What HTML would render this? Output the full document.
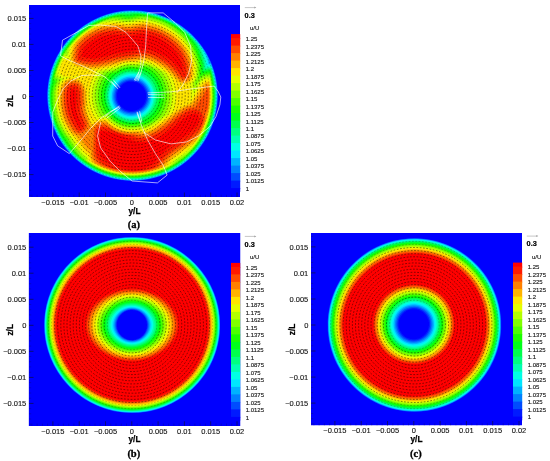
<!DOCTYPE html>
<html><head><meta charset="utf-8"><title>Figure</title>
<style>
html,body{margin:0;padding:0;background:#fff;width:550px;height:461px;overflow:hidden}
svg{display:block}
text{font-family:"Liberation Sans",sans-serif;fill:#141414;stroke:#141414;stroke-width:0.12px}
.tl text{font-size:7.5px}
.cl text{font-size:6px}
.ax{font-size:8.3px;font-weight:bold;fill:#000;stroke:#000;stroke-width:0.25px}
.cap{font-family:"Liberation Serif",serif;font-size:10.5px;font-weight:bold;fill:#000;stroke:#000;stroke-width:0.3px}
.lg{font-size:7.3px;font-weight:bold;fill:#000;stroke:#000;stroke-width:0.2px}
.uu{font-size:6px}
</style></head><body>
<svg width="550" height="461" viewBox="0 0 550 461"><defs><filter id="bl" x="-5%" y="-5%" width="110%" height="110%"><feGaussianBlur stdDeviation="0.60"/></filter></defs>
<clipPath id="ca"><rect x="29.0" y="5.0" width="211.0" height="192.0"/></clipPath>
<g clip-path="url(#ca)">
<rect x="29.0" y="5.0" width="211.0" height="192.0" fill="#0000ff"/>
<g filter="url(#bl)">
<path fill="#001aff" d="M140.5 180.6L134.5 181.0 125.5 180.8 124.0 180.5 121.0 180.3 120.0 180.0 118.0 179.8 117.0 179.5 115.5 179.4 107.5 177.3 107.0 177.0 106.0 176.9 100.5 174.8 100.0 174.5 97.0 173.3 92.0 170.9 84.5 166.3 78.5 161.8 75.0 158.8 72.1 156.0 69.2 153.0 66.2 149.5 61.7 143.5 57.2 136.0 54.7 131.0 54.0 129.0 53.6 128.5 51.2 122.0 49.1 114.5 47.7 106.0 47.1 99.5 47.2 90.0 48.2 81.5 48.5 80.5 49.2 76.5 50.2 72.5 50.5 72.0 50.6 71.0 52.1 66.5 52.5 66.0 52.7 65.0 56.3 57.0 60.2 50.0 65.2 43.0 67.6 40.0 71.8 35.5 77.5 30.2 84.0 25.3 90.5 21.2 98.5 17.2 103.5 15.2 106.0 14.5 106.5 14.2 114.0 12.2 115.5 12.0 116.0 11.7 118.0 11.5 119.0 11.2 121.5 11.0 122.5 10.7 129.5 10.2 137.0 10.2 146.0 11.2 147.0 11.5 149.0 11.7 149.5 12.0 151.0 12.2 155.0 13.1 157.0 13.7 157.5 14.0 158.5 14.2 159.0 14.5 160.0 14.7 160.5 15.0 161.5 15.2 162.0 15.5 164.0 16.2 170.5 19.1 177.0 22.6 181.0 25.3 185.0 28.2 188.0 30.6 192.5 34.8 197.8 40.5 202.8 47.0 206.3 52.5 208.7 57.0 210.5 61.0 210.9 61.5 213.4 68.0 214.4 71.0 214.5 72.0 214.8 72.5 215.8 76.5 217.3 85.0 217.9 92.0 217.8 101.5 216.8 109.5 214.8 118.5 213.3 123.5 211.8 127.5 208.3 135.0 204.3 142.0 201.9 145.5 198.8 149.5 195.8 153.0 192.9 156.0 190.0 158.8 186.5 161.8 180.5 166.3 173.0 170.9 168.0 173.3 165.0 174.5 164.5 174.8 159.0 176.9 158.0 177.0 157.5 177.3 152.0 178.8 150.5 179.0 150.0 179.3 148.0 179.5 147.0 179.8 145.0 180.0 144.0 180.3ZM134.5 110.5L137.0 109.8 139.0 108.8 141.5 106.9 142.8 105.5 143.9 104.0 145.3 101.0 145.8 99.0 146.0 96.0 145.8 93.5 145.3 91.5 143.8 88.5 141.8 86.0 139.5 84.1 136.5 82.6 133.0 81.8 130.5 81.7 128.0 82.1 126.0 82.8 123.5 84.1 121.2 86.0 119.2 88.5 117.7 91.5 117.2 93.5 117.0 96.5 117.3 99.5 118.3 102.5 119.8 105.0 122.0 107.3 124.0 108.8 126.0 109.8 129.5 110.7 132.5 110.9Z"/>
<path fill="#004cff" d="M139.0 180.5L129.5 180.7 122.0 180.1 113.5 178.6 106.0 176.6 99.5 174.1 92.0 170.5 87.0 167.6 84.0 165.6 78.0 161.1 72.5 156.0 67.0 150.0 63.8 146.0 61.4 142.5 57.5 135.9 53.9 128.5 51.4 121.5 49.3 114.0 48.4 109.0 47.8 105.0 47.3 98.0 47.5 90.5 48.4 82.0 49.4 77.0 50.4 73.0 51.9 68.0 53.4 64.0 56.8 56.5 60.9 49.5 65.9 42.5 68.4 39.5 71.5 36.2 76.5 31.4 83.5 25.9 86.5 23.9 91.5 20.9 95.5 18.9 100.0 16.9 107.0 14.3 114.5 12.3 119.5 11.4 124.0 10.8 132.5 10.4 141.0 10.8 148.5 11.9 156.5 13.9 165.0 16.9 171.5 19.9 178.5 23.9 185.5 28.9 188.5 31.4 191.8 34.5 197.0 40.0 202.1 46.5 205.1 51.0 207.1 54.5 210.6 61.5 213.6 69.5 215.6 77.0 216.6 82.0 217.2 86.5 217.6 91.5 217.7 96.0 217.6 100.0 217.2 105.0 216.1 112.0 214.1 120.0 211.1 128.5 208.0 135.0 203.6 142.5 201.2 146.0 198.0 150.0 192.5 156.0 187.0 161.1 182.5 164.6 179.5 166.6 172.0 171.1 168.0 173.0 163.0 175.1 155.5 177.6 151.5 178.6 146.5 179.6ZM133.3 112.0L136.5 111.3 139.4 110.0 142.0 108.1 144.0 106.0 145.6 103.5 146.7 100.5 147.3 97.5 147.2 94.5 146.6 91.5 145.2 88.5 143.5 86.0 141.4 84.0 139.0 82.4 136.0 81.2 133.0 80.6 129.5 80.6 126.5 81.3 123.8 82.5 121.5 84.1 119.1 86.5 117.5 89.0 116.3 92.0 115.8 95.0 115.8 98.0 116.4 101.0 117.7 104.0 119.4 106.5 121.5 108.5 124.0 110.2 127.0 111.4 130.0 112.0Z"/>
<path fill="#0080ff" d="M134.5 180.5L127.5 180.4 119.3 179.5 114.0 178.5 110.0 177.5 102.4 175.0 94.4 171.5 86.5 167.0 79.5 162.0 73.8 157.0 68.5 151.4 63.0 144.4 58.5 137.3 56.5 133.5 54.5 129.2 51.5 121.1 49.5 113.6 48.5 108.1 48.0 104.1 47.6 97.0 47.6 92.5 48.0 87.1 49.0 80.1 51.0 71.7 53.5 64.4 57.0 56.7 61.5 49.0 66.5 42.2 71.5 36.5 78.0 30.5 84.6 25.5 91.0 21.5 99.1 17.5 107.3 14.5 115.0 12.5 120.7 11.5 124.0 11.1 131.0 10.7 140.0 11.0 147.5 12.0 156.0 14.0 163.4 16.5 171.2 20.0 178.9 24.5 185.8 29.5 191.5 34.5 197.5 40.9 202.5 47.5 207.0 54.8 210.5 62.0 213.5 70.1 215.5 77.6 216.5 83.1 217.0 87.0 217.4 94.0 217.4 98.5 217.0 104.0 216.0 111.1 214.0 119.5 211.5 126.8 208.0 134.5 204.0 141.4 199.0 148.4 194.0 154.2 188.4 159.5 181.5 165.0 174.3 169.5 167.5 173.0 159.9 176.0 155.0 177.5 151.0 178.5 142.0 180.0ZM135.2 113.0L138.5 111.9 141.5 110.2 144.0 108.0 145.9 105.5 147.4 102.5 148.4 99.0 148.6 95.5 148.2 92.5 147.2 89.5 145.5 86.5 143.4 84.0 140.9 82.0 138.0 80.5 134.5 79.5 131.0 79.2 128.0 79.6 125.0 80.5 122.0 82.1 119.5 84.1 117.2 87.0 115.6 90.0 114.6 93.5 114.4 97.0 114.8 100.0 115.8 103.0 117.5 106.1 119.5 108.5 122.5 110.8 125.5 112.3 128.5 113.1 132.0 113.4Z"/>
<path fill="#00b2ff" d="M138.5 180.0L130.0 180.2 121.4 179.5 113.2 178.0 106.1 176.0 98.3 173.0 90.4 169.0 83.4 164.5 77.0 159.5 71.0 153.7 65.5 147.3 60.5 140.1 56.5 132.8 53.0 124.6 50.5 116.6 49.0 109.4 48.0 101.0 47.9 93.0 48.5 85.0 50.0 76.7 51.0 72.8 52.5 68.0 55.5 60.5 59.5 52.8 64.0 45.9 69.0 39.7 75.0 33.5 81.6 28.0 89.0 23.0 95.5 19.5 102.4 16.5 110.0 14.0 114.1 13.0 119.3 12.0 127.0 11.2 135.0 11.0 143.0 11.6 150.9 13.0 155.0 14.0 159.8 15.5 167.4 18.5 175.1 22.5 182.1 27.0 188.3 32.0 194.5 38.0 199.5 43.9 204.0 50.3 208.0 57.4 208.8 59.5 209.5 63.0 210.5 63.1 211.0 64.0 212.5 68.0 214.0 72.8 215.0 76.7 216.0 81.8 217.0 90.5 217.1 98.5 216.5 106.0 215.0 114.5 214.0 118.4 212.5 123.2 209.5 130.7 206.0 137.6 201.5 144.6 196.5 151.0 190.7 157.0 184.3 162.5 177.9 167.0 173.7 169.5 169.9 171.5 161.8 175.0 153.8 177.5 146.9 179.0ZM134.2 114.5L137.5 113.7 141.0 112.1 144.0 109.8 146.5 107.0 148.2 104.0 149.4 100.5 149.9 97.0 149.7 93.5 148.8 90.0 147.4 87.0 145.2 84.0 142.5 81.6 139.5 79.7 136.0 78.5 132.5 77.9 129.0 78.1 125.5 78.9 122.0 80.5 119.0 82.8 116.6 85.5 114.8 88.5 113.6 92.0 113.1 95.5 113.3 99.0 114.2 102.5 115.6 105.5 117.7 108.5 120.5 111.0 123.5 112.9 127.0 114.1 130.5 114.7Z"/>
<path fill="#00e6ff" d="M140.5 179.5L132.5 179.9 124.0 179.5 120.0 179.0 114.8 178.0 107.2 176.0 99.1 173.0 92.0 169.5 85.4 165.5 78.7 160.5 72.5 154.8 67.0 148.6 62.5 142.6 58.0 135.0 54.5 127.6 53.0 123.6 51.5 118.9 49.5 110.3 48.5 103.0 48.2 95.0 48.7 87.0 50.0 78.3 52.0 70.6 55.0 62.5 58.5 55.2 62.5 48.6 67.5 41.9 73.4 35.5 79.6 30.0 86.5 25.0 93.3 21.0 100.8 17.5 104.8 16.0 109.5 14.5 118.0 12.6 125.0 11.7 133.0 11.3 141.0 11.7 149.3 13.0 157.2 15.0 165.4 18.0 172.7 21.5 180.0 26.0 186.6 31.0 192.5 36.4 197.5 41.9 202.0 47.9 206.0 54.4 207.5 58.5 208.5 64.0 209.0 64.3 210.5 64.3 211.0 64.9 213.0 70.6 215.0 78.5 216.0 84.0 216.5 88.5 216.8 96.5 216.3 104.5 215.0 112.9 213.0 120.6 210.0 128.7 206.5 136.0 202.0 143.3 197.0 149.9 191.3 156.0 185.1 161.5 178.9 166.0 172.1 170.0 164.7 173.5 160.8 175.0 156.2 176.5 147.7 178.5ZM135.9 115.5L139.5 114.3 142.7 112.5 145.7 110.0 148.0 107.0 149.8 103.5 150.8 100.0 151.2 96.0 150.7 92.0 149.6 88.5 147.6 85.0 145.0 82.0 142.0 79.6 138.5 77.9 135.0 76.9 131.0 76.6 127.0 77.1 123.5 78.3 120.0 80.3 117.0 83.0 114.7 86.0 113.0 89.5 112.0 93.5 111.8 97.5 112.4 101.0 113.6 104.5 115.5 107.8 118.0 110.6 121.1 113.0 124.5 114.7 128.0 115.7 132.0 116.0Z"/>
<path fill="#00ffe5" d="M133.0 179.5L124.5 179.1 116.7 178.0 108.5 176.0 101.3 173.5 93.7 170.0 86.1 165.5 79.9 161.0 73.5 155.3 68.0 149.3 63.0 142.6 58.5 135.1 55.0 127.8 53.5 123.9 52.0 119.3 50.2 112.0 49.0 103.8 48.6 96.0 49.0 87.5 50.1 80.0 52.0 71.9 55.0 63.4 58.5 56.1 62.5 49.3 67.5 42.5 72.9 36.5 79.0 31.0 85.6 26.0 93.1 21.5 100.6 18.0 107.5 15.5 115.2 13.5 124.0 12.1 132.0 11.7 140.0 12.0 148.5 13.2 156.0 15.1 164.4 18.0 171.9 21.5 178.6 25.5 185.4 30.5 191.5 35.9 195.0 39.6 198.0 43.2 201.0 47.1 203.6 51.0 204.3 52.5 206.2 58.0 207.1 62.5 207.5 65.0 208.0 65.5 210.5 65.5 211.0 66.0 213.5 73.7 215.0 80.3 216.0 87.4 216.4 95.0 216.0 103.5 215.0 110.9 213.0 119.3 210.5 126.5 207.0 134.2 203.0 141.1 198.0 148.0 192.3 154.5 186.3 160.0 179.7 165.0 172.2 169.5 164.9 173.0 156.5 176.0 148.5 178.0 141.0 179.1ZM135.0 117.0L139.0 115.9 142.5 114.2 146.0 111.5 148.6 108.5 150.6 105.0 152.0 101.0 152.5 97.0 152.2 93.0 151.2 89.0 149.2 85.0 146.5 81.6 143.5 79.1 140.0 77.1 136.0 75.8 132.0 75.3 128.0 75.6 124.0 76.7 120.5 78.4 117.1 81.0 114.5 84.0 112.4 87.5 111.1 91.5 110.5 95.5 110.6 98.0 110.8 100.0 112.0 104.0 113.7 107.5 116.5 111.0 119.5 113.5 123.0 115.5 127.0 116.8 131.0 117.3Z"/>
<path fill="#00ffb2" d="M136.0 179.0L127.5 178.9 119.1 178.0 111.9 176.5 103.8 174.0 96.7 171.0 89.2 167.0 82.6 162.5 75.9 157.0 70.0 151.0 65.0 144.7 60.5 137.9 56.5 130.1 53.5 122.6 51.4 115.5 49.9 107.5 49.1 99.0 49.1 91.0 50.0 82.8 51.5 75.4 54.0 67.2 57.0 60.0 61.0 52.5 65.5 45.8 71.0 39.1 77.0 33.2 83.5 28.0 90.4 23.5 97.1 20.0 104.4 17.0 112.7 14.5 120.5 13.0 129.0 12.2 137.0 12.2 144.6 13.0 152.3 14.5 160.6 17.0 167.9 20.0 175.4 24.0 182.2 28.5 188.8 34.0 192.5 37.6 196.0 41.4 199.5 45.8 202.0 49.5 205.2 59.0 206.2 63.5 206.5 66.6 210.5 66.7 211.0 67.2 213.0 73.5 214.5 79.9 215.5 86.5 215.9 92.0 215.9 100.0 215.0 108.4 213.5 115.8 211.0 124.0 208.0 131.2 204.0 138.7 199.5 145.4 194.0 152.1 188.0 158.0 181.8 163.0 174.9 167.5 167.3 171.5 159.8 174.5 151.5 176.9 143.5 178.4ZM133.6 118.5L138.0 117.6 142.0 116.0 145.5 113.7 148.7 110.5 151.1 107.0 152.8 103.0 153.6 99.0 153.7 94.5 152.9 90.0 151.3 86.0 149.0 82.5 146.0 79.4 142.5 76.9 138.5 75.1 134.0 74.1 129.5 74.1 125.0 75.0 121.0 76.6 117.5 78.9 114.4 82.0 112.0 85.5 110.3 89.5 109.3 94.0 109.3 98.5 110.2 103.0 111.9 107.0 114.3 110.5 117.3 113.5 121.0 116.0 125.0 117.6 129.5 118.5Z"/>
<path fill="#00ff80" d="M137.0 178.5L129.0 178.6 121.0 177.8 113.5 176.4 105.2 174.0 97.7 171.0 91.0 167.5 84.0 163.0 77.7 158.0 72.0 152.5 66.5 146.0 62.0 139.5 58.0 132.3 55.0 125.4 52.5 117.8 50.6 109.5 49.7 101.5 49.5 93.5 50.0 86.0 51.5 77.5 53.5 70.0 56.5 62.2 60.0 55.1 64.5 48.0 69.5 41.5 75.0 35.7 81.0 30.5 88.0 25.5 95.0 21.5 103.0 18.0 110.0 15.7 117.2 14.0 125.5 12.9 133.5 12.6 141.5 13.1 150.0 14.4 157.7 16.5 165.7 19.5 172.8 23.0 180.0 27.5 186.5 32.5 190.0 35.7 193.5 39.3 197.0 43.3 199.0 46.0 201.4 51.0 204.0 58.9 205.0 64.0 205.3 68.0 205.5 68.2 208.0 67.9 210.5 67.9 211.0 68.6 212.5 73.5 214.0 79.5 214.8 85.0 215.3 90.0 215.5 98.0 214.8 106.5 213.3 114.5 211.0 122.6 208.0 130.1 204.0 137.8 199.5 144.6 194.5 150.8 188.9 156.5 182.3 162.0 175.7 166.5 168.3 170.5 161.2 173.5 153.2 176.0 145.5 177.6ZM135.8 119.5L138.0 119.0 140.5 118.1 144.5 116.0 148.2 113.0 151.1 109.5 153.2 105.5 154.6 101.0 155.1 96.5 155.0 94.0 154.6 91.5 153.2 87.0 151.4 83.5 148.6 80.0 145.0 76.9 141.0 74.7 136.5 73.2 132.0 72.7 129.5 72.8 127.0 73.1 122.5 74.5 118.5 76.6 114.9 79.5 112.0 83.0 109.8 87.0 108.4 91.5 107.9 96.0 108.3 100.5 109.6 105.0 111.6 109.0 114.5 112.7 118.0 115.7 122.0 117.9 126.5 119.4 131.0 119.9 133.5 119.8Z"/>
<path fill="#00ff4c" d="M137.0 178.0L129.0 178.1 121.0 177.3 113.5 175.9 105.2 173.5 97.8 170.5 91.0 167.0 84.2 162.5 78.0 157.6 72.2 152.0 67.0 145.8 62.5 139.3 58.5 132.2 55.5 125.3 53.0 117.8 51.2 110.0 50.2 102.0 50.0 94.0 50.5 86.0 52.0 77.5 54.0 70.1 56.5 63.4 60.1 56.0 64.0 49.5 69.0 42.9 74.5 36.9 80.5 31.5 87.4 26.5 94.0 22.6 101.5 19.1 108.9 16.5 117.0 14.5 124.0 13.6 126.5 13.9 128.5 13.9 133.0 13.1 140.0 13.4 148.0 14.5 156.1 16.5 164.5 19.5 171.8 23.0 178.5 27.1 185.1 32.0 189.0 35.4 192.6 39.0 196.0 43.0 196.9 44.5 200.1 51.0 202.8 59.0 203.9 64.5 204.1 69.5 204.5 69.7 206.5 69.3 209.0 69.2 210.5 69.2 210.7 69.5 212.0 73.4 213.4 79.0 214.2 84.0 214.8 89.0 215.0 97.0 214.5 105.1 213.1 113.5 211.0 121.1 208.0 129.0 204.5 136.0 200.0 143.1 194.6 150.0 188.8 156.0 182.2 161.5 175.6 166.0 168.2 170.0 161.2 173.0 153.2 175.5 145.5 177.1ZM134.6 121.0L137.0 120.6 139.5 119.9 142.0 118.9 144.0 117.8 147.9 115.0 151.3 111.5 154.2 107.0 156.0 102.5 156.6 100.0 156.9 97.5 157.0 95.0 156.8 92.5 156.3 90.0 155.6 87.5 154.6 85.0 153.5 83.0 152.2 81.0 150.5 79.0 147.0 75.9 143.1 73.5 139.0 72.0 137.0 72.0 132.5 71.4 128.5 71.6 124.0 72.6 121.5 73.5 119.5 74.5 115.5 77.2 113.6 79.0 111.9 81.0 109.3 85.0 108.2 87.5 107.5 89.7 107.0 92.0 106.7 94.5 106.6 97.0 106.8 99.5 107.8 104.0 108.8 106.5 109.8 108.5 112.6 112.5 114.5 114.5 116.3 116.0 118.4 117.5 120.5 118.6 125.0 120.3 127.5 120.9 130.0 121.2Z"/>
<path fill="#00ff1a" d="M137.0 177.5L129.0 177.6 121.5 176.9 113.9 175.5 106.5 173.4 99.0 170.5 92.1 167.0 85.5 162.8 79.3 158.0 73.5 152.6 68.5 146.9 65.9 143.5 63.9 140.0 62.0 137.5 60.0 134.0 56.5 126.5 54.0 119.4 52.0 111.5 50.9 104.0 50.5 96.5 50.8 88.5 51.0 86.3 52.2 82.5 51.8 81.5 51.9 80.5 53.5 73.5 56.0 66.0 59.1 59.0 63.0 52.0 67.5 45.5 72.7 39.5 78.3 34.0 84.5 29.1 90.7 25.0 97.5 21.4 105.0 18.3 112.7 16.0 120.5 14.5 126.5 15.2 128.5 15.2 135.5 13.9 138.5 13.8 146.0 14.7 153.5 16.3 161.5 18.9 168.7 22.0 175.9 26.0 183.0 31.0 188.3 35.5 192.1 39.5 195.4 44.5 198.5 50.5 199.3 52.5 201.9 60.5 202.7 65.0 202.8 71.0 203.0 71.4 206.5 70.6 210.5 70.5 211.5 73.5 212.6 78.0 213.5 82.5 214.1 87.0 214.5 95.0 214.1 103.5 213.0 111.5 211.0 119.5 208.0 127.7 204.5 134.9 200.0 142.2 195.0 148.7 189.5 154.6 183.3 160.0 176.2 165.0 169.1 169.0 161.1 172.5 153.1 175.0 145.5 176.6ZM136.6 122.0L141.5 120.8 144.0 119.7 146.5 118.4 149.0 116.6 150.9 115.0 152.8 113.0 154.3 111.0 155.9 108.5 157.1 106.0 158.0 103.5 158.7 101.0 159.2 96.0 159.1 93.0 158.7 90.5 158.1 88.0 157.2 85.5 156.1 83.0 154.5 80.4 153.0 78.5 151.0 76.3 148.9 74.5 146.5 72.8 143.5 71.2 141.0 70.3 140.0 70.3 137.5 70.7 134.0 70.2 131.0 70.1 126.5 70.6 121.7 72.0 119.5 73.0 117.0 74.5 115.5 75.0 112.5 77.9 110.1 81.0 108.3 84.0 107.4 86.0 106.5 88.5 105.8 91.0 105.5 93.5 105.3 96.0 105.4 99.0 105.8 101.5 106.5 104.0 107.4 106.5 108.5 108.8 109.8 111.0 113.0 114.9 115.0 116.7 117.0 118.1 119.0 119.3 121.5 120.5 124.0 121.4 126.5 122.0 129.0 122.4 131.5 122.5 134.0 122.4Z"/>
<path fill="#1aff00" d="M136.0 177.0L127.5 176.9 119.2 176.0 111.5 174.3 103.5 171.8 96.1 168.5 89.0 164.5 82.0 159.6 75.7 154.0 71.9 150.0 68.5 145.3 67.0 143.0 65.2 139.5 63.2 137.0 59.6 131.5 58.0 128.6 57.0 126.3 54.4 119.0 52.5 111.0 51.3 102.5 51.0 94.5 51.3 91.0 51.9 87.5 53.0 84.0 53.8 82.0 53.7 81.5 52.5 80.0 53.0 77.7 54.1 73.5 55.5 69.0 58.5 61.5 62.5 53.9 67.0 47.1 72.0 41.0 78.0 35.0 84.8 29.5 91.8 25.0 95.5 23.0 99.7 21.0 107.5 18.0 112.5 16.6 117.5 15.5 124.0 16.1 126.0 16.4 128.5 16.5 135.5 15.2 140.5 14.5 147.5 15.5 154.0 17.0 160.3 19.0 166.4 21.5 172.5 24.6 178.7 28.5 184.0 32.5 187.5 36.0 191.0 40.1 194.0 44.5 197.9 52.5 200.4 60.0 201.3 64.0 201.5 66.5 201.5 73.0 202.0 73.3 204.5 72.4 207.0 72.0 210.0 71.8 210.5 72.0 212.2 78.5 213.3 85.0 213.9 91.5 214.0 98.0 213.4 105.5 212.0 113.5 210.0 120.8 207.5 127.5 204.0 134.7 200.2 141.0 195.5 147.3 190.5 152.8 184.9 158.0 179.0 162.5 172.7 166.5 165.7 170.0 158.0 173.0 151.0 175.0 143.5 176.3ZM135.5 123.5L139.5 122.6 142.0 122.9 143.0 122.7 145.5 121.6 148.0 120.2 152.1 117.0 155.4 113.5 158.0 109.5 160.0 105.0 161.2 100.0 161.5 95.0 161.1 90.5 159.9 86.0 157.9 81.5 155.2 77.5 151.9 74.0 148.0 71.0 143.5 68.7 139.5 69.1 137.5 69.4 134.5 69.0 132.0 68.8 129.0 68.9 126.5 69.3 122.0 70.5 119.0 71.8 116.5 73.2 112.6 74.5 109.4 78.0 108.0 80.0 106.6 82.5 104.8 87.0 103.8 91.5 103.5 95.0 103.6 98.5 104.2 102.0 105.0 105.0 106.5 108.5 108.2 111.5 112.0 115.7 114.5 117.9 117.0 119.7 120.0 121.3 123.0 122.5 126.0 123.2 129.0 123.7 132.5 123.8Z"/>
<path fill="#4cff00" d="M134.5 176.5L126.5 176.3 118.5 175.3 110.6 173.5 103.1 171.0 96.0 167.8 89.0 163.8 82.5 159.2 76.5 154.0 75.3 152.5 68.5 142.6 66.6 139.0 64.5 136.5 60.8 131.0 58.0 126.0 55.6 120.5 53.6 113.0 52.5 106.6 52.3 104.0 52.3 93.0 52.6 91.0 53.4 87.0 54.4 84.0 55.5 81.5 55.5 81.0 53.5 78.7 53.6 77.5 56.1 69.0 57.6 65.0 59.5 60.7 63.5 53.3 66.0 49.5 68.6 46.0 74.2 39.5 80.6 33.5 87.3 28.5 94.8 24.0 102.5 20.4 106.5 19.0 111.0 17.6 113.5 16.9 117.5 16.8 124.0 17.4 126.0 17.8 129.0 17.8 135.5 16.5 139.5 15.9 144.5 15.8 149.5 16.5 157.0 18.5 163.5 20.8 169.2 23.5 174.3 26.5 179.5 30.4 183.5 33.8 186.2 36.5 187.7 38.5 189.6 40.5 193.0 45.5 196.1 51.5 199.0 60.0 200.2 66.0 200.2 75.5 200.5 75.7 203.5 74.2 207.0 73.4 210.0 73.3 210.5 74.0 212.0 80.5 213.0 87.3 213.4 94.0 213.3 100.5 212.5 108.0 211.0 115.3 209.0 122.0 206.0 129.5 202.5 136.2 198.5 142.5 193.7 148.5 188.5 154.0 182.8 159.0 176.5 163.5 170.5 167.1 163.5 170.4 156.5 172.9 149.5 174.7 142.0 176.0ZM133.9 125.0L136.5 124.7 139.5 124.0 143.0 124.3 145.0 123.9 146.5 123.4 149.4 122.0 152.0 120.3 154.1 118.5 156.0 116.5 157.6 114.5 159.3 112.0 160.7 109.5 161.8 107.0 163.3 102.0 163.9 97.0 163.7 91.5 162.6 86.5 161.7 84.0 160.5 81.3 159.2 79.0 157.5 76.5 154.0 72.6 152.0 70.9 149.5 69.1 146.6 67.5 145.5 67.2 143.5 67.2 137.5 68.1 132.0 67.5 129.0 67.6 126.5 67.9 122.0 69.1 119.0 70.4 116.0 72.0 110.0 73.8 109.0 74.7 107.1 77.0 104.6 81.0 102.9 85.0 101.6 89.5 101.2 92.5 101.0 95.5 101.2 98.5 101.6 101.5 102.3 104.5 103.4 107.5 104.8 110.5 106.3 113.0 107.0 113.4 108.5 113.6 111.0 116.5 113.8 119.0 116.7 121.0 120.0 122.7 123.5 124.0 127.0 124.7 130.5 125.1Z"/>
<path fill="#80ff00" d="M140.5 175.5L133.0 175.9 125.5 175.6 118.0 174.6 111.0 173.0 104.5 170.9 97.7 168.0 91.2 164.5 85.1 160.5 84.0 159.2 81.1 157.0 78.5 154.2 70.0 142.0 68.1 138.5 65.8 136.0 62.0 130.3 58.8 124.5 56.7 119.5 55.1 113.5 54.5 110.5 53.7 104.5 53.7 92.5 55.0 86.5 56.0 83.7 57.5 80.5 55.1 78.0 54.5 77.0 54.5 76.5 56.0 71.0 58.0 65.5 60.5 60.0 63.5 54.4 65.0 52.0 65.7 51.5 66.0 50.5 67.5 48.4 72.5 42.2 77.5 37.0 83.4 32.0 89.5 27.7 96.1 24.0 102.7 21.0 110.0 18.5 112.5 18.2 118.0 18.2 126.0 19.2 129.0 19.2 135.5 17.9 140.0 17.3 145.5 17.3 150.5 18.1 157.0 19.7 161.0 21.1 164.5 22.5 167.0 23.7 173.0 27.3 178.0 31.0 181.7 34.0 185.2 37.5 186.8 39.5 189.0 42.0 191.5 45.7 195.0 52.5 197.8 60.5 198.7 65.5 198.8 75.5 198.0 79.7 201.0 77.2 203.5 75.8 206.5 75.0 210.0 74.7 211.4 80.5 212.5 88.5 212.8 97.0 212.2 105.5 210.8 113.5 208.5 121.5 205.5 129.1 201.5 136.8 197.0 143.5 192.0 149.6 186.0 155.5 183.0 158.0 179.0 160.7 176.2 163.0 172.1 165.5 165.0 169.1 157.0 172.1 149.0 174.2ZM136.4 126.0L139.5 125.3 143.0 125.7 145.5 125.2 147.0 124.7 151.5 122.5 158.1 118.0 161.0 114.2 163.3 110.0 165.0 105.5 166.1 101.0 166.4 98.0 166.5 95.0 166.0 89.5 164.5 84.0 163.4 81.5 162.0 78.7 160.3 76.0 158.5 73.7 156.5 71.5 154.3 69.5 149.0 66.8 146.0 65.9 143.5 65.8 137.5 66.7 131.5 66.2 128.5 66.3 126.0 66.7 123.0 67.4 120.5 68.3 115.5 70.8 107.1 73.0 104.0 77.0 101.8 81.0 100.0 85.5 98.9 90.5 98.6 93.5 98.5 96.5 98.7 99.5 99.2 102.5 100.0 105.5 101.0 108.5 102.4 111.5 103.9 114.0 104.5 114.3 107.9 115.0 111.0 118.3 114.0 120.8 117.5 122.9 121.0 124.5 124.5 125.6 128.5 126.3 132.5 126.4Z"/>
<path fill="#b3ff00" d="M139.5 175.0L132.5 175.3 125.5 175.0 118.5 174.1 112.0 172.6 105.2 170.5 99.0 167.9 92.5 164.6 86.9 161.0 86.3 160.5 85.3 158.0 82.5 156.0 79.7 153.0 72.3 142.5 71.0 140.5 70.0 138.5 67.0 135.2 63.5 130.0 60.7 125.0 58.2 119.5 56.4 113.0 55.1 105.0 55.2 92.5 56.0 88.0 57.0 85.0 58.4 82.0 59.8 80.0 56.8 77.0 55.6 75.0 56.3 72.0 58.3 66.5 60.2 62.0 62.5 57.4 64.5 54.0 66.6 53.5 66.8 53.0 67.6 49.5 68.2 48.5 70.9 45.0 75.8 39.5 81.3 34.5 87.2 30.0 93.6 26.0 100.7 22.5 104.5 20.9 107.0 20.2 109.5 20.1 112.5 19.6 117.5 19.6 121.0 20.1 123.5 20.2 125.5 20.6 129.5 20.6 135.5 19.3 140.0 18.7 144.5 18.6 149.5 19.3 156.5 21.1 163.5 23.6 167.0 25.4 172.5 28.7 177.5 32.4 181.2 35.5 183.7 38.0 187.6 42.5 190.3 46.5 193.7 53.0 196.4 61.0 197.4 66.5 197.4 74.5 197.2 76.5 196.5 79.2 194.6 83.0 195.4 86.5 195.5 86.6 196.9 84.0 199.1 81.0 201.2 79.0 203.5 77.6 206.5 76.6 209.5 76.3 210.0 76.9 210.5 79.1 211.8 87.5 212.2 96.0 211.7 104.5 210.4 112.5 209.4 116.5 208.1 121.0 205.0 128.8 201.0 136.4 196.5 143.1 192.2 148.5 188.0 152.8 186.5 154.0 178.3 159.5 176.0 161.2 173.2 164.0 171.5 165.1 168.0 167.0 163.6 169.0 156.0 171.8 148.0 173.8ZM135.0 127.5L139.5 126.7 141.5 127.1 143.5 127.1 146.0 126.6 147.5 126.1 152.0 123.8 161.2 117.5 163.4 115.5 165.6 111.5 167.5 107.0 168.7 102.0 169.1 98.5 169.3 95.5 169.1 92.5 168.7 89.0 167.8 85.5 166.8 82.5 165.5 79.5 163.9 76.5 160.5 71.8 159.8 71.0 158.5 70.1 157.0 69.2 149.5 65.4 146.0 64.4 143.0 64.4 137.0 65.3 131.5 64.9 128.5 65.0 126.0 65.4 123.0 66.1 120.5 66.9 115.5 69.3 111.0 70.5 104.5 72.1 103.9 72.5 102.0 75.1 99.2 80.0 97.5 84.5 96.2 89.5 95.8 93.0 95.7 96.5 95.9 99.5 96.5 103.0 97.4 106.5 98.5 109.5 100.0 112.8 101.6 115.5 107.0 116.2 110.5 119.6 113.5 122.0 117.0 124.2 121.0 125.9 124.5 126.9 128.0 127.5 131.5 127.7Z"/>
<path fill="#e5ff00" d="M138.0 174.5L131.5 174.7 125.0 174.3 118.5 173.4 112.0 172.0 105.6 170.0 99.5 167.5 93.7 164.5 88.0 161.0 86.8 157.0 86.5 156.6 84.0 154.9 81.2 152.0 73.9 141.5 71.8 138.0 68.4 134.5 64.7 129.0 62.0 124.3 59.6 119.0 58.0 113.0 57.3 109.5 56.6 104.5 56.6 94.0 56.8 92.0 57.6 88.0 58.8 84.5 60.5 81.5 62.8 79.0 60.5 77.6 58.5 75.6 57.6 74.0 57.2 72.0 57.5 70.5 58.5 67.7 61.5 60.7 63.5 56.9 65.5 55.9 68.0 55.7 68.9 50.5 69.8 47.5 73.5 42.9 78.5 37.8 84.2 33.0 90.0 28.9 96.8 25.0 102.5 22.5 107.0 21.7 109.5 21.6 113.0 21.1 118.0 21.1 121.0 21.6 123.5 21.7 125.5 22.1 129.5 22.1 136.0 20.8 140.0 20.2 144.0 20.1 149.0 20.8 156.0 22.5 162.9 25.0 166.0 26.5 171.8 30.0 176.5 33.5 180.1 36.5 182.6 39.0 184.5 41.4 186.5 43.5 189.0 47.2 192.5 54.0 195.0 61.5 195.9 66.5 195.9 75.0 195.6 77.0 195.2 78.5 194.2 80.5 192.3 83.5 193.0 88.0 193.5 93.1 199.3 83.5 200.4 82.0 202.0 80.5 204.4 79.0 207.0 78.2 209.5 78.0 209.8 79.0 211.2 87.5 211.6 96.0 211.1 104.5 209.7 113.0 207.4 121.0 204.2 129.0 200.2 136.5 195.5 143.4 191.0 148.8 185.5 152.9 175.5 159.7 171.0 164.1 170.4 165.0 169.5 165.5 162.0 169.0 154.5 171.6 146.2 173.5ZM144.0 128.5L146.0 128.2 148.0 127.5 153.0 125.0 160.0 120.3 167.4 114.5 168.1 113.5 169.4 110.5 171.0 106.0 171.9 101.5 172.3 97.0 172.2 92.0 171.4 87.0 170.1 82.5 168.2 78.0 166.0 74.0 163.5 71.7 158.0 68.0 150.0 64.0 146.0 62.9 143.0 62.9 136.0 63.9 130.5 63.6 125.5 64.2 120.5 65.5 115.5 67.7 108.5 69.6 102.5 70.8 100.8 71.5 97.5 76.5 95.1 82.0 94.1 85.0 93.4 88.0 92.7 94.0 92.9 100.0 94.0 106.0 95.0 109.0 96.2 112.0 98.9 117.0 99.5 117.2 103.5 117.2 106.5 117.7 110.7 121.5 114.5 124.2 119.0 126.5 123.5 128.0 127.0 128.7 130.5 129.0 134.5 128.9 139.0 128.2 141.5 128.6Z"/>
<path fill="#ffe500" d="M135.0 174.0L129.0 174.0 123.0 173.5 117.0 172.5 111.5 171.2 106.0 169.4 100.0 167.0 94.5 164.2 90.1 161.5 88.7 158.0 88.0 155.2 85.5 153.5 83.0 151.0 75.6 140.5 73.8 137.5 71.5 135.5 69.6 133.5 65.9 128.0 63.4 123.5 61.1 118.5 59.5 112.5 58.2 105.0 58.2 93.5 59.1 88.5 59.9 86.0 60.9 84.0 62.0 82.2 63.5 80.5 65.0 79.4 67.0 78.4 69.4 77.5 69.5 77.3 70.0 77.0 71.5 77.2 75.0 77.2 77.0 77.5 77.5 77.2 78.1 75.5 74.5 76.4 72.0 76.5 70.0 77.0 68.0 76.5 64.5 76.4 62.0 75.2 60.4 73.5 60.0 72.0 60.1 69.5 60.4 68.5 60.6 67.0 61.9 63.0 63.5 60.4 64.5 59.4 66.5 58.6 69.5 58.5 69.7 58.0 69.8 54.0 70.5 50.5 71.5 47.1 72.6 45.0 77.5 39.7 83.3 34.5 89.5 30.0 96.4 26.0 101.0 24.4 107.0 23.3 110.0 23.2 112.5 22.7 118.0 22.7 120.5 23.2 123.5 23.3 125.0 23.7 129.5 23.7 136.5 22.3 138.5 22.2 141.0 21.7 144.5 21.8 146.5 22.2 148.5 22.3 156.0 24.2 162.0 26.3 165.0 27.8 171.2 31.5 175.5 34.8 177.4 36.5 178.8 37.5 181.8 40.5 183.0 42.1 185.0 44.2 188.0 48.6 191.2 55.0 193.5 62.0 194.1 65.0 194.3 67.0 194.3 74.5 194.0 77.0 193.4 78.5 192.1 81.0 189.3 84.0 190.0 87.9 190.4 91.5 190.5 96.0 190.3 100.5 190.5 100.7 191.5 99.4 195.5 93.5 199.8 86.0 202.0 83.0 204.0 81.3 206.0 80.3 207.5 79.9 209.0 79.8 209.5 80.6 210.7 89.0 210.9 97.5 210.3 106.0 208.8 114.0 206.4 122.0 203.0 130.0 199.0 137.2 196.5 141.0 194.0 144.3 192.5 145.7 188.2 149.0 174.4 158.5 169.9 163.0 168.0 165.4 167.1 166.0 159.5 169.3 151.5 171.7 143.5 173.3ZM144.6 130.0L146.5 129.7 148.5 129.0 154.0 126.3 163.1 120.0 168.1 116.0 170.5 113.7 172.5 112.1 173.4 111.0 174.8 106.5 175.7 102.0 176.2 97.5 176.1 93.0 175.6 88.5 174.6 84.0 172.9 79.0 171.5 76.9 168.0 73.4 166.2 72.0 164.6 70.5 159.0 66.7 150.6 62.5 146.5 61.3 142.5 61.3 140.5 61.7 138.5 61.8 135.5 62.5 130.5 62.3 125.5 62.8 121.5 63.8 116.0 66.0 110.5 67.5 96.7 70.5 94.8 73.5 93.2 76.5 90.8 82.5 89.9 86.0 89.3 89.0 88.8 95.0 89.2 101.5 89.8 105.0 90.6 108.0 92.9 114.0 95.9 119.5 96.5 119.6 98.5 118.9 100.5 118.7 103.5 118.8 106.5 119.3 110.5 123.0 114.5 125.7 119.5 128.1 124.5 129.6 127.5 130.1 131.0 130.3 134.5 130.2 138.0 129.7 141.5 130.2 144.0 130.2Z"/>
<path fill="#ffb300" d="M185.0 83.5L183.0 83.6 181.5 83.3 180.0 82.8 178.7 82.0 174.1 77.5 172.6 75.5 169.0 71.9 167.5 70.9 165.5 69.0 159.5 65.0 151.5 61.0 148.5 60.0 146.5 59.6 142.5 59.6 140.5 60.0 138.5 60.1 134.0 61.0 129.5 61.1 125.0 61.6 122.0 62.3 117.5 63.8 112.5 65.0 110.0 65.8 97.5 68.5 88.5 68.5 85.0 68.0 80.0 66.7 77.0 66.2 75.0 65.2 73.6 64.0 72.5 62.5 71.7 60.5 71.4 59.0 71.5 54.5 72.8 48.5 74.2 45.0 75.7 42.5 79.7 38.5 84.4 34.5 88.5 31.5 90.0 30.7 95.5 28.0 101.0 26.2 107.5 25.0 110.0 24.9 113.0 24.4 118.0 24.4 120.5 24.9 123.0 25.0 125.0 25.4 130.0 25.4 136.5 24.0 141.5 23.4 144.0 23.4 146.5 23.9 148.5 24.0 155.5 25.8 161.5 28.0 164.5 29.5 170.0 32.8 174.5 36.1 176.0 37.6 177.9 39.0 180.5 41.6 181.9 43.5 184.0 45.7 186.8 50.0 189.5 55.5 191.8 62.5 192.6 66.5 192.6 75.0 192.0 77.6 191.0 79.6 190.0 80.9 188.8 82.0 187.5 82.8ZM140.0 173.0L133.5 173.4 127.5 173.2 121.0 172.5 115.0 171.4 109.0 169.7 102.9 167.5 96.5 164.5 92.2 162.0 91.0 159.5 90.3 157.5 89.4 153.5 87.0 151.7 84.8 149.5 83.0 147.1 78.5 140.2 77.5 139.1 76.0 136.5 73.5 135.0 70.6 132.0 67.3 127.0 65.0 123.0 62.4 117.0 61.1 112.0 60.0 105.0 59.9 93.5 60.6 89.5 61.6 86.5 63.1 83.5 65.0 81.5 68.0 79.8 70.0 79.1 72.0 78.9 76.0 79.0 78.0 79.6 80.0 80.6 82.0 82.4 83.2 84.0 85.0 87.7 86.0 91.6 86.1 99.0 86.5 100.5 86.6 102.0 86.5 104.5 86.1 107.0 86.6 110.0 87.3 112.5 90.9 123.0 91.5 123.7 92.5 124.2 93.0 124.1 95.4 122.0 98.5 120.7 100.5 120.4 104.0 120.5 106.0 120.9 106.5 121.2 110.3 124.5 114.5 127.2 117.5 128.7 121.0 130.0 124.5 130.9 128.0 131.4 132.5 131.6 137.5 131.2 141.0 131.9 144.0 131.9 147.5 131.2 149.5 130.5 154.5 128.0 164.0 121.5 169.5 117.1 171.6 115.0 174.5 112.6 180.5 108.3 182.5 107.0 186.0 105.2 188.5 104.3 190.5 103.8 193.0 100.8 197.0 94.8 200.2 89.5 201.2 87.5 203.0 84.9 204.5 83.4 205.9 82.5 207.5 82.0 209.0 81.8 210.0 89.0 210.3 97.0 209.7 105.0 208.4 112.5 206.3 120.0 203.5 127.3 200.0 134.2 196.0 140.5 193.5 142.9 187.3 147.5 175.5 155.5 173.0 157.4 168.4 162.0 167.0 163.9 164.4 166.5 158.5 168.9 152.5 170.8 146.5 172.1Z"/>
<path fill="#ff8000" d="M185.5 81.6L184.0 81.7 182.5 81.7 181.0 81.2 179.8 80.5 175.5 76.3 174.2 74.5 170.0 70.3 168.5 69.3 167.0 67.8 160.5 63.5 152.0 59.2 147.0 57.7 142.0 57.7 140.5 58.2 138.0 58.2 131.5 59.6 125.0 60.3 116.0 62.2 107.5 64.6 106.0 64.7 103.0 65.6 97.0 66.7 89.0 66.7 87.0 66.2 85.0 66.1 80.0 64.7 77.8 64.5 76.5 64.0 75.0 62.8 74.0 61.5 73.4 60.0 73.3 58.5 73.3 55.0 74.5 49.3 75.8 46.0 77.3 43.0 82.5 37.7 85.0 35.8 89.5 33.0 96.0 29.8 101.5 27.9 104.5 27.3 106.0 27.3 107.5 26.8 110.5 26.8 113.0 26.3 118.0 26.3 120.0 26.8 123.0 26.8 124.5 27.3 130.5 27.3 137.0 25.8 139.0 25.8 141.5 25.3 144.0 25.3 146.0 25.8 148.0 25.8 154.7 27.5 161.0 29.8 163.5 31.0 169.0 34.3 173.2 37.5 175.0 39.2 176.8 40.5 179.0 42.7 180.3 44.5 182.5 46.8 185.0 50.5 187.9 56.5 190.1 63.0 190.7 67.0 190.7 74.5 190.4 76.5 189.5 78.5 188.5 79.8 187.0 81.0ZM137.5 172.5L131.5 172.7 126.0 172.4 120.5 171.7 115.0 170.7 109.0 169.0 103.5 167.0 97.0 164.0 95.2 163.0 94.7 162.5 92.8 159.0 92.1 157.0 91.3 153.5 91.3 151.0 91.0 150.3 90.0 149.5 89.0 149.0 87.5 147.5 87.0 146.5 86.0 145.5 82.5 140.0 82.0 139.5 81.5 138.5 80.5 137.5 80.0 136.5 79.2 135.5 77.0 134.8 75.5 134.1 74.5 133.4 72.5 131.4 68.9 126.0 66.9 122.5 64.2 116.5 62.9 111.5 61.8 105.0 61.8 93.5 62.5 89.5 63.4 87.0 64.7 84.5 66.1 83.0 67.5 82.1 70.0 81.0 71.5 80.8 75.5 80.8 77.5 81.4 79.0 82.2 80.9 84.0 81.9 85.5 83.3 88.5 84.2 92.0 84.2 99.0 84.7 102.0 84.7 104.5 84.2 107.0 84.8 110.5 85.6 113.5 89.0 123.0 89.3 126.0 89.5 126.5 92.5 128.0 94.0 125.7 95.5 124.2 96.5 123.5 98.0 122.8 99.5 122.3 103.5 122.3 105.0 122.8 106.0 122.8 106.5 123.0 109.5 125.5 113.0 127.9 116.5 129.7 120.5 131.2 123.5 132.0 127.0 132.6 131.5 132.9 136.0 132.7 140.5 133.8 144.5 133.8 147.0 133.3 150.0 132.3 155.5 129.5 165.5 122.7 166.5 121.7 170.5 118.7 173.0 116.2 174.5 115.2 175.5 114.2 183.0 108.8 187.5 106.6 189.5 105.9 191.0 105.8 192.5 105.1 195.0 102.1 199.1 96.0 202.1 91.0 203.3 88.5 204.7 86.5 206.5 84.8 208.5 84.2 208.9 85.5 209.3 89.0 209.6 97.0 209.1 104.0 208.0 111.1 206.3 118.0 204.0 124.5 200.7 131.5 198.5 135.4 197.5 136.8 195.5 138.8 194.0 139.8 192.5 141.3 186.2 146.0 172.0 155.8 166.8 161.0 165.5 162.8 161.3 167.0 156.0 169.0 150.0 170.7 143.5 171.9Z"/>
<path fill="#ff4c00" d="M185.0 79.6L183.0 79.6 182.0 79.4 181.0 78.8 177.0 74.9 176.0 73.4 171.1 68.5 170.0 67.8 168.0 65.9 162.0 61.9 152.5 57.2 149.5 56.2 147.0 55.7 141.5 55.7 140.0 56.1 137.5 56.2 136.5 56.6 135.0 56.7 133.5 57.1 132.0 57.2 130.5 57.6 129.0 57.7 127.5 58.1 126.0 58.2 124.5 58.6 123.0 58.7 122.0 59.1 120.0 59.2 119.0 59.6 117.5 59.7 111.5 61.2 107.0 62.6 105.5 62.7 102.5 63.6 101.0 63.7 100.0 64.1 98.5 64.2 97.0 64.6 89.0 64.6 87.5 64.2 85.5 64.1 80.5 62.7 78.5 62.6 77.5 62.2 76.5 61.4 75.6 60.0 75.3 58.5 75.4 55.0 75.8 53.5 75.9 52.5 76.4 50.0 77.6 47.0 79.2 44.0 84.0 39.2 85.0 38.6 86.2 37.5 88.0 36.6 90.5 34.8 97.0 31.6 102.0 29.9 103.5 29.8 105.0 29.4 106.5 29.3 108.0 28.9 111.0 28.8 112.0 28.4 113.0 28.3 118.0 28.4 119.5 28.8 122.5 28.9 124.0 29.3 131.0 29.3 132.0 28.9 133.5 28.8 137.0 27.9 139.5 27.8 140.5 27.4 141.5 27.3 144.0 27.4 145.5 27.8 147.5 27.9 154.0 29.4 157.5 30.6 162.5 32.8 167.8 36.0 171.0 38.6 172.0 39.2 173.9 41.0 175.4 42.0 177.5 44.1 178.5 45.6 180.8 48.0 183.0 51.2 185.9 57.0 188.1 63.5 188.2 65.0 188.6 66.5 188.6 75.5 187.7 77.5 187.0 78.4 186.0 79.2ZM81.0 133.1L79.0 133.2 77.0 132.6 75.5 131.5 73.7 129.5 70.7 125.0 67.9 120.0 66.0 115.5 64.4 108.5 64.3 106.5 63.8 104.0 63.8 94.0 64.5 90.0 65.4 87.5 66.2 86.0 67.0 85.0 68.5 83.9 71.0 82.9 75.5 82.9 77.0 83.4 78.0 84.0 79.5 85.5 80.1 86.5 81.3 89.0 82.1 92.0 82.2 99.5 82.7 102.0 82.7 104.0 82.2 106.0 82.2 107.5 83.2 112.5 85.1 118.5 85.8 120.0 87.0 123.5 87.2 125.0 87.0 126.5 86.3 128.5 85.5 130.0 83.5 132.0 82.5 132.6ZM140.5 171.6L134.5 171.9 129.0 171.9 123.5 171.4 118.0 170.6 112.0 169.2 106.5 167.4 100.7 165.0 98.6 163.5 96.2 161.0 94.8 158.5 93.9 156.0 93.8 154.5 93.4 153.0 93.4 137.0 93.8 135.5 93.9 131.0 94.6 128.5 95.2 127.5 97.0 125.7 99.0 124.6 100.0 124.4 103.0 124.4 104.5 124.8 106.5 124.9 110.7 128.0 114.5 130.2 119.0 132.1 123.5 133.3 128.5 134.1 134.0 134.2 137.5 135.3 139.0 135.4 140.0 135.8 145.0 135.8 146.0 135.4 147.5 135.3 150.5 134.3 157.0 131.1 164.5 126.1 165.5 125.2 166.6 124.5 168.0 123.2 169.1 122.5 170.5 121.2 171.6 120.5 174.1 118.0 175.6 117.0 177.0 115.7 184.2 110.5 188.0 108.6 189.8 108.0 191.5 107.8 193.0 107.4 194.5 107.3 195.2 107.0 196.2 106.0 196.7 105.0 197.7 104.0 200.2 100.0 201.7 98.0 202.5 96.4 203.2 95.5 204.2 93.5 204.7 93.0 206.0 90.4 206.7 89.5 207.2 88.5 208.0 87.7 208.5 88.1 208.8 94.5 208.7 101.0 208.1 106.5 207.5 109.6 206.8 111.0 206.3 111.5 205.3 113.5 204.8 114.0 204.7 114.5 205.2 116.5 205.0 119.5 202.3 126.5 200.5 130.4 199.5 131.9 194.4 137.0 192.9 138.0 191.0 139.8 190.0 140.4 185.0 144.3 182.5 145.9 181.5 146.8 173.0 152.4 172.0 153.3 170.9 154.0 165.0 159.9 164.0 161.4 157.9 167.5 155.0 168.6 149.7 170.0 145.0 170.9Z"/>
<path fill="#ff1a00" d="M184.5 77.1L183.5 77.2 182.5 76.9 178.6 73.0 178.1 72.0 172.5 66.4 171.5 65.9 169.5 63.9 168.5 63.4 168.0 62.9 165.5 61.4 163.5 59.9 153.5 54.9 148.0 53.2 141.0 53.2 139.5 53.7 137.0 53.7 136.0 54.1 134.5 54.2 133.5 54.6 131.5 54.7 130.5 55.1 128.5 55.2 127.5 55.6 125.5 55.7 124.5 56.1 122.5 56.2 121.5 56.6 119.5 56.7 118.5 57.1 117.0 57.2 116.0 57.6 115.0 57.7 114.0 58.1 111.0 58.7 108.5 59.6 107.5 59.7 106.5 60.1 105.0 60.2 102.0 61.1 100.5 61.2 99.5 61.6 98.0 61.7 97.0 62.1 89.5 62.2 88.0 61.7 86.0 61.6 85.0 61.2 82.0 60.6 81.0 60.2 79.5 60.2 78.5 59.9 78.0 59.3 77.8 58.5 77.8 55.5 78.3 54.0 78.4 52.5 78.8 51.5 78.9 50.5 81.1 45.5 85.5 41.1 86.5 40.6 87.5 39.6 89.5 38.6 91.7 37.0 98.0 33.9 102.5 32.4 104.0 32.3 105.5 31.8 107.0 31.8 108.5 31.3 111.5 31.3 113.0 30.8 117.5 30.8 119.0 31.3 122.5 31.4 123.5 31.8 131.5 31.8 132.5 31.4 134.0 31.3 135.0 30.9 136.5 30.8 138.0 30.3 140.0 30.3 141.5 29.8 143.5 29.8 145.0 30.3 147.5 30.4 148.5 30.8 149.5 30.9 150.5 31.3 153.5 31.9 159.0 33.9 161.3 35.0 162.0 35.6 164.0 36.6 164.5 37.1 166.5 38.1 167.5 39.1 168.5 39.6 169.5 40.6 170.5 41.1 172.5 43.1 173.5 43.6 175.9 46.0 176.4 47.0 178.9 49.5 179.4 50.5 181.0 52.7 183.5 57.7 185.6 64.0 185.7 65.5 186.2 67.0 186.2 74.5 186.1 75.0 185.4 76.5ZM81.0 130.5L79.5 130.7 78.4 130.5 77.5 130.0 76.0 128.5 72.7 123.5 71.4 121.0 70.2 119.0 69.7 117.5 68.5 115.0 67.3 110.5 67.3 109.5 66.8 108.0 66.8 106.0 66.3 104.0 66.3 93.5 66.8 92.0 67.0 90.5 68.2 87.5 69.0 86.5 71.5 85.3 75.0 85.3 76.5 86.0 77.5 87.0 78.8 89.5 79.7 92.5 79.7 100.0 80.2 102.0 80.2 104.0 79.7 105.5 79.7 108.0 80.2 109.5 80.2 111.0 80.8 113.5 82.8 119.5 83.5 121.0 84.5 124.0 84.7 125.0 84.0 127.5 83.5 128.5 82.0 130.0ZM138.5 171.0L132.0 171.2 125.5 170.9 118.8 170.0 112.4 168.5 112.0 168.2 110.7 168.0 105.5 165.4 105.0 164.9 102.5 163.4 101.5 162.4 100.5 161.9 98.1 159.5 96.9 157.0 96.4 155.5 96.3 154.0 95.8 152.5 95.8 137.5 96.3 136.0 96.3 132.0 96.8 130.5 96.9 129.5 97.1 129.0 98.5 127.6 100.0 126.9 100.5 126.8 102.5 126.8 104.0 127.3 106.0 127.4 107.0 127.8 108.3 128.0 112.0 130.3 115.5 132.1 121.0 134.1 125.5 135.0 130.2 135.5 137.0 137.8 138.5 137.9 139.5 138.3 145.5 138.3 146.5 137.9 148.0 137.8 151.5 136.6 158.5 133.1 159.0 132.6 160.0 132.1 160.5 131.6 166.0 128.1 167.0 127.1 168.0 126.6 169.5 125.1 170.5 124.6 172.0 123.1 173.0 122.6 176.0 119.6 177.0 119.1 178.5 117.6 179.5 117.1 180.5 116.1 183.0 114.6 184.0 113.6 185.0 113.1 185.5 112.6 188.7 111.0 190.5 110.4 192.0 110.3 193.0 109.9 195.0 109.8 197.8 110.5 200.0 111.6 200.9 112.5 201.4 113.5 202.0 114.2 202.7 116.5 202.7 121.5 202.1 123.5 200.5 126.8 199.9 127.5 199.4 128.5 192.5 135.4 191.5 135.9 189.5 137.9 188.5 138.4 187.5 139.4 186.5 139.9 185.5 140.9 184.5 141.4 183.5 142.4 181.0 143.9 180.0 144.9 179.0 145.4 178.5 145.9 177.5 146.4 177.0 146.9 171.5 150.4 170.5 151.4 169.5 151.9 162.9 158.5 162.4 159.5 154.5 167.4 152.6 168.5 148.7 169.5 143.5 170.4Z"/>
<path fill="#ff0000" d="M182.0 71.0L181.5 70.5 181.5 70.0 174.5 63.0 174.0 63.0 171.5 60.5 171.0 60.5 170.0 59.5 169.5 59.5 168.5 58.5 168.0 58.5 167.0 57.5 166.5 57.5 165.5 56.5 165.0 56.5 164.5 56.0 164.0 56.0 163.5 55.5 163.0 55.5 162.5 55.0 162.0 55.0 161.5 54.5 161.0 54.5 160.5 54.0 160.0 54.0 159.5 53.5 159.0 53.5 158.5 53.0 158.0 53.0 157.5 52.5 157.0 52.5 156.5 52.0 156.0 52.0 155.5 51.5 151.0 50.0 150.0 50.0 149.0 49.5 140.0 49.5 139.0 50.0 136.0 50.0 135.0 50.5 133.5 50.5 132.5 51.0 130.5 51.0 129.5 51.5 127.5 51.5 126.5 52.0 124.5 52.0 123.5 52.5 121.5 52.5 120.5 53.0 118.5 53.0 117.5 53.5 116.0 53.5 115.0 54.0 114.0 54.0 113.0 54.5 112.0 54.5 111.0 55.0 110.0 55.0 107.5 56.0 106.5 56.0 105.5 56.5 104.0 56.5 103.0 57.0 102.0 57.0 101.0 57.5 99.5 57.5 98.5 58.0 97.0 58.0 96.0 58.5 90.5 58.5 89.0 58.0 87.0 58.0 86.0 57.5 85.0 57.5 84.0 57.0 83.0 57.0 82.0 56.5 81.5 56.0 82.0 55.0 82.0 53.5 82.5 52.5 82.5 51.5 83.0 51.0 83.5 49.0 84.5 47.5 88.0 44.0 88.5 44.0 90.0 42.5 90.5 42.5 91.0 42.0 91.5 42.0 92.5 41.0 93.0 41.0 94.0 40.0 94.5 40.0 95.0 39.5 95.5 39.5 96.0 39.0 96.5 39.0 97.0 38.5 97.5 38.5 98.0 38.0 98.5 38.0 99.0 37.5 103.5 36.0 105.0 36.0 106.0 35.5 108.0 35.5 109.0 35.0 112.5 35.0 114.0 34.5 117.0 34.5 118.0 35.0 121.5 35.0 122.5 35.5 132.5 35.5 133.5 35.0 135.0 35.0 136.0 34.5 137.5 34.5 138.5 34.0 141.0 34.0 142.0 33.5 143.0 33.5 144.0 34.0 146.5 34.0 147.5 34.5 148.5 34.5 149.5 35.0 150.5 35.0 151.5 35.5 152.5 35.5 155.5 36.5 156.0 37.0 158.0 37.5 158.5 38.0 159.0 38.0 160.0 39.0 160.5 39.0 161.0 39.5 161.5 39.5 162.5 40.5 163.0 40.5 163.5 41.0 164.0 41.0 165.5 42.5 166.0 42.5 167.5 44.0 168.0 44.0 170.5 46.5 171.0 46.5 172.5 48.0 173.0 48.5 173.0 49.0 176.0 52.0 176.0 52.5 177.0 53.5 177.0 54.0 178.0 55.0 178.0 55.5 179.0 57.0 179.0 57.5 179.5 58.0 179.5 58.5 180.0 59.0 182.0 65.0 182.0 66.5 182.5 67.5 182.5 70.5ZM80.0 126.9L79.5 126.9 79.1 126.5 79.0 126.0 78.1 125.0 78.0 124.5 76.1 122.0 76.0 121.5 75.6 121.0 75.0 119.5 74.1 118.5 74.0 118.0 73.6 117.5 73.5 116.5 72.1 114.0 72.0 112.5 71.6 112.0 71.5 110.5 71.1 110.0 71.0 108.0 70.6 107.5 70.5 107.0 70.5 104.5 70.1 104.0 70.0 103.5 70.0 94.5 70.1 94.0 70.5 93.5 70.6 91.5 71.0 91.0 71.1 90.0 72.0 89.1 74.0 89.0 74.9 90.0 75.0 90.5 75.4 91.0 75.5 92.5 75.9 93.0 76.0 101.5 76.4 102.0 76.5 102.5 76.4 103.5 76.0 104.0 76.0 109.5 76.4 110.0 76.5 112.5 76.9 113.0 77.0 114.5 77.4 115.0 77.5 116.0 77.9 116.5 78.0 117.5 78.4 118.0 78.5 119.0 78.9 119.5 79.0 120.5 79.9 122.0 80.0 123.0 80.4 123.5 80.5 124.5 80.9 125.0 80.5 125.5 80.4 126.5ZM138.0 170.1L137.0 170.3 134.0 170.4 133.0 170.0 130.5 170.0 129.0 169.5 127.0 169.5 126.0 169.0 125.0 169.0 124.0 168.5 123.0 168.5 117.0 166.5 116.5 166.0 114.5 165.5 114.0 165.0 112.0 164.5 111.5 164.0 111.0 164.0 110.5 163.5 110.0 163.5 109.5 163.0 109.0 163.0 108.5 162.5 108.0 162.5 107.0 161.5 106.5 161.5 105.5 160.5 105.0 160.5 103.5 159.0 103.0 159.0 101.5 157.5 100.5 156.0 100.0 154.5 100.0 153.0 99.5 151.5 99.5 138.5 100.0 137.0 100.0 133.0 100.5 131.5 100.5 131.0 101.0 130.5 101.5 130.5 103.0 131.0 105.0 131.0 106.0 131.5 107.0 131.5 108.0 132.0 109.0 132.0 110.0 132.5 111.0 132.5 112.0 133.0 113.0 133.0 115.5 134.0 116.5 134.0 118.5 134.9 121.0 135.5 121.5 136.0 123.5 136.5 124.0 137.0 124.5 137.0 126.0 138.0 128.0 138.5 128.5 139.0 136.0 141.5 137.5 141.5 138.5 142.0 146.5 142.0 147.5 141.5 149.0 141.5 153.5 140.0 154.0 139.5 154.5 139.5 156.0 138.5 156.5 138.5 158.0 137.5 158.5 137.5 160.0 136.5 160.5 136.5 161.5 135.5 162.0 135.5 163.0 134.5 163.5 134.5 164.5 133.5 165.0 133.5 166.0 132.5 166.5 132.5 167.5 131.5 168.0 131.5 169.5 130.0 170.0 130.0 172.0 128.0 172.5 128.0 174.5 126.0 175.0 126.0 178.5 122.5 179.0 122.5 181.0 120.5 181.5 120.5 183.0 119.0 183.5 119.0 184.5 118.0 185.0 118.0 186.5 116.5 187.0 116.5 188.0 115.5 188.5 115.5 190.0 114.5 191.5 114.0 193.0 114.0 194.0 113.5 194.5 113.5 195.5 114.0 196.5 114.0 197.0 114.5 197.5 114.5 198.0 115.0 198.0 115.5 198.8 116.5 199.0 117.5 199.0 121.0 198.5 122.5 198.0 123.0 198.0 123.5 197.5 124.0 197.5 124.5 196.5 125.5 196.5 126.0 190.5 132.0 190.0 132.5 189.5 132.5 187.0 135.0 186.5 135.0 185.0 136.5 184.5 136.5 183.0 138.0 182.5 138.0 181.0 139.5 180.5 139.5 179.5 140.5 179.0 140.5 177.5 142.0 177.0 142.0 176.0 143.0 175.5 143.0 174.5 144.0 174.0 144.0 173.0 145.0 172.5 145.0 171.5 146.0 171.0 146.0 170.0 147.0 169.5 147.0 168.0 148.5 167.5 148.5 159.5 156.5 159.5 157.0 159.0 157.5 152.0 164.5 151.5 164.5 150.5 165.5 150.0 165.5 149.0 166.5 148.5 166.5 148.0 167.0 147.5 167.0 147.0 167.5 146.5 167.5 146.0 168.0 145.5 168.0 145.0 168.5 144.5 168.5 144.0 169.0 141.0 170.0Z"/>
<path d="M104.9 91.3l0.3 -1.8M105.6 88.0l0.5 -1.7M106.7 84.9l0.7 -1.6M108.2 81.9l0.9 -1.5M110.0 79.1l1.1 -1.4M112.1 76.6l1.3 -1.3M114.4 74.3l1.4 -1.1M117.1 72.3l1.5 -0.9M120.0 70.7l1.6 -0.8M123.0 69.4l1.7 -0.6M126.2 68.4l1.8 -0.4M129.4 67.9l1.8 -0.1M132.7 67.7l1.8 0.1M136.0 67.9l1.8 0.3M139.3 68.5l1.7 0.5M142.4 69.5l1.7 0.7M145.4 70.9l1.6 0.9M148.3 72.6l1.5 1.1M150.9 74.6l1.3 1.2M153.2 76.9l1.2 1.4M155.3 79.5l1.0 1.5M157.1 82.3l0.8 1.6M158.5 85.3l0.6 1.7M159.5 88.5l0.4 1.8M160.1 91.7l0.2 1.8M160.4 95.0l-0.0 1.8M160.3 98.3l-0.2 1.8M159.8 101.6l-0.4 1.7M158.9 104.8l-0.6 1.7M157.6 107.8l-0.8 1.6M156.0 110.7l-1.0 1.5M154.0 113.4l-1.2 1.4M151.8 115.8l-1.3 1.2M149.3 117.9l-1.5 1.0M146.5 119.7l-1.6 0.9M143.5 121.2l-1.7 0.7M140.4 122.4l-1.7 0.5M137.2 123.1l-1.8 0.2M133.9 123.5l-1.8 0.0M130.6 123.5l-1.8 -0.2M127.3 123.0l-1.8 -0.4M124.1 122.2l-1.7 -0.6M121.0 121.1l-1.6 -0.8M118.1 119.5l-1.5 -1.0M115.4 117.7l-1.4 -1.1M112.9 115.5l-1.2 -1.3M110.7 113.0l-1.1 -1.4M108.8 110.3l-0.9 -1.6M107.2 107.4l-0.7 -1.7M106.0 104.3l-0.5 -1.7M105.1 101.1l-0.3 -1.8M104.7 97.9l-0.1 -1.8M104.6 94.6l0.1 -1.8M105.7 79.9l1.0 -1.5M107.5 77.2l1.1 -1.4M109.6 74.6l1.3 -1.3M112.0 72.3l1.4 -1.1M114.6 70.3l1.5 -1.0M117.4 68.5l1.6 -0.8M120.4 67.1l1.7 -0.7M123.5 65.9l1.7 -0.5M126.7 65.1l1.8 -0.3M129.9 64.7l1.8 -0.1M133.2 64.6l1.8 0.1M136.5 64.8l1.8 0.3M139.8 65.5l1.7 0.5M142.9 66.4l1.7 0.7M146.0 67.7l1.6 0.8M148.9 69.3l1.5 1.0M151.6 71.1l1.4 1.1M154.1 73.3l1.3 1.3M156.3 75.7l1.1 1.4M158.3 78.4l1.0 1.5M160.0 81.2l0.8 1.6M161.3 84.2l0.6 1.7M162.4 87.3l0.4 1.7M163.1 90.6l0.2 1.8M163.5 93.9l0.0 1.8M163.5 97.2l-0.1 1.8M163.1 100.4l-0.3 1.8M162.4 103.7l-0.5 1.7M161.4 106.8l-0.7 1.7M160.1 109.8l-0.9 1.6M158.4 112.7l-1.0 1.5M156.4 115.3l-1.2 1.4M154.2 117.8l-1.3 1.2M151.7 119.9l-1.4 1.1M149.0 121.8l-1.6 0.9M146.1 123.4l-1.6 0.7M143.1 124.7l-1.7 0.6M140.0 125.7l-1.8 0.4M136.7 126.3l-1.8 0.2M133.4 126.6l-1.8 0.0M130.1 126.5l-1.8 -0.2M126.8 126.1l-1.8 -0.4M123.6 125.3l-1.7 -0.6M120.5 124.2l-1.6 -0.7M117.6 122.8l-1.6 -0.9M114.8 121.0l-1.4 -1.1M112.1 119.0l-1.3 -1.2M109.8 116.7l-1.2 -1.4M107.7 114.2l-1.0 -1.5M105.8 111.4l-0.9 -1.6M104.3 108.5l-0.7 -1.7M103.1 105.4l-0.5 -1.7M102.2 102.2l-0.3 -1.8M101.7 99.0l-0.1 -1.8M101.5 95.7l0.0 -1.8M101.7 92.4l0.2 -1.8M102.2 89.1l0.4 -1.7M103.0 86.0l0.6 -1.7M104.2 82.9l0.8 -1.6M111.3 68.8l1.4 -1.1M114.0 66.9l1.5 -0.9M116.9 65.3l1.6 -0.8M119.9 63.9l1.7 -0.6M123.0 62.8l1.7 -0.5M126.2 62.1l1.8 -0.3M129.5 61.6l1.8 -0.1M132.8 61.5l1.8 0.1M136.1 61.7l1.8 0.2M139.3 62.2l1.8 0.4M142.5 63.0l1.7 0.6M145.6 64.1l1.6 0.7M148.6 65.5l1.6 0.9M151.4 67.2l1.5 1.0M154.1 69.2l1.4 1.2M156.5 71.4l1.2 1.3M158.7 73.8l1.1 1.4M160.7 76.4l1.0 1.5M162.4 79.3l0.8 1.6M163.9 82.2l0.7 1.7M165.0 85.3l0.5 1.7M165.9 88.5l0.3 1.8M166.4 91.8l0.2 1.8M166.6 95.0l-0.0 1.8M166.5 98.3l-0.2 1.8M166.1 101.6l-0.4 1.8M165.3 104.8l-0.5 1.7M164.3 107.9l-0.7 1.7M163.0 111.0l-0.9 1.6M161.3 113.8l-1.0 1.5M159.4 116.5l-1.1 1.4M157.3 119.0l-1.3 1.3M154.9 121.3l-1.4 1.1M152.3 123.4l-1.5 1.0M149.6 125.1l-1.6 0.9M146.6 126.6l-1.7 0.7M143.6 127.9l-1.7 0.5M140.4 128.8l-1.8 0.4M137.2 129.4l-1.8 0.2M133.9 129.7l-1.8 0.0M130.6 129.7l-1.8 -0.1M127.3 129.3l-1.8 -0.3M124.1 128.7l-1.7 -0.5M120.9 127.7l-1.7 -0.7M117.9 126.4l-1.6 -0.8M115.0 124.9l-1.5 -1.0M112.2 123.0l-1.4 -1.1M109.7 121.0l-1.3 -1.2M107.3 118.6l-1.2 -1.4M105.2 116.1l-1.0 -1.5M103.4 113.4l-0.9 -1.6M101.8 110.5l-0.7 -1.6M100.5 107.4l-0.6 -1.7M99.5 104.3l-0.4 -1.8M98.8 101.1l-0.2 -1.8M98.5 97.8l-0.1 -1.8M98.4 94.5l0.1 -1.8M98.7 91.2l0.3 -1.8M99.3 88.0l0.4 -1.7M100.1 84.8l0.6 -1.7M101.3 81.7l0.8 -1.6M102.8 78.8l0.9 -1.5M104.6 76.0l1.1 -1.4M106.6 73.4l1.2 -1.3M108.9 71.0l1.3 -1.2M121.6 60.0l1.7 -0.5M124.8 59.2l1.8 -0.3M128.1 58.7l1.8 -0.2M131.3 58.4l1.8 -0.0M134.6 58.5l1.8 0.1M137.9 58.8l1.8 0.3M141.1 59.4l1.7 0.5M144.3 60.3l1.7 0.6M147.4 61.5l1.6 0.8M150.3 62.9l1.6 0.9M153.2 64.6l1.5 1.0M155.8 66.6l1.4 1.2M158.3 68.8l1.3 1.3M160.6 71.1l1.1 1.4M162.6 73.7l1.0 1.5M164.4 76.5l0.9 1.6M166.0 79.4l0.7 1.6M167.3 82.4l0.6 1.7M168.3 85.5l0.4 1.7M169.1 88.7l0.3 1.8M169.5 92.0l0.1 1.8M169.7 95.3l-0.0 1.8M169.6 98.6l-0.2 1.8M169.2 101.8l-0.3 1.8M168.5 105.0l-0.5 1.7M167.5 108.2l-0.6 1.7M166.3 111.2l-0.8 1.6M164.8 114.2l-0.9 1.5M163.0 116.9l-1.1 1.4M161.0 119.5l-1.2 1.3M158.8 122.0l-1.3 1.2M156.3 124.2l-1.4 1.1M153.7 126.2l-1.5 1.0M150.9 127.9l-1.6 0.9M148.0 129.4l-1.7 0.7M144.9 130.7l-1.7 0.6M141.8 131.6l-1.8 0.4M138.6 132.3l-1.8 0.3M135.3 132.7l-1.8 0.1M132.0 132.8l-1.8 -0.1M128.7 132.6l-1.8 -0.2M125.5 132.1l-1.8 -0.4M122.3 131.4l-1.7 -0.5M119.1 130.3l-1.7 -0.7M116.1 129.0l-1.6 -0.8M113.2 127.4l-1.5 -1.0M110.5 125.6l-1.4 -1.1M107.9 123.5l-1.3 -1.2M105.6 121.3l-1.2 -1.3M103.4 118.8l-1.1 -1.4M101.5 116.1l-1.0 -1.5M99.8 113.3l-0.8 -1.6M98.3 110.3l-0.7 -1.7M97.2 107.3l-0.5 -1.7M96.3 104.1l-0.4 -1.8M95.7 100.9l-0.2 -1.8M95.3 97.6l-0.1 -1.8M95.3 94.3l0.1 -1.8M95.6 91.0l0.3 -1.8M96.1 87.8l0.4 -1.7M97.0 84.6l0.6 -1.7M98.1 81.5l0.7 -1.6M99.5 78.5l0.9 -1.6M101.1 75.6l1.0 -1.5M103.0 72.9l1.1 -1.4M105.1 70.4l1.2 -1.3M107.4 68.1l1.4 -1.2M110.0 66.0l1.5 -1.1M112.7 64.1l1.5 -0.9M115.5 62.5l1.6 -0.8M118.5 61.1l1.7 -0.6M135.5 55.4l1.8 0.2M138.8 55.8l1.8 0.3M142.0 56.4l1.7 0.5M145.2 57.3l1.7 0.6M148.3 58.5l1.6 0.7M151.2 59.9l1.6 0.9M154.1 61.6l1.5 1.0M156.8 63.4l1.4 1.1M159.3 65.5l1.3 1.2M161.7 67.8l1.2 1.3M163.9 70.3l1.1 1.4M165.8 72.9l1.0 1.5M167.6 75.7l0.9 1.6M169.1 78.6l0.7 1.6M170.3 81.7l0.6 1.7M171.3 84.8l0.4 1.7M172.1 88.0l0.3 1.8M172.6 91.2l0.2 1.8M172.8 94.5l0.0 1.8M172.7 97.8l-0.1 1.8M172.4 101.1l-0.3 1.8M171.9 104.3l-0.4 1.7M171.0 107.5l-0.6 1.7M169.9 110.6l-0.7 1.7M168.6 113.6l-0.8 1.6M167.0 116.5l-1.0 1.5M165.2 119.2l-1.1 1.4M163.1 121.8l-1.2 1.3M160.9 124.2l-1.3 1.2M158.5 126.4l-1.4 1.1M155.9 128.4l-1.5 1.0M153.1 130.2l-1.6 0.9M150.2 131.8l-1.6 0.8M147.2 133.1l-1.7 0.6M144.1 134.2l-1.7 0.5M140.9 135.0l-1.8 0.3M137.7 135.6l-1.8 0.2M134.4 135.9l-1.8 0.0M131.1 135.9l-1.8 -0.1M127.8 135.6l-1.8 -0.2M124.6 135.1l-1.8 -0.4M121.4 134.3l-1.7 -0.5M118.3 133.3l-1.7 -0.7M115.2 132.0l-1.6 -0.8M112.3 130.5l-1.5 -0.9M109.6 128.7l-1.5 -1.1M106.9 126.8l-1.4 -1.2M104.5 124.6l-1.3 -1.3M102.2 122.2l-1.2 -1.4M100.1 119.6l-1.0 -1.5M98.3 116.9l-0.9 -1.5M96.7 114.1l-0.8 -1.6M95.3 111.1l-0.7 -1.7M94.1 108.0l-0.5 -1.7M93.3 104.8l-0.4 -1.8M92.6 101.6l-0.2 -1.8M92.3 98.3l-0.1 -1.8M92.2 95.0l0.1 -1.8M92.4 91.7l0.2 -1.8M92.8 88.5l0.4 -1.8M93.5 85.3l0.5 -1.7M94.5 82.1l0.6 -1.7M95.7 79.1l0.8 -1.6M97.2 76.1l0.9 -1.6M98.9 73.3l1.0 -1.5M100.8 70.7l1.1 -1.4M103.0 68.2l1.3 -1.3M105.3 65.9l1.4 -1.2M107.8 63.7l1.4 -1.1M110.5 61.8l1.5 -0.9M113.3 60.1l1.6 -0.8M116.3 58.7l1.7 -0.7M119.3 57.5l1.7 -0.5M122.5 56.6l1.8 -0.4M125.7 55.9l1.8 -0.3M129.0 55.4l1.8 -0.1M132.2 55.3l1.8 0.0M151.3 56.5l1.6 0.8M154.2 58.0l1.5 0.9M156.9 59.7l1.5 1.0M159.6 61.7l1.4 1.2M162.1 63.8l1.3 1.3M164.4 66.2l1.2 1.3M166.5 68.7l1.1 1.4M168.5 71.3l1.0 1.5M170.2 74.1l0.9 1.6M171.7 77.0l0.7 1.6M173.0 80.0l0.6 1.7M174.1 83.1l0.5 1.7M174.9 86.3l0.3 1.8M175.5 89.6l0.2 1.8M175.8 92.8l0.1 1.8M175.9 96.1l-0.1 1.8M175.7 99.4l-0.2 1.8M175.3 102.6l-0.3 1.8M174.7 105.9l-0.5 1.7M173.8 109.0l-0.6 1.7M172.6 112.1l-0.7 1.7M171.3 115.1l-0.8 1.6M169.7 118.0l-1.0 1.5M167.9 120.7l-1.1 1.4M165.9 123.3l-1.2 1.4M163.7 125.8l-1.3 1.3M161.3 128.0l-1.4 1.2M158.8 130.1l-1.5 1.1M156.1 132.0l-1.5 0.9M153.3 133.7l-1.6 0.8M150.3 135.2l-1.7 0.7M147.3 136.4l-1.7 0.6M144.2 137.4l-1.7 0.4M141.0 138.2l-1.8 0.3M137.7 138.7l-1.8 0.2M134.5 139.0l-1.8 0.0M131.2 139.0l-1.8 -0.1M127.9 138.8l-1.8 -0.2M124.6 138.3l-1.8 -0.4M121.4 137.6l-1.7 -0.5M118.3 136.6l-1.7 -0.6M115.2 135.4l-1.6 -0.7M112.3 134.0l-1.6 -0.9M109.4 132.4l-1.5 -1.0M106.7 130.5l-1.4 -1.1M104.1 128.5l-1.3 -1.2M101.7 126.2l-1.2 -1.3M99.5 123.8l-1.1 -1.4M97.5 121.2l-1.0 -1.5M95.6 118.5l-0.9 -1.5M94.0 115.7l-0.8 -1.6M92.6 112.7l-0.7 -1.7M91.4 109.6l-0.5 -1.7M90.5 106.5l-0.4 -1.8M89.8 103.3l-0.3 -1.8M89.3 100.0l-0.1 -1.8M89.1 96.7l-0.0 -1.8M89.1 93.5l0.1 -1.8M89.4 90.2l0.3 -1.8M90.0 86.9l0.4 -1.8M90.7 83.7l0.5 -1.7M91.8 80.6l0.7 -1.7M93.0 77.6l0.8 -1.6M94.5 74.6l0.9 -1.6M96.2 71.8l1.0 -1.5M98.1 69.2l1.1 -1.4M100.2 66.6l1.2 -1.3M102.5 64.3l1.3 -1.2M104.9 62.1l1.4 -1.1M107.5 60.1l1.5 -1.0M110.3 58.3l1.6 -0.9M113.2 56.7l1.6 -0.8M116.2 55.4l1.7 -0.6M119.3 54.3l1.7 -0.5M122.4 53.4l1.8 -0.4M125.6 52.7l1.8 -0.2M128.9 52.3l1.8 -0.1M132.2 52.2l1.8 0.0M135.5 52.3l1.8 0.2M138.7 52.6l1.8 0.3M142.0 53.2l1.7 0.4M145.1 54.1l1.7 0.6M148.2 55.1l1.7 0.7M166.4 63.8l1.2 1.3M168.6 66.3l1.1 1.4M170.6 68.9l1.0 1.5M172.4 71.7l0.9 1.6M174.0 74.5l0.8 1.6M175.3 77.5l0.7 1.7M176.5 80.6l0.5 1.7M177.5 83.7l0.4 1.7M178.2 86.9l0.3 1.8M178.7 90.2l0.2 1.8M179.0 93.4l0.0 1.8M179.0 96.7l-0.1 1.8M178.8 100.0l-0.2 1.8M178.4 103.2l-0.3 1.8M177.7 106.5l-0.5 1.7M176.8 109.6l-0.6 1.7M175.7 112.7l-0.7 1.7M174.4 115.7l-0.8 1.6M172.9 118.6l-0.9 1.5M171.2 121.4l-1.0 1.5M169.3 124.1l-1.1 1.4M167.2 126.6l-1.2 1.3M164.9 129.0l-1.3 1.2M162.4 131.2l-1.4 1.1M159.9 133.2l-1.5 1.0M157.1 135.0l-1.5 0.9M154.3 136.7l-1.6 0.8M151.3 138.1l-1.7 0.7M148.3 139.3l-1.7 0.6M145.2 140.3l-1.7 0.5M142.0 141.1l-1.8 0.3M138.8 141.7l-1.8 0.2M135.5 142.0l-1.8 0.1M132.2 142.1l-1.8 -0.0M128.9 142.0l-1.8 -0.2M125.7 141.6l-1.8 -0.3M122.4 141.0l-1.7 -0.4M119.3 140.2l-1.7 -0.5M116.1 139.1l-1.7 -0.7M113.1 137.9l-1.6 -0.8M110.2 136.4l-1.6 -0.9M107.4 134.7l-1.5 -1.0M104.7 132.9l-1.4 -1.1M102.1 130.8l-1.3 -1.2M99.7 128.6l-1.3 -1.3M97.4 126.2l-1.2 -1.4M95.4 123.6l-1.1 -1.5M93.5 120.9l-1.0 -1.5M91.8 118.1l-0.8 -1.6M90.3 115.2l-0.7 -1.6M89.0 112.2l-0.6 -1.7M88.0 109.1l-0.5 -1.7M87.1 105.9l-0.4 -1.8M86.5 102.7l-0.2 -1.8M86.1 99.4l-0.1 -1.8M86.0 96.1l0.0 -1.8M86.1 92.8l0.1 -1.8M86.4 89.6l0.3 -1.8M86.9 86.3l0.4 -1.8M87.7 83.1l0.5 -1.7M88.7 80.0l0.6 -1.7M89.9 77.0l0.8 -1.6M91.3 74.0l0.9 -1.6M92.9 71.2l1.0 -1.5M94.8 68.4l1.1 -1.4M96.8 65.8l1.2 -1.4M99.0 63.4l1.3 -1.3M101.3 61.1l1.4 -1.2M103.8 59.0l1.4 -1.1M106.5 57.0l1.5 -1.0M109.3 55.3l1.6 -0.9M112.2 53.8l1.6 -0.8M115.2 52.4l1.7 -0.6M118.3 51.3l1.7 -0.5M121.4 50.4l1.8 -0.4M124.6 49.8l1.8 -0.3M127.9 49.3l1.8 -0.1M131.2 49.1l1.8 -0.0M134.4 49.1l1.8 0.1M137.7 49.4l1.8 0.2M141.0 49.9l1.8 0.4M144.2 50.6l1.7 0.5M147.3 51.5l1.7 0.6M150.4 52.7l1.6 0.7M153.4 54.0l1.6 0.8M156.2 55.6l1.5 0.9M159.0 57.4l1.5 1.1M161.6 59.4l1.4 1.2M164.1 61.5l1.3 1.2M178.5 77.1l0.6 1.7M179.7 80.3l0.5 1.7M180.6 83.4l0.4 1.8M181.3 86.7l0.3 1.8M181.8 90.0l0.2 1.8M182.1 93.3l0.1 1.8M182.1 96.6l-0.1 1.8M181.9 99.9l-0.2 1.8M181.5 103.2l-0.3 1.8M180.9 106.4l-0.4 1.7M180.1 109.6l-0.5 1.7M179.0 112.8l-0.7 1.7M177.8 115.9l-0.8 1.6M176.3 118.8l-0.9 1.6M174.7 121.7l-1.0 1.5M172.8 124.5l-1.1 1.4M170.8 127.1l-1.2 1.4M168.6 129.6l-1.3 1.3M166.3 131.9l-1.3 1.2M163.8 134.1l-1.4 1.1M161.1 136.1l-1.5 1.0M158.4 137.9l-1.6 0.9M155.5 139.6l-1.6 0.8M152.5 141.0l-1.7 0.7M149.4 142.2l-1.7 0.6M146.3 143.3l-1.7 0.5M143.0 144.1l-1.8 0.4M139.8 144.7l-1.8 0.2M136.5 145.0l-1.8 0.1M133.2 145.2l-1.8 -0.0M129.9 145.1l-1.8 -0.1M126.6 144.9l-1.8 -0.2M123.3 144.3l-1.8 -0.4M120.1 143.6l-1.7 -0.5M116.9 142.7l-1.7 -0.6M113.8 141.5l-1.7 -0.7M110.7 140.2l-1.6 -0.8M107.8 138.6l-1.5 -0.9M105.0 136.9l-1.5 -1.0M102.3 134.9l-1.4 -1.1M99.7 132.8l-1.3 -1.2M97.3 130.6l-1.2 -1.3M95.1 128.1l-1.2 -1.4M93.0 125.6l-1.1 -1.5M91.1 122.9l-1.0 -1.5M89.3 120.0l-0.9 -1.6M87.8 117.1l-0.8 -1.6M86.5 114.1l-0.6 -1.7M85.3 110.9l-0.5 -1.7M84.4 107.8l-0.4 -1.8M83.7 104.5l-0.3 -1.8M83.2 101.2l-0.2 -1.8M82.9 97.9l-0.1 -1.8M82.9 94.6l0.1 -1.8M83.1 91.3l0.2 -1.8M83.5 88.0l0.3 -1.8M84.1 84.8l0.4 -1.7M84.9 81.6l0.5 -1.7M86.0 78.4l0.7 -1.7M87.2 75.3l0.8 -1.6M88.7 72.4l0.9 -1.6M90.3 69.5l1.0 -1.5M92.2 66.7l1.1 -1.4M94.2 64.1l1.2 -1.4M96.4 61.6l1.3 -1.3M98.7 59.3l1.3 -1.2M101.2 57.1l1.4 -1.1M103.9 55.1l1.5 -1.0M106.6 53.3l1.6 -0.9M109.5 51.6l1.6 -0.8M112.5 50.2l1.7 -0.7M115.6 49.0l1.7 -0.6M118.7 47.9l1.7 -0.5M122.0 47.1l1.8 -0.4M125.2 46.5l1.8 -0.2M128.5 46.2l1.8 -0.1M131.8 46.0l1.8 0.0M135.1 46.1l1.8 0.1M138.4 46.3l1.8 0.2M141.7 46.9l1.8 0.4M144.9 47.6l1.7 0.5M148.1 48.5l1.7 0.6M151.2 49.7l1.7 0.7M154.3 51.0l1.6 0.8M157.2 52.6l1.5 0.9M160.0 54.3l1.5 1.0M162.7 56.3l1.4 1.1M165.3 58.4l1.3 1.2M167.7 60.6l1.2 1.3M169.9 63.1l1.2 1.4M172.0 65.6l1.1 1.5M173.9 68.3l1.0 1.5M175.7 71.2l0.9 1.6M177.2 74.1l0.8 1.6M185.2 95.1l-0.0 1.8M185.1 98.4l-0.1 1.8M184.9 101.7l-0.2 1.8M184.4 104.9l-0.3 1.8M183.7 108.2l-0.5 1.7M182.8 111.4l-0.6 1.7M181.7 114.5l-0.7 1.7M180.4 117.6l-0.8 1.6M178.9 120.5l-0.9 1.6M177.3 123.4l-1.0 1.5M175.5 126.1l-1.1 1.4M173.5 128.8l-1.2 1.4M171.3 131.3l-1.2 1.3M169.0 133.6l-1.3 1.2M166.5 135.9l-1.4 1.1M163.9 137.9l-1.5 1.0M161.2 139.8l-1.5 1.0M158.4 141.5l-1.6 0.9M155.4 143.1l-1.6 0.8M152.4 144.4l-1.7 0.7M149.3 145.6l-1.7 0.5M146.1 146.5l-1.7 0.4M142.9 147.3l-1.8 0.3M139.6 147.8l-1.8 0.2M136.3 148.2l-1.8 0.1M133.0 148.3l-1.8 -0.0M129.7 148.2l-1.8 -0.1M126.4 148.0l-1.8 -0.2M123.2 147.5l-1.8 -0.3M119.9 146.8l-1.7 -0.5M116.7 145.9l-1.7 -0.6M113.6 144.8l-1.7 -0.7M110.5 143.5l-1.6 -0.8M107.6 142.0l-1.6 -0.9M104.7 140.4l-1.5 -1.0M102.0 138.6l-1.4 -1.1M99.3 136.6l-1.4 -1.2M96.8 134.4l-1.3 -1.2M94.5 132.1l-1.2 -1.3M92.2 129.6l-1.1 -1.4M90.2 127.0l-1.0 -1.5M88.3 124.3l-1.0 -1.5M86.6 121.5l-0.9 -1.6M85.0 118.5l-0.8 -1.6M83.7 115.5l-0.7 -1.7M82.5 112.4l-0.5 -1.7M81.6 109.2l-0.4 -1.7M80.8 106.0l-0.3 -1.8M80.3 102.7l-0.2 -1.8M79.9 99.4l-0.1 -1.8M79.8 96.1l0.0 -1.8M79.9 92.8l0.1 -1.8M80.1 89.5l0.2 -1.8M80.6 86.3l0.3 -1.8M81.3 83.0l0.5 -1.7M82.2 79.8l0.6 -1.7M83.3 76.7l0.7 -1.7M84.6 73.6l0.8 -1.6M86.1 70.7l0.9 -1.6M87.7 67.8l1.0 -1.5M89.5 65.1l1.1 -1.4M91.5 62.4l1.2 -1.4M93.7 59.9l1.2 -1.3M96.0 57.6l1.3 -1.2M98.5 55.3l1.4 -1.1M101.1 53.3l1.5 -1.0M103.8 51.4l1.5 -1.0M106.6 49.7l1.6 -0.9M109.6 48.1l1.6 -0.8M112.6 46.8l1.7 -0.7M115.7 45.6l1.7 -0.5M118.9 44.7l1.7 -0.4M122.1 43.9l1.8 -0.3M125.4 43.4l1.8 -0.2M128.7 43.0l1.8 -0.1M132.0 42.9l1.8 0.0M135.3 43.0l1.8 0.1M138.6 43.2l1.8 0.2M141.8 43.7l1.8 0.3M145.1 44.4l1.7 0.5M148.3 45.3l1.7 0.6M151.4 46.4l1.7 0.7M154.5 47.7l1.6 0.8M157.4 49.2l1.6 0.9M160.3 50.8l1.5 1.0M163.0 52.6l1.4 1.1M165.7 54.6l1.4 1.2M168.2 56.8l1.3 1.2M170.5 59.1l1.2 1.3M172.8 61.6l1.1 1.4M174.8 64.2l1.0 1.5M176.7 66.9l1.0 1.5M178.4 69.7l0.9 1.6M180.0 72.7l0.8 1.6M181.3 75.7l0.7 1.7M182.5 78.8l0.5 1.7M183.4 82.0l0.4 1.7M184.2 85.2l0.3 1.8M184.7 88.5l0.2 1.8M185.1 91.8l0.1 1.8M184.7 115.3l-0.7 1.7M183.5 118.4l-0.8 1.6M182.0 121.3l-0.9 1.6M180.4 124.2l-0.9 1.5M178.6 127.0l-1.0 1.5M176.7 129.7l-1.1 1.4M174.6 132.2l-1.2 1.3M172.3 134.7l-1.3 1.3M170.0 137.0l-1.4 1.2M167.4 139.1l-1.4 1.1M164.8 141.1l-1.5 1.0M162.1 142.9l-1.5 0.9M159.2 144.6l-1.6 0.8M156.2 146.1l-1.6 0.7M153.2 147.4l-1.7 0.6M150.1 148.6l-1.7 0.5M146.9 149.5l-1.7 0.4M143.7 150.3l-1.8 0.3M140.5 150.8l-1.8 0.2M137.2 151.2l-1.8 0.1M133.9 151.4l-1.8 0.0M130.6 151.4l-1.8 -0.1M127.3 151.2l-1.8 -0.2M124.0 150.8l-1.8 -0.3M120.7 150.2l-1.8 -0.4M117.5 149.4l-1.7 -0.5M114.4 148.4l-1.7 -0.6M111.3 147.2l-1.7 -0.7M108.2 145.9l-1.6 -0.8M105.3 144.3l-1.6 -0.9M102.5 142.6l-1.5 -1.0M99.7 140.8l-1.4 -1.1M97.1 138.8l-1.4 -1.2M94.6 136.6l-1.3 -1.2M92.3 134.3l-1.2 -1.3M90.0 131.8l-1.1 -1.4M88.0 129.2l-1.1 -1.5M86.1 126.5l-1.0 -1.5M84.3 123.7l-0.9 -1.6M82.7 120.8l-0.8 -1.6M81.3 117.8l-0.7 -1.7M80.1 114.8l-0.6 -1.7M79.0 111.6l-0.5 -1.7M78.2 108.4l-0.4 -1.8M77.5 105.2l-0.3 -1.8M77.1 101.9l-0.2 -1.8M76.8 98.6l-0.1 -1.8M76.7 95.3l0.0 -1.8M76.8 92.0l0.1 -1.8M77.1 88.7l0.3 -1.8M77.6 85.5l0.4 -1.8M78.3 82.2l0.5 -1.7M79.2 79.0l0.6 -1.7M80.3 75.9l0.7 -1.7M81.5 72.8l0.8 -1.6M83.0 69.9l0.9 -1.6M84.6 67.0l0.9 -1.5M86.4 64.2l1.0 -1.5M88.3 61.5l1.1 -1.4M90.4 59.0l1.2 -1.3M92.7 56.5l1.3 -1.3M95.0 54.2l1.4 -1.2M97.6 52.1l1.4 -1.1M100.2 50.1l1.5 -1.0M102.9 48.3l1.5 -0.9M105.8 46.6l1.6 -0.8M108.8 45.1l1.6 -0.7M111.8 43.8l1.7 -0.6M114.9 42.6l1.7 -0.5M118.1 41.7l1.7 -0.4M121.3 40.9l1.8 -0.3M124.5 40.4l1.8 -0.2M127.8 40.0l1.8 -0.1M131.1 39.8l1.8 -0.0M134.4 39.8l1.8 0.1M137.7 40.0l1.8 0.2M141.0 40.4l1.8 0.3M144.3 41.0l1.8 0.4M147.5 41.8l1.7 0.5M150.6 42.8l1.7 0.6M153.7 44.0l1.7 0.7M156.8 45.3l1.6 0.8M159.7 46.9l1.6 0.9M162.5 48.6l1.5 1.0M165.3 50.4l1.4 1.1M167.9 52.4l1.4 1.2M170.4 54.6l1.3 1.2M172.7 56.9l1.2 1.3M175.0 59.4l1.1 1.4M177.0 62.0l1.1 1.5M178.9 64.7l1.0 1.5M180.7 67.5l0.9 1.6M182.3 70.4l0.8 1.6M183.7 73.4l0.7 1.7M184.9 76.4l0.6 1.7M186.0 79.6l0.5 1.7M186.8 82.8l0.4 1.8M187.5 86.0l0.3 1.8M187.9 89.3l0.2 1.8M188.2 92.6l0.1 1.8M188.3 95.9l-0.0 1.8M188.2 99.2l-0.1 1.8M187.9 102.5l-0.3 1.8M187.4 105.7l-0.4 1.8M186.7 109.0l-0.5 1.7M185.8 112.2l-0.6 1.7M176.3 135.0l-1.2 1.3M174.1 137.3l-1.3 1.3M171.7 139.6l-1.4 1.2M169.1 141.7l-1.4 1.1M166.5 143.7l-1.5 1.0M163.7 145.5l-1.5 0.9M160.9 147.2l-1.6 0.8M157.9 148.7l-1.6 0.8M154.9 150.1l-1.7 0.7M151.8 151.2l-1.7 0.6M148.7 152.2l-1.7 0.5M145.5 153.1l-1.8 0.4M142.2 153.7l-1.8 0.3M139.0 154.2l-1.8 0.2M135.7 154.4l-1.8 0.1M132.4 154.5l-1.8 -0.0M129.1 154.4l-1.8 -0.1M125.8 154.1l-1.8 -0.2M122.5 153.7l-1.8 -0.3M119.3 153.0l-1.7 -0.4M116.1 152.2l-1.7 -0.5M112.9 151.2l-1.7 -0.6M109.8 150.0l-1.7 -0.7M106.8 148.6l-1.6 -0.8M103.9 147.1l-1.6 -0.9M101.0 145.4l-1.5 -1.0M98.3 143.6l-1.4 -1.1M95.7 141.6l-1.4 -1.1M93.1 139.4l-1.3 -1.2M90.8 137.2l-1.3 -1.3M88.5 134.8l-1.2 -1.4M86.4 132.2l-1.1 -1.4M84.4 129.6l-1.0 -1.5M82.6 126.8l-0.9 -1.5M80.9 124.0l-0.8 -1.6M79.4 121.0l-0.8 -1.6M78.0 118.0l-0.7 -1.7M76.9 114.9l-0.6 -1.7M75.9 111.8l-0.5 -1.7M75.0 108.6l-0.4 -1.8M74.4 105.3l-0.3 -1.8M73.9 102.1l-0.2 -1.8M73.7 98.8l-0.1 -1.8M73.6 95.5l0.0 -1.8M73.7 92.2l0.1 -1.8M74.0 88.9l0.2 -1.8M74.4 85.6l0.3 -1.8M75.1 82.4l0.4 -1.7M75.9 79.2l0.5 -1.7M76.9 76.0l0.6 -1.7M78.1 72.9l0.7 -1.7M79.5 69.9l0.8 -1.6M81.0 67.0l0.9 -1.6M82.7 64.1l1.0 -1.5M84.5 61.4l1.1 -1.4M86.5 58.8l1.1 -1.4M88.7 56.2l1.2 -1.3M90.9 53.9l1.3 -1.3M93.3 51.6l1.4 -1.2M95.9 49.5l1.4 -1.1M98.5 47.5l1.5 -1.0M101.3 45.7l1.5 -0.9M104.1 44.0l1.6 -0.8M107.1 42.5l1.6 -0.8M110.1 41.1l1.7 -0.7M113.2 40.0l1.7 -0.6M116.3 39.0l1.7 -0.5M119.5 38.1l1.8 -0.4M122.8 37.5l1.8 -0.3M126.0 37.0l1.8 -0.2M129.3 36.8l1.8 -0.1M132.6 36.7l1.8 0.0M135.9 36.8l1.8 0.1M139.2 37.1l1.8 0.2M142.5 37.5l1.8 0.3M145.7 38.2l1.7 0.4M148.9 39.0l1.7 0.5M152.1 40.0l1.7 0.6M155.2 41.2l1.7 0.7M158.2 42.6l1.6 0.8M161.1 44.1l1.6 0.9M164.0 45.8l1.5 1.0M166.7 47.6l1.4 1.1M169.3 49.6l1.4 1.1M171.9 51.8l1.3 1.2M174.2 54.0l1.3 1.3M176.5 56.4l1.2 1.4M178.6 59.0l1.1 1.4M180.6 61.6l1.0 1.5M182.4 64.4l0.9 1.5M184.1 67.2l0.8 1.6M185.6 70.2l0.8 1.6M187.0 73.2l0.7 1.7M188.1 76.3l0.6 1.7M189.1 79.4l0.5 1.7M190.0 82.6l0.4 1.8M190.6 85.9l0.3 1.8M191.1 89.1l0.2 1.8M191.3 92.4l0.1 1.8M191.4 95.7l-0.0 1.8M191.3 99.0l-0.1 1.8M191.0 102.3l-0.2 1.8M190.6 105.6l-0.3 1.8M189.9 108.8l-0.4 1.7M189.1 112.0l-0.5 1.7M188.1 115.2l-0.6 1.7M186.9 118.3l-0.7 1.7M185.5 121.3l-0.8 1.6M184.0 124.2l-0.9 1.6M182.3 127.1l-1.0 1.5M180.5 129.8l-1.1 1.4M178.5 132.4l-1.1 1.4M160.5 150.9l-1.6 0.8M157.5 152.3l-1.7 0.7M154.5 153.6l-1.7 0.6M151.3 154.7l-1.7 0.5M148.2 155.6l-1.7 0.4M145.0 156.3l-1.8 0.3M141.7 156.9l-1.8 0.2M138.4 157.3l-1.8 0.1M135.1 157.6l-1.8 0.1M131.8 157.6l-1.8 -0.0M128.5 157.5l-1.8 -0.1M125.2 157.2l-1.8 -0.2M122.0 156.7l-1.8 -0.3M118.7 156.1l-1.7 -0.4M115.5 155.2l-1.7 -0.5M112.4 154.3l-1.7 -0.6M109.3 153.1l-1.7 -0.7M106.3 151.8l-1.6 -0.8M103.3 150.3l-1.6 -0.9M100.5 148.7l-1.5 -1.0M97.7 146.9l-1.5 -1.0M95.0 145.0l-1.4 -1.1M92.4 142.9l-1.4 -1.2M90.0 140.7l-1.3 -1.3M87.6 138.4l-1.2 -1.3M85.4 135.9l-1.2 -1.4M83.3 133.4l-1.1 -1.4M81.4 130.7l-1.0 -1.5M79.6 127.9l-0.9 -1.5M77.9 125.1l-0.8 -1.6M76.4 122.1l-0.7 -1.6M75.1 119.1l-0.7 -1.7M73.9 116.0l-0.6 -1.7M72.9 112.9l-0.5 -1.7M72.1 109.7l-0.4 -1.8M71.4 106.4l-0.3 -1.8M71.0 103.2l-0.2 -1.8M70.6 99.9l-0.1 -1.8M70.5 96.6l-0.0 -1.8M70.5 93.3l0.1 -1.8M70.7 90.0l0.2 -1.8M71.1 86.7l0.3 -1.8M71.7 83.5l0.4 -1.8M72.4 80.2l0.5 -1.7M73.3 77.1l0.6 -1.7M74.4 73.9l0.7 -1.7M75.6 70.9l0.7 -1.6M77.0 67.9l0.8 -1.6M78.6 65.0l0.9 -1.6M80.3 62.1l1.0 -1.5M82.1 59.4l1.1 -1.4M84.1 56.8l1.1 -1.4M86.3 54.3l1.2 -1.3M88.5 51.9l1.3 -1.3M90.9 49.6l1.4 -1.2M93.4 47.4l1.4 -1.1M96.1 45.4l1.5 -1.0M98.8 43.6l1.5 -1.0M101.6 41.8l1.6 -0.9M104.5 40.3l1.6 -0.8M107.5 38.9l1.7 -0.7M110.5 37.6l1.7 -0.6M113.7 36.5l1.7 -0.5M116.8 35.6l1.7 -0.4M120.0 34.9l1.8 -0.3M123.3 34.3l1.8 -0.2M126.6 33.9l1.8 -0.1M129.9 33.6l1.8 -0.1M133.2 33.6l1.8 0.0M136.5 33.7l1.8 0.1M139.8 34.0l1.8 0.2M143.0 34.5l1.8 0.3M146.3 35.1l1.7 0.4M149.5 36.0l1.7 0.5M152.6 36.9l1.7 0.6M155.7 38.1l1.7 0.7M158.7 39.4l1.6 0.8M161.7 40.9l1.6 0.9M164.5 42.5l1.5 1.0M167.3 44.3l1.5 1.0M170.0 46.2l1.4 1.1M172.6 48.3l1.4 1.2M175.0 50.5l1.3 1.3M177.4 52.8l1.2 1.3M179.6 55.3l1.2 1.4M181.7 57.8l1.1 1.4M183.6 60.5l1.0 1.5M185.4 63.3l0.9 1.5M187.1 66.1l0.8 1.6M188.6 69.1l0.7 1.6M189.9 72.1l0.7 1.7M191.1 75.2l0.6 1.7M192.1 78.3l0.5 1.7M192.9 81.5l0.4 1.8M193.6 84.8l0.3 1.8M194.0 88.0l0.2 1.8M194.4 91.3l0.1 1.8M194.5 94.6l0.0 1.8M194.5 97.9l-0.1 1.8M194.3 101.2l-0.2 1.8M193.9 104.5l-0.3 1.8M193.3 107.7l-0.4 1.8M192.6 111.0l-0.5 1.7M191.7 114.1l-0.6 1.7M190.6 117.3l-0.7 1.7M189.4 120.3l-0.7 1.6M188.0 123.3l-0.8 1.6M186.4 126.2l-0.9 1.6M184.7 129.1l-1.0 1.5M182.9 131.8l-1.1 1.4M180.9 134.4l-1.1 1.4M178.7 136.9l-1.2 1.3M176.5 139.3l-1.3 1.3M174.1 141.6l-1.4 1.2M171.6 143.8l-1.4 1.1M168.9 145.8l-1.5 1.0M166.2 147.6l-1.5 1.0M163.4 149.4l-1.6 0.9M138.9 160.4l-1.8 0.2M135.6 160.6l-1.8 0.1M132.3 160.7l-1.8 -0.0M129.0 160.6l-1.8 -0.1M125.7 160.3l-1.8 -0.2M122.4 159.9l-1.8 -0.3M119.2 159.3l-1.8 -0.4M116.0 158.6l-1.7 -0.5M112.8 157.7l-1.7 -0.6M109.7 156.6l-1.7 -0.7M106.6 155.3l-1.6 -0.7M103.6 154.0l-1.6 -0.8M100.7 152.4l-1.6 -0.9M97.9 150.7l-1.5 -1.0M95.1 148.9l-1.5 -1.1M92.5 146.9l-1.4 -1.1M89.9 144.8l-1.3 -1.2M87.5 142.6l-1.3 -1.3M85.2 140.3l-1.2 -1.3M83.0 137.8l-1.1 -1.4M80.9 135.3l-1.1 -1.4M78.9 132.6l-1.0 -1.5M77.1 129.8l-0.9 -1.5M75.5 127.0l-0.8 -1.6M73.9 124.1l-0.8 -1.6M72.6 121.1l-0.7 -1.7M71.4 118.0l-0.6 -1.7M70.3 114.9l-0.5 -1.7M69.4 111.7l-0.4 -1.8M68.7 108.5l-0.3 -1.8M68.1 105.2l-0.2 -1.8M67.7 102.0l-0.2 -1.8M67.5 98.7l-0.1 -1.8M67.4 95.4l0.0 -1.8M67.5 92.1l0.1 -1.8M67.8 88.8l0.2 -1.8M68.2 85.5l0.3 -1.8M68.8 82.3l0.4 -1.8M69.5 79.1l0.5 -1.7M70.4 75.9l0.6 -1.7M71.5 72.8l0.7 -1.7M72.8 69.7l0.7 -1.6M74.1 66.7l0.8 -1.6M75.7 63.8l0.9 -1.6M77.4 61.0l1.0 -1.5M79.2 58.2l1.1 -1.5M81.2 55.6l1.1 -1.4M83.3 53.0l1.2 -1.3M85.5 50.6l1.3 -1.3M87.8 48.3l1.3 -1.2M90.3 46.1l1.4 -1.1M92.8 44.0l1.4 -1.1M95.5 42.0l1.5 -1.0M98.3 40.2l1.5 -0.9M101.1 38.6l1.6 -0.8M104.0 37.0l1.6 -0.8M107.0 35.7l1.7 -0.7M110.1 34.5l1.7 -0.6M113.2 33.4l1.7 -0.5M116.4 32.5l1.8 -0.4M119.6 31.8l1.8 -0.3M122.9 31.2l1.8 -0.2M126.1 30.8l1.8 -0.2M129.4 30.6l1.8 -0.1M132.7 30.5l1.8 0.0M136.0 30.6l1.8 0.1M139.3 30.9l1.8 0.2M142.6 31.3l1.8 0.3M145.8 31.9l1.8 0.4M149.0 32.6l1.7 0.5M152.2 33.5l1.7 0.6M155.3 34.6l1.7 0.7M158.4 35.9l1.6 0.7M161.4 37.2l1.6 0.8M164.3 38.8l1.6 0.9M167.1 40.5l1.5 1.0M169.9 42.3l1.5 1.1M172.5 44.3l1.4 1.1M175.1 46.4l1.3 1.2M177.5 48.6l1.3 1.3M179.8 50.9l1.2 1.3M182.0 53.4l1.1 1.4M184.1 55.9l1.1 1.4M186.1 58.6l1.0 1.5M187.9 61.4l0.9 1.5M189.5 64.2l0.8 1.6M191.1 67.1l0.8 1.6M192.4 70.1l0.7 1.7M193.6 73.2l0.6 1.7M194.7 76.3l0.5 1.7M195.6 79.5l0.4 1.8M196.3 82.7l0.3 1.8M196.9 86.0l0.2 1.8M197.3 89.2l0.2 1.8M197.5 92.5l0.1 1.8M197.6 95.8l-0.0 1.8M197.5 99.1l-0.1 1.8M197.2 102.4l-0.2 1.8M196.8 105.7l-0.3 1.8M196.2 108.9l-0.4 1.8M195.5 112.1l-0.5 1.7M194.6 115.3l-0.6 1.7M193.5 118.4l-0.7 1.7M192.2 121.5l-0.7 1.6M190.9 124.5l-0.8 1.6M189.3 127.4l-0.9 1.6M187.6 130.2l-1.0 1.5M185.8 133.0l-1.1 1.5M183.8 135.6l-1.1 1.4M181.7 138.2l-1.2 1.3M179.5 140.6l-1.3 1.3M177.2 142.9l-1.3 1.2M174.7 145.1l-1.4 1.1M172.2 147.2l-1.4 1.1M169.5 149.2l-1.5 1.0M166.7 151.0l-1.5 0.9M163.9 152.6l-1.6 0.8M161.0 154.2l-1.6 0.8M158.0 155.5l-1.7 0.7M154.9 156.7l-1.7 0.6M151.8 157.8l-1.7 0.5M148.6 158.7l-1.8 0.4M145.4 159.4l-1.8 0.3M142.1 160.0l-1.8 0.2M114.1 161.3l-1.7 -0.5M111.0 160.3l-1.7 -0.6M107.9 159.2l-1.7 -0.7M104.8 157.9l-1.6 -0.8M101.8 156.5l-1.6 -0.8M98.9 155.0l-1.6 -0.9M96.1 153.3l-1.5 -1.0M93.4 151.5l-1.5 -1.1M90.7 149.5l-1.4 -1.1M88.2 147.4l-1.4 -1.2M85.7 145.2l-1.3 -1.3M83.4 142.9l-1.2 -1.3M81.1 140.5l-1.2 -1.4M79.0 137.9l-1.1 -1.4M77.0 135.3l-1.0 -1.5M75.2 132.6l-1.0 -1.5M73.5 129.8l-0.9 -1.6M71.9 126.9l-0.8 -1.6M70.4 123.9l-0.7 -1.6M69.2 120.9l-0.6 -1.7M68.0 117.8l-0.6 -1.7M67.0 114.6l-0.5 -1.7M66.2 111.5l-0.4 -1.8M65.5 108.2l-0.3 -1.8M64.9 105.0l-0.2 -1.8M64.6 101.7l-0.1 -1.8M64.4 98.4l-0.1 -1.8M64.3 95.1l0.0 -1.8M64.4 91.8l0.1 -1.8M64.7 88.5l0.2 -1.8M65.1 85.3l0.3 -1.8M65.7 82.0l0.4 -1.8M66.4 78.8l0.5 -1.7M67.3 75.6l0.5 -1.7M68.3 72.5l0.6 -1.7M69.5 69.4l0.7 -1.7M70.8 66.4l0.8 -1.6M72.3 63.5l0.9 -1.6M74.0 60.6l0.9 -1.5M75.7 57.8l1.0 -1.5M77.6 55.1l1.1 -1.4M79.6 52.5l1.2 -1.4M81.8 50.0l1.2 -1.3M84.0 47.6l1.3 -1.3M86.4 45.3l1.3 -1.2M88.9 43.2l1.4 -1.1M91.5 41.1l1.5 -1.1M94.1 39.2l1.5 -1.0M96.9 37.4l1.5 -0.9M99.8 35.8l1.6 -0.8M102.7 34.2l1.6 -0.8M105.7 32.9l1.7 -0.7M108.8 31.7l1.7 -0.6M111.9 30.6l1.7 -0.5M115.0 29.7l1.7 -0.4M118.2 28.9l1.8 -0.4M121.5 28.3l1.8 -0.3M124.8 27.8l1.8 -0.2M128.0 27.5l1.8 -0.1M131.3 27.4l1.8 -0.0M134.6 27.4l1.8 0.1M137.9 27.6l1.8 0.2M141.2 28.0l1.8 0.3M144.5 28.4l1.8 0.3M147.7 29.1l1.7 0.4M150.9 29.9l1.7 0.5M154.0 30.9l1.7 0.6M157.1 32.0l1.7 0.7M160.2 33.3l1.6 0.8M163.2 34.7l1.6 0.8M166.1 36.2l1.6 0.9M168.9 37.9l1.5 1.0M171.6 39.7l1.5 1.1M174.3 41.7l1.4 1.1M176.8 43.8l1.4 1.2M179.3 46.0l1.3 1.3M181.6 48.3l1.2 1.3M183.9 50.7l1.2 1.4M186.0 53.3l1.1 1.4M188.0 55.9l1.0 1.5M189.8 58.6l1.0 1.5M191.5 61.4l0.9 1.6M193.1 64.3l0.8 1.6M194.6 67.3l0.7 1.6M195.8 70.3l0.6 1.7M197.0 73.4l0.6 1.7M198.0 76.6l0.5 1.7M198.8 79.7l0.4 1.8M199.5 83.0l0.3 1.8M200.1 86.2l0.2 1.8M200.4 89.5l0.1 1.8M200.6 92.8l0.1 1.8M200.7 96.1l-0.0 1.8M200.6 99.4l-0.1 1.8M200.3 102.7l-0.2 1.8M199.9 105.9l-0.3 1.8M199.3 109.2l-0.4 1.8M198.6 112.4l-0.5 1.7M197.7 115.6l-0.5 1.7M196.7 118.7l-0.6 1.7M195.5 121.8l-0.7 1.7M194.2 124.8l-0.8 1.6M192.7 127.7l-0.9 1.6M191.0 130.6l-0.9 1.5M189.3 133.4l-1.0 1.5M187.4 136.1l-1.1 1.4M185.4 138.7l-1.2 1.4M183.2 141.2l-1.2 1.3M181.0 143.6l-1.3 1.3M178.6 145.9l-1.3 1.2M176.1 148.0l-1.4 1.1M173.5 150.1l-1.5 1.1M170.9 152.0l-1.5 1.0M168.1 153.8l-1.5 0.9M165.2 155.4l-1.6 0.8M162.3 157.0l-1.6 0.8M159.3 158.3l-1.7 0.7M156.2 159.5l-1.7 0.6M153.1 160.6l-1.7 0.5M150.0 161.5l-1.7 0.4M146.8 162.3l-1.8 0.4M143.5 162.9l-1.8 0.3M140.2 163.4l-1.8 0.2M137.0 163.7l-1.8 0.1M133.7 163.8l-1.8 0.0M130.4 163.8l-1.8 -0.1M127.1 163.6l-1.8 -0.2M123.8 163.2l-1.8 -0.3M120.5 162.8l-1.8 -0.3M117.3 162.1l-1.7 -0.4M89.7 152.6l-1.4 -1.1M87.1 150.6l-1.4 -1.2M84.6 148.5l-1.3 -1.2M82.3 146.2l-1.3 -1.3M80.0 143.8l-1.2 -1.3M77.8 141.3l-1.1 -1.4M75.7 138.8l-1.1 -1.4M73.8 136.1l-1.0 -1.5M72.0 133.3l-0.9 -1.5M70.3 130.5l-0.9 -1.6M68.8 127.6l-0.8 -1.6M67.4 124.6l-0.7 -1.7M66.1 121.6l-0.6 -1.7M65.0 118.5l-0.6 -1.7M64.0 115.3l-0.5 -1.7M63.1 112.2l-0.4 -1.8M62.5 108.9l-0.3 -1.8M61.9 105.7l-0.2 -1.8M61.5 102.4l-0.1 -1.8M61.3 99.1l-0.1 -1.8M61.2 95.8l0.0 -1.8M61.3 92.5l0.1 -1.8M61.5 89.3l0.2 -1.8M61.8 86.0l0.3 -1.8M62.4 82.7l0.3 -1.8M63.0 79.5l0.4 -1.7M63.9 76.3l0.5 -1.7M64.8 73.2l0.6 -1.7M65.9 70.1l0.7 -1.7M67.2 67.0l0.7 -1.6M68.6 64.0l0.8 -1.6M70.1 61.1l0.9 -1.6M71.7 58.3l1.0 -1.5M73.5 55.5l1.0 -1.5M75.5 52.8l1.1 -1.4M77.5 50.2l1.2 -1.4M79.6 47.7l1.2 -1.3M81.9 45.4l1.3 -1.3M84.3 43.1l1.3 -1.2M86.8 40.9l1.4 -1.1M89.3 38.8l1.4 -1.1M92.0 36.9l1.5 -1.0M94.8 35.1l1.5 -0.9M97.6 33.4l1.6 -0.9M100.5 31.9l1.6 -0.8M103.5 30.5l1.7 -0.7M106.5 29.2l1.7 -0.6M109.6 28.1l1.7 -0.6M112.8 27.1l1.7 -0.5M115.9 26.2l1.8 -0.4M119.2 25.6l1.8 -0.3M122.4 25.0l1.8 -0.2M125.7 24.6l1.8 -0.1M129.0 24.4l1.8 -0.1M132.3 24.3l1.8 0.0M135.6 24.4l1.8 0.1M138.8 24.6l1.8 0.2M142.1 24.9l1.8 0.3M145.4 25.5l1.8 0.3M148.6 26.1l1.7 0.4M151.8 27.0l1.7 0.5M154.9 27.9l1.7 0.6M158.0 29.0l1.7 0.7M161.1 30.3l1.6 0.7M164.1 31.7l1.6 0.8M167.0 33.2l1.6 0.9M169.8 34.8l1.5 1.0M172.6 36.6l1.5 1.0M175.3 38.6l1.4 1.1M177.9 40.6l1.4 1.2M180.4 42.7l1.3 1.2M182.7 45.0l1.3 1.3M185.0 47.4l1.2 1.3M187.2 49.9l1.1 1.4M189.3 52.4l1.1 1.4M191.2 55.1l1.0 1.5M193.0 57.9l0.9 1.5M194.7 60.7l0.9 1.6M196.2 63.6l0.8 1.6M197.6 66.6l0.7 1.7M198.9 69.6l0.6 1.7M200.0 72.7l0.6 1.7M201.0 75.9l0.5 1.7M201.9 79.0l0.4 1.8M202.5 82.3l0.3 1.8M203.1 85.5l0.2 1.8M203.5 88.8l0.1 1.8M203.7 92.1l0.1 1.8M203.8 95.4l-0.0 1.8M203.7 98.7l-0.1 1.8M203.5 101.9l-0.2 1.8M203.2 105.2l-0.3 1.8M202.6 108.5l-0.3 1.8M202.0 111.7l-0.4 1.7M201.1 114.9l-0.5 1.7M200.2 118.0l-0.6 1.7M199.1 121.1l-0.7 1.7M197.8 124.2l-0.7 1.6M196.4 127.2l-0.8 1.6M194.9 130.1l-0.9 1.6M193.3 132.9l-1.0 1.5M191.5 135.7l-1.0 1.5M189.5 138.4l-1.1 1.4M187.5 141.0l-1.2 1.4M185.4 143.5l-1.2 1.3M183.1 145.8l-1.3 1.3M180.7 148.1l-1.3 1.2M178.2 150.3l-1.4 1.1M175.7 152.4l-1.4 1.1M173.0 154.3l-1.5 1.0M170.2 156.1l-1.5 0.9M167.4 157.8l-1.6 0.9M164.5 159.3l-1.6 0.8M161.5 160.7l-1.7 0.7M158.5 162.0l-1.7 0.6M155.4 163.1l-1.7 0.6M152.2 164.1l-1.7 0.5M149.1 165.0l-1.8 0.4M145.8 165.6l-1.8 0.3M142.6 166.2l-1.8 0.2M139.3 166.6l-1.8 0.1M136.0 166.8l-1.8 0.1M132.7 166.9l-1.8 -0.0M129.4 166.8l-1.8 -0.1M126.2 166.6l-1.8 -0.2M122.9 166.3l-1.8 -0.3M119.6 165.7l-1.8 -0.3M116.4 165.1l-1.7 -0.4M113.2 164.2l-1.7 -0.5M110.1 163.3l-1.7 -0.6M107.0 162.2l-1.7 -0.7M103.9 160.9l-1.6 -0.7M100.9 159.5l-1.6 -0.8M98.0 158.0l-1.6 -0.9M95.2 156.4l-1.5 -1.0M92.4 154.6l-1.5 -1.0M69.3 134.9l-0.9 -1.5M67.7 132.1l-0.9 -1.6M66.1 129.2l-0.8 -1.6M64.7 126.2l-0.7 -1.6M63.4 123.2l-0.6 -1.7M62.2 120.1l-0.6 -1.7M61.2 117.0l-0.5 -1.7M60.4 113.8l-0.4 -1.8M59.6 110.6l-0.3 -1.8M59.0 107.4l-0.3 -1.8M58.6 104.1l-0.2 -1.8M58.3 100.8l-0.1 -1.8M58.1 97.5l-0.0 -1.8M58.1 94.2l0.1 -1.8M58.2 90.9l0.1 -1.8M58.5 87.7l0.2 -1.8M58.9 84.4l0.3 -1.8M59.5 81.2l0.4 -1.8M60.2 77.9l0.4 -1.7M61.1 74.8l0.5 -1.7M62.1 71.6l0.6 -1.7M63.2 68.5l0.7 -1.7M64.5 65.5l0.7 -1.6M65.9 62.5l0.8 -1.6M67.4 59.6l0.9 -1.6M69.0 56.8l1.0 -1.5M70.8 54.0l1.0 -1.5M72.7 51.3l1.1 -1.4M74.7 48.7l1.2 -1.4M76.9 46.2l1.2 -1.3M79.1 43.8l1.3 -1.3M81.5 41.5l1.3 -1.2M83.9 39.3l1.4 -1.2M86.4 37.2l1.4 -1.1M89.1 35.2l1.5 -1.0M91.8 33.3l1.5 -1.0M94.6 31.6l1.6 -0.9M97.4 30.0l1.6 -0.8M100.4 28.5l1.6 -0.8M103.4 27.1l1.7 -0.7M106.4 25.9l1.7 -0.6M109.6 24.8l1.7 -0.5M112.7 23.9l1.7 -0.5M115.9 23.1l1.8 -0.4M119.1 22.4l1.8 -0.3M122.4 21.9l1.8 -0.2M125.6 21.5l1.8 -0.1M128.9 21.3l1.8 -0.1M132.2 21.2l1.8 0.0M135.5 21.3l1.8 0.1M138.8 21.5l1.8 0.2M142.1 21.8l1.8 0.3M145.3 22.3l1.8 0.3M148.6 22.9l1.8 0.4M151.8 23.7l1.7 0.5M154.9 24.7l1.7 0.6M158.0 25.7l1.7 0.6M161.1 26.9l1.7 0.7M164.1 28.2l1.6 0.8M167.1 29.7l1.6 0.9M169.9 31.3l1.5 0.9M172.7 33.0l1.5 1.0M175.5 34.9l1.5 1.1M178.1 36.8l1.4 1.1M180.7 38.9l1.4 1.2M183.1 41.1l1.3 1.2M185.5 43.4l1.2 1.3M187.8 45.8l1.2 1.4M189.9 48.3l1.1 1.4M191.9 50.8l1.1 1.5M193.9 53.5l1.0 1.5M195.7 56.3l0.9 1.5M197.3 59.1l0.9 1.6M198.9 62.0l0.8 1.6M200.3 65.0l0.7 1.6M201.6 68.0l0.6 1.7M202.8 71.1l0.6 1.7M203.8 74.2l0.5 1.7M204.6 77.4l0.4 1.8M205.4 80.6l0.3 1.8M206.0 83.8l0.3 1.8M206.4 87.1l0.2 1.8M206.7 90.4l0.1 1.8M206.9 93.7l0.0 1.8M206.9 97.0l-0.1 1.8M206.8 100.3l-0.1 1.8M206.5 103.5l-0.2 1.8M206.1 106.8l-0.3 1.8M205.5 110.0l-0.4 1.8M204.8 113.3l-0.4 1.7M203.9 116.4l-0.5 1.7M202.9 119.6l-0.6 1.7M201.8 122.7l-0.7 1.7M200.5 125.7l-0.7 1.6M199.1 128.7l-0.8 1.6M197.6 131.6l-0.9 1.6M196.0 134.4l-1.0 1.5M194.2 137.2l-1.0 1.5M192.3 139.9l-1.1 1.4M190.3 142.5l-1.2 1.4M188.1 145.0l-1.2 1.3M185.9 147.4l-1.3 1.3M183.5 149.7l-1.3 1.2M181.1 151.9l-1.4 1.2M178.6 154.0l-1.4 1.1M175.9 156.0l-1.5 1.0M173.2 157.9l-1.5 1.0M170.4 159.6l-1.6 0.9M167.6 161.2l-1.6 0.8M164.6 162.7l-1.6 0.8M161.6 164.1l-1.7 0.7M158.6 165.3l-1.7 0.6M155.4 166.4l-1.7 0.5M152.3 167.3l-1.7 0.5M149.1 168.1l-1.8 0.4M145.9 168.8l-1.8 0.3M142.6 169.3l-1.8 0.2M139.4 169.7l-1.8 0.1M136.1 169.9l-1.8 0.1M132.8 170.0l-1.8 -0.0M129.5 169.9l-1.8 -0.1M126.2 169.7l-1.8 -0.2M122.9 169.4l-1.8 -0.3M119.7 168.9l-1.8 -0.3M116.4 168.3l-1.8 -0.4M113.2 167.5l-1.7 -0.5M110.1 166.5l-1.7 -0.6M107.0 165.5l-1.7 -0.6M103.9 164.3l-1.7 -0.7M100.9 163.0l-1.6 -0.8M97.9 161.5l-1.6 -0.9M95.1 159.9l-1.5 -0.9M92.3 158.2l-1.5 -1.0M89.5 156.3l-1.5 -1.1M86.9 154.4l-1.4 -1.1M84.3 152.3l-1.4 -1.2M81.9 150.1l-1.3 -1.2M79.5 147.8l-1.2 -1.3M77.2 145.4l-1.2 -1.4M75.1 142.9l-1.1 -1.4M73.1 140.4l-1.1 -1.5M71.1 137.7l-1.0 -1.5" stroke="#000" stroke-opacity="0.6" stroke-width="0.75" fill="none"/>
<path d="M108.3 101.0l-0.3 -1.8M107.8 97.7l-0.1 -1.8M107.7 94.4l0.2 -1.8M108.1 91.1l0.4 -1.8M108.9 87.9l0.6 -1.7M110.2 84.8l0.8 -1.6M111.8 81.9l1.0 -1.5M113.8 79.3l1.2 -1.3M116.2 76.9l1.4 -1.1M118.8 74.9l1.5 -0.9M121.7 73.3l1.6 -0.7M124.7 72.0l1.7 -0.5M127.9 71.2l1.8 -0.3M131.2 70.8l1.8 -0.0M134.6 70.9l1.8 0.2M137.8 71.4l1.7 0.5M141.0 72.3l1.7 0.7M144.0 73.6l1.6 0.9M146.9 75.4l1.4 1.1M149.4 77.5l1.3 1.3M151.7 79.9l1.1 1.4M153.6 82.6l0.9 1.6M155.2 85.5l0.7 1.7M156.3 88.6l0.4 1.7M157.0 91.9l0.2 1.8M157.3 95.2l-0.0 1.8M157.1 98.5l-0.3 1.8M156.5 101.7l-0.5 1.7M155.5 104.9l-0.7 1.6M154.1 107.9l-0.9 1.5M152.2 110.6l-1.1 1.4M150.1 113.1l-1.3 1.2M147.6 115.3l-1.5 1.0M144.8 117.2l-1.6 0.8M141.8 118.6l-1.7 0.6M138.7 119.6l-1.8 0.4M135.4 120.2l-1.8 0.1M132.1 120.4l-1.8 -0.1M128.8 120.1l-1.8 -0.3M125.6 119.4l-1.7 -0.6M122.4 118.3l-1.6 -0.8M119.5 116.7l-1.5 -1.0M116.8 114.8l-1.4 -1.2M114.4 112.6l-1.2 -1.4M112.3 110.0l-1.0 -1.5M110.5 107.2l-0.8 -1.6M109.2 104.1l-0.6 -1.7M56.3 110.0l-0.3 -1.8M55.8 106.7l-0.2 -1.8M55.4 103.5l-0.2 -1.8M55.1 100.2l-0.1 -1.8M55.0 96.9l-0.0 -1.8M55.0 93.6l0.1 -1.8M55.2 90.3l0.1 -1.8M55.5 87.0l0.2 -1.8M55.9 83.8l0.3 -1.8M56.5 80.5l0.4 -1.8M57.2 77.3l0.4 -1.7M58.0 74.1l0.5 -1.7M59.0 71.0l0.6 -1.7M60.1 67.9l0.7 -1.7M61.4 64.9l0.7 -1.6M62.7 61.9l0.8 -1.6M64.2 58.9l0.9 -1.6M65.8 56.1l0.9 -1.5M67.6 53.3l1.0 -1.5M69.4 50.6l1.1 -1.5M71.4 47.9l1.1 -1.4M73.5 45.4l1.2 -1.4M75.7 42.9l1.2 -1.3M78.0 40.5l1.3 -1.3M80.3 38.3l1.3 -1.2M82.8 36.1l1.4 -1.1M85.4 34.1l1.4 -1.1M88.0 32.1l1.5 -1.0M90.8 30.3l1.5 -1.0M93.6 28.6l1.6 -0.9M96.5 27.0l1.6 -0.8M99.4 25.5l1.6 -0.7M102.4 24.2l1.7 -0.7M105.5 23.0l1.7 -0.6M108.6 21.9l1.7 -0.5M111.7 20.9l1.7 -0.5M114.9 20.1l1.8 -0.4M118.1 19.4l1.8 -0.3M121.4 18.9l1.8 -0.2M124.6 18.5l1.8 -0.2M127.9 18.2l1.8 -0.1M131.2 18.1l1.8 -0.0M134.5 18.1l1.8 0.1M137.8 18.3l1.8 0.1M141.1 18.6l1.8 0.2M144.3 19.0l1.8 0.3M147.6 19.6l1.8 0.4M150.8 20.3l1.7 0.4M154.0 21.1l1.7 0.5M157.1 22.1l1.7 0.6M160.2 23.2l1.7 0.7M163.2 24.5l1.6 0.7M166.2 25.8l1.6 0.8M169.2 27.3l1.6 0.9M172.0 28.9l1.5 0.9M174.8 30.7l1.5 1.0M177.5 32.5l1.5 1.1M180.2 34.5l1.4 1.1M182.7 36.6l1.4 1.2M185.2 38.8l1.3 1.2M187.6 41.1l1.3 1.3M189.8 43.4l1.2 1.3M192.0 45.9l1.1 1.4M194.0 48.5l1.1 1.4M196.0 51.1l1.0 1.5M197.8 53.9l1.0 1.5M199.5 56.7l0.9 1.6M201.1 59.6l0.8 1.6M202.6 62.5l0.7 1.6M203.9 65.5l0.7 1.7M205.1 68.6l0.6 1.7M206.2 71.7l0.5 1.7M207.2 74.8l0.5 1.7M208.0 78.0l0.4 1.8M208.7 81.2l0.3 1.8M209.2 84.5l0.2 1.8M209.6 87.7l0.2 1.8M209.9 91.0l0.1 1.8M210.0 94.3l0.0 1.8M210.0 97.6l-0.1 1.8M209.8 100.9l-0.1 1.8M209.5 104.2l-0.2 1.8M209.1 107.4l-0.3 1.8M208.5 110.7l-0.4 1.8M207.8 113.9l-0.4 1.7M207.0 117.1l-0.5 1.7M206.0 120.2l-0.6 1.7M204.9 123.3l-0.7 1.7M203.6 126.3l-0.7 1.6M202.3 129.3l-0.8 1.6M200.8 132.3l-0.9 1.6M199.2 135.1l-0.9 1.5M197.4 137.9l-1.0 1.5M195.6 140.6l-1.1 1.5M193.6 143.3l-1.1 1.4M191.5 145.8l-1.2 1.4M189.3 148.3l-1.2 1.3M187.0 150.7l-1.3 1.3M184.7 152.9l-1.3 1.2M182.2 155.1l-1.4 1.1M179.6 157.1l-1.4 1.1M177.0 159.1l-1.5 1.0M174.2 160.9l-1.5 1.0M171.4 162.6l-1.6 0.9M168.5 164.2l-1.6 0.8M165.6 165.7l-1.6 0.7M162.6 167.0l-1.7 0.7M159.5 168.2l-1.7 0.6M156.4 169.3l-1.7 0.5M153.3 170.3l-1.7 0.5M150.1 171.1l-1.8 0.4M146.9 171.8l-1.8 0.3M143.6 172.3l-1.8 0.2M140.4 172.7l-1.8 0.2M137.1 173.0l-1.8 0.1M133.8 173.1l-1.8 0.0M130.5 173.1l-1.8 -0.1M127.2 172.9l-1.8 -0.1M123.9 172.6l-1.8 -0.2M120.7 172.2l-1.8 -0.3M117.4 171.6l-1.8 -0.4M114.2 170.9l-1.7 -0.4M111.0 170.1l-1.7 -0.5M107.9 169.1l-1.7 -0.6M104.8 168.0l-1.7 -0.7M101.8 166.7l-1.6 -0.7M98.8 165.4l-1.6 -0.8M95.8 163.9l-1.6 -0.9M93.0 162.3l-1.5 -0.9M90.2 160.5l-1.5 -1.0M87.5 158.7l-1.5 -1.1M84.8 156.7l-1.4 -1.1M82.3 154.6l-1.4 -1.2M79.8 152.4l-1.3 -1.2M77.4 150.1l-1.3 -1.3M75.2 147.8l-1.2 -1.3M73.0 145.3l-1.1 -1.4M71.0 142.7l-1.1 -1.4M69.0 140.1l-1.0 -1.5M67.2 137.3l-1.0 -1.5M65.5 134.5l-0.9 -1.6M63.9 131.6l-0.8 -1.6M62.4 128.7l-0.7 -1.6M61.1 125.7l-0.7 -1.7M59.9 122.6l-0.6 -1.7M58.8 119.5l-0.5 -1.7M57.8 116.4l-0.5 -1.7M57.0 113.2l-0.4 -1.8M53.3 80.8l0.3 -1.8M53.9 77.6l0.4 -1.7M54.7 74.4l0.5 -1.7M55.7 71.2l0.6 -1.7M56.7 68.1l0.6 -1.7M57.9 65.0l0.7 -1.7M59.2 62.0l0.8 -1.6M60.7 59.0l0.8 -1.6M62.3 56.1l0.9 -1.6M63.9 53.2l1.0 -1.5M65.7 50.4l1.0 -1.5M67.6 47.7l1.1 -1.4M69.7 45.1l1.1 -1.4M71.8 42.6l1.2 -1.3M74.0 40.1l1.3 -1.3M76.3 37.8l1.3 -1.2M78.8 35.5l1.4 -1.2M81.3 33.4l1.4 -1.1M83.9 31.3l1.4 -1.1M86.6 29.4l1.5 -1.0M89.3 27.5l1.5 -0.9M92.1 25.8l1.6 -0.9M95.0 24.2l1.6 -0.8M98.0 22.7l1.6 -0.8M101.0 21.4l1.7 -0.7M104.1 20.2l1.7 -0.6M107.2 19.1l1.7 -0.5M110.4 18.1l1.7 -0.5M113.6 17.2l1.8 -0.4M116.8 16.5l1.8 -0.3M120.1 16.0l1.8 -0.3M123.4 15.5l1.8 -0.2M126.7 15.2l1.8 -0.1M130.0 15.0l1.8 -0.0M133.3 15.0l1.8 0.0M136.6 15.1l1.8 0.1M139.9 15.3l1.8 0.2M143.2 15.7l1.8 0.3M146.4 16.2l1.8 0.3M149.7 16.8l1.8 0.4M152.9 17.6l1.7 0.5M156.1 18.5l1.7 0.5M159.2 19.6l1.7 0.6M162.3 20.7l1.7 0.7M165.4 22.0l1.6 0.8M168.4 23.4l1.6 0.8M171.3 25.0l1.6 0.9M174.2 26.6l1.5 0.9M177.0 28.4l1.5 1.0M179.7 30.3l1.4 1.1M182.3 32.2l1.4 1.1M184.9 34.3l1.4 1.2M187.4 36.6l1.3 1.2M189.7 38.9l1.3 1.3M192.0 41.3l1.2 1.3M194.2 43.7l1.1 1.4M196.3 46.3l1.1 1.4M198.3 49.0l1.0 1.5M200.1 51.7l1.0 1.5M201.9 54.5l0.9 1.6M203.5 57.4l0.8 1.6M205.0 60.4l0.8 1.6M206.4 63.4l0.7 1.7M207.6 66.4l0.6 1.7M208.8 69.5l0.6 1.7M209.8 72.7l0.5 1.7M210.7 75.9l0.4 1.8M211.4 79.1l0.3 1.8M212.0 82.4l0.3 1.8M212.5 85.6l0.2 1.8M212.8 88.9l0.1 1.8M213.0 92.2l0.1 1.8M213.1 95.5l-0.0 1.8M213.0 98.8l-0.1 1.8M212.8 102.2l-0.2 1.8M212.5 105.4l-0.2 1.8M212.0 108.7l-0.3 1.8M211.4 112.0l-0.4 1.8M210.7 115.2l-0.5 1.7M209.8 118.4l-0.5 1.7M208.8 121.6l-0.6 1.7M207.7 124.7l-0.7 1.7M206.4 127.7l-0.7 1.6M205.0 130.7l-0.8 1.6M203.5 133.7l-0.9 1.6M201.9 136.6l-0.9 1.5M200.2 139.4l-1.0 1.5M198.3 142.1l-1.1 1.5M196.4 144.8l-1.1 1.4M194.3 147.4l-1.2 1.4M192.1 149.9l-1.2 1.3M189.8 152.3l-1.3 1.3M187.5 154.6l-1.3 1.2M185.0 156.8l-1.4 1.2M182.4 158.9l-1.4 1.1M179.8 160.9l-1.5 1.0M177.1 162.8l-1.5 1.0M174.3 164.5l-1.5 0.9M171.4 166.2l-1.6 0.9M168.5 167.7l-1.6 0.8M165.5 169.1l-1.7 0.7M162.4 170.4l-1.7 0.6M159.3 171.6l-1.7 0.6M156.2 172.6l-1.7 0.5M153.0 173.5l-1.7 0.4M149.8 174.3l-1.8 0.4M146.6 175.0l-1.8 0.3M143.3 175.5l-1.8 0.2M140.0 175.9l-1.8 0.1M136.7 176.1l-1.8 0.1M133.4 176.2l-1.8 -0.0M130.1 176.2l-1.8 -0.1M126.8 176.0l-1.8 -0.1M123.5 175.7l-1.8 -0.2M120.2 175.3l-1.8 -0.3M116.9 174.7l-1.8 -0.4M113.7 174.0l-1.7 -0.4M110.5 173.1l-1.7 -0.5M107.3 172.2l-1.7 -0.6M104.2 171.1l-1.7 -0.7M101.1 169.9l-1.7 -0.7M98.1 168.5l-1.6 -0.8M95.2 167.0l-1.6 -0.9M92.2 165.4l-1.5 -0.9M89.4 163.7l-1.5 -1.0M86.7 161.9l-1.5 -1.0M84.0 160.0l-1.4 -1.1M81.4 157.9l-1.4 -1.2M78.9 155.8l-1.3 -1.2M76.4 153.5l-1.3 -1.3M74.1 151.2l-1.2 -1.3M71.9 148.7l-1.2 -1.4M69.7 146.2l-1.1 -1.4M67.7 143.6l-1.1 -1.5M65.8 140.9l-1.0 -1.5M64.0 138.1l-0.9 -1.5M62.3 135.2l-0.9 -1.6M60.7 132.3l-0.8 -1.6M59.3 129.3l-0.7 -1.6M58.0 126.3l-0.7 -1.7M56.8 123.2l-0.6 -1.7M55.7 120.1l-0.5 -1.7M54.8 116.9l-0.5 -1.7M54.0 113.7l-0.4 -1.8M53.3 110.5l-0.3 -1.8M52.7 107.2l-0.2 -1.8M52.3 103.9l-0.2 -1.8M52.1 100.6l-0.1 -1.8M51.9 97.3l-0.0 -1.8M51.9 94.0l0.1 -1.8M52.0 90.7l0.1 -1.8M52.3 87.4l0.2 -1.8M52.7 84.1l0.3 -1.8M61.3 51.5l1.0 -1.5M63.1 48.8l1.0 -1.5M65.0 46.0l1.1 -1.4M67.0 43.4l1.1 -1.4M69.2 40.9l1.2 -1.3M71.4 38.4l1.2 -1.3M73.7 36.0l1.3 -1.3M76.1 33.8l1.3 -1.2M78.6 31.6l1.4 -1.1M81.1 29.5l1.4 -1.1M83.8 27.5l1.5 -1.0M86.5 25.7l1.5 -1.0M89.3 23.9l1.6 -0.9M92.2 22.2l1.6 -0.9M95.1 20.7l1.6 -0.8M98.1 19.3l1.6 -0.7M101.1 18.0l1.7 -0.7M104.2 16.8l1.7 -0.6M107.4 15.8l1.7 -0.5M110.5 14.8l1.7 -0.5M113.7 14.0l1.8 -0.4M117.0 13.3l1.8 -0.3M120.2 12.8l1.8 -0.2M123.5 12.4l1.8 -0.2M126.8 12.1l1.8 -0.1M130.1 11.9l1.8 -0.0M133.4 11.9l1.8 0.0M136.7 12.0l1.8 0.1M140.0 12.2l1.8 0.2M143.3 12.6l1.8 0.3M146.6 13.1l1.8 0.3M149.8 13.7l1.8 0.4M153.1 14.5l1.7 0.5M156.3 15.3l1.7 0.5M159.4 16.3l1.7 0.6M162.5 17.5l1.7 0.7M165.6 18.7l1.6 0.7M168.6 20.1l1.6 0.8M171.5 21.6l1.6 0.9M174.4 23.2l1.5 0.9M177.3 24.9l1.5 1.0M180.0 26.7l1.5 1.0M182.7 28.6l1.4 1.1M185.3 30.7l1.4 1.2M187.8 32.8l1.3 1.2M190.3 35.0l1.3 1.3M192.6 37.4l1.2 1.3M194.9 39.8l1.2 1.4M197.0 42.3l1.1 1.4M199.1 44.9l1.1 1.4M201.0 47.6l1.0 1.5M202.9 50.3l1.0 1.5M204.6 53.1l0.9 1.6M206.2 56.0l0.8 1.6M207.8 58.9l0.8 1.6M209.1 62.0l0.7 1.7M210.4 65.0l0.6 1.7M211.6 68.1l0.6 1.7M212.6 71.3l0.5 1.7M213.5 74.4l0.4 1.7M214.3 77.7l0.4 1.8M214.9 80.9l0.3 1.8M215.4 84.2l0.2 1.8M215.8 87.4l0.2 1.8M216.1 90.7l0.1 1.8M216.2 94.0l0.0 1.8M216.2 97.4l-0.1 1.8M216.1 100.7l-0.1 1.8M215.8 104.0l-0.2 1.8M215.4 107.2l-0.3 1.8M214.9 110.5l-0.3 1.8M214.2 113.8l-0.4 1.8M213.4 117.0l-0.5 1.7M212.5 120.1l-0.5 1.7M211.5 123.3l-0.6 1.7M210.3 126.4l-0.7 1.7M209.1 129.4l-0.7 1.6M207.7 132.4l-0.8 1.6M206.1 135.4l-0.9 1.6M204.5 138.3l-0.9 1.5M202.8 141.1l-1.0 1.5M200.9 143.8l-1.1 1.5M199.0 146.5l-1.1 1.4M196.9 149.1l-1.2 1.4M194.7 151.6l-1.2 1.3M192.5 154.0l-1.3 1.3M190.1 156.3l-1.3 1.2M187.7 158.5l-1.4 1.2M185.2 160.7l-1.4 1.1M182.5 162.7l-1.5 1.1M179.9 164.6l-1.5 1.0M177.1 166.4l-1.5 0.9M174.3 168.1l-1.6 0.9M171.4 169.7l-1.6 0.8M168.4 171.2l-1.6 0.8M165.4 172.6l-1.7 0.7M162.3 173.8l-1.7 0.6M159.2 174.9l-1.7 0.6M156.1 175.9l-1.7 0.5M152.9 176.8l-1.8 0.4M149.6 177.5l-1.8 0.3M146.4 178.1l-1.8 0.3M143.1 178.6l-1.8 0.2M139.8 179.0l-1.8 0.1M136.5 179.2l-1.8 0.1M133.2 179.3l-1.8 -0.0M129.9 179.3l-1.8 -0.1M126.6 179.1l-1.8 -0.1M123.3 178.8l-1.8 -0.2M120.0 178.4l-1.8 -0.3M116.8 177.8l-1.8 -0.4M113.5 177.1l-1.7 -0.4M110.3 176.3l-1.7 -0.5M107.2 175.4l-1.7 -0.6M104.0 174.3l-1.7 -0.6M100.9 173.1l-1.7 -0.7M97.9 171.8l-1.6 -0.8M94.9 170.4l-1.6 -0.8M92.0 168.9l-1.6 -0.9M89.1 167.2l-1.5 -0.9M86.3 165.4l-1.5 -1.0M83.6 163.5l-1.4 -1.1M81.0 161.6l-1.4 -1.1M78.4 159.5l-1.4 -1.2M75.9 157.3l-1.3 -1.2M73.5 155.0l-1.3 -1.3M71.2 152.6l-1.2 -1.3M69.0 150.2l-1.2 -1.4M66.9 147.6l-1.1 -1.4M64.9 145.0l-1.0 -1.5M63.0 142.3l-1.0 -1.5M61.2 139.5l-0.9 -1.5M59.5 136.6l-0.9 -1.6M58.0 133.7l-0.8 -1.6M56.5 130.8l-0.7 -1.6M55.2 127.7l-0.7 -1.7M54.0 124.6l-0.6 -1.7M52.9 121.5l-0.5 -1.7M51.9 118.4l-0.5 -1.7M51.1 115.2l-0.4 -1.8M50.4 111.9l-0.3 -1.8M49.8 108.7l-0.3 -1.8M49.4 105.4l-0.2 -1.8M49.0 102.1l-0.1 -1.8M48.9 98.8l-0.0 -1.8M48.8 95.5l0.0 -1.8M48.9 92.2l0.1 -1.8M49.1 88.9l0.2 -1.8M49.4 85.6l0.2 -1.8M49.9 82.3l0.3 -1.8M50.4 79.1l0.4 -1.8M51.2 75.8l0.4 -1.7M52.0 72.6l0.5 -1.7M53.0 69.5l0.6 -1.7M54.1 66.4l0.6 -1.7M55.3 63.3l0.7 -1.7M56.6 60.3l0.8 -1.6M58.1 57.3l0.8 -1.6M59.7 54.4l0.9 -1.6" stroke="#000" stroke-opacity="0.3" stroke-width="0.7" fill="none"/>
<path d="M60.5 55.8 L62.5 40.2 L88.9 25.5 L100.6 25.0 L116.2 26.5 L126.0 32.4 L132.0 39.2 L137.9 46.0 L140.8 55.8 L140.8 65.6 L137.9 75.3 L134.9 81.2M60.5 55.8 L68.4 60.0 L84.0 66.5 L97.0 73.0 L105.0 77.0 L116.2 87.0M99.7 75.6 L90.6 75.0 L81.5 75.6 L71.0 80.8 L63.2 88.6 L58.0 99.0 L52.8 112.0 L52.7 136.0 L57.6 145.8 L69.3 153.6M69.3 153.6 L81.0 140.0 L90.8 128.2 L100.6 118.5 L110.3 111.6 L120.1 106.8M100.6 122.4 L97.6 136.0 L100.6 147.8 L110.3 161.4 L120.1 171.2 L132.0 181.0 L157.4 182.9 L167.1 175.1 L163.2 165.3 L155.4 153.6 L147.6 140.0 L141.8 126.3 L136.9 112.6M143.7 132.1 L155.4 140.0 L171.0 143.9 L186.7 141.9 L198.4 136.0 L210.1 126.3 L216.0 116.5 L219.9 104.8 L220.8 97.0 L217.9 91.0 L214.0 86.1 L190.6 89.0 L171.0 91.9 L147.6 92.9M147.6 12.9 L146.6 26.5 L145.7 46.0 L143.7 61.7 L140.8 73.4 L137.9 81.2M147.6 12.9 L163.2 12.9 L175.0 22.6 L184.7 32.4 L190.6 46.0 L191.5 61.7 L188.6 73.4 L182.8 85.1 L176.9 92.9M111.0 80.7 L118.1 89.1M113.0 79.5 L120.0 87.8M134.2 80.1 L139.0 71.8M136.6 80.7 L140.8 72.4M148.0 94.5 L164.7 95.0M148.0 97.4 L164.7 97.7M137.2 111.8 L140.8 122.5M139.6 111.2 L142.0 122.5M105.0 116.5 L119.3 105.8M106.5 118.3 L120.5 107.8" stroke="#ffffff" stroke-width="0.75" fill="none" stroke-opacity="0.85" stroke-linejoin="round"/>
</g></g>
<path d="M52.9 197.0v-4.5M79.2 197.0v-4.5M105.5 197.0v-4.5M131.8 197.0v-4.5M158.1 197.0v-4.5M184.4 197.0v-4.5M210.7 197.0v-4.5M237.0 197.0v-4.5M29.0 174.6h4.5M29.0 148.6h4.5M29.0 122.5h4.5M29.0 96.5h4.5M29.0 70.5h4.5M29.0 44.4h4.5M29.0 18.4h4.5" stroke="#101040" stroke-width="0.7" fill="none"/>
<path d="M31.9 197.0v-2.2M37.1 197.0v-2.2M42.4 197.0v-2.2M47.6 197.0v-2.2M58.2 197.0v-2.2M63.4 197.0v-2.2M68.7 197.0v-2.2M73.9 197.0v-2.2M84.5 197.0v-2.2M89.7 197.0v-2.2M95.0 197.0v-2.2M100.2 197.0v-2.2M110.8 197.0v-2.2M116.0 197.0v-2.2M121.3 197.0v-2.2M126.5 197.0v-2.2M137.1 197.0v-2.2M142.3 197.0v-2.2M147.6 197.0v-2.2M152.8 197.0v-2.2M163.4 197.0v-2.2M168.6 197.0v-2.2M173.9 197.0v-2.2M179.1 197.0v-2.2M189.7 197.0v-2.2M194.9 197.0v-2.2M200.2 197.0v-2.2M205.4 197.0v-2.2M216.0 197.0v-2.2M221.2 197.0v-2.2M226.5 197.0v-2.2M231.7 197.0v-2.2M29.0 195.4h2.2M29.0 190.2h2.2M29.0 185.0h2.2M29.0 179.8h2.2M29.0 169.4h2.2M29.0 164.2h2.2M29.0 159.0h2.2M29.0 153.8h2.2M29.0 143.4h2.2M29.0 138.1h2.2M29.0 132.9h2.2M29.0 127.7h2.2M29.0 117.3h2.2M29.0 112.1h2.2M29.0 106.9h2.2M29.0 101.7h2.2M29.0 91.3h2.2M29.0 86.1h2.2M29.0 80.9h2.2M29.0 75.7h2.2M29.0 65.3h2.2M29.0 60.1h2.2M29.0 54.9h2.2M29.0 49.6h2.2M29.0 39.2h2.2M29.0 34.0h2.2M29.0 28.8h2.2M29.0 23.6h2.2M29.0 13.2h2.2M29.0 8.0h2.2" stroke="#101040" stroke-width="0.6" stroke-opacity="0.45" fill="none"/>
<g class="tl"><text x="26.3" y="21.1" text-anchor="end">0.015</text><text x="26.3" y="47.1" text-anchor="end">0.01</text><text x="26.3" y="73.2" text-anchor="end">0.005</text><text x="26.3" y="99.2" text-anchor="end">0</text><text x="26.3" y="125.2" text-anchor="end">−0.005</text><text x="26.3" y="151.3" text-anchor="end">−0.01</text><text x="26.3" y="177.3" text-anchor="end">−0.015</text><text x="52.9" y="204.8" text-anchor="middle">−0.015</text><text x="79.2" y="204.8" text-anchor="middle">−0.01</text><text x="105.5" y="204.8" text-anchor="middle">−0.005</text><text x="131.8" y="204.8" text-anchor="middle">0</text><text x="158.1" y="204.8" text-anchor="middle">0.005</text><text x="184.4" y="204.8" text-anchor="middle">0.01</text><text x="210.7" y="204.8" text-anchor="middle">0.015</text><text x="237.0" y="204.8" text-anchor="middle">0.02</text></g>
<text class="ax" x="134.5" y="213.6" text-anchor="middle">y/L</text>
<text class="ax" transform="translate(13.0 101.0) rotate(-90)" text-anchor="middle">z/L</text>
<text class="cap" x="133.8" y="228.0" text-anchor="middle">(a)</text>
<path d="M244.8 7.6h10.5" stroke="#a0a0a0" stroke-width="0.6"/>
<path d="M256.3 7.6l-2 -1v2z" fill="#a0a0a0"/>
<text class="lg" x="244.6" y="17.9">0.3</text>
<text class="uu" x="254.6" y="30.0" text-anchor="middle">u/U</text>
<rect x="231.0" y="34.1" width="9.2" height="5.0" fill="#ff0000"/><rect x="231.0" y="38.1" width="9.2" height="8.5" fill="#ff1a00"/><rect x="231.0" y="45.6" width="9.2" height="8.5" fill="#ff4c00"/><rect x="231.0" y="53.1" width="9.2" height="8.5" fill="#ff8000"/><rect x="231.0" y="60.6" width="9.2" height="8.5" fill="#ffb300"/><rect x="231.0" y="68.1" width="9.2" height="8.5" fill="#ffe500"/><rect x="231.0" y="75.6" width="9.2" height="8.5" fill="#e5ff00"/><rect x="231.0" y="83.1" width="9.2" height="8.5" fill="#b3ff00"/><rect x="231.0" y="90.6" width="9.2" height="8.5" fill="#80ff00"/><rect x="231.0" y="98.1" width="9.2" height="8.5" fill="#4cff00"/><rect x="231.0" y="105.6" width="9.2" height="8.5" fill="#1aff00"/><rect x="231.0" y="113.1" width="9.2" height="8.5" fill="#00ff1a"/><rect x="231.0" y="120.6" width="9.2" height="8.5" fill="#00ff4c"/><rect x="231.0" y="128.1" width="9.2" height="8.5" fill="#00ff80"/><rect x="231.0" y="135.6" width="9.2" height="8.5" fill="#00ffb2"/><rect x="231.0" y="143.1" width="9.2" height="8.5" fill="#00ffe5"/><rect x="231.0" y="150.6" width="9.2" height="8.5" fill="#00e6ff"/><rect x="231.0" y="158.1" width="9.2" height="8.5" fill="#00b2ff"/><rect x="231.0" y="165.6" width="9.2" height="8.5" fill="#0080ff"/><rect x="231.0" y="173.1" width="9.2" height="8.5" fill="#004cff"/><rect x="231.0" y="180.6" width="9.2" height="8.5" fill="#001aff"/><rect x="231.0" y="188.1" width="9.2" height="3.8" fill="#0000ff"/>
<g class="cl"><text x="245.7" y="41.0">1.25</text><text x="245.7" y="48.5">1.2375</text><text x="245.7" y="56.0">1.225</text><text x="245.7" y="63.5">1.2125</text><text x="245.7" y="71.0">1.2</text><text x="245.7" y="78.5">1.1875</text><text x="245.7" y="86.0">1.175</text><text x="245.7" y="93.5">1.1625</text><text x="245.7" y="101.0">1.15</text><text x="245.7" y="108.5">1.1375</text><text x="245.7" y="116.0">1.125</text><text x="245.7" y="123.5">1.1125</text><text x="245.7" y="130.9">1.1</text><text x="245.7" y="138.4">1.0875</text><text x="245.7" y="145.9">1.075</text><text x="245.7" y="153.4">1.0625</text><text x="245.7" y="160.9">1.05</text><text x="245.7" y="168.4">1.0375</text><text x="245.7" y="175.9">1.025</text><text x="245.7" y="183.4">1.0125</text><text x="245.7" y="190.9">1</text></g>
<clipPath id="cb"><rect x="28.6" y="233.0" width="211.9" height="193.0"/></clipPath>
<g clip-path="url(#cb)">
<rect x="28.6" y="233.0" width="211.9" height="193.0" fill="#0000ff"/>
<g filter="url(#bl)">
<path fill="#001aff" d="M141.1 412.7L133.6 413.0 123.6 412.8 122.6 412.5 119.6 412.3 118.6 412.0 116.6 411.8 115.6 411.5 114.1 411.4 113.1 411.0 111.6 410.8 111.1 410.5 109.6 410.3 109.1 410.0 108.1 409.9 107.3 409.5 106.1 409.3 105.6 409.0 104.6 408.8 104.1 408.5 103.1 408.3 102.6 408.0 100.6 407.4 100.1 407.0 99.1 406.8 91.6 403.3 84.6 399.3 83.6 398.5 83.1 398.3 82.1 397.5 81.6 397.3 80.1 396.0 79.6 395.9 78.1 394.5 77.6 394.3 73.6 390.9 65.3 382.5 64.6 381.5 61.2 377.5 61.1 377.0 58.8 374.0 58.6 373.5 57.8 372.5 55.7 369.0 55.6 368.5 54.3 366.5 52.3 362.5 51.1 359.5 50.3 358.0 50.1 357.0 49.7 356.5 49.1 354.5 48.8 354.0 48.6 353.0 48.3 352.5 48.1 351.5 47.8 351.0 45.7 343.0 45.6 341.5 45.3 340.5 45.1 338.5 44.8 337.5 44.6 334.5 44.3 333.5 44.1 325.0 44.3 316.5 44.6 315.5 44.8 312.5 45.1 311.5 45.3 309.5 45.6 308.5 45.7 307.0 47.8 299.0 48.1 298.5 48.3 297.5 48.6 297.0 48.8 296.0 49.1 295.5 49.7 293.5 50.1 293.0 50.3 292.0 51.1 290.5 52.3 287.5 54.3 283.5 55.6 281.5 55.7 281.0 57.8 277.5 58.6 276.5 58.8 276.0 59.6 275.0 59.8 274.5 61.1 273.0 61.2 272.5 62.6 271.0 62.8 270.5 66.2 266.5 74.6 258.2 75.6 257.5 79.6 254.1 80.1 254.0 83.1 251.7 83.6 251.5 84.6 250.7 88.1 248.6 88.6 248.5 90.6 247.2 94.6 245.2 97.6 244.0 99.1 243.2 100.1 243.0 100.6 242.6 102.6 242.0 103.1 241.7 104.1 241.5 104.6 241.2 105.6 241.0 106.1 240.7 114.1 238.6 115.6 238.5 116.6 238.2 118.6 238.0 119.6 237.7 122.6 237.5 123.6 237.2 132.1 237.0 140.6 237.2 141.6 237.5 144.6 237.7 145.6 238.0 147.6 238.2 148.6 238.5 150.1 238.6 158.1 240.7 158.6 241.0 159.6 241.2 160.1 241.5 161.1 241.7 161.6 242.0 163.6 242.6 164.1 243.0 165.1 243.2 166.6 244.0 169.6 245.2 173.6 247.2 175.6 248.5 176.1 248.6 179.6 250.7 180.6 251.5 181.1 251.7 182.1 252.5 182.6 252.7 184.1 254.0 184.6 254.1 186.1 255.5 186.6 255.7 190.6 259.1 198.9 267.5 199.6 268.5 203.0 272.5 203.1 273.0 205.4 276.0 205.6 276.5 206.4 277.5 208.5 281.0 208.6 281.5 209.9 283.5 211.9 287.5 213.1 290.5 213.9 292.0 214.1 293.0 214.5 293.5 215.1 295.5 215.4 296.0 215.6 297.0 215.9 297.5 216.1 298.5 216.4 299.0 218.5 307.0 218.6 308.5 218.9 309.5 219.1 311.5 219.4 312.5 219.6 315.5 219.9 316.5 220.1 325.0 219.9 333.5 219.6 334.5 219.4 337.5 219.1 338.5 218.9 340.5 218.6 341.5 218.5 343.0 216.4 351.0 216.1 351.5 215.9 352.5 215.6 353.0 215.4 354.0 215.1 354.5 214.5 356.5 214.1 357.0 213.9 358.0 213.1 359.5 211.9 362.5 209.9 366.5 208.6 368.5 208.5 369.0 206.4 372.5 205.6 373.5 205.4 374.0 204.6 375.0 204.4 375.5 203.1 377.0 203.0 377.5 201.6 379.0 201.4 379.5 198.0 383.5 189.6 391.8 188.6 392.5 184.6 395.9 184.1 396.0 181.1 398.3 180.6 398.5 179.6 399.3 176.1 401.4 175.6 401.5 173.6 402.8 169.6 404.8 166.6 406.0 165.1 406.8 164.1 407.0 163.6 407.4 161.6 408.0 161.1 408.3 160.1 408.5 159.6 408.8 158.6 409.0 158.1 409.3 150.1 411.4 148.6 411.5 147.6 411.8 145.6 412.0 144.6 412.3 141.6 412.5ZM135.7 339.5L138.1 338.6 140.2 337.5 142.6 335.5 144.6 332.9 145.6 331.0 146.6 327.9 146.9 325.0 146.6 322.0 145.6 319.0 144.6 317.0 142.6 314.5 140.1 312.5 137.1 311.0 135.1 310.4 131.6 310.0 128.1 310.5 125.6 311.4 123.0 313.0 120.6 315.2 118.9 317.5 117.6 320.5 117.0 323.0 117.0 326.5 117.6 329.5 118.6 331.9 120.1 334.2 122.4 336.5 124.6 338.1 126.6 339.0 128.1 339.5 130.6 339.9 132.1 340.0Z"/>
<path fill="#004cff" d="M140.6 412.5L134.1 412.8 124.6 412.6 120.1 412.1 114.6 411.2 106.6 409.2 98.1 406.1 91.6 403.1 84.1 398.7 77.1 393.6 73.6 390.7 70.1 387.3 66.4 383.5 63.5 380.0 58.4 373.0 54.0 365.5 51.4 360.0 50.0 356.5 47.5 349.0 46.4 345.0 45.4 340.0 44.5 332.5 44.3 320.5 44.9 313.5 46.4 305.0 48.4 298.0 51.4 290.0 53.5 285.5 55.9 281.0 60.5 274.0 66.0 267.0 73.1 259.8 79.1 254.8 85.6 250.3 92.6 246.4 100.6 242.9 108.1 240.4 112.1 239.3 117.1 238.3 124.6 237.4 136.6 237.2 143.6 237.8 152.1 239.3 159.1 241.3 167.1 244.3 171.6 246.4 176.1 248.8 183.1 253.4 190.1 258.9 197.3 266.0 202.3 272.0 206.8 278.5 210.7 285.5 214.2 293.5 216.7 301.0 217.8 305.0 218.8 310.0 219.7 317.5 219.9 326.0 219.7 333.0 219.2 337.0 218.3 342.5 216.3 350.5 213.2 359.0 210.2 365.5 205.8 373.0 200.7 380.0 197.8 383.5 194.4 387.0 190.6 390.7 187.1 393.6 180.1 398.7 172.6 403.1 166.1 406.1 157.6 409.2 149.6 411.2 144.1 412.1ZM135.4 340.0L138.6 338.9 141.1 337.4 143.3 335.5 145.2 333.0 146.5 330.5 147.4 327.0 147.5 324.0 147.0 321.0 145.8 318.0 144.1 315.5 142.1 313.4 139.6 311.6 136.6 310.3 134.1 309.7 131.1 309.6 128.1 310.1 125.1 311.1 122.6 312.7 120.1 315.0 118.3 317.5 117.2 320.0 116.4 323.0 116.3 326.0 116.7 328.5 117.8 331.5 119.3 334.0 121.6 336.5 124.1 338.3 127.1 339.7 129.6 340.2 132.6 340.4Z"/>
<path fill="#0080ff" d="M138.6 412.5L128.1 412.6 120.7 412.0 112.4 410.5 103.7 408.0 96.1 405.0 88.3 401.0 84.2 398.5 80.6 396.0 74.3 391.0 68.1 385.0 62.6 378.5 57.6 371.3 53.6 364.2 50.6 357.5 49.1 353.4 47.6 348.6 45.6 339.7 44.6 331.5 44.5 321.0 45.1 313.6 46.6 305.3 49.1 296.6 52.1 289.0 56.1 281.2 58.6 277.1 61.1 273.5 66.1 267.2 72.1 261.0 78.6 255.5 85.8 250.5 92.9 246.5 99.6 243.5 103.7 242.0 108.5 240.5 117.4 238.5 125.6 237.5 136.1 237.4 143.5 238.0 151.8 239.5 160.5 242.0 168.1 245.0 175.9 249.0 180.0 251.5 183.6 254.0 189.9 259.0 196.1 265.0 201.6 271.5 206.6 278.7 210.6 285.8 213.6 292.5 215.1 296.6 216.6 301.4 218.6 310.3 219.6 318.5 219.7 329.0 219.1 336.4 217.6 344.7 215.1 353.4 212.1 361.0 208.1 368.8 205.6 372.9 203.1 376.5 198.1 382.8 192.1 389.0 185.6 394.5 178.4 399.5 171.3 403.5 164.6 406.5 160.5 408.0 155.7 409.5 146.8 411.5ZM135.9 340.5L139.1 339.4 141.6 337.9 144.3 335.5 146.1 333.0 147.5 330.0 148.3 327.0 148.4 324.0 147.8 321.0 146.7 318.0 145.1 315.5 142.7 313.0 140.1 311.2 137.1 309.8 134.1 309.1 130.6 309.0 127.6 309.6 124.6 310.7 122.1 312.2 119.6 314.5 117.7 317.0 116.3 320.0 115.5 323.0 115.4 326.0 116.0 329.0 117.1 332.0 118.7 334.5 121.1 337.0 123.6 338.8 126.6 340.1 129.6 340.8 133.1 341.0Z"/>
<path fill="#00b2ff" d="M141.1 412.0L132.1 412.5 122.8 412.0 116.0 411.0 107.6 409.0 99.0 406.0 91.5 402.5 84.6 398.5 81.0 396.0 77.1 393.0 74.1 390.5 70.4 387.0 64.6 380.6 59.6 374.0 55.1 366.5 51.6 359.3 48.6 351.1 46.6 343.6 45.6 338.1 45.1 334.3 44.6 325.0 45.1 315.7 46.1 308.9 48.1 300.5 51.1 291.9 54.6 284.4 58.6 277.5 61.1 273.9 64.1 270.0 66.6 267.0 70.1 263.3 76.5 257.5 83.1 252.5 90.6 248.0 97.8 244.5 106.0 241.5 113.5 239.5 119.0 238.5 122.8 238.0 132.1 237.5 141.4 238.0 148.2 239.0 156.6 241.0 165.2 244.0 172.7 247.5 179.6 251.5 183.2 254.0 187.1 257.0 190.1 259.5 193.8 263.0 199.6 269.4 204.6 276.0 209.1 283.5 212.6 290.7 215.6 298.9 217.6 306.4 218.6 311.9 219.1 315.7 219.6 325.0 219.1 334.3 218.1 341.1 216.1 349.5 213.1 358.1 209.6 365.6 205.6 372.5 203.1 376.1 200.1 380.0 197.6 383.0 194.1 386.7 187.7 392.5 181.1 397.5 173.6 402.0 166.4 405.5 158.2 408.5 150.7 410.5 145.2 411.5ZM134.6 341.5L137.6 340.8 140.6 339.4 143.4 337.5 145.8 335.0 147.8 332.0 148.9 329.0 149.4 326.0 149.2 322.5 148.2 319.0 146.6 316.0 144.5 313.5 141.6 311.2 138.6 309.6 135.6 308.7 132.1 308.3 128.6 308.6 125.6 309.4 122.5 311.0 119.8 313.0 117.6 315.5 115.8 318.5 114.8 321.5 114.4 324.5 114.6 327.5 115.4 330.5 116.9 333.5 119.1 336.3 121.7 338.5 124.6 340.1 128.1 341.3 131.6 341.7Z"/>
<path fill="#00e6ff" d="M137.6 412.0L129.1 412.1 121.2 411.5 112.7 410.0 103.9 407.5 96.3 404.5 88.5 400.5 81.5 396.0 74.6 390.5 68.6 384.7 63.1 378.3 58.1 371.1 54.1 363.9 50.6 355.9 48.1 348.3 47.1 344.4 46.1 339.3 45.1 330.6 45.0 322.0 45.6 314.1 47.1 305.6 49.6 296.8 52.6 289.2 56.6 281.4 61.1 274.4 66.6 267.5 72.4 261.5 78.8 256.0 86.0 251.0 93.2 247.0 101.2 243.5 108.8 241.0 112.7 240.0 117.8 239.0 126.5 238.0 135.1 237.9 143.0 238.5 151.5 240.0 160.3 242.5 167.9 245.5 175.7 249.5 182.7 254.0 189.6 259.5 195.6 265.3 201.1 271.7 206.1 278.9 210.1 286.1 213.6 294.1 216.1 301.7 217.1 305.6 218.1 310.7 219.1 319.4 219.2 328.0 218.6 335.9 217.1 344.4 214.6 353.2 211.6 360.8 207.6 368.6 203.1 375.6 197.6 382.5 191.8 388.5 185.4 394.0 178.2 399.0 171.0 403.0 163.0 406.5 155.4 409.0 151.5 410.0 146.4 411.0ZM132.6 342.5L136.1 342.0 139.6 340.9 142.6 339.2 145.3 337.0 147.8 334.0 149.4 331.0 150.3 328.0 150.6 324.5 150.1 321.0 149.0 318.0 147.1 315.0 144.6 312.3 141.6 310.1 138.6 308.7 135.1 307.8 131.1 307.5 127.6 308.0 124.1 309.2 121.1 310.8 118.5 313.0 116.0 316.0 114.4 319.0 113.5 322.0 113.2 325.5 113.7 329.0 114.8 332.0 116.7 335.0 119.1 337.6 122.1 339.8 125.6 341.4 129.1 342.3Z"/>
<path fill="#00ffe5" d="M139.1 411.5L130.1 411.8 121.6 411.2 117.1 410.5 112.2 409.5 105.1 407.5 97.2 404.5 89.3 400.5 82.2 396.0 75.7 391.0 69.6 385.2 64.1 379.0 59.1 372.0 55.1 365.1 51.6 357.5 50.1 353.5 48.6 348.7 46.6 340.0 45.6 332.3 45.3 323.5 45.9 315.0 47.1 307.4 48.1 303.1 49.6 298.0 52.6 290.1 56.6 282.2 61.1 275.1 66.1 268.6 71.9 262.5 78.1 257.0 85.1 252.0 92.0 248.0 99.6 244.5 103.6 243.0 108.4 241.5 117.1 239.5 124.8 238.5 133.6 238.2 142.1 238.8 149.7 240.0 154.0 241.0 159.1 242.5 167.0 245.5 174.9 249.5 182.0 254.0 188.5 259.0 194.6 264.8 200.1 271.0 205.1 278.0 209.1 284.9 212.6 292.5 214.1 296.5 215.6 301.3 217.6 310.0 218.6 317.7 218.9 326.5 218.3 335.0 217.1 342.6 216.1 346.9 214.6 352.0 211.6 359.9 207.6 367.8 203.1 374.9 198.1 381.4 192.3 387.5 186.1 393.0 179.1 398.0 171.2 402.5 163.3 406.0 155.8 408.5 147.1 410.5ZM135.8 343.0L139.6 341.9 143.1 340.1 146.1 337.7 148.5 335.0 150.3 332.0 151.5 328.5 151.9 325.0 151.5 321.5 150.3 318.0 148.1 314.5 145.6 311.8 142.4 309.5 138.6 307.7 135.1 306.9 131.1 306.6 127.1 307.2 123.6 308.4 120.1 310.3 117.5 312.5 114.9 315.5 113.3 318.5 112.2 322.0 111.9 325.5 112.3 328.5 113.5 332.0 115.3 335.0 118.0 338.0 121.1 340.3 124.6 342.0 128.1 343.0 132.1 343.4Z"/>
<path fill="#00ffb2" d="M140.1 411.0L132.1 411.4 123.6 411.0 119.6 410.5 114.1 409.5 106.5 407.5 98.3 404.5 91.0 401.0 83.6 396.5 77.0 391.5 70.6 385.7 65.1 379.5 60.1 372.7 55.6 365.1 52.1 357.6 50.6 353.6 49.1 349.0 47.1 340.5 46.1 333.2 45.7 325.0 46.1 316.5 46.6 312.5 47.6 307.0 49.6 299.4 52.6 291.2 56.1 283.9 60.6 276.5 65.6 269.9 71.4 263.5 77.6 258.0 84.4 253.0 92.0 248.5 99.5 245.0 103.5 243.5 108.1 242.0 116.6 240.0 123.9 239.0 132.1 238.6 140.6 239.0 144.6 239.5 150.1 240.5 157.7 242.5 165.9 245.5 173.2 249.0 180.6 253.5 187.2 258.5 193.6 264.3 199.1 270.5 204.1 277.3 208.6 284.9 212.1 292.4 213.6 296.4 215.1 301.0 217.1 309.5 218.1 316.8 218.5 325.0 218.1 333.5 217.6 337.5 216.6 343.0 214.6 350.6 211.6 358.8 208.1 366.1 203.6 373.5 198.6 380.1 192.8 386.5 186.6 392.0 179.8 397.0 172.2 401.5 164.7 405.0 160.7 406.5 156.1 408.0 147.6 410.0ZM135.6 344.0L139.6 342.9 143.6 341.0 146.9 338.5 149.6 335.5 151.7 332.0 152.9 328.5 153.3 325.0 152.9 321.5 151.7 318.0 149.6 314.5 146.6 311.2 143.1 308.7 139.1 306.9 135.1 305.9 131.1 305.7 127.1 306.2 123.1 307.5 119.6 309.4 116.4 312.0 113.8 315.0 112.1 318.0 110.9 321.5 110.5 325.0 110.9 328.5 112.1 332.0 114.2 335.5 116.9 338.5 120.1 340.9 123.6 342.7 127.6 343.9 131.6 344.3Z"/>
<path fill="#00ff80" d="M140.1 410.5L132.1 410.9 123.6 410.5 119.1 409.9 114.1 409.0 106.5 407.0 98.3 404.0 91.1 400.5 83.7 396.0 77.1 391.0 71.1 385.5 65.6 379.4 60.6 372.6 56.1 365.1 52.6 357.6 49.6 349.0 47.6 340.5 46.6 333.4 46.2 325.0 46.6 316.5 47.1 312.5 48.0 307.5 50.1 299.5 53.1 291.2 56.6 284.0 60.6 277.4 65.6 270.6 71.1 264.5 77.1 259.0 83.7 254.0 91.1 249.5 98.3 246.0 106.5 243.0 114.1 241.0 119.1 240.1 123.7 239.5 132.1 239.1 140.6 239.5 144.6 240.0 149.6 240.9 157.6 243.0 165.9 246.0 173.1 249.5 179.7 253.5 186.5 258.5 192.6 264.0 198.1 270.0 203.1 276.6 207.6 284.0 211.1 291.2 214.1 299.4 216.1 307.0 217.0 312.0 217.6 316.6 218.0 325.0 217.6 333.5 217.0 338.0 216.1 343.0 214.1 350.6 211.1 358.8 207.6 366.0 203.1 373.4 198.1 380.0 192.6 386.0 186.5 391.5 179.7 396.5 172.2 401.0 164.7 404.5 156.1 407.5 147.6 409.5ZM135.7 345.0L140.1 343.8 144.0 342.0 147.5 339.5 150.5 336.5 152.8 333.0 153.7 331.0 154.3 329.0 154.8 325.5 154.7 323.5 154.4 321.5 153.8 319.5 153.0 317.5 150.8 314.0 147.6 310.6 144.0 308.0 140.1 306.2 135.6 305.0 131.1 304.7 126.6 305.3 122.6 306.6 119.0 308.5 115.7 311.0 113.0 314.0 110.8 317.5 109.5 321.0 109.0 324.5 109.1 326.5 109.4 328.5 110.0 330.5 110.8 332.5 113.0 336.0 115.7 339.0 119.1 341.6 123.1 343.6 127.1 344.8 131.6 345.3Z"/>
<path fill="#00ff4c" d="M140.1 410.0L132.1 410.4 123.6 410.0 119.6 409.5 114.6 408.6 106.6 406.5 98.5 403.5 91.3 400.0 84.6 396.0 77.9 391.0 71.8 385.5 66.1 379.2 61.1 372.4 56.6 364.9 53.1 357.4 50.1 349.0 48.2 341.0 47.1 333.2 46.7 325.0 47.1 316.5 47.6 312.5 48.5 307.5 50.6 299.5 53.6 291.4 57.1 284.2 61.1 277.5 66.1 270.8 71.6 264.7 77.9 259.0 84.7 254.0 92.2 249.5 99.7 246.0 108.1 243.0 116.1 241.1 123.9 240.0 132.1 239.6 140.6 240.0 144.6 240.5 149.6 241.4 157.6 243.5 165.7 246.5 172.9 250.0 179.6 254.0 186.3 259.0 192.4 264.5 198.1 270.8 203.1 277.6 207.6 285.1 211.1 292.6 214.1 301.0 216.0 309.0 217.1 316.8 217.5 325.0 217.1 333.5 216.6 337.5 215.7 342.5 213.6 350.5 210.6 358.6 207.1 365.8 203.1 372.5 198.1 379.2 192.6 385.3 186.3 391.0 179.5 396.0 172.0 400.5 164.5 404.0 156.1 407.0 147.6 409.0ZM136.0 346.0L140.6 344.8 145.1 342.7 148.8 340.0 152.1 336.6 154.4 333.0 155.2 331.0 155.8 329.0 156.2 327.0 156.3 325.0 156.2 323.0 155.8 321.0 155.2 319.0 154.4 317.0 153.2 315.0 151.7 313.0 148.6 309.8 144.6 307.0 140.1 305.0 135.6 303.9 133.1 303.7 130.6 303.7 126.1 304.3 121.6 305.8 117.6 308.0 114.1 310.8 111.3 314.0 109.2 317.5 108.4 319.5 107.8 321.5 107.5 323.5 107.5 325.5 108.0 329.0 108.6 331.0 109.4 333.0 111.7 336.5 115.0 340.0 118.6 342.6 122.6 344.6 127.1 345.9 131.6 346.3Z"/>
<path fill="#00ff1a" d="M139.1 409.5L131.1 409.8 123.1 409.3 114.6 408.0 106.9 406.0 98.8 403.0 91.5 399.5 84.2 395.0 77.6 390.0 71.6 384.5 66.1 378.3 61.1 371.4 57.0 364.5 53.5 357.0 50.6 348.5 48.6 340.0 47.6 332.5 47.3 324.0 47.8 316.0 49.1 307.5 51.1 299.8 54.1 291.7 57.6 284.4 62.1 277.1 67.1 270.5 72.6 264.5 78.8 259.0 85.7 254.0 92.6 249.9 100.1 246.4 108.6 243.5 117.1 241.5 124.6 240.5 133.1 240.2 141.1 240.7 149.6 242.0 157.3 244.0 165.4 247.0 172.7 250.5 180.0 255.0 186.6 260.0 192.6 265.5 198.1 271.7 203.1 278.6 207.2 285.5 210.7 293.0 213.6 301.5 215.6 310.0 216.6 317.5 216.9 326.0 216.4 334.0 215.1 342.5 213.1 350.2 210.1 358.3 206.6 365.6 202.1 372.9 197.1 379.5 191.1 385.9 184.8 391.5 177.7 396.5 170.8 400.5 163.0 404.0 155.6 406.5 147.1 408.5ZM136.6 347.0L141.6 345.6 146.1 343.5 150.2 340.5 153.5 337.0 154.9 335.0 156.0 333.0 157.5 329.0 157.8 327.0 157.9 324.5 157.3 320.5 156.5 318.0 155.5 316.0 154.3 314.0 152.7 312.0 150.8 310.0 149.0 308.5 146.9 307.0 144.6 305.7 142.1 304.5 139.6 303.7 134.6 302.7 129.6 302.7 124.6 303.6 120.1 305.2 116.1 307.5 112.5 310.5 109.5 314.0 107.5 317.5 106.2 321.5 105.9 325.5 106.5 329.5 108.0 333.5 109.2 335.5 110.7 337.5 114.1 340.9 118.1 343.7 122.6 345.8 127.1 347.0 132.1 347.4Z"/>
<path fill="#1aff00" d="M138.1 409.0L129.6 409.2 121.6 408.6 113.1 407.0 105.6 404.9 98.0 402.0 90.1 398.0 83.1 393.5 76.8 388.5 70.6 382.5 65.1 376.0 60.6 369.5 56.6 362.3 53.2 354.5 50.8 347.0 49.1 339.3 48.1 331.0 47.9 322.5 48.5 314.5 50.1 306.0 52.2 298.5 55.1 290.9 59.1 283.0 63.6 276.0 68.6 269.7 74.6 263.5 81.1 258.0 87.6 253.5 94.8 249.5 102.6 246.1 110.1 243.7 117.8 242.0 126.1 241.0 134.6 240.8 142.6 241.4 151.1 243.0 158.6 245.1 166.2 248.0 174.1 252.0 181.1 256.5 187.4 261.5 193.6 267.5 199.1 274.0 203.6 280.5 207.6 287.7 211.0 295.5 213.4 303.0 215.1 310.7 216.1 319.0 216.3 327.5 215.7 335.5 214.1 344.0 212.0 351.5 209.1 359.1 205.1 367.0 200.6 374.0 195.6 380.3 189.6 386.5 183.1 392.0 176.6 396.5 169.4 400.5 161.6 403.9 154.1 406.3 146.4 408.0ZM133.3 348.5L136.1 348.2 138.6 347.8 143.6 346.1 148.1 343.7 152.2 340.5 154.1 338.5 155.7 336.5 158.0 332.5 158.7 330.5 159.3 328.0 159.6 326.0 159.5 323.5 159.1 321.0 158.6 319.0 156.7 315.0 155.4 313.0 153.7 311.0 151.7 309.0 149.6 307.3 145.1 304.6 140.1 302.6 135.1 301.6 132.1 301.5 129.6 301.6 124.6 302.4 119.6 304.1 115.1 306.7 111.1 310.0 109.2 312.0 107.7 314.0 105.6 318.0 104.5 322.0 104.2 324.0 104.3 326.5 104.7 329.0 105.2 331.0 107.1 335.0 108.4 337.0 110.1 339.0 114.0 342.5 118.1 345.1 120.6 346.3 123.1 347.2 128.1 348.3Z"/>
<path fill="#4cff00" d="M135.1 408.5L127.1 408.4 118.8 407.5 111.1 405.9 103.1 403.4 95.2 400.0 88.1 396.0 81.5 391.5 75.1 386.1 69.2 380.0 64.1 373.6 59.6 366.6 56.1 359.8 53.1 352.3 50.7 344.0 49.3 336.0 48.6 328.0 48.7 320.0 49.6 311.7 51.2 304.0 53.7 296.0 57.1 288.1 61.1 281.0 65.6 274.4 71.0 268.0 77.1 262.1 83.5 257.0 90.5 252.5 97.3 249.0 104.8 246.0 113.1 243.6 121.1 242.2 129.1 241.5 137.1 241.6 145.4 242.5 153.1 244.1 161.1 246.6 169.0 250.0 176.1 254.0 182.7 258.5 189.1 263.9 195.0 270.0 200.1 276.4 204.6 283.4 208.1 290.2 211.1 297.7 213.5 306.0 214.9 314.0 215.6 322.0 215.5 330.0 214.6 338.3 213.0 346.0 210.5 354.0 207.1 361.9 203.1 369.0 198.6 375.6 193.2 382.0 187.1 387.9 180.7 393.0 173.7 397.5 166.9 401.0 159.4 404.0 151.1 406.4 143.1 407.8ZM135.3 349.5L138.1 349.1 141.1 348.3 146.1 346.3 148.6 344.9 151.1 343.2 153.2 341.5 155.2 339.5 156.9 337.5 158.2 335.5 159.3 333.5 160.3 331.0 160.9 329.0 161.3 326.5 161.3 324.0 161.0 321.5 160.3 319.0 159.3 316.5 158.1 314.3 156.6 312.1 154.8 310.0 152.6 308.0 150.6 306.4 148.1 304.8 143.1 302.4 140.6 301.5 137.6 300.8 134.6 300.4 131.6 300.3 126.1 300.8 121.1 302.2 116.1 304.5 111.6 307.6 109.5 309.5 107.7 311.5 105.0 315.5 104.0 317.5 103.2 320.0 102.5 324.0 102.5 326.0 102.8 328.5 103.5 331.0 104.2 333.0 105.6 335.5 106.9 337.5 108.6 339.5 110.6 341.5 114.6 344.6 117.1 346.0 119.6 347.2 124.6 348.8 127.1 349.3 130.1 349.6Z"/>
<path fill="#80ff00" d="M139.6 407.5L131.1 407.9 123.1 407.4 114.6 406.0 107.1 404.0 99.1 401.0 92.1 397.6 85.4 393.5 79.1 388.7 73.1 383.2 67.6 377.0 62.6 370.1 58.6 363.3 55.1 355.7 52.6 348.4 50.7 340.5 49.6 332.5 49.2 324.0 49.7 316.0 51.1 307.5 53.1 300.0 56.1 292.0 59.5 285.0 63.6 278.3 68.4 272.0 73.9 266.0 80.1 260.5 87.0 255.5 93.8 251.5 101.4 248.0 108.7 245.5 116.6 243.6 124.6 242.5 133.1 242.1 141.1 242.6 149.6 244.0 157.1 246.0 165.1 249.0 172.1 252.4 178.8 256.5 185.1 261.3 191.1 266.8 196.6 273.0 201.6 279.9 205.6 286.7 209.1 294.3 211.6 301.6 213.5 309.5 214.6 317.5 215.0 326.0 214.5 334.0 213.1 342.5 211.1 350.0 208.1 358.0 204.7 365.0 200.6 371.7 195.8 378.0 190.3 384.0 184.1 389.5 177.2 394.5 170.4 398.5 162.8 402.0 155.5 404.5 147.6 406.4ZM136.9 350.5L140.1 349.9 143.1 349.0 146.1 347.8 148.6 346.5 151.1 344.9 153.6 343.1 155.9 341.0 157.7 339.0 159.2 337.0 160.7 334.5 161.8 332.0 162.6 329.5 163.0 327.0 163.1 324.5 162.9 322.0 162.3 319.5 161.4 317.0 160.1 314.5 158.5 312.0 156.6 309.8 154.6 307.8 152.1 305.8 149.4 304.0 146.6 302.5 143.6 301.2 140.6 300.3 137.6 299.6 134.6 299.2 131.6 299.1 128.6 299.3 125.6 299.7 122.6 300.4 117.6 302.3 115.1 303.6 112.6 305.1 108.4 308.5 106.5 310.5 105.0 312.5 103.7 314.5 102.4 317.0 101.7 319.0 101.0 321.5 100.8 323.5 100.7 326.0 101.0 328.5 101.5 330.5 102.4 333.0 103.4 335.0 105.0 337.5 106.5 339.5 108.4 341.5 110.6 343.4 115.1 346.4 120.1 348.8 125.6 350.3 131.1 350.9 134.1 350.8Z"/>
<path fill="#b3ff00" d="M136.6 407.0L128.6 407.1 120.6 406.3 112.6 404.8 104.9 402.5 97.5 399.5 90.1 395.6 83.2 391.0 77.1 386.0 71.1 380.0 66.2 374.0 61.6 367.2 58.0 360.5 55.1 353.5 52.6 345.5 50.9 337.5 50.1 329.5 50.0 321.5 50.8 313.5 52.3 305.5 54.6 297.8 57.6 290.4 61.5 283.0 66.1 276.1 71.1 270.0 77.1 264.0 83.1 259.1 89.9 254.5 96.6 250.9 103.6 248.0 111.6 245.5 119.6 243.8 127.6 243.0 135.6 242.9 143.6 243.7 151.6 245.2 159.3 247.5 166.7 250.5 174.1 254.4 181.0 259.0 187.1 264.0 193.1 270.0 198.0 276.0 202.6 282.8 206.2 289.5 209.1 296.5 211.6 304.5 213.3 312.5 214.1 320.5 214.2 328.5 213.4 336.5 211.9 344.5 209.6 352.2 206.6 359.6 202.7 367.0 198.1 373.9 193.1 380.0 187.1 386.0 181.1 390.9 174.3 395.5 167.6 399.1 160.6 402.0 152.6 404.5 144.6 406.2ZM134.6 352.0L138.1 351.6 141.1 350.9 144.1 350.0 147.1 348.8 150.1 347.2 152.8 345.5 155.4 343.5 157.5 341.5 159.3 339.5 161.2 337.0 162.6 334.5 163.7 332.0 164.4 329.5 164.8 327.0 164.9 324.5 164.7 322.0 164.2 319.5 163.3 317.0 162.1 314.5 160.5 312.0 158.6 309.7 156.5 307.5 154.1 305.5 151.1 303.4 148.1 301.7 145.4 300.5 142.1 299.4 139.1 298.6 136.1 298.1 133.1 297.9 130.1 297.9 126.6 298.3 123.6 298.9 120.6 299.7 117.6 300.8 115.1 302.0 112.5 303.5 110.1 305.2 107.9 307.0 105.6 309.2 103.7 311.5 102.3 313.5 101.0 316.0 100.0 318.5 99.4 320.5 99.0 323.0 98.9 325.5 99.1 328.0 99.6 330.5 100.5 333.0 101.7 335.5 103.1 337.7 104.9 340.0 106.8 342.0 109.0 344.0 111.6 345.9 114.2 347.5 117.1 348.9 122.6 350.9 125.6 351.5 128.6 352.0 131.6 352.1Z"/>
<path fill="#e5ff00" d="M139.6 406.0L131.6 406.4 123.6 405.9 115.6 404.7 108.1 402.8 100.5 400.0 93.2 396.5 86.6 392.5 80.1 387.6 74.5 382.5 69.1 376.5 64.1 369.7 60.1 362.9 56.7 355.5 54.1 348.2 52.2 340.5 51.1 332.5 50.7 324.5 51.2 316.5 52.4 308.5 54.3 301.0 57.1 293.4 60.6 286.1 64.6 279.5 69.5 273.0 74.6 267.4 80.6 262.0 87.4 257.0 94.2 253.0 101.6 249.6 108.9 247.0 116.6 245.1 124.6 244.0 132.6 243.6 140.6 244.1 148.6 245.3 156.1 247.2 163.7 250.0 171.0 253.5 177.6 257.5 184.1 262.4 189.7 267.5 195.1 273.5 200.1 280.3 204.1 287.1 207.5 294.5 210.1 301.8 212.0 309.5 213.1 317.5 213.5 325.5 213.0 333.5 211.8 341.5 209.9 349.0 207.1 356.6 203.6 363.9 199.6 370.5 194.7 377.0 189.6 382.6 183.6 388.0 176.8 393.0 170.0 397.0 162.6 400.4 155.3 403.0 147.6 404.9ZM137.2 353.0L140.6 352.4 143.6 351.5 147.1 350.2 150.1 348.8 153.1 347.0 155.9 345.0 158.2 343.0 160.6 340.5 162.5 338.0 164.0 335.5 165.2 333.0 166.2 330.0 166.6 327.5 166.8 324.5 166.5 321.5 165.9 319.0 164.8 316.0 163.5 313.5 161.8 311.0 159.6 308.4 157.1 306.0 154.1 303.6 151.1 301.7 148.1 300.2 145.1 299.0 141.6 297.9 138.1 297.1 134.6 296.7 131.1 296.6 127.6 296.9 124.1 297.4 121.1 298.2 115.6 300.3 112.6 301.8 110.1 303.4 105.6 307.0 103.6 309.0 101.6 311.5 100.3 313.5 99.0 316.0 98.0 318.5 97.4 321.0 97.1 323.5 97.0 326.0 97.3 328.5 97.9 331.0 98.8 333.5 100.0 336.0 101.6 338.5 103.2 340.5 105.1 342.5 107.6 344.8 110.1 346.6 113.1 348.5 118.6 351.0 121.6 352.0 124.6 352.7 127.6 353.1 131.1 353.4 134.1 353.3Z"/>
<path fill="#ffe500" d="M135.1 405.5L127.1 405.4 119.1 404.5 111.6 402.9 104.0 400.5 97.0 397.5 89.7 393.5 83.2 389.0 77.2 384.0 71.6 378.2 66.7 372.0 62.4 365.5 58.8 358.5 55.8 351.0 53.7 343.5 52.2 335.5 51.6 328.0 51.7 320.0 52.6 312.0 54.2 304.5 56.6 296.9 59.6 289.9 63.6 282.6 68.1 276.1 73.1 270.1 78.9 264.5 85.1 259.6 91.6 255.3 98.6 251.7 106.1 248.7 113.6 246.6 121.6 245.1 129.1 244.5 137.1 244.6 145.1 245.5 152.6 247.1 160.2 249.5 167.2 252.5 174.5 256.5 181.0 261.0 187.0 266.0 192.6 271.8 197.5 278.0 201.8 284.5 205.4 291.5 208.4 299.0 210.5 306.5 212.0 314.5 212.6 322.0 212.5 330.0 211.6 338.0 210.0 345.5 207.6 353.1 204.6 360.1 200.6 367.4 196.1 373.9 191.1 379.9 185.3 385.5 179.1 390.4 172.6 394.7 165.6 398.3 158.1 401.3 150.6 403.4 142.6 404.9ZM135.4 354.5L139.1 354.0 142.6 353.2 146.1 352.1 149.1 350.9 152.1 349.3 155.1 347.5 158.1 345.2 160.6 342.9 162.8 340.5 164.6 338.0 166.1 335.5 167.4 332.5 168.1 330.0 168.6 327.0 168.7 324.0 168.3 321.0 167.5 318.0 166.6 315.5 164.9 312.5 163.1 309.9 161.0 307.5 158.3 305.0 155.1 302.5 152.1 300.7 149.1 299.1 145.6 297.7 142.1 296.6 138.6 295.9 135.1 295.5 131.1 295.4 127.6 295.6 124.1 296.1 118.1 297.7 115.1 299.0 112.0 300.5 109.1 302.3 106.6 304.1 104.1 306.2 101.9 308.5 99.9 311.0 98.3 313.5 97.0 316.0 96.1 318.5 95.5 321.0 95.1 323.5 95.1 326.5 95.5 329.0 96.3 332.0 97.2 334.5 98.6 337.0 100.2 339.5 102.1 341.7 104.3 344.0 106.7 346.0 109.6 348.1 112.6 349.8 115.6 351.3 118.6 352.4 122.1 353.5 125.1 354.1 128.6 354.5 132.1 354.7Z"/>
<path fill="#ffb300" d="M138.1 404.5L130.1 404.7 122.6 404.2 114.6 402.8 107.1 400.7 100.0 398.0 93.0 394.5 86.6 390.5 80.2 385.5 74.6 380.2 69.6 374.5 65.0 368.0 61.0 361.0 57.8 354.0 55.3 346.5 53.6 338.9 52.6 331.0 52.4 323.0 52.9 315.5 54.3 307.5 56.4 300.0 59.1 292.9 62.6 285.9 66.6 279.5 71.6 273.1 76.9 267.5 82.6 262.5 89.1 257.9 96.1 253.9 103.1 250.7 110.6 248.2 118.2 246.5 126.1 245.5 134.1 245.3 141.6 245.8 149.6 247.2 157.1 249.3 164.2 252.0 171.2 255.5 177.6 259.5 184.0 264.5 189.6 269.8 194.6 275.5 199.2 282.0 203.2 289.0 206.4 296.0 208.9 303.5 210.6 311.1 211.6 319.0 211.8 327.0 211.3 334.5 209.9 342.5 207.8 350.0 205.1 357.1 201.6 364.1 197.6 370.5 192.6 376.9 187.3 382.5 181.6 387.5 175.1 392.1 168.1 396.1 161.1 399.3 153.6 401.8 146.0 403.5ZM138.2 355.5L142.1 354.7 145.6 353.7 149.6 352.2 153.0 350.5 156.3 348.5 159.6 346.0 162.3 343.5 164.6 341.0 166.4 338.5 168.1 335.5 169.4 332.5 170.2 329.5 170.6 326.5 170.6 323.0 170.1 320.0 169.2 317.0 167.9 314.0 166.1 311.0 163.7 308.0 161.1 305.3 158.1 302.8 154.7 300.5 151.1 298.5 147.7 297.0 144.1 295.8 140.1 294.8 136.6 294.3 132.6 294.0 128.6 294.2 124.6 294.7 120.6 295.5 117.1 296.6 114.1 297.8 111.1 299.3 108.1 301.1 105.4 303.0 103.0 305.0 100.6 307.4 98.8 309.5 97.1 312.0 95.7 314.5 94.6 317.0 93.8 319.5 93.3 322.5 93.1 325.5 93.3 328.0 93.8 330.5 94.6 333.0 95.7 335.5 97.1 338.0 98.8 340.5 101.0 343.0 103.6 345.5 106.1 347.5 108.6 349.2 111.7 351.0 114.9 352.5 118.1 353.7 121.1 354.6 124.6 355.3 128.1 355.8 131.6 356.0 135.1 355.8Z"/>
<path fill="#ff8000" d="M139.1 403.5L131.1 403.8 123.6 403.4 116.1 402.2 108.6 400.3 101.1 397.5 94.1 394.1 87.6 390.1 81.5 385.5 76.1 380.5 70.7 374.5 66.1 368.1 62.2 361.5 59.1 354.8 56.5 347.5 54.6 339.5 53.6 332.0 53.3 324.0 53.7 316.5 54.9 309.0 56.8 301.5 59.6 294.0 63.0 287.0 67.0 280.5 71.6 274.4 76.6 269.0 82.6 263.6 89.0 259.0 95.6 255.1 102.3 252.0 109.6 249.4 117.6 247.5 125.1 246.5 133.1 246.2 140.6 246.6 148.1 247.8 155.6 249.7 163.1 252.5 170.1 255.9 176.6 259.9 182.7 264.5 188.1 269.5 193.5 275.5 198.1 281.9 202.0 288.5 205.1 295.2 207.7 302.5 209.6 310.5 210.6 318.0 210.9 326.0 210.5 333.5 209.3 341.0 207.4 348.5 204.6 356.0 201.2 363.0 197.2 369.5 192.6 375.6 187.6 381.0 181.6 386.4 175.2 391.0 168.6 394.9 161.9 398.0 154.6 400.6 146.6 402.5ZM137.2 357.0L141.1 356.4 145.1 355.4 149.0 354.0 152.6 352.4 156.1 350.5 159.6 348.1 162.6 345.6 165.2 343.0 167.6 340.0 169.5 337.0 170.9 334.0 171.9 331.0 172.5 328.0 172.7 324.5 172.4 321.5 171.7 318.5 170.5 315.0 168.9 312.0 166.8 309.0 164.2 306.0 161.6 303.5 158.3 301.0 154.6 298.7 151.1 296.9 147.1 295.3 143.1 294.1 139.1 293.3 135.1 292.8 131.1 292.7 127.1 292.9 123.1 293.5 119.1 294.5 115.6 295.7 112.4 297.0 109.1 298.7 106.2 300.5 103.5 302.5 101.1 304.5 98.6 307.0 96.6 309.5 94.9 312.0 93.3 315.0 92.4 317.5 91.6 320.5 91.2 323.0 91.2 326.0 91.5 329.0 92.1 331.5 93.1 334.5 94.3 337.0 96.2 340.0 98.2 342.5 100.6 345.0 103.1 347.2 106.1 349.4 109.1 351.3 112.1 352.8 115.6 354.3 119.1 355.5 122.6 356.4 126.1 356.9 130.1 357.3 133.6 357.3Z"/>
<path fill="#ff4c00" d="M140.1 402.5L132.1 402.9 124.6 402.6 117.1 401.5 109.6 399.6 102.3 397.0 95.6 393.9 89.1 390.0 83.0 385.5 77.4 380.5 72.1 374.7 67.6 368.7 63.6 362.2 60.2 355.0 57.6 348.0 55.7 340.5 54.6 333.0 54.2 325.0 54.5 317.5 55.6 310.0 57.5 302.5 60.1 295.2 63.2 288.5 67.1 282.0 71.6 275.9 76.6 270.3 82.4 265.0 88.4 260.5 94.9 256.5 102.1 253.1 109.1 250.5 116.6 248.6 124.1 247.5 132.1 247.1 139.6 247.4 147.1 248.5 154.6 250.4 161.9 253.0 168.6 256.1 175.1 260.0 181.2 264.5 186.8 269.5 192.1 275.3 196.6 281.3 200.6 287.8 204.0 295.0 206.6 302.0 208.5 309.5 209.6 317.0 210.0 325.0 209.7 332.5 208.6 340.0 206.7 347.5 204.1 354.8 201.0 361.5 197.1 368.0 192.6 374.1 187.6 379.7 181.8 385.0 175.8 389.5 169.3 393.5 162.1 396.9 155.1 399.5 147.6 401.4ZM136.1 358.5L140.1 358.0 144.1 357.1 148.1 355.9 152.1 354.3 156.1 352.3 159.6 350.1 163.0 347.5 165.7 345.0 168.3 342.0 170.5 339.0 172.1 336.0 173.5 332.5 174.3 329.5 174.7 326.0 174.6 322.5 174.1 319.5 173.0 316.0 171.6 313.0 169.5 309.5 167.1 306.5 164.1 303.5 161.1 301.0 157.6 298.6 154.1 296.7 150.1 294.8 146.1 293.4 142.1 292.4 138.1 291.7 134.1 291.4 129.6 291.4 125.1 291.8 121.1 292.5 117.6 293.5 114.1 294.7 110.6 296.2 107.1 298.1 104.1 300.0 100.8 302.5 98.1 305.0 95.9 307.5 94.0 310.0 92.2 313.0 91.0 315.5 90.0 318.5 89.4 321.5 89.1 324.5 89.2 327.5 89.7 330.5 90.6 333.5 91.9 336.5 93.6 339.4 95.5 342.0 97.7 344.5 100.6 347.3 103.4 349.5 106.6 351.6 110.0 353.5 113.3 355.0 117.1 356.4 120.6 357.3 124.1 358.1 128.1 358.5 132.1 358.7Z"/>
<path fill="#ff1a00" d="M140.6 401.5L133.1 402.0 125.6 401.7 118.1 400.7 110.9 399.0 103.6 396.5 97.0 393.5 90.1 389.5 84.1 385.2 78.2 380.0 73.1 374.5 68.6 368.5 64.6 362.0 61.2 355.0 58.6 348.0 56.8 341.0 55.6 333.5 55.1 326.0 55.4 318.5 56.4 311.0 58.1 303.8 60.6 296.5 63.6 289.9 67.6 283.0 71.9 277.0 77.1 271.1 82.6 266.0 88.6 261.5 95.1 257.5 102.1 254.1 109.1 251.5 116.1 249.7 123.6 248.5 131.1 248.0 138.6 248.3 146.1 249.3 153.3 251.0 160.6 253.5 167.2 256.5 174.1 260.5 180.1 264.8 186.0 270.0 191.1 275.5 195.6 281.5 199.6 288.0 203.0 295.0 205.6 302.0 207.4 309.0 208.6 316.5 209.1 324.0 208.8 331.5 207.8 339.0 206.1 346.2 203.6 353.5 200.6 360.1 196.6 367.0 192.3 373.0 187.1 378.9 181.6 384.0 175.6 388.5 169.1 392.5 162.1 395.9 155.1 398.5 148.1 400.3ZM134.7 360.0L139.1 359.6 143.1 358.8 147.6 357.6 151.6 356.2 155.6 354.3 159.6 352.0 163.1 349.5 166.1 347.0 169.0 344.0 171.4 341.0 173.3 338.0 174.9 334.5 175.9 331.5 176.6 328.0 176.8 324.5 176.5 321.0 175.6 317.5 174.5 314.5 172.7 311.0 170.6 307.9 168.1 305.0 165.0 302.0 161.6 299.3 158.0 297.0 154.1 295.0 150.1 293.2 146.1 291.9 141.6 290.8 137.6 290.2 133.1 289.9 128.6 290.0 124.1 290.5 120.1 291.3 116.1 292.4 112.1 293.9 108.6 295.5 105.0 297.5 101.6 299.8 98.6 302.2 95.7 305.0 93.5 307.5 91.4 310.5 89.7 313.5 88.5 316.5 87.6 319.5 87.1 322.5 87.0 326.0 87.3 329.0 88.2 332.5 89.3 335.5 90.8 338.5 92.6 341.3 94.8 344.0 97.6 346.9 100.6 349.5 103.6 351.6 107.1 353.7 110.7 355.5 114.6 357.1 118.6 358.3 122.6 359.2 126.6 359.8 130.6 360.1Z"/>
<path fill="#ff0000" d="M140.6 400.5L133.1 401.0 125.6 400.7 118.1 399.7 111.1 398.0 104.1 395.7 97.2 392.5 91.1 389.0 84.8 384.5 79.1 379.5 74.1 374.1 69.6 368.2 65.6 361.8 62.3 355.0 59.7 348.0 57.8 341.0 56.6 333.5 56.1 326.0 56.4 318.5 57.4 311.0 59.1 304.0 61.4 297.0 64.6 290.1 68.1 284.0 72.6 277.7 77.6 272.0 83.0 267.0 88.9 262.5 95.3 258.5 102.1 255.2 109.1 252.6 116.1 250.7 123.6 249.5 131.1 249.0 138.6 249.3 146.1 250.3 153.1 252.0 160.1 254.3 167.0 257.5 173.1 261.0 179.4 265.5 185.1 270.5 190.1 275.9 194.6 281.8 198.6 288.2 201.9 295.0 204.5 302.0 206.4 309.0 207.6 316.5 208.1 324.0 207.8 331.5 206.8 339.0 205.1 346.0 202.8 353.0 199.6 359.9 196.1 366.0 191.6 372.3 186.6 378.0 181.2 383.0 175.3 387.5 168.9 391.5 162.1 394.8 155.1 397.4 148.1 399.3ZM139.2 361.0L144.1 360.1 148.6 358.9 153.1 357.2 157.6 355.0 161.8 352.5 165.6 349.7 169.1 346.6 171.9 343.5 174.4 340.0 176.3 336.5 177.6 333.0 178.5 329.5 178.9 326.0 178.7 322.0 178.1 318.5 176.9 315.0 175.0 311.0 172.6 307.5 169.7 304.0 166.6 301.1 162.6 298.0 158.6 295.5 154.1 293.2 149.6 291.5 145.1 290.1 140.1 289.1 135.6 288.6 130.6 288.5 125.6 288.9 121.1 289.6 116.1 290.9 111.6 292.4 108.1 294.0 104.4 296.0 101.1 298.1 98.1 300.3 95.1 303.0 92.8 305.5 90.8 308.0 88.8 311.0 87.3 314.0 86.2 317.0 85.4 320.0 85.0 323.0 84.9 326.0 85.2 329.0 85.9 332.0 86.9 335.0 88.3 338.0 90.1 341.0 92.3 344.0 94.6 346.5 97.3 349.0 100.6 351.6 104.1 353.8 107.6 355.8 111.1 357.4 115.1 358.8 119.1 360.0 123.1 360.8 127.1 361.3 131.1 361.5 135.1 361.4Z"/>
<path d="M104.5 320.7l0.3 -1.8M105.2 317.4l0.5 -1.7M106.3 314.3l0.7 -1.6M107.8 311.3l0.9 -1.5M109.6 308.5l1.1 -1.4M111.7 306.0l1.3 -1.3M114.0 303.7l1.4 -1.1M116.7 301.7l1.5 -0.9M119.6 300.1l1.6 -0.8M122.6 298.8l1.7 -0.6M125.8 297.8l1.8 -0.4M129.0 297.3l1.8 -0.1M132.3 297.1l1.8 0.1M135.6 297.3l1.8 0.3M138.9 297.9l1.7 0.5M142.0 298.9l1.7 0.7M145.0 300.3l1.6 0.9M147.9 302.0l1.5 1.1M150.5 304.0l1.3 1.2M152.8 306.3l1.2 1.4M154.9 308.9l1.0 1.5M156.7 311.7l0.8 1.6M158.1 314.7l0.6 1.7M159.1 317.9l0.4 1.8M159.7 321.1l0.2 1.8M160.0 324.4l-0.0 1.8M159.9 327.7l-0.2 1.8M159.4 331.0l-0.4 1.7M158.5 334.2l-0.6 1.7M157.2 337.2l-0.8 1.6M155.6 340.1l-1.0 1.5M153.6 342.8l-1.2 1.4M151.4 345.2l-1.3 1.2M148.9 347.3l-1.5 1.0M146.1 349.1l-1.6 0.9M143.1 350.6l-1.7 0.7M140.0 351.8l-1.7 0.5M136.8 352.5l-1.8 0.2M133.5 352.9l-1.8 0.0M130.2 352.9l-1.8 -0.2M126.9 352.4l-1.8 -0.4M123.7 351.6l-1.7 -0.6M120.6 350.5l-1.6 -0.8M117.7 348.9l-1.5 -1.0M115.0 347.1l-1.4 -1.1M112.5 344.9l-1.2 -1.3M110.3 342.4l-1.1 -1.4M108.4 339.7l-0.9 -1.6M106.8 336.8l-0.7 -1.7M105.6 333.7l-0.5 -1.7M104.7 330.5l-0.3 -1.8M104.3 327.3l-0.1 -1.8M104.2 324.0l0.1 -1.8M105.3 309.3l1.0 -1.5M107.1 306.6l1.1 -1.4M109.2 304.0l1.3 -1.3M111.6 301.7l1.4 -1.1M114.2 299.7l1.5 -1.0M117.0 297.9l1.6 -0.8M120.0 296.5l1.7 -0.7M123.1 295.3l1.7 -0.5M126.3 294.5l1.8 -0.3M129.5 294.1l1.8 -0.1M132.8 294.0l1.8 0.1M136.1 294.2l1.8 0.3M139.4 294.9l1.7 0.5M142.5 295.8l1.7 0.7M145.6 297.1l1.6 0.8M148.5 298.7l1.5 1.0M151.2 300.5l1.4 1.1M153.7 302.7l1.3 1.3M155.9 305.1l1.1 1.4M157.9 307.8l1.0 1.5M159.6 310.6l0.8 1.6M160.9 313.6l0.6 1.7M162.0 316.7l0.4 1.7M162.7 320.0l0.2 1.8M163.1 323.3l0.0 1.8M163.1 326.6l-0.1 1.8M162.7 329.8l-0.3 1.8M162.0 333.1l-0.5 1.7M161.0 336.2l-0.7 1.7M159.7 339.2l-0.9 1.6M158.0 342.1l-1.0 1.5M156.0 344.7l-1.2 1.4M153.8 347.2l-1.3 1.2M151.3 349.3l-1.4 1.1M148.6 351.2l-1.6 0.9M145.7 352.8l-1.6 0.7M142.7 354.1l-1.7 0.6M139.6 355.1l-1.8 0.4M136.3 355.7l-1.8 0.2M133.0 356.0l-1.8 0.0M129.7 355.9l-1.8 -0.2M126.4 355.5l-1.8 -0.4M123.2 354.7l-1.7 -0.6M120.1 353.6l-1.6 -0.7M117.2 352.2l-1.6 -0.9M114.4 350.4l-1.4 -1.1M111.7 348.4l-1.3 -1.2M109.4 346.1l-1.2 -1.4M107.3 343.6l-1.0 -1.5M105.4 340.8l-0.9 -1.6M103.9 337.9l-0.7 -1.7M102.7 334.8l-0.5 -1.7M101.8 331.6l-0.3 -1.8M101.3 328.4l-0.1 -1.8M101.1 325.1l0.0 -1.8M101.3 321.8l0.2 -1.8M101.8 318.5l0.4 -1.7M102.6 315.4l0.6 -1.7M103.8 312.3l0.8 -1.6M110.9 298.2l1.4 -1.1M113.6 296.3l1.5 -0.9M116.5 294.7l1.6 -0.8M119.5 293.3l1.7 -0.6M122.6 292.2l1.7 -0.5M125.8 291.5l1.8 -0.3M129.1 291.0l1.8 -0.1M132.4 290.9l1.8 0.1M135.7 291.1l1.8 0.2M138.9 291.6l1.8 0.4M142.1 292.4l1.7 0.6M145.2 293.5l1.6 0.7M148.2 294.9l1.6 0.9M151.0 296.6l1.5 1.0M153.7 298.6l1.4 1.2M156.1 300.8l1.2 1.3M158.3 303.2l1.1 1.4M160.3 305.8l1.0 1.5M162.0 308.7l0.8 1.6M163.5 311.6l0.7 1.7M164.6 314.7l0.5 1.7M165.5 317.9l0.3 1.8M166.0 321.2l0.2 1.8M166.2 324.4l-0.0 1.8M166.1 327.7l-0.2 1.8M165.7 331.0l-0.4 1.8M164.9 334.2l-0.5 1.7M163.9 337.3l-0.7 1.7M162.6 340.4l-0.9 1.6M160.9 343.2l-1.0 1.5M159.0 345.9l-1.1 1.4M156.9 348.4l-1.3 1.3M154.5 350.7l-1.4 1.1M151.9 352.8l-1.5 1.0M149.2 354.5l-1.6 0.9M146.2 356.0l-1.7 0.7M143.2 357.3l-1.7 0.5M140.0 358.2l-1.8 0.4M136.8 358.8l-1.8 0.2M133.5 359.1l-1.8 0.0M130.2 359.1l-1.8 -0.1M126.9 358.7l-1.8 -0.3M123.7 358.1l-1.7 -0.5M120.5 357.1l-1.7 -0.7M117.5 355.8l-1.6 -0.8M114.6 354.3l-1.5 -1.0M111.8 352.4l-1.4 -1.1M109.3 350.4l-1.3 -1.2M106.9 348.0l-1.2 -1.4M104.8 345.5l-1.0 -1.5M103.0 342.8l-0.9 -1.6M101.4 339.9l-0.7 -1.6M100.1 336.8l-0.6 -1.7M99.1 333.7l-0.4 -1.8M98.4 330.5l-0.2 -1.8M98.1 327.2l-0.1 -1.8M98.0 323.9l0.1 -1.8M98.3 320.6l0.3 -1.8M98.9 317.4l0.4 -1.7M99.7 314.2l0.6 -1.7M100.9 311.1l0.8 -1.6M102.4 308.2l0.9 -1.5M104.2 305.4l1.1 -1.4M106.2 302.8l1.2 -1.3M108.5 300.4l1.3 -1.2M121.2 289.4l1.7 -0.5M124.4 288.6l1.8 -0.3M127.7 288.1l1.8 -0.2M130.9 287.8l1.8 -0.0M134.2 287.9l1.8 0.1M137.5 288.2l1.8 0.3M140.7 288.8l1.7 0.5M143.9 289.7l1.7 0.6M147.0 290.9l1.6 0.8M149.9 292.3l1.6 0.9M152.8 294.0l1.5 1.0M155.4 296.0l1.4 1.2M157.9 298.2l1.3 1.3M160.2 300.5l1.1 1.4M162.2 303.1l1.0 1.5M164.0 305.9l0.9 1.6M165.6 308.8l0.7 1.6M166.9 311.8l0.6 1.7M167.9 314.9l0.4 1.7M168.7 318.1l0.3 1.8M169.1 321.4l0.1 1.8M169.3 324.7l-0.0 1.8M169.2 328.0l-0.2 1.8M168.8 331.2l-0.3 1.8M168.1 334.4l-0.5 1.7M167.1 337.6l-0.6 1.7M165.9 340.6l-0.8 1.6M164.4 343.6l-0.9 1.5M162.6 346.3l-1.1 1.4M160.6 348.9l-1.2 1.3M158.4 351.4l-1.3 1.2M155.9 353.6l-1.4 1.1M153.3 355.6l-1.5 1.0M150.5 357.3l-1.6 0.9M147.6 358.8l-1.7 0.7M144.5 360.1l-1.7 0.6M141.4 361.0l-1.8 0.4M138.2 361.7l-1.8 0.3M134.9 362.1l-1.8 0.1M131.6 362.2l-1.8 -0.1M128.3 362.0l-1.8 -0.2M125.1 361.5l-1.8 -0.4M121.9 360.8l-1.7 -0.5M118.7 359.7l-1.7 -0.7M115.7 358.4l-1.6 -0.8M112.8 356.8l-1.5 -1.0M110.1 355.0l-1.4 -1.1M107.5 352.9l-1.3 -1.2M105.2 350.7l-1.2 -1.3M103.0 348.2l-1.1 -1.4M101.1 345.5l-1.0 -1.5M99.4 342.7l-0.8 -1.6M97.9 339.7l-0.7 -1.7M96.8 336.7l-0.5 -1.7M95.9 333.5l-0.4 -1.8M95.3 330.3l-0.2 -1.8M94.9 327.0l-0.1 -1.8M94.9 323.7l0.1 -1.8M95.2 320.4l0.3 -1.8M95.7 317.2l0.4 -1.7M96.6 314.0l0.6 -1.7M97.7 310.9l0.7 -1.6M99.1 307.9l0.9 -1.6M100.7 305.0l1.0 -1.5M102.6 302.3l1.1 -1.4M104.7 299.8l1.2 -1.3M107.0 297.5l1.4 -1.2M109.6 295.4l1.5 -1.1M112.3 293.5l1.5 -0.9M115.1 291.9l1.6 -0.8M118.1 290.5l1.7 -0.6M135.1 284.8l1.8 0.2M138.4 285.2l1.8 0.3M141.6 285.8l1.7 0.5M144.8 286.7l1.7 0.6M147.9 287.9l1.6 0.7M150.8 289.3l1.6 0.9M153.7 291.0l1.5 1.0M156.4 292.8l1.4 1.1M158.9 294.9l1.3 1.2M161.3 297.2l1.2 1.3M163.5 299.7l1.1 1.4M165.4 302.3l1.0 1.5M167.2 305.1l0.9 1.6M168.7 308.0l0.7 1.6M169.9 311.1l0.6 1.7M170.9 314.2l0.4 1.7M171.7 317.4l0.3 1.8M172.2 320.6l0.2 1.8M172.4 323.9l0.0 1.8M172.3 327.2l-0.1 1.8M172.0 330.5l-0.3 1.8M171.5 333.7l-0.4 1.7M170.6 336.9l-0.6 1.7M169.5 340.0l-0.7 1.7M168.2 343.0l-0.8 1.6M166.6 345.9l-1.0 1.5M164.8 348.6l-1.1 1.4M162.7 351.2l-1.2 1.3M160.5 353.6l-1.3 1.2M158.1 355.8l-1.4 1.1M155.5 357.8l-1.5 1.0M152.7 359.6l-1.6 0.9M149.8 361.2l-1.6 0.8M146.8 362.5l-1.7 0.6M143.7 363.6l-1.7 0.5M140.5 364.4l-1.8 0.3M137.3 365.0l-1.8 0.2M134.0 365.3l-1.8 0.0M130.7 365.3l-1.8 -0.1M127.4 365.0l-1.8 -0.2M124.2 364.5l-1.8 -0.4M121.0 363.7l-1.7 -0.5M117.9 362.7l-1.7 -0.7M114.8 361.4l-1.6 -0.8M111.9 359.9l-1.5 -0.9M109.2 358.1l-1.5 -1.1M106.5 356.2l-1.4 -1.2M104.1 354.0l-1.3 -1.3M101.8 351.6l-1.2 -1.4M99.7 349.0l-1.0 -1.5M97.9 346.3l-0.9 -1.5M96.3 343.5l-0.8 -1.6M94.9 340.5l-0.7 -1.7M93.7 337.4l-0.5 -1.7M92.9 334.2l-0.4 -1.8M92.2 331.0l-0.2 -1.8M91.9 327.7l-0.1 -1.8M91.8 324.4l0.1 -1.8M92.0 321.1l0.2 -1.8M92.4 317.9l0.4 -1.8M93.1 314.7l0.5 -1.7M94.1 311.5l0.6 -1.7M95.3 308.5l0.8 -1.6M96.8 305.5l0.9 -1.6M98.5 302.7l1.0 -1.5M100.4 300.1l1.1 -1.4M102.6 297.6l1.3 -1.3M104.9 295.3l1.4 -1.2M107.4 293.1l1.4 -1.1M110.1 291.2l1.5 -0.9M112.9 289.5l1.6 -0.8M115.9 288.1l1.7 -0.7M118.9 286.9l1.7 -0.5M122.1 286.0l1.8 -0.4M125.3 285.3l1.8 -0.3M128.6 284.8l1.8 -0.1M131.8 284.7l1.8 0.0M150.9 285.9l1.6 0.8M153.8 287.4l1.5 0.9M156.5 289.1l1.5 1.0M159.2 291.1l1.4 1.2M161.7 293.2l1.3 1.3M164.0 295.6l1.2 1.3M166.1 298.1l1.1 1.4M168.1 300.7l1.0 1.5M169.8 303.5l0.9 1.6M171.3 306.4l0.7 1.6M172.6 309.4l0.6 1.7M173.7 312.5l0.5 1.7M174.5 315.7l0.3 1.8M175.1 319.0l0.2 1.8M175.4 322.2l0.1 1.8M175.5 325.5l-0.1 1.8M175.3 328.8l-0.2 1.8M174.9 332.0l-0.3 1.8M174.3 335.3l-0.5 1.7M173.4 338.4l-0.6 1.7M172.2 341.5l-0.7 1.7M170.9 344.5l-0.8 1.6M169.3 347.4l-1.0 1.5M167.5 350.1l-1.1 1.4M165.5 352.7l-1.2 1.4M163.3 355.2l-1.3 1.3M160.9 357.4l-1.4 1.2M158.4 359.5l-1.5 1.1M155.7 361.4l-1.5 0.9M152.9 363.1l-1.6 0.8M149.9 364.6l-1.7 0.7M146.9 365.8l-1.7 0.6M143.8 366.8l-1.7 0.4M140.6 367.6l-1.8 0.3M137.3 368.1l-1.8 0.2M134.1 368.4l-1.8 0.0M130.8 368.4l-1.8 -0.1M127.5 368.2l-1.8 -0.2M124.2 367.7l-1.8 -0.4M121.0 367.0l-1.7 -0.5M117.9 366.0l-1.7 -0.6M114.8 364.8l-1.6 -0.7M111.9 363.4l-1.6 -0.9M109.0 361.8l-1.5 -1.0M106.3 359.9l-1.4 -1.1M103.7 357.9l-1.3 -1.2M101.3 355.6l-1.2 -1.3M99.1 353.2l-1.1 -1.4M97.1 350.6l-1.0 -1.5M95.2 347.9l-0.9 -1.5M93.6 345.1l-0.8 -1.6M92.2 342.1l-0.7 -1.7M91.0 339.0l-0.5 -1.7M90.1 335.9l-0.4 -1.8M89.4 332.7l-0.3 -1.8M88.9 329.4l-0.1 -1.8M88.7 326.1l-0.0 -1.8M88.7 322.9l0.1 -1.8M89.0 319.6l0.3 -1.8M89.6 316.3l0.4 -1.8M90.3 313.1l0.5 -1.7M91.4 310.0l0.7 -1.7M92.6 307.0l0.8 -1.6M94.1 304.0l0.9 -1.6M95.8 301.2l1.0 -1.5M97.7 298.6l1.1 -1.4M99.8 296.0l1.2 -1.3M102.1 293.7l1.3 -1.2M104.5 291.5l1.4 -1.1M107.1 289.5l1.5 -1.0M109.9 287.7l1.6 -0.9M112.8 286.1l1.6 -0.8M115.8 284.8l1.7 -0.6M118.9 283.7l1.7 -0.5M122.0 282.8l1.8 -0.4M125.2 282.1l1.8 -0.2M128.5 281.7l1.8 -0.1M131.8 281.6l1.8 0.0M135.1 281.7l1.8 0.2M138.3 282.0l1.8 0.3M141.6 282.6l1.7 0.4M144.7 283.5l1.7 0.6M147.8 284.5l1.7 0.7M166.0 293.2l1.2 1.3M168.2 295.7l1.1 1.4M170.2 298.3l1.0 1.5M172.0 301.1l0.9 1.6M173.6 303.9l0.8 1.6M174.9 306.9l0.7 1.7M176.1 310.0l0.5 1.7M177.1 313.1l0.4 1.7M177.8 316.3l0.3 1.8M178.3 319.6l0.2 1.8M178.6 322.8l0.0 1.8M178.6 326.1l-0.1 1.8M178.4 329.4l-0.2 1.8M178.0 332.6l-0.3 1.8M177.3 335.9l-0.5 1.7M176.4 339.0l-0.6 1.7M175.3 342.1l-0.7 1.7M174.0 345.1l-0.8 1.6M172.5 348.0l-0.9 1.5M170.8 350.8l-1.0 1.5M168.9 353.5l-1.1 1.4M166.8 356.0l-1.2 1.3M164.5 358.4l-1.3 1.2M162.0 360.6l-1.4 1.1M159.5 362.6l-1.5 1.0M156.7 364.4l-1.5 0.9M153.9 366.1l-1.6 0.8M150.9 367.5l-1.7 0.7M147.9 368.7l-1.7 0.6M144.8 369.7l-1.7 0.5M141.6 370.5l-1.8 0.3M138.4 371.1l-1.8 0.2M135.1 371.4l-1.8 0.1M131.8 371.5l-1.8 -0.0M128.5 371.4l-1.8 -0.2M125.3 371.0l-1.8 -0.3M122.0 370.4l-1.7 -0.4M118.9 369.6l-1.7 -0.5M115.7 368.5l-1.7 -0.7M112.7 367.3l-1.6 -0.8M109.8 365.8l-1.6 -0.9M107.0 364.1l-1.5 -1.0M104.3 362.3l-1.4 -1.1M101.7 360.2l-1.3 -1.2M99.3 358.0l-1.3 -1.3M97.0 355.6l-1.2 -1.4M95.0 353.0l-1.1 -1.5M93.1 350.3l-1.0 -1.5M91.4 347.5l-0.8 -1.6M89.9 344.6l-0.7 -1.6M88.6 341.6l-0.6 -1.7M87.6 338.5l-0.5 -1.7M86.7 335.3l-0.4 -1.8M86.1 332.1l-0.2 -1.8M85.7 328.8l-0.1 -1.8M85.6 325.5l0.0 -1.8M85.7 322.2l0.1 -1.8M86.0 319.0l0.3 -1.8M86.5 315.7l0.4 -1.8M87.3 312.5l0.5 -1.7M88.3 309.4l0.6 -1.7M89.5 306.4l0.8 -1.6M90.9 303.4l0.9 -1.6M92.5 300.6l1.0 -1.5M94.4 297.8l1.1 -1.4M96.4 295.2l1.2 -1.4M98.6 292.8l1.3 -1.3M100.9 290.5l1.4 -1.2M103.4 288.4l1.4 -1.1M106.1 286.4l1.5 -1.0M108.9 284.7l1.6 -0.9M111.8 283.2l1.6 -0.8M114.8 281.8l1.7 -0.6M117.9 280.7l1.7 -0.5M121.0 279.8l1.8 -0.4M124.2 279.2l1.8 -0.3M127.5 278.7l1.8 -0.1M130.8 278.5l1.8 -0.0M134.0 278.5l1.8 0.1M137.3 278.8l1.8 0.2M140.6 279.3l1.8 0.4M143.8 280.0l1.7 0.5M146.9 280.9l1.7 0.6M150.0 282.1l1.6 0.7M153.0 283.4l1.6 0.8M155.8 285.0l1.5 0.9M158.6 286.8l1.5 1.1M161.2 288.8l1.4 1.2M163.7 290.9l1.3 1.2M178.1 306.5l0.6 1.7M179.3 309.7l0.5 1.7M180.2 312.8l0.4 1.8M180.9 316.1l0.3 1.8M181.4 319.4l0.2 1.8M181.7 322.7l0.1 1.8M181.7 326.0l-0.1 1.8M181.5 329.3l-0.2 1.8M181.1 332.6l-0.3 1.8M180.5 335.8l-0.4 1.7M179.7 339.0l-0.5 1.7M178.6 342.2l-0.7 1.7M177.4 345.3l-0.8 1.6M175.9 348.2l-0.9 1.6M174.3 351.1l-1.0 1.5M172.4 353.9l-1.1 1.4M170.4 356.5l-1.2 1.4M168.2 359.0l-1.3 1.3M165.9 361.3l-1.3 1.2M163.4 363.5l-1.4 1.1M160.7 365.5l-1.5 1.0M158.0 367.3l-1.6 0.9M155.1 369.0l-1.6 0.8M152.1 370.4l-1.7 0.7M149.0 371.6l-1.7 0.6M145.9 372.7l-1.7 0.5M142.6 373.5l-1.8 0.4M139.4 374.1l-1.8 0.2M136.1 374.4l-1.8 0.1M132.8 374.6l-1.8 -0.0M129.5 374.5l-1.8 -0.1M126.2 374.3l-1.8 -0.2M122.9 373.7l-1.8 -0.4M119.7 373.0l-1.7 -0.5M116.5 372.1l-1.7 -0.6M113.4 370.9l-1.7 -0.7M110.3 369.6l-1.6 -0.8M107.4 368.0l-1.5 -0.9M104.6 366.3l-1.5 -1.0M101.9 364.3l-1.4 -1.1M99.3 362.2l-1.3 -1.2M96.9 360.0l-1.2 -1.3M94.7 357.5l-1.2 -1.4M92.6 355.0l-1.1 -1.5M90.7 352.3l-1.0 -1.5M88.9 349.4l-0.9 -1.6M87.4 346.5l-0.8 -1.6M86.1 343.5l-0.6 -1.7M84.9 340.3l-0.5 -1.7M84.0 337.2l-0.4 -1.8M83.3 333.9l-0.3 -1.8M82.8 330.6l-0.2 -1.8M82.5 327.3l-0.1 -1.8M82.5 324.0l0.1 -1.8M82.7 320.7l0.2 -1.8M83.1 317.4l0.3 -1.8M83.7 314.2l0.4 -1.7M84.5 311.0l0.5 -1.7M85.6 307.8l0.7 -1.7M86.8 304.7l0.8 -1.6M88.3 301.8l0.9 -1.6M89.9 298.9l1.0 -1.5M91.8 296.1l1.1 -1.4M93.8 293.5l1.2 -1.4M96.0 291.0l1.3 -1.3M98.3 288.7l1.3 -1.2M100.8 286.5l1.4 -1.1M103.5 284.5l1.5 -1.0M106.2 282.7l1.6 -0.9M109.1 281.0l1.6 -0.8M112.1 279.6l1.7 -0.7M115.2 278.4l1.7 -0.6M118.3 277.3l1.7 -0.5M121.6 276.5l1.8 -0.4M124.8 275.9l1.8 -0.2M128.1 275.6l1.8 -0.1M131.4 275.4l1.8 0.0M134.7 275.5l1.8 0.1M138.0 275.7l1.8 0.2M141.3 276.3l1.8 0.4M144.5 277.0l1.7 0.5M147.7 277.9l1.7 0.6M150.8 279.1l1.7 0.7M153.9 280.4l1.6 0.8M156.8 282.0l1.5 0.9M159.6 283.7l1.5 1.0M162.3 285.7l1.4 1.1M164.9 287.8l1.3 1.2M167.3 290.0l1.2 1.3M169.5 292.5l1.2 1.4M171.6 295.0l1.1 1.5M173.5 297.7l1.0 1.5M175.3 300.6l0.9 1.6M176.8 303.5l0.8 1.6M184.8 324.5l-0.0 1.8M184.7 327.8l-0.1 1.8M184.5 331.1l-0.2 1.8M184.0 334.3l-0.3 1.8M183.3 337.6l-0.5 1.7M182.4 340.8l-0.6 1.7M181.3 343.9l-0.7 1.7M180.0 347.0l-0.8 1.6M178.5 349.9l-0.9 1.6M176.9 352.8l-1.0 1.5M175.1 355.5l-1.1 1.4M173.1 358.2l-1.2 1.4M170.9 360.7l-1.2 1.3M168.6 363.0l-1.3 1.2M166.1 365.3l-1.4 1.1M163.5 367.3l-1.5 1.0M160.8 369.2l-1.5 1.0M158.0 370.9l-1.6 0.9M155.0 372.5l-1.6 0.8M152.0 373.8l-1.7 0.7M148.9 375.0l-1.7 0.5M145.7 375.9l-1.7 0.4M142.5 376.7l-1.8 0.3M139.2 377.2l-1.8 0.2M135.9 377.6l-1.8 0.1M132.6 377.7l-1.8 -0.0M129.3 377.6l-1.8 -0.1M126.0 377.4l-1.8 -0.2M122.8 376.9l-1.8 -0.3M119.5 376.2l-1.7 -0.5M116.3 375.3l-1.7 -0.6M113.2 374.2l-1.7 -0.7M110.1 372.9l-1.6 -0.8M107.2 371.4l-1.6 -0.9M104.3 369.8l-1.5 -1.0M101.6 368.0l-1.4 -1.1M98.9 366.0l-1.4 -1.2M96.4 363.8l-1.3 -1.2M94.1 361.5l-1.2 -1.3M91.8 359.0l-1.1 -1.4M89.8 356.4l-1.0 -1.5M87.9 353.7l-1.0 -1.5M86.2 350.9l-0.9 -1.6M84.6 347.9l-0.8 -1.6M83.3 344.9l-0.7 -1.7M82.1 341.8l-0.5 -1.7M81.2 338.6l-0.4 -1.7M80.4 335.4l-0.3 -1.8M79.9 332.1l-0.2 -1.8M79.5 328.8l-0.1 -1.8M79.4 325.5l0.0 -1.8M79.5 322.2l0.1 -1.8M79.7 318.9l0.2 -1.8M80.2 315.7l0.3 -1.8M80.9 312.4l0.5 -1.7M81.8 309.2l0.6 -1.7M82.9 306.1l0.7 -1.7M84.2 303.0l0.8 -1.6M85.7 300.1l0.9 -1.6M87.3 297.2l1.0 -1.5M89.1 294.5l1.1 -1.4M91.1 291.8l1.2 -1.4M93.3 289.3l1.2 -1.3M95.6 287.0l1.3 -1.2M98.1 284.7l1.4 -1.1M100.7 282.7l1.5 -1.0M103.4 280.8l1.5 -1.0M106.2 279.1l1.6 -0.9M109.2 277.5l1.6 -0.8M112.2 276.2l1.7 -0.7M115.3 275.0l1.7 -0.5M118.5 274.1l1.7 -0.4M121.7 273.3l1.8 -0.3M125.0 272.8l1.8 -0.2M128.3 272.4l1.8 -0.1M131.6 272.3l1.8 0.0M134.9 272.4l1.8 0.1M138.2 272.6l1.8 0.2M141.4 273.1l1.8 0.3M144.7 273.8l1.7 0.5M147.9 274.7l1.7 0.6M151.0 275.8l1.7 0.7M154.1 277.1l1.6 0.8M157.0 278.6l1.6 0.9M159.9 280.2l1.5 1.0M162.6 282.0l1.4 1.1M165.3 284.0l1.4 1.2M167.8 286.2l1.3 1.2M170.1 288.5l1.2 1.3M172.4 291.0l1.1 1.4M174.4 293.6l1.0 1.5M176.3 296.3l1.0 1.5M178.0 299.1l0.9 1.6M179.6 302.1l0.8 1.6M180.9 305.1l0.7 1.7M182.1 308.2l0.5 1.7M183.0 311.4l0.4 1.7M183.8 314.6l0.3 1.8M184.3 317.9l0.2 1.8M184.7 321.2l0.1 1.8M184.3 344.7l-0.7 1.7M183.1 347.8l-0.8 1.6M181.6 350.7l-0.9 1.6M180.0 353.6l-0.9 1.5M178.2 356.4l-1.0 1.5M176.3 359.1l-1.1 1.4M174.2 361.6l-1.2 1.3M171.9 364.1l-1.3 1.3M169.6 366.4l-1.4 1.2M167.0 368.5l-1.4 1.1M164.4 370.5l-1.5 1.0M161.7 372.3l-1.5 0.9M158.8 374.0l-1.6 0.8M155.8 375.5l-1.6 0.7M152.8 376.8l-1.7 0.6M149.7 378.0l-1.7 0.5M146.5 378.9l-1.7 0.4M143.3 379.7l-1.8 0.3M140.1 380.2l-1.8 0.2M136.8 380.6l-1.8 0.1M133.5 380.8l-1.8 0.0M130.2 380.8l-1.8 -0.1M126.9 380.6l-1.8 -0.2M123.6 380.2l-1.8 -0.3M120.3 379.6l-1.8 -0.4M117.1 378.8l-1.7 -0.5M114.0 377.8l-1.7 -0.6M110.9 376.6l-1.7 -0.7M107.8 375.3l-1.6 -0.8M104.9 373.7l-1.6 -0.9M102.1 372.0l-1.5 -1.0M99.3 370.2l-1.4 -1.1M96.7 368.2l-1.4 -1.2M94.2 366.0l-1.3 -1.2M91.9 363.7l-1.2 -1.3M89.6 361.2l-1.1 -1.4M87.6 358.6l-1.1 -1.5M85.7 355.9l-1.0 -1.5M83.9 353.1l-0.9 -1.6M82.3 350.2l-0.8 -1.6M80.9 347.2l-0.7 -1.7M79.7 344.2l-0.6 -1.7M78.6 341.0l-0.5 -1.7M77.8 337.8l-0.4 -1.8M77.1 334.6l-0.3 -1.8M76.7 331.3l-0.2 -1.8M76.4 328.0l-0.1 -1.8M76.3 324.7l0.0 -1.8M76.4 321.4l0.1 -1.8M76.7 318.1l0.3 -1.8M77.2 314.9l0.4 -1.8M77.9 311.6l0.5 -1.7M78.8 308.4l0.6 -1.7M79.9 305.3l0.7 -1.7M81.1 302.2l0.8 -1.6M82.6 299.3l0.9 -1.6M84.2 296.4l0.9 -1.5M86.0 293.6l1.0 -1.5M87.9 290.9l1.1 -1.4M90.0 288.4l1.2 -1.3M92.3 285.9l1.3 -1.3M94.6 283.6l1.4 -1.2M97.2 281.5l1.4 -1.1M99.8 279.5l1.5 -1.0M102.5 277.7l1.5 -0.9M105.4 276.0l1.6 -0.8M108.4 274.5l1.6 -0.7M111.4 273.2l1.7 -0.6M114.5 272.0l1.7 -0.5M117.7 271.1l1.7 -0.4M120.9 270.3l1.8 -0.3M124.1 269.8l1.8 -0.2M127.4 269.4l1.8 -0.1M130.7 269.2l1.8 -0.0M134.0 269.2l1.8 0.1M137.3 269.4l1.8 0.2M140.6 269.8l1.8 0.3M143.9 270.4l1.8 0.4M147.1 271.2l1.7 0.5M150.2 272.2l1.7 0.6M153.3 273.4l1.7 0.7M156.4 274.7l1.6 0.8M159.3 276.3l1.6 0.9M162.1 278.0l1.5 1.0M164.9 279.8l1.4 1.1M167.5 281.8l1.4 1.2M170.0 284.0l1.3 1.2M172.3 286.3l1.2 1.3M174.6 288.8l1.1 1.4M176.6 291.4l1.1 1.5M178.5 294.1l1.0 1.5M180.3 296.9l0.9 1.6M181.9 299.8l0.8 1.6M183.3 302.8l0.7 1.7M184.5 305.8l0.6 1.7M185.6 309.0l0.5 1.7M186.4 312.2l0.4 1.8M187.1 315.4l0.3 1.8M187.5 318.7l0.2 1.8M187.8 322.0l0.1 1.8M187.9 325.3l-0.0 1.8M187.8 328.6l-0.1 1.8M187.5 331.9l-0.3 1.8M187.0 335.1l-0.4 1.8M186.3 338.4l-0.5 1.7M185.4 341.6l-0.6 1.7M175.9 364.4l-1.2 1.3M173.7 366.7l-1.3 1.3M171.3 369.0l-1.4 1.2M168.7 371.1l-1.4 1.1M166.1 373.1l-1.5 1.0M163.3 374.9l-1.5 0.9M160.5 376.6l-1.6 0.8M157.5 378.1l-1.6 0.8M154.5 379.5l-1.7 0.7M151.4 380.6l-1.7 0.6M148.3 381.6l-1.7 0.5M145.1 382.5l-1.8 0.4M141.8 383.1l-1.8 0.3M138.6 383.6l-1.8 0.2M135.3 383.8l-1.8 0.1M132.0 383.9l-1.8 -0.0M128.7 383.8l-1.8 -0.1M125.4 383.5l-1.8 -0.2M122.1 383.1l-1.8 -0.3M118.9 382.4l-1.7 -0.4M115.7 381.6l-1.7 -0.5M112.5 380.6l-1.7 -0.6M109.4 379.4l-1.7 -0.7M106.4 378.0l-1.6 -0.8M103.5 376.5l-1.6 -0.9M100.6 374.8l-1.5 -1.0M97.9 373.0l-1.4 -1.1M95.3 371.0l-1.4 -1.1M92.7 368.8l-1.3 -1.2M90.4 366.6l-1.3 -1.3M88.1 364.2l-1.2 -1.4M86.0 361.6l-1.1 -1.4M84.0 359.0l-1.0 -1.5M82.2 356.2l-0.9 -1.5M80.5 353.4l-0.8 -1.6M79.0 350.4l-0.8 -1.6M77.6 347.4l-0.7 -1.7M76.5 344.3l-0.6 -1.7M75.5 341.2l-0.5 -1.7M74.6 338.0l-0.4 -1.8M74.0 334.7l-0.3 -1.8M73.5 331.5l-0.2 -1.8M73.3 328.2l-0.1 -1.8M73.2 324.9l0.0 -1.8M73.3 321.6l0.1 -1.8M73.6 318.3l0.2 -1.8M74.0 315.0l0.3 -1.8M74.7 311.8l0.4 -1.7M75.5 308.6l0.5 -1.7M76.5 305.4l0.6 -1.7M77.7 302.3l0.7 -1.7M79.1 299.3l0.8 -1.6M80.6 296.4l0.9 -1.6M82.3 293.5l1.0 -1.5M84.1 290.8l1.1 -1.4M86.1 288.2l1.1 -1.4M88.3 285.6l1.2 -1.3M90.5 283.3l1.3 -1.3M92.9 281.0l1.4 -1.2M95.5 278.9l1.4 -1.1M98.1 276.9l1.5 -1.0M100.9 275.1l1.5 -0.9M103.7 273.4l1.6 -0.8M106.7 271.9l1.6 -0.8M109.7 270.5l1.7 -0.7M112.8 269.4l1.7 -0.6M115.9 268.4l1.7 -0.5M119.1 267.5l1.8 -0.4M122.4 266.9l1.8 -0.3M125.6 266.4l1.8 -0.2M128.9 266.2l1.8 -0.1M132.2 266.1l1.8 0.0M135.5 266.2l1.8 0.1M138.8 266.5l1.8 0.2M142.1 266.9l1.8 0.3M145.3 267.6l1.7 0.4M148.5 268.4l1.7 0.5M151.7 269.4l1.7 0.6M154.8 270.6l1.7 0.7M157.8 272.0l1.6 0.8M160.7 273.5l1.6 0.9M163.6 275.2l1.5 1.0M166.3 277.0l1.4 1.1M168.9 279.0l1.4 1.1M171.5 281.2l1.3 1.2M173.8 283.4l1.3 1.3M176.1 285.8l1.2 1.4M178.2 288.4l1.1 1.4M180.2 291.0l1.0 1.5M182.0 293.8l0.9 1.5M183.7 296.6l0.8 1.6M185.2 299.6l0.8 1.6M186.6 302.6l0.7 1.7M187.7 305.7l0.6 1.7M188.7 308.8l0.5 1.7M189.6 312.0l0.4 1.8M190.2 315.3l0.3 1.8M190.7 318.5l0.2 1.8M190.9 321.8l0.1 1.8M191.0 325.1l-0.0 1.8M190.9 328.4l-0.1 1.8M190.6 331.7l-0.2 1.8M190.2 335.0l-0.3 1.8M189.5 338.2l-0.4 1.7M188.7 341.4l-0.5 1.7M187.7 344.6l-0.6 1.7M186.5 347.7l-0.7 1.7M185.1 350.7l-0.8 1.6M183.6 353.6l-0.9 1.6M181.9 356.5l-1.0 1.5M180.1 359.2l-1.1 1.4M178.1 361.8l-1.1 1.4M160.1 380.3l-1.6 0.8M157.1 381.7l-1.7 0.7M154.1 383.0l-1.7 0.6M150.9 384.1l-1.7 0.5M147.8 385.0l-1.7 0.4M144.6 385.7l-1.8 0.3M141.3 386.3l-1.8 0.2M138.0 386.7l-1.8 0.1M134.7 387.0l-1.8 0.1M131.4 387.0l-1.8 -0.0M128.1 386.9l-1.8 -0.1M124.8 386.6l-1.8 -0.2M121.6 386.1l-1.8 -0.3M118.3 385.5l-1.7 -0.4M115.1 384.6l-1.7 -0.5M112.0 383.7l-1.7 -0.6M108.9 382.5l-1.7 -0.7M105.9 381.2l-1.6 -0.8M102.9 379.7l-1.6 -0.9M100.1 378.1l-1.5 -1.0M97.3 376.3l-1.5 -1.0M94.6 374.4l-1.4 -1.1M92.0 372.3l-1.4 -1.2M89.6 370.1l-1.3 -1.3M87.2 367.8l-1.2 -1.3M85.0 365.3l-1.2 -1.4M82.9 362.8l-1.1 -1.4M81.0 360.1l-1.0 -1.5M79.2 357.3l-0.9 -1.5M77.5 354.5l-0.8 -1.6M76.0 351.5l-0.7 -1.6M74.7 348.5l-0.7 -1.7M73.5 345.4l-0.6 -1.7M72.5 342.3l-0.5 -1.7M71.7 339.1l-0.4 -1.8M71.0 335.8l-0.3 -1.8M70.6 332.6l-0.2 -1.8M70.2 329.3l-0.1 -1.8M70.1 326.0l-0.0 -1.8M70.1 322.7l0.1 -1.8M70.3 319.4l0.2 -1.8M70.7 316.1l0.3 -1.8M71.3 312.9l0.4 -1.8M72.0 309.6l0.5 -1.7M72.9 306.5l0.6 -1.7M74.0 303.3l0.7 -1.7M75.2 300.3l0.7 -1.6M76.6 297.3l0.8 -1.6M78.2 294.4l0.9 -1.6M79.9 291.5l1.0 -1.5M81.7 288.8l1.1 -1.4M83.7 286.2l1.1 -1.4M85.9 283.7l1.2 -1.3M88.1 281.3l1.3 -1.3M90.5 279.0l1.4 -1.2M93.0 276.8l1.4 -1.1M95.7 274.8l1.5 -1.0M98.4 273.0l1.5 -1.0M101.2 271.2l1.6 -0.9M104.1 269.7l1.6 -0.8M107.1 268.3l1.7 -0.7M110.1 267.0l1.7 -0.6M113.3 265.9l1.7 -0.5M116.4 265.0l1.7 -0.4M119.6 264.3l1.8 -0.3M122.9 263.7l1.8 -0.2M126.2 263.3l1.8 -0.1M129.5 263.0l1.8 -0.1M132.8 263.0l1.8 0.0M136.1 263.1l1.8 0.1M139.4 263.4l1.8 0.2M142.6 263.9l1.8 0.3M145.9 264.5l1.7 0.4M149.1 265.4l1.7 0.5M152.2 266.3l1.7 0.6M155.3 267.5l1.7 0.7M158.3 268.8l1.6 0.8M161.3 270.3l1.6 0.9M164.1 271.9l1.5 1.0M166.9 273.7l1.5 1.0M169.6 275.6l1.4 1.1M172.2 277.7l1.4 1.2M174.6 279.9l1.3 1.3M177.0 282.2l1.2 1.3M179.2 284.7l1.2 1.4M181.3 287.2l1.1 1.4M183.2 289.9l1.0 1.5M185.0 292.7l0.9 1.5M186.7 295.5l0.8 1.6M188.2 298.5l0.7 1.6M189.5 301.5l0.7 1.7M190.7 304.6l0.6 1.7M191.7 307.7l0.5 1.7M192.5 310.9l0.4 1.8M193.2 314.2l0.3 1.8M193.6 317.4l0.2 1.8M194.0 320.7l0.1 1.8M194.1 324.0l0.0 1.8M194.1 327.3l-0.1 1.8M193.9 330.6l-0.2 1.8M193.5 333.9l-0.3 1.8M192.9 337.1l-0.4 1.8M192.2 340.4l-0.5 1.7M191.3 343.5l-0.6 1.7M190.2 346.7l-0.7 1.7M189.0 349.7l-0.7 1.6M187.6 352.7l-0.8 1.6M186.0 355.6l-0.9 1.6M184.3 358.5l-1.0 1.5M182.5 361.2l-1.1 1.4M180.5 363.8l-1.1 1.4M178.3 366.3l-1.2 1.3M176.1 368.7l-1.3 1.3M173.7 371.0l-1.4 1.2M171.2 373.2l-1.4 1.1M168.5 375.2l-1.5 1.0M165.8 377.0l-1.5 1.0M163.0 378.8l-1.6 0.9M138.5 389.8l-1.8 0.2M135.2 390.0l-1.8 0.1M131.9 390.1l-1.8 -0.0M128.6 390.0l-1.8 -0.1M125.3 389.7l-1.8 -0.2M122.0 389.3l-1.8 -0.3M118.8 388.7l-1.8 -0.4M115.6 388.0l-1.7 -0.5M112.4 387.1l-1.7 -0.6M109.3 386.0l-1.7 -0.7M106.2 384.7l-1.6 -0.7M103.2 383.4l-1.6 -0.8M100.3 381.8l-1.6 -0.9M97.5 380.1l-1.5 -1.0M94.7 378.3l-1.5 -1.1M92.1 376.3l-1.4 -1.1M89.5 374.2l-1.3 -1.2M87.1 372.0l-1.3 -1.3M84.8 369.7l-1.2 -1.3M82.6 367.2l-1.1 -1.4M80.5 364.7l-1.1 -1.4M78.5 362.0l-1.0 -1.5M76.7 359.2l-0.9 -1.5M75.1 356.4l-0.8 -1.6M73.5 353.5l-0.8 -1.6M72.2 350.5l-0.7 -1.7M71.0 347.4l-0.6 -1.7M69.9 344.3l-0.5 -1.7M69.0 341.1l-0.4 -1.8M68.3 337.9l-0.3 -1.8M67.7 334.6l-0.2 -1.8M67.3 331.4l-0.2 -1.8M67.1 328.1l-0.1 -1.8M67.0 324.8l0.0 -1.8M67.1 321.5l0.1 -1.8M67.4 318.2l0.2 -1.8M67.8 314.9l0.3 -1.8M68.4 311.7l0.4 -1.8M69.1 308.5l0.5 -1.7M70.0 305.3l0.6 -1.7M71.1 302.2l0.7 -1.7M72.4 299.1l0.7 -1.6M73.7 296.1l0.8 -1.6M75.3 293.2l0.9 -1.6M77.0 290.4l1.0 -1.5M78.8 287.6l1.1 -1.5M80.8 285.0l1.1 -1.4M82.9 282.4l1.2 -1.3M85.1 280.0l1.3 -1.3M87.4 277.7l1.3 -1.2M89.9 275.5l1.4 -1.1M92.4 273.4l1.4 -1.1M95.1 271.4l1.5 -1.0M97.9 269.6l1.5 -0.9M100.7 268.0l1.6 -0.8M103.6 266.4l1.6 -0.8M106.6 265.1l1.7 -0.7M109.7 263.9l1.7 -0.6M112.8 262.8l1.7 -0.5M116.0 261.9l1.8 -0.4M119.2 261.2l1.8 -0.3M122.5 260.6l1.8 -0.2M125.7 260.2l1.8 -0.2M129.0 260.0l1.8 -0.1M132.3 259.9l1.8 0.0M135.6 260.0l1.8 0.1M138.9 260.3l1.8 0.2M142.2 260.7l1.8 0.3M145.4 261.3l1.8 0.4M148.6 262.0l1.7 0.5M151.8 262.9l1.7 0.6M154.9 264.0l1.7 0.7M158.0 265.3l1.6 0.7M161.0 266.6l1.6 0.8M163.9 268.2l1.6 0.9M166.7 269.9l1.5 1.0M169.5 271.7l1.5 1.1M172.1 273.7l1.4 1.1M174.7 275.8l1.3 1.2M177.1 278.0l1.3 1.3M179.4 280.3l1.2 1.3M181.6 282.8l1.1 1.4M183.7 285.3l1.1 1.4M185.7 288.0l1.0 1.5M187.5 290.8l0.9 1.5M189.1 293.6l0.8 1.6M190.7 296.5l0.8 1.6M192.0 299.5l0.7 1.7M193.2 302.6l0.6 1.7M194.3 305.7l0.5 1.7M195.2 308.9l0.4 1.8M195.9 312.1l0.3 1.8M196.5 315.4l0.2 1.8M196.9 318.6l0.2 1.8M197.1 321.9l0.1 1.8M197.2 325.2l-0.0 1.8M197.1 328.5l-0.1 1.8M196.8 331.8l-0.2 1.8M196.4 335.1l-0.3 1.8M195.8 338.3l-0.4 1.8M195.1 341.5l-0.5 1.7M194.2 344.7l-0.6 1.7M193.1 347.8l-0.7 1.7M191.8 350.9l-0.7 1.6M190.5 353.9l-0.8 1.6M188.9 356.8l-0.9 1.6M187.2 359.6l-1.0 1.5M185.4 362.4l-1.1 1.5M183.4 365.0l-1.1 1.4M181.3 367.6l-1.2 1.3M179.1 370.0l-1.3 1.3M176.8 372.3l-1.3 1.2M174.3 374.5l-1.4 1.1M171.8 376.6l-1.4 1.1M169.1 378.6l-1.5 1.0M166.3 380.4l-1.5 0.9M163.5 382.0l-1.6 0.8M160.6 383.6l-1.6 0.8M157.6 384.9l-1.7 0.7M154.5 386.1l-1.7 0.6M151.4 387.2l-1.7 0.5M148.2 388.1l-1.8 0.4M145.0 388.8l-1.8 0.3M141.7 389.4l-1.8 0.2M113.7 390.7l-1.7 -0.5M110.6 389.7l-1.7 -0.6M107.5 388.6l-1.7 -0.7M104.4 387.3l-1.6 -0.8M101.4 385.9l-1.6 -0.8M98.5 384.4l-1.6 -0.9M95.7 382.7l-1.5 -1.0M93.0 380.9l-1.5 -1.1M90.3 378.9l-1.4 -1.1M87.8 376.8l-1.4 -1.2M85.3 374.6l-1.3 -1.3M83.0 372.3l-1.2 -1.3M80.7 369.9l-1.2 -1.4M78.6 367.3l-1.1 -1.4M76.6 364.7l-1.0 -1.5M74.8 362.0l-1.0 -1.5M73.1 359.2l-0.9 -1.6M71.5 356.3l-0.8 -1.6M70.0 353.3l-0.7 -1.6M68.8 350.3l-0.6 -1.7M67.6 347.2l-0.6 -1.7M66.6 344.0l-0.5 -1.7M65.8 340.9l-0.4 -1.8M65.1 337.6l-0.3 -1.8M64.5 334.4l-0.2 -1.8M64.2 331.1l-0.1 -1.8M64.0 327.8l-0.1 -1.8M63.9 324.5l0.0 -1.8M64.0 321.2l0.1 -1.8M64.3 317.9l0.2 -1.8M64.7 314.7l0.3 -1.8M65.3 311.4l0.4 -1.8M66.0 308.2l0.5 -1.7M66.9 305.0l0.5 -1.7M67.9 301.9l0.6 -1.7M69.1 298.8l0.7 -1.7M70.4 295.8l0.8 -1.6M71.9 292.9l0.9 -1.6M73.6 290.0l0.9 -1.5M75.3 287.2l1.0 -1.5M77.2 284.5l1.1 -1.4M79.2 281.9l1.2 -1.4M81.4 279.4l1.2 -1.3M83.6 277.0l1.3 -1.3M86.0 274.7l1.3 -1.2M88.5 272.6l1.4 -1.1M91.1 270.5l1.5 -1.1M93.7 268.6l1.5 -1.0M96.5 266.8l1.5 -0.9M99.4 265.2l1.6 -0.8M102.3 263.6l1.6 -0.8M105.3 262.3l1.7 -0.7M108.4 261.1l1.7 -0.6M111.5 260.0l1.7 -0.5M114.6 259.1l1.7 -0.4M117.8 258.3l1.8 -0.4M121.1 257.7l1.8 -0.3M124.4 257.2l1.8 -0.2M127.6 256.9l1.8 -0.1M130.9 256.8l1.8 -0.0M134.2 256.8l1.8 0.1M137.5 257.0l1.8 0.2M140.8 257.4l1.8 0.3M144.1 257.8l1.8 0.3M147.3 258.5l1.7 0.4M150.5 259.3l1.7 0.5M153.6 260.3l1.7 0.6M156.7 261.4l1.7 0.7M159.8 262.7l1.6 0.8M162.8 264.1l1.6 0.8M165.7 265.6l1.6 0.9M168.5 267.3l1.5 1.0M171.2 269.1l1.5 1.1M173.9 271.1l1.4 1.1M176.4 273.2l1.4 1.2M178.9 275.4l1.3 1.3M181.2 277.7l1.2 1.3M183.5 280.1l1.2 1.4M185.6 282.7l1.1 1.4M187.6 285.3l1.0 1.5M189.4 288.0l1.0 1.5M191.1 290.8l0.9 1.6M192.7 293.7l0.8 1.6M194.2 296.7l0.7 1.6M195.4 299.7l0.6 1.7M196.6 302.8l0.6 1.7M197.6 306.0l0.5 1.7M198.4 309.1l0.4 1.8M199.1 312.4l0.3 1.8M199.7 315.6l0.2 1.8M200.0 318.9l0.1 1.8M200.2 322.2l0.1 1.8M200.3 325.5l-0.0 1.8M200.2 328.8l-0.1 1.8M199.9 332.1l-0.2 1.8M199.5 335.3l-0.3 1.8M198.9 338.6l-0.4 1.8M198.2 341.8l-0.5 1.7M197.3 345.0l-0.5 1.7M196.3 348.1l-0.6 1.7M195.1 351.2l-0.7 1.7M193.8 354.2l-0.8 1.6M192.3 357.1l-0.9 1.6M190.6 360.0l-0.9 1.5M188.9 362.8l-1.0 1.5M187.0 365.5l-1.1 1.4M185.0 368.1l-1.2 1.4M182.8 370.6l-1.2 1.3M180.6 373.0l-1.3 1.3M178.2 375.3l-1.3 1.2M175.7 377.4l-1.4 1.1M173.1 379.5l-1.5 1.1M170.5 381.4l-1.5 1.0M167.7 383.2l-1.5 0.9M164.8 384.8l-1.6 0.8M161.9 386.4l-1.6 0.8M158.9 387.7l-1.7 0.7M155.8 388.9l-1.7 0.6M152.7 390.0l-1.7 0.5M149.6 390.9l-1.7 0.4M146.4 391.7l-1.8 0.4M143.1 392.3l-1.8 0.3M139.8 392.8l-1.8 0.2M136.6 393.1l-1.8 0.1M133.3 393.2l-1.8 0.0M130.0 393.2l-1.8 -0.1M126.7 393.0l-1.8 -0.2M123.4 392.6l-1.8 -0.3M120.1 392.2l-1.8 -0.3M116.9 391.5l-1.7 -0.4M89.3 382.0l-1.4 -1.1M86.7 380.0l-1.4 -1.2M84.2 377.9l-1.3 -1.2M81.9 375.6l-1.3 -1.3M79.6 373.2l-1.2 -1.3M77.4 370.7l-1.1 -1.4M75.3 368.2l-1.1 -1.4M73.4 365.5l-1.0 -1.5M71.6 362.7l-0.9 -1.5M69.9 359.9l-0.9 -1.6M68.4 357.0l-0.8 -1.6M67.0 354.0l-0.7 -1.7M65.7 351.0l-0.6 -1.7M64.6 347.9l-0.6 -1.7M63.6 344.7l-0.5 -1.7M62.7 341.6l-0.4 -1.8M62.1 338.3l-0.3 -1.8M61.5 335.1l-0.2 -1.8M61.1 331.8l-0.1 -1.8M60.9 328.5l-0.1 -1.8M60.8 325.2l0.0 -1.8M60.9 321.9l0.1 -1.8M61.1 318.7l0.2 -1.8M61.4 315.4l0.3 -1.8M62.0 312.1l0.3 -1.8M62.6 308.9l0.4 -1.7M63.5 305.7l0.5 -1.7M64.4 302.6l0.6 -1.7M65.5 299.5l0.7 -1.7M66.8 296.4l0.7 -1.6M68.2 293.4l0.8 -1.6M69.7 290.5l0.9 -1.6M71.3 287.7l1.0 -1.5M73.1 284.9l1.0 -1.5M75.1 282.2l1.1 -1.4M77.1 279.6l1.2 -1.4M79.2 277.1l1.2 -1.3M81.5 274.8l1.3 -1.3M83.9 272.5l1.3 -1.2M86.4 270.3l1.4 -1.1M88.9 268.2l1.4 -1.1M91.6 266.3l1.5 -1.0M94.4 264.5l1.5 -0.9M97.2 262.8l1.6 -0.9M100.1 261.3l1.6 -0.8M103.1 259.9l1.7 -0.7M106.1 258.6l1.7 -0.6M109.2 257.5l1.7 -0.6M112.4 256.5l1.7 -0.5M115.5 255.6l1.8 -0.4M118.8 255.0l1.8 -0.3M122.0 254.4l1.8 -0.2M125.3 254.0l1.8 -0.1M128.6 253.8l1.8 -0.1M131.9 253.7l1.8 0.0M135.2 253.8l1.8 0.1M138.4 254.0l1.8 0.2M141.7 254.3l1.8 0.3M145.0 254.9l1.8 0.3M148.2 255.5l1.7 0.4M151.4 256.4l1.7 0.5M154.5 257.3l1.7 0.6M157.6 258.4l1.7 0.7M160.7 259.7l1.6 0.7M163.7 261.1l1.6 0.8M166.6 262.6l1.6 0.9M169.4 264.2l1.5 1.0M172.2 266.0l1.5 1.0M174.9 268.0l1.4 1.1M177.5 270.0l1.4 1.2M180.0 272.1l1.3 1.2M182.3 274.4l1.3 1.3M184.6 276.8l1.2 1.3M186.8 279.3l1.1 1.4M188.9 281.8l1.1 1.4M190.8 284.5l1.0 1.5M192.6 287.3l0.9 1.5M194.3 290.1l0.9 1.6M195.8 293.0l0.8 1.6M197.2 296.0l0.7 1.7M198.5 299.0l0.6 1.7M199.6 302.1l0.6 1.7M200.6 305.3l0.5 1.7M201.5 308.4l0.4 1.8M202.1 311.7l0.3 1.8M202.7 314.9l0.2 1.8M203.1 318.2l0.1 1.8M203.3 321.5l0.1 1.8M203.4 324.8l-0.0 1.8M203.3 328.1l-0.1 1.8M203.1 331.3l-0.2 1.8M202.8 334.6l-0.3 1.8M202.2 337.9l-0.3 1.8M201.6 341.1l-0.4 1.7M200.7 344.3l-0.5 1.7M199.8 347.4l-0.6 1.7M198.7 350.5l-0.7 1.7M197.4 353.6l-0.7 1.6M196.0 356.6l-0.8 1.6M194.5 359.5l-0.9 1.6M192.9 362.3l-1.0 1.5M191.1 365.1l-1.0 1.5M189.1 367.8l-1.1 1.4M187.1 370.4l-1.2 1.4M185.0 372.9l-1.2 1.3M182.7 375.2l-1.3 1.3M180.3 377.5l-1.3 1.2M177.8 379.7l-1.4 1.1M175.3 381.8l-1.4 1.1M172.6 383.7l-1.5 1.0M169.8 385.5l-1.5 0.9M167.0 387.2l-1.6 0.9M164.1 388.7l-1.6 0.8M161.1 390.1l-1.7 0.7M158.1 391.4l-1.7 0.6M155.0 392.5l-1.7 0.6M151.8 393.5l-1.7 0.5M148.7 394.4l-1.8 0.4M145.4 395.0l-1.8 0.3M142.2 395.6l-1.8 0.2M138.9 396.0l-1.8 0.1M135.6 396.2l-1.8 0.1M132.3 396.3l-1.8 -0.0M129.0 396.2l-1.8 -0.1M125.8 396.0l-1.8 -0.2M122.5 395.7l-1.8 -0.3M119.2 395.1l-1.8 -0.3M116.0 394.5l-1.7 -0.4M112.8 393.6l-1.7 -0.5M109.7 392.7l-1.7 -0.6M106.6 391.6l-1.7 -0.7M103.5 390.3l-1.6 -0.7M100.5 388.9l-1.6 -0.8M97.6 387.4l-1.6 -0.9M94.8 385.8l-1.5 -1.0M92.0 384.0l-1.5 -1.0M68.9 364.3l-0.9 -1.5M67.3 361.5l-0.9 -1.6M65.7 358.6l-0.8 -1.6M64.3 355.6l-0.7 -1.6M63.0 352.6l-0.6 -1.7M61.8 349.5l-0.6 -1.7M60.8 346.4l-0.5 -1.7M60.0 343.2l-0.4 -1.8M59.2 340.0l-0.3 -1.8M58.6 336.8l-0.3 -1.8M58.2 333.5l-0.2 -1.8M57.9 330.2l-0.1 -1.8M57.7 326.9l-0.0 -1.8M57.7 323.6l0.1 -1.8M57.8 320.3l0.1 -1.8M58.1 317.1l0.2 -1.8M58.5 313.8l0.3 -1.8M59.1 310.6l0.4 -1.8M59.8 307.3l0.4 -1.7M60.7 304.2l0.5 -1.7M61.7 301.0l0.6 -1.7M62.8 297.9l0.7 -1.7M64.1 294.9l0.7 -1.6M65.5 291.9l0.8 -1.6M67.0 289.0l0.9 -1.6M68.6 286.2l1.0 -1.5M70.4 283.4l1.0 -1.5M72.3 280.7l1.1 -1.4M74.3 278.1l1.2 -1.4M76.5 275.6l1.2 -1.3M78.7 273.2l1.3 -1.3M81.1 270.9l1.3 -1.2M83.5 268.7l1.4 -1.2M86.0 266.6l1.4 -1.1M88.7 264.6l1.5 -1.0M91.4 262.7l1.5 -1.0M94.2 261.0l1.6 -0.9M97.0 259.4l1.6 -0.8M100.0 257.9l1.6 -0.8M103.0 256.5l1.7 -0.7M106.0 255.3l1.7 -0.6M109.2 254.2l1.7 -0.5M112.3 253.3l1.7 -0.5M115.5 252.5l1.8 -0.4M118.7 251.8l1.8 -0.3M122.0 251.3l1.8 -0.2M125.2 250.9l1.8 -0.1M128.5 250.7l1.8 -0.1M131.8 250.6l1.8 0.0M135.1 250.7l1.8 0.1M138.4 250.9l1.8 0.2M141.7 251.2l1.8 0.3M144.9 251.7l1.8 0.3M148.2 252.3l1.8 0.4M151.4 253.1l1.7 0.5M154.5 254.1l1.7 0.6M157.6 255.1l1.7 0.6M160.7 256.3l1.7 0.7M163.7 257.6l1.6 0.8M166.7 259.1l1.6 0.9M169.5 260.7l1.5 0.9M172.3 262.4l1.5 1.0M175.1 264.3l1.5 1.1M177.7 266.2l1.4 1.1M180.3 268.3l1.4 1.2M182.7 270.5l1.3 1.2M185.1 272.8l1.2 1.3M187.4 275.2l1.2 1.4M189.5 277.7l1.1 1.4M191.5 280.2l1.1 1.5M193.5 282.9l1.0 1.5M195.3 285.7l0.9 1.5M196.9 288.5l0.9 1.6M198.5 291.4l0.8 1.6M199.9 294.4l0.7 1.6M201.2 297.4l0.6 1.7M202.4 300.5l0.6 1.7M203.4 303.6l0.5 1.7M204.2 306.8l0.4 1.8M205.0 310.0l0.3 1.8M205.6 313.2l0.3 1.8M206.0 316.5l0.2 1.8M206.3 319.8l0.1 1.8M206.5 323.1l0.0 1.8M206.5 326.4l-0.1 1.8M206.4 329.7l-0.1 1.8M206.1 332.9l-0.2 1.8M205.7 336.2l-0.3 1.8M205.1 339.4l-0.4 1.8M204.4 342.7l-0.4 1.7M203.5 345.8l-0.5 1.7M202.5 349.0l-0.6 1.7M201.4 352.1l-0.7 1.7M200.1 355.1l-0.7 1.6M198.7 358.1l-0.8 1.6M197.2 361.0l-0.9 1.6M195.6 363.8l-1.0 1.5M193.8 366.6l-1.0 1.5M191.9 369.3l-1.1 1.4M189.9 371.9l-1.2 1.4M187.7 374.4l-1.2 1.3M185.5 376.8l-1.3 1.3M183.1 379.1l-1.3 1.2M180.7 381.3l-1.4 1.2M178.2 383.4l-1.4 1.1M175.5 385.4l-1.5 1.0M172.8 387.3l-1.5 1.0M170.0 389.0l-1.6 0.9M167.2 390.6l-1.6 0.8M164.2 392.1l-1.6 0.8M161.2 393.5l-1.7 0.7M158.2 394.7l-1.7 0.6M155.0 395.8l-1.7 0.5M151.9 396.7l-1.7 0.5M148.7 397.5l-1.8 0.4M145.5 398.2l-1.8 0.3M142.2 398.7l-1.8 0.2M139.0 399.1l-1.8 0.1M135.7 399.3l-1.8 0.1M132.4 399.4l-1.8 -0.0M129.1 399.3l-1.8 -0.1M125.8 399.1l-1.8 -0.2M122.5 398.8l-1.8 -0.3M119.3 398.3l-1.8 -0.3M116.0 397.7l-1.8 -0.4M112.8 396.9l-1.7 -0.5M109.7 395.9l-1.7 -0.6M106.6 394.9l-1.7 -0.6M103.5 393.7l-1.7 -0.7M100.5 392.4l-1.6 -0.8M97.5 390.9l-1.6 -0.9M94.7 389.3l-1.5 -0.9M91.9 387.6l-1.5 -1.0M89.1 385.7l-1.5 -1.1M86.5 383.8l-1.4 -1.1M83.9 381.7l-1.4 -1.2M81.5 379.5l-1.3 -1.2M79.1 377.2l-1.2 -1.3M76.8 374.8l-1.2 -1.4M74.7 372.3l-1.1 -1.4M72.7 369.8l-1.1 -1.5M70.7 367.1l-1.0 -1.5M55.9 339.4l-0.3 -1.8M55.4 336.1l-0.2 -1.8M55.0 332.9l-0.2 -1.8M54.7 329.6l-0.1 -1.8M54.6 326.3l-0.0 -1.8M54.6 323.0l0.1 -1.8M54.8 319.7l0.1 -1.8M55.1 316.4l0.2 -1.8M55.5 313.2l0.3 -1.8M56.1 309.9l0.4 -1.8M56.8 306.7l0.4 -1.7M57.6 303.5l0.5 -1.7M58.6 300.4l0.6 -1.7M59.7 297.3l0.7 -1.7M61.0 294.3l0.7 -1.6M62.3 291.3l0.8 -1.6M63.8 288.3l0.9 -1.6M65.4 285.5l0.9 -1.5M67.2 282.7l1.0 -1.5M69.0 280.0l1.1 -1.5M71.0 277.3l1.1 -1.4M73.1 274.8l1.2 -1.4M75.3 272.3l1.2 -1.3M77.6 269.9l1.3 -1.3M79.9 267.7l1.3 -1.2M82.4 265.5l1.4 -1.1M85.0 263.5l1.4 -1.1M87.6 261.5l1.5 -1.0M90.4 259.7l1.5 -1.0M93.2 258.0l1.6 -0.9M96.1 256.4l1.6 -0.8M99.0 254.9l1.6 -0.7M102.0 253.6l1.7 -0.7M105.1 252.4l1.7 -0.6M108.2 251.3l1.7 -0.5M111.3 250.3l1.7 -0.5M114.5 249.5l1.8 -0.4M117.7 248.8l1.8 -0.3M121.0 248.3l1.8 -0.2M124.2 247.9l1.8 -0.2M127.5 247.6l1.8 -0.1M130.8 247.5l1.8 -0.0M134.1 247.5l1.8 0.1M137.4 247.7l1.8 0.1M140.7 248.0l1.8 0.2M143.9 248.4l1.8 0.3M147.2 249.0l1.8 0.4M150.4 249.7l1.7 0.4M153.6 250.5l1.7 0.5M156.7 251.5l1.7 0.6M159.8 252.6l1.7 0.7M162.8 253.9l1.6 0.7M165.8 255.2l1.6 0.8M168.8 256.7l1.6 0.9M171.6 258.3l1.5 0.9M174.4 260.1l1.5 1.0M177.1 261.9l1.5 1.1M179.8 263.9l1.4 1.1M182.3 266.0l1.4 1.2M184.8 268.2l1.3 1.2M187.2 270.5l1.3 1.3M189.4 272.8l1.2 1.3M191.6 275.3l1.1 1.4M193.6 277.9l1.1 1.4M195.6 280.5l1.0 1.5M197.4 283.3l1.0 1.5M199.1 286.1l0.9 1.6M200.7 289.0l0.8 1.6M202.2 291.9l0.7 1.6M203.5 294.9l0.7 1.7M204.7 298.0l0.6 1.7M205.8 301.1l0.5 1.7M206.8 304.2l0.5 1.7M207.6 307.4l0.4 1.8M208.3 310.6l0.3 1.8M208.8 313.9l0.2 1.8M209.2 317.1l0.2 1.8M209.5 320.4l0.1 1.8M209.6 323.7l0.0 1.8M209.6 327.0l-0.1 1.8M209.4 330.3l-0.1 1.8M209.1 333.6l-0.2 1.8M208.7 336.8l-0.3 1.8M208.1 340.1l-0.4 1.8M207.4 343.3l-0.4 1.7M206.6 346.5l-0.5 1.7M205.6 349.6l-0.6 1.7M204.5 352.7l-0.7 1.7M203.2 355.7l-0.7 1.6M201.9 358.7l-0.8 1.6M200.4 361.7l-0.9 1.6M198.8 364.5l-0.9 1.5M197.0 367.3l-1.0 1.5M195.2 370.0l-1.1 1.5M193.2 372.7l-1.1 1.4M191.1 375.2l-1.2 1.4M188.9 377.7l-1.2 1.3M186.6 380.1l-1.3 1.3M184.3 382.3l-1.3 1.2M181.8 384.5l-1.4 1.1M179.2 386.5l-1.4 1.1M176.6 388.5l-1.5 1.0M173.8 390.3l-1.5 1.0M171.0 392.0l-1.6 0.9M168.1 393.6l-1.6 0.8M165.2 395.1l-1.6 0.7M162.2 396.4l-1.7 0.7M159.1 397.6l-1.7 0.6M156.0 398.7l-1.7 0.5M152.9 399.7l-1.7 0.5M149.7 400.5l-1.8 0.4M146.5 401.2l-1.8 0.3M143.2 401.7l-1.8 0.2M140.0 402.1l-1.8 0.2M136.7 402.4l-1.8 0.1M133.4 402.5l-1.8 0.0M130.1 402.5l-1.8 -0.1M126.8 402.3l-1.8 -0.1M123.5 402.0l-1.8 -0.2M120.3 401.6l-1.8 -0.3M117.0 401.0l-1.8 -0.4M113.8 400.3l-1.7 -0.4M110.6 399.5l-1.7 -0.5M107.5 398.5l-1.7 -0.6M104.4 397.4l-1.7 -0.7M101.4 396.1l-1.6 -0.7M98.4 394.8l-1.6 -0.8M95.4 393.3l-1.6 -0.9M92.6 391.7l-1.5 -0.9M89.8 389.9l-1.5 -1.0M87.1 388.1l-1.5 -1.1M84.4 386.1l-1.4 -1.1M81.9 384.0l-1.4 -1.2M79.4 381.8l-1.3 -1.2M77.0 379.5l-1.3 -1.3M74.8 377.2l-1.2 -1.3M72.6 374.7l-1.1 -1.4M70.6 372.1l-1.1 -1.4M68.6 369.5l-1.0 -1.5M66.8 366.7l-1.0 -1.5M65.1 363.9l-0.9 -1.6M63.5 361.0l-0.8 -1.6M62.0 358.1l-0.7 -1.6M60.7 355.1l-0.7 -1.7M59.5 352.0l-0.6 -1.7M58.4 348.9l-0.5 -1.7M57.4 345.8l-0.5 -1.7M56.6 342.6l-0.4 -1.8" stroke="#000" stroke-opacity="0.6" stroke-width="0.75" fill="none"/>
<path d="M107.9 330.4l-0.3 -1.8M107.4 327.1l-0.1 -1.8M107.3 323.8l0.2 -1.8M107.7 320.5l0.4 -1.8M108.5 317.3l0.6 -1.7M109.8 314.2l0.8 -1.6M111.4 311.3l1.0 -1.5M113.4 308.7l1.2 -1.3M115.8 306.3l1.4 -1.1M118.4 304.3l1.5 -0.9M121.3 302.7l1.6 -0.7M124.3 301.4l1.7 -0.5M127.5 300.6l1.8 -0.3M130.8 300.2l1.8 -0.0M134.2 300.3l1.8 0.2M137.4 300.8l1.7 0.5M140.6 301.7l1.7 0.7M143.6 303.0l1.6 0.9M146.5 304.8l1.4 1.1M149.0 306.9l1.3 1.3M151.3 309.3l1.1 1.4M153.2 312.0l0.9 1.6M154.8 314.9l0.7 1.7M155.9 318.0l0.4 1.7M156.6 321.3l0.2 1.8M156.9 324.6l-0.0 1.8M156.7 327.9l-0.3 1.8M156.1 331.1l-0.5 1.7M155.1 334.3l-0.7 1.6M153.7 337.3l-0.9 1.5M151.8 340.0l-1.1 1.4M149.7 342.5l-1.3 1.2M147.2 344.7l-1.5 1.0M144.4 346.6l-1.6 0.8M141.4 348.0l-1.7 0.6M138.3 349.0l-1.8 0.4M135.0 349.6l-1.8 0.1M131.7 349.8l-1.8 -0.1M128.4 349.5l-1.8 -0.3M125.2 348.8l-1.7 -0.6M122.0 347.7l-1.6 -0.8M119.1 346.1l-1.5 -1.0M116.4 344.2l-1.4 -1.2M114.0 342.0l-1.2 -1.4M111.9 339.4l-1.0 -1.5M110.1 336.6l-0.8 -1.6M108.8 333.5l-0.6 -1.7M52.9 310.2l0.3 -1.8M53.5 307.0l0.4 -1.7M54.3 303.8l0.5 -1.7M55.3 300.6l0.6 -1.7M56.3 297.5l0.6 -1.7M57.5 294.4l0.7 -1.7M58.8 291.4l0.8 -1.6M60.3 288.4l0.8 -1.6M61.9 285.5l0.9 -1.6M63.5 282.6l1.0 -1.5M65.3 279.8l1.0 -1.5M67.2 277.1l1.1 -1.4M69.3 274.5l1.1 -1.4M71.4 272.0l1.2 -1.3M73.6 269.5l1.3 -1.3M75.9 267.2l1.3 -1.2M78.4 264.9l1.4 -1.2M80.9 262.8l1.4 -1.1M83.5 260.7l1.4 -1.1M86.2 258.8l1.5 -1.0M88.9 256.9l1.5 -0.9M91.7 255.2l1.6 -0.9M94.6 253.6l1.6 -0.8M97.6 252.1l1.6 -0.8M100.6 250.8l1.7 -0.7M103.7 249.6l1.7 -0.6M106.8 248.5l1.7 -0.5M110.0 247.5l1.7 -0.5M113.2 246.6l1.8 -0.4M116.4 245.9l1.8 -0.3M119.7 245.4l1.8 -0.3M123.0 244.9l1.8 -0.2M126.3 244.6l1.8 -0.1M129.6 244.4l1.8 -0.0M132.9 244.4l1.8 0.0M136.2 244.5l1.8 0.1M139.5 244.7l1.8 0.2M142.8 245.1l1.8 0.3M146.0 245.6l1.8 0.3M149.3 246.2l1.8 0.4M152.5 247.0l1.7 0.5M155.7 247.9l1.7 0.5M158.8 249.0l1.7 0.6M161.9 250.1l1.7 0.7M165.0 251.4l1.6 0.8M168.0 252.8l1.6 0.8M170.9 254.4l1.6 0.9M173.8 256.0l1.5 0.9M176.6 257.8l1.5 1.0M179.3 259.7l1.4 1.1M181.9 261.6l1.4 1.1M184.5 263.7l1.4 1.2M187.0 266.0l1.3 1.2M189.3 268.3l1.3 1.3M191.6 270.7l1.2 1.3M193.8 273.1l1.1 1.4M195.9 275.7l1.1 1.4M197.9 278.4l1.0 1.5M199.7 281.1l1.0 1.5M201.5 283.9l0.9 1.6M203.1 286.8l0.8 1.6M204.6 289.8l0.8 1.6M206.0 292.8l0.7 1.7M207.2 295.8l0.6 1.7M208.4 298.9l0.6 1.7M209.4 302.1l0.5 1.7M210.3 305.3l0.4 1.8M211.0 308.5l0.3 1.8M211.6 311.8l0.3 1.8M212.1 315.0l0.2 1.8M212.4 318.3l0.1 1.8M212.6 321.6l0.1 1.8M212.7 324.9l-0.0 1.8M212.6 328.2l-0.1 1.8M212.4 331.6l-0.2 1.8M212.1 334.8l-0.2 1.8M211.6 338.1l-0.3 1.8M211.0 341.4l-0.4 1.8M210.3 344.6l-0.5 1.7M209.4 347.8l-0.5 1.7M208.4 351.0l-0.6 1.7M207.3 354.1l-0.7 1.7M206.0 357.1l-0.7 1.6M204.6 360.1l-0.8 1.6M203.1 363.1l-0.9 1.6M201.5 366.0l-0.9 1.5M199.8 368.8l-1.0 1.5M197.9 371.5l-1.1 1.5M196.0 374.2l-1.1 1.4M193.9 376.8l-1.2 1.4M191.7 379.3l-1.2 1.3M189.4 381.7l-1.3 1.3M187.1 384.0l-1.3 1.2M184.6 386.2l-1.4 1.2M182.0 388.3l-1.4 1.1M179.4 390.3l-1.5 1.0M176.7 392.2l-1.5 1.0M173.9 393.9l-1.5 0.9M171.0 395.6l-1.6 0.9M168.1 397.1l-1.6 0.8M165.1 398.5l-1.7 0.7M162.0 399.8l-1.7 0.6M158.9 401.0l-1.7 0.6M155.8 402.0l-1.7 0.5M152.6 402.9l-1.7 0.4M149.4 403.7l-1.8 0.4M146.2 404.4l-1.8 0.3M142.9 404.9l-1.8 0.2M139.6 405.3l-1.8 0.1M136.3 405.5l-1.8 0.1M133.0 405.6l-1.8 -0.0M129.7 405.6l-1.8 -0.1M126.4 405.4l-1.8 -0.1M123.1 405.1l-1.8 -0.2M119.8 404.7l-1.8 -0.3M116.5 404.1l-1.8 -0.4M113.3 403.4l-1.7 -0.4M110.1 402.5l-1.7 -0.5M106.9 401.6l-1.7 -0.6M103.8 400.5l-1.7 -0.7M100.7 399.3l-1.7 -0.7M97.7 397.9l-1.6 -0.8M94.8 396.4l-1.6 -0.9M91.8 394.8l-1.5 -0.9M89.0 393.1l-1.5 -1.0M86.3 391.3l-1.5 -1.0M83.6 389.4l-1.4 -1.1M81.0 387.3l-1.4 -1.2M78.5 385.2l-1.3 -1.2M76.0 382.9l-1.3 -1.3M73.7 380.6l-1.2 -1.3M71.5 378.1l-1.2 -1.4M69.3 375.6l-1.1 -1.4M67.3 373.0l-1.1 -1.5M65.4 370.3l-1.0 -1.5M63.6 367.5l-0.9 -1.5M61.9 364.6l-0.9 -1.6M60.3 361.7l-0.8 -1.6M58.9 358.7l-0.7 -1.6M57.6 355.7l-0.7 -1.7M56.4 352.6l-0.6 -1.7M55.3 349.5l-0.5 -1.7M54.4 346.3l-0.5 -1.7M53.6 343.1l-0.4 -1.8M52.9 339.9l-0.3 -1.8M52.3 336.6l-0.2 -1.8M51.9 333.3l-0.2 -1.8M51.7 330.0l-0.1 -1.8M51.5 326.7l-0.0 -1.8M51.5 323.4l0.1 -1.8M51.6 320.1l0.1 -1.8M51.9 316.8l0.2 -1.8M52.3 313.5l0.3 -1.8M60.9 280.9l1.0 -1.5M62.7 278.2l1.0 -1.5M64.6 275.4l1.1 -1.4M66.6 272.8l1.1 -1.4M68.8 270.3l1.2 -1.3M71.0 267.8l1.2 -1.3M73.3 265.4l1.3 -1.3M75.7 263.2l1.3 -1.2M78.2 261.0l1.4 -1.1M80.7 258.9l1.4 -1.1M83.4 256.9l1.5 -1.0M86.1 255.1l1.5 -1.0M88.9 253.3l1.6 -0.9M91.8 251.6l1.6 -0.9M94.7 250.1l1.6 -0.8M97.7 248.7l1.6 -0.7M100.7 247.4l1.7 -0.7M103.8 246.2l1.7 -0.6M107.0 245.2l1.7 -0.5M110.1 244.2l1.7 -0.5M113.3 243.4l1.8 -0.4M116.6 242.7l1.8 -0.3M119.8 242.2l1.8 -0.2M123.1 241.8l1.8 -0.2M126.4 241.5l1.8 -0.1M129.7 241.3l1.8 -0.0M133.0 241.3l1.8 0.0M136.3 241.4l1.8 0.1M139.6 241.6l1.8 0.2M142.9 242.0l1.8 0.3M146.2 242.5l1.8 0.3M149.4 243.1l1.8 0.4M152.7 243.9l1.7 0.5M155.9 244.7l1.7 0.5M159.0 245.7l1.7 0.6M162.1 246.9l1.7 0.7M165.2 248.1l1.6 0.7M168.2 249.5l1.6 0.8M171.1 251.0l1.6 0.9M174.0 252.6l1.5 0.9M176.9 254.3l1.5 1.0M179.6 256.1l1.5 1.0M182.3 258.0l1.4 1.1M184.9 260.1l1.4 1.2M187.4 262.2l1.3 1.2M189.9 264.4l1.3 1.3M192.2 266.8l1.2 1.3M194.5 269.2l1.2 1.4M196.6 271.7l1.1 1.4M198.7 274.3l1.1 1.4M200.6 277.0l1.0 1.5M202.5 279.7l1.0 1.5M204.2 282.5l0.9 1.6M205.8 285.4l0.8 1.6M207.4 288.3l0.8 1.6M208.7 291.4l0.7 1.7M210.0 294.4l0.6 1.7M211.2 297.5l0.6 1.7M212.2 300.7l0.5 1.7M213.1 303.8l0.4 1.7M213.9 307.1l0.4 1.8M214.5 310.3l0.3 1.8M215.0 313.6l0.2 1.8M215.4 316.8l0.2 1.8M215.7 320.1l0.1 1.8M215.8 323.4l0.0 1.8M215.8 326.8l-0.1 1.8M215.7 330.1l-0.1 1.8M215.4 333.4l-0.2 1.8M215.0 336.6l-0.3 1.8M214.5 339.9l-0.3 1.8M213.8 343.2l-0.4 1.8M213.0 346.4l-0.5 1.7M212.1 349.5l-0.5 1.7M211.1 352.7l-0.6 1.7M209.9 355.8l-0.7 1.7M208.7 358.8l-0.7 1.6M207.3 361.8l-0.8 1.6M205.7 364.8l-0.9 1.6M204.1 367.7l-0.9 1.5M202.4 370.5l-1.0 1.5M200.5 373.2l-1.1 1.5M198.6 375.9l-1.1 1.4M196.5 378.5l-1.2 1.4M194.3 381.0l-1.2 1.3M192.1 383.4l-1.3 1.3M189.7 385.7l-1.3 1.2M187.3 387.9l-1.4 1.2M184.8 390.1l-1.4 1.1M182.1 392.1l-1.5 1.1M179.5 394.0l-1.5 1.0M176.7 395.8l-1.5 0.9M173.9 397.5l-1.6 0.9M171.0 399.1l-1.6 0.8M168.0 400.6l-1.6 0.8M165.0 402.0l-1.7 0.7M161.9 403.2l-1.7 0.6M158.8 404.3l-1.7 0.6M155.7 405.3l-1.7 0.5M152.5 406.2l-1.8 0.4M149.2 406.9l-1.8 0.3M146.0 407.5l-1.8 0.3M142.7 408.0l-1.8 0.2M139.4 408.4l-1.8 0.1M136.1 408.6l-1.8 0.1M132.8 408.7l-1.8 -0.0M129.5 408.7l-1.8 -0.1M126.2 408.5l-1.8 -0.1M122.9 408.2l-1.8 -0.2M119.6 407.8l-1.8 -0.3M116.4 407.2l-1.8 -0.4M113.1 406.5l-1.7 -0.4M109.9 405.7l-1.7 -0.5M106.8 404.8l-1.7 -0.6M103.6 403.7l-1.7 -0.6M100.5 402.5l-1.7 -0.7M97.5 401.2l-1.6 -0.8M94.5 399.8l-1.6 -0.8M91.6 398.3l-1.6 -0.9M88.7 396.6l-1.5 -0.9M85.9 394.8l-1.5 -1.0M83.2 392.9l-1.4 -1.1M80.6 391.0l-1.4 -1.1M78.0 388.9l-1.4 -1.2M75.5 386.7l-1.3 -1.2M73.1 384.4l-1.3 -1.3M70.8 382.0l-1.2 -1.3M68.6 379.6l-1.2 -1.4M66.5 377.0l-1.1 -1.4M64.5 374.4l-1.0 -1.5M62.6 371.7l-1.0 -1.5M60.8 368.9l-0.9 -1.5M59.1 366.0l-0.9 -1.6M57.6 363.1l-0.8 -1.6M56.1 360.2l-0.7 -1.6M54.8 357.1l-0.7 -1.7M53.6 354.0l-0.6 -1.7M52.5 350.9l-0.5 -1.7M51.5 347.8l-0.5 -1.7M50.7 344.6l-0.4 -1.8M50.0 341.3l-0.3 -1.8M49.4 338.1l-0.3 -1.8M49.0 334.8l-0.2 -1.8M48.6 331.5l-0.1 -1.8M48.5 328.2l-0.0 -1.8M48.4 324.9l0.0 -1.8M48.5 321.6l0.1 -1.8M48.7 318.3l0.2 -1.8M49.0 315.0l0.2 -1.8M49.5 311.7l0.3 -1.8M50.0 308.5l0.4 -1.8M50.8 305.2l0.4 -1.7M51.6 302.0l0.5 -1.7M52.6 298.9l0.6 -1.7M53.7 295.8l0.6 -1.7M54.9 292.7l0.7 -1.7M56.2 289.7l0.8 -1.6M57.7 286.7l0.8 -1.6M59.3 283.8l0.9 -1.6" stroke="#000" stroke-opacity="0.3" stroke-width="0.7" fill="none"/>

</g></g>
<path d="M52.9 425.8v-4.5M79.2 425.8v-4.5M105.5 425.8v-4.5M131.8 425.8v-4.5M158.1 425.8v-4.5M184.4 425.8v-4.5M210.7 425.8v-4.5M237.0 425.8v-4.5M29.0 403.4h4.5M29.0 377.4h4.5M29.0 351.3h4.5M29.0 325.3h4.5M29.0 299.3h4.5M29.0 273.2h4.5M29.0 247.2h4.5" stroke="#101040" stroke-width="0.7" fill="none"/>
<path d="M31.9 425.8v-2.2M37.1 425.8v-2.2M42.4 425.8v-2.2M47.6 425.8v-2.2M58.2 425.8v-2.2M63.4 425.8v-2.2M68.7 425.8v-2.2M73.9 425.8v-2.2M84.5 425.8v-2.2M89.7 425.8v-2.2M95.0 425.8v-2.2M100.2 425.8v-2.2M110.8 425.8v-2.2M116.0 425.8v-2.2M121.3 425.8v-2.2M126.5 425.8v-2.2M137.1 425.8v-2.2M142.3 425.8v-2.2M147.6 425.8v-2.2M152.8 425.8v-2.2M163.4 425.8v-2.2M168.6 425.8v-2.2M173.9 425.8v-2.2M179.1 425.8v-2.2M189.7 425.8v-2.2M194.9 425.8v-2.2M200.2 425.8v-2.2M205.4 425.8v-2.2M216.0 425.8v-2.2M221.2 425.8v-2.2M226.5 425.8v-2.2M231.7 425.8v-2.2M29.0 424.2h2.2M29.0 419.0h2.2M29.0 413.8h2.2M29.0 408.6h2.2M29.0 398.2h2.2M29.0 393.0h2.2M29.0 387.8h2.2M29.0 382.6h2.2M29.0 372.2h2.2M29.0 366.9h2.2M29.0 361.7h2.2M29.0 356.5h2.2M29.0 346.1h2.2M29.0 340.9h2.2M29.0 335.7h2.2M29.0 330.5h2.2M29.0 320.1h2.2M29.0 314.9h2.2M29.0 309.7h2.2M29.0 304.5h2.2M29.0 294.1h2.2M29.0 288.9h2.2M29.0 283.7h2.2M29.0 278.4h2.2M29.0 268.0h2.2M29.0 262.8h2.2M29.0 257.6h2.2M29.0 252.4h2.2M29.0 242.0h2.2M29.0 236.8h2.2" stroke="#101040" stroke-width="0.6" stroke-opacity="0.45" fill="none"/>
<g class="tl"><text x="26.3" y="249.9" text-anchor="end">0.015</text><text x="26.3" y="275.9" text-anchor="end">0.01</text><text x="26.3" y="302.0" text-anchor="end">0.005</text><text x="26.3" y="328.0" text-anchor="end">0</text><text x="26.3" y="354.0" text-anchor="end">−0.005</text><text x="26.3" y="380.1" text-anchor="end">−0.01</text><text x="26.3" y="406.1" text-anchor="end">−0.015</text><text x="52.9" y="433.6" text-anchor="middle">−0.015</text><text x="79.2" y="433.6" text-anchor="middle">−0.01</text><text x="105.5" y="433.6" text-anchor="middle">−0.005</text><text x="131.8" y="433.6" text-anchor="middle">0</text><text x="158.1" y="433.6" text-anchor="middle">0.005</text><text x="184.4" y="433.6" text-anchor="middle">0.01</text><text x="210.7" y="433.6" text-anchor="middle">0.015</text><text x="237.0" y="433.6" text-anchor="middle">0.02</text></g>
<text class="ax" x="134.5" y="442.4" text-anchor="middle">y/L</text>
<text class="ax" transform="translate(13.0 329.8) rotate(-90)" text-anchor="middle">z/L</text>
<text class="cap" x="133.8" y="456.8" text-anchor="middle">(b)</text>
<path d="M244.8 236.4h10.5" stroke="#a0a0a0" stroke-width="0.6"/>
<path d="M256.3 236.4l-2 -1v2z" fill="#a0a0a0"/>
<text class="lg" x="244.6" y="246.7">0.3</text>
<text class="uu" x="254.6" y="258.8" text-anchor="middle">u/U</text>
<rect x="231.0" y="262.9" width="9.2" height="5.0" fill="#ff0000"/><rect x="231.0" y="266.9" width="9.2" height="8.5" fill="#ff1a00"/><rect x="231.0" y="274.4" width="9.2" height="8.5" fill="#ff4c00"/><rect x="231.0" y="281.9" width="9.2" height="8.5" fill="#ff8000"/><rect x="231.0" y="289.4" width="9.2" height="8.5" fill="#ffb300"/><rect x="231.0" y="296.9" width="9.2" height="8.5" fill="#ffe500"/><rect x="231.0" y="304.4" width="9.2" height="8.5" fill="#e5ff00"/><rect x="231.0" y="311.9" width="9.2" height="8.5" fill="#b3ff00"/><rect x="231.0" y="319.4" width="9.2" height="8.5" fill="#80ff00"/><rect x="231.0" y="326.9" width="9.2" height="8.5" fill="#4cff00"/><rect x="231.0" y="334.4" width="9.2" height="8.5" fill="#1aff00"/><rect x="231.0" y="341.9" width="9.2" height="8.5" fill="#00ff1a"/><rect x="231.0" y="349.4" width="9.2" height="8.5" fill="#00ff4c"/><rect x="231.0" y="356.9" width="9.2" height="8.5" fill="#00ff80"/><rect x="231.0" y="364.4" width="9.2" height="8.5" fill="#00ffb2"/><rect x="231.0" y="371.9" width="9.2" height="8.5" fill="#00ffe5"/><rect x="231.0" y="379.4" width="9.2" height="8.5" fill="#00e6ff"/><rect x="231.0" y="386.9" width="9.2" height="8.5" fill="#00b2ff"/><rect x="231.0" y="394.4" width="9.2" height="8.5" fill="#0080ff"/><rect x="231.0" y="401.9" width="9.2" height="8.5" fill="#004cff"/><rect x="231.0" y="409.4" width="9.2" height="8.5" fill="#001aff"/><rect x="231.0" y="416.9" width="9.2" height="3.8" fill="#0000ff"/>
<g class="cl"><text x="245.7" y="269.8">1.25</text><text x="245.7" y="277.2">1.2375</text><text x="245.7" y="284.8">1.225</text><text x="245.7" y="292.2">1.2125</text><text x="245.7" y="299.8">1.2</text><text x="245.7" y="307.2">1.1875</text><text x="245.7" y="314.8">1.175</text><text x="245.7" y="322.2">1.1625</text><text x="245.7" y="329.8">1.15</text><text x="245.7" y="337.2">1.1375</text><text x="245.7" y="344.8">1.125</text><text x="245.7" y="352.2">1.1125</text><text x="245.7" y="359.8">1.1</text><text x="245.7" y="367.2">1.0875</text><text x="245.7" y="374.8">1.075</text><text x="245.7" y="382.2">1.0625</text><text x="245.7" y="389.8">1.05</text><text x="245.7" y="397.2">1.0375</text><text x="245.7" y="404.8">1.025</text><text x="245.7" y="412.2">1.0125</text><text x="245.7" y="419.8">1</text></g>
<clipPath id="cc"><rect x="311.0" y="233.0" width="211.0" height="192.5"/></clipPath>
<g clip-path="url(#cc)">
<rect x="311.0" y="233.0" width="211.0" height="192.5" fill="#0000ff"/>
<g filter="url(#bl)">
<path fill="#001aff" d="M421.5 411.6L418.5 411.9 411.5 411.9 403.5 411.3 402.5 411.0 400.0 410.8 399.2 410.5 395.0 409.8 394.5 409.5 393.0 409.3 392.5 409.0 391.0 408.8 390.5 408.5 389.5 408.3 388.9 408.0 388.0 407.9 381.0 405.3 379.5 404.5 375.5 402.8 371.5 400.5 371.0 400.4 364.0 395.9 357.0 390.3 349.6 383.0 344.7 377.0 344.5 376.5 342.2 373.5 339.7 369.5 336.7 364.0 333.7 357.5 333.5 356.5 333.1 356.0 332.5 354.0 332.2 353.5 330.6 348.5 328.7 340.0 328.5 337.5 328.2 336.5 328.0 333.5 327.7 332.0 327.6 320.0 328.2 313.5 328.5 312.5 328.7 310.0 329.0 309.2 329.7 305.0 330.0 304.5 330.2 303.0 330.5 302.5 330.6 301.5 331.5 299.0 331.7 298.0 332.0 297.5 332.2 296.5 332.5 296.0 333.1 294.0 333.5 293.5 333.7 292.5 334.5 291.0 335.2 289.0 338.2 283.0 341.2 278.0 343.3 275.0 346.6 270.5 348.5 268.5 348.7 268.0 355.5 261.1 360.0 257.2 364.0 254.1 368.5 251.1 369.0 251.0 370.0 250.2 375.5 247.2 383.5 243.7 384.5 243.5 385.0 243.1 388.0 242.1 388.9 242.0 389.5 241.7 390.5 241.5 391.0 241.2 392.5 241.0 393.0 240.7 394.5 240.5 395.0 240.2 399.2 239.5 400.0 239.2 402.5 239.0 403.5 238.7 407.0 238.5 408.5 238.2 418.5 238.1 425.5 238.7 426.5 239.0 428.5 239.2 429.5 239.5 431.5 239.7 432.0 240.0 433.5 240.1 434.5 240.5 436.0 240.7 436.5 241.0 439.5 241.7 440.0 242.0 441.0 242.2 441.5 242.5 444.0 243.2 451.0 246.1 451.5 246.5 452.0 246.6 452.5 247.0 453.0 247.1 453.5 247.5 456.0 248.6 459.0 250.5 459.5 250.6 463.5 253.2 467.0 255.8 473.5 261.2 478.3 266.0 481.3 269.5 484.8 274.0 485.0 274.5 486.2 276.0 488.8 280.0 489.0 280.5 490.8 283.5 493.3 288.5 494.5 291.5 495.3 293.0 495.5 294.0 495.9 294.5 496.8 297.0 497.9 300.5 498.0 301.5 498.3 302.0 498.5 303.5 498.8 304.0 499.0 305.5 499.3 306.0 499.5 307.6 499.8 308.5 500.0 310.5 500.3 311.5 500.5 313.9 500.8 315.0 501.0 319.0 501.3 320.5 501.3 329.5 501.0 331.0 500.8 335.0 500.5 336.1 500.3 338.5 500.0 339.5 499.8 341.5 499.5 342.4 499.3 344.0 499.0 344.5 498.8 346.0 498.5 346.5 498.3 348.0 498.0 348.5 497.9 349.5 496.8 353.0 493.8 360.5 490.3 367.5 486.2 374.0 481.3 380.5 475.5 386.9 469.5 392.3 469.0 392.5 467.5 393.9 462.0 397.8 455.0 401.9 454.5 402.0 454.0 402.4 453.5 402.5 453.0 402.9 452.5 403.0 450.0 404.4 447.0 405.5 446.5 405.8 444.5 406.5 444.0 406.8 443.0 407.0 442.5 407.3 441.5 407.5 441.0 407.8 440.0 408.0 439.5 408.3 436.5 409.0 436.0 409.3 434.5 409.5 434.0 409.7 432.0 410.0 431.5 410.3 429.5 410.5 428.5 410.8 426.5 411.0 425.5 411.3ZM416.3 339.0L419.0 338.4 422.0 336.8 424.0 335.3 425.6 333.5 427.3 331.0 428.3 328.5 428.8 325.5 428.8 322.5 428.3 320.0 426.8 316.5 425.3 314.5 423.0 312.3 420.5 310.7 418.0 309.7 415.0 309.2 412.0 309.2 409.5 309.7 407.0 310.7 404.0 312.8 402.3 314.5 400.3 317.5 399.2 320.5 398.7 323.5 398.8 326.0 399.7 329.5 400.6 331.5 402.8 334.5 405.0 336.4 407.5 337.9 410.0 338.8 413.5 339.3Z"/>
<path fill="#004cff" d="M420.0 411.5L411.5 411.7 404.0 411.1 395.5 409.6 391.5 408.6 386.5 407.1 379.0 404.2 371.0 400.1 364.0 395.6 359.5 392.1 356.5 389.5 350.4 383.5 345.4 377.5 340.9 371.0 336.5 363.0 334.4 358.5 332.9 354.5 330.4 346.5 328.9 339.5 327.9 330.5 327.8 321.0 328.4 314.0 329.9 305.5 332.3 297.0 334.9 290.5 337.0 286.0 339.4 281.5 343.9 274.5 347.0 270.5 350.0 267.0 356.0 260.9 362.0 255.9 365.5 253.4 369.5 250.8 373.0 248.8 378.0 246.3 385.0 243.4 393.5 240.8 400.5 239.4 409.5 238.4 419.0 238.4 428.0 239.4 433.5 240.4 437.5 241.4 445.0 243.9 452.0 246.9 459.5 250.9 464.0 253.9 467.5 256.5 473.4 261.5 476.5 264.5 480.2 268.5 484.1 273.5 486.6 277.0 489.1 281.0 493.0 288.5 496.1 296.0 498.7 304.5 500.1 312.0 500.6 316.0 501.0 321.5 501.0 328.5 500.6 334.0 500.1 338.0 498.7 345.5 496.1 354.0 493.0 361.5 489.1 369.0 485.6 374.5 480.2 381.5 474.5 387.5 470.5 391.1 467.5 393.5 461.0 398.1 453.0 402.6 445.0 406.1 437.5 408.6 433.5 409.6 428.0 410.6ZM417.6 340.0L420.5 339.0 423.5 337.3 426.0 335.0 427.8 332.5 429.2 329.5 429.9 326.5 430.1 323.5 429.7 320.5 428.6 317.5 427.0 314.7 425.0 312.4 422.5 310.5 419.5 309.0 416.5 308.2 413.0 308.0 410.0 308.4 407.0 309.4 404.3 311.0 402.0 313.0 400.0 315.6 398.5 318.5 397.7 321.5 397.5 325.0 398.0 328.0 399.0 331.0 400.5 333.6 402.6 336.0 405.2 338.0 408.0 339.4 411.0 340.2 414.5 340.4Z"/>
<path fill="#0080ff" d="M423.0 411.0L414.5 411.5 405.5 411.0 398.6 410.0 390.2 408.0 382.9 405.5 375.1 402.0 368.1 398.0 361.0 393.0 354.2 387.0 348.5 381.0 343.5 374.5 339.0 367.3 337.0 363.5 335.0 359.2 332.0 351.2 330.0 343.7 328.5 334.8 328.0 329.0 328.0 325.0 328.0 321.0 328.5 315.2 329.5 308.7 331.5 300.5 334.0 293.2 337.5 285.5 341.5 278.5 346.5 271.5 352.5 264.7 358.6 259.0 365.1 254.0 368.9 251.5 373.2 249.0 380.4 245.5 388.5 242.5 396.1 240.5 401.6 239.5 405.5 239.0 414.5 238.5 423.3 239.0 430.2 240.0 438.6 242.0 447.2 245.0 454.7 248.5 461.5 252.5 469.0 258.0 475.5 263.9 478.5 267.0 481.5 270.5 486.0 276.5 490.5 284.0 494.0 291.3 497.0 299.5 499.0 307.2 500.0 312.8 500.5 317.1 500.8 325.0 500.5 332.9 500.0 337.2 499.0 342.8 497.0 350.5 494.0 358.7 490.5 366.0 486.0 373.5 481.5 379.5 478.5 383.0 475.5 386.1 469.0 392.0 463.0 396.5 455.6 401.0 448.4 404.5 440.3 407.5 432.7 409.5 427.2 410.5ZM416.4 341.5L420.0 340.6 423.0 339.1 425.8 337.0 428.0 334.5 429.8 331.5 430.9 328.5 431.4 325.0 431.2 321.5 430.3 318.0 428.8 315.0 426.5 312.1 424.1 310.0 421.0 308.2 418.0 307.2 414.5 306.7 411.0 306.9 407.5 307.9 404.5 309.3 401.7 311.5 399.5 314.0 397.8 317.0 396.7 320.0 396.2 323.5 396.4 327.0 397.4 330.5 398.9 333.5 401.0 336.2 403.5 338.4 406.5 340.1 409.5 341.2 413.0 341.7Z"/>
<path fill="#00b2ff" d="M419.0 411.0L411.0 411.1 404.0 410.5 395.4 409.0 391.4 408.0 386.5 406.5 379.0 403.5 371.2 399.5 363.5 394.5 357.3 389.5 351.5 383.8 346.0 377.3 341.0 370.1 337.0 362.8 333.5 354.6 331.0 346.5 329.5 339.5 328.5 330.5 328.3 322.0 329.0 313.8 330.5 305.5 333.0 296.9 336.0 289.3 340.0 281.6 345.0 274.0 350.0 267.8 355.7 262.0 362.2 256.5 369.5 251.5 376.8 247.5 385.1 244.0 393.3 241.5 400.5 240.0 409.7 239.0 419.1 239.0 428.3 240.0 435.5 241.5 443.7 244.0 450.9 247.0 458.5 251.0 465.9 256.0 472.0 261.0 478.5 267.5 483.5 273.6 488.0 280.3 492.0 287.6 495.5 296.0 498.0 304.3 499.5 311.7 500.0 315.5 500.4 321.0 500.4 329.0 500.0 334.5 499.5 338.3 498.0 345.7 495.5 354.0 492.5 361.3 488.5 368.9 483.5 376.4 478.5 382.5 472.0 389.0 465.9 394.0 458.5 399.0 452.0 402.5 443.7 406.0 435.5 408.5 428.3 410.0 424.8 410.5ZM417.9 342.5L421.5 341.3 424.7 339.5 427.6 337.0 429.9 334.0 431.6 330.5 432.5 327.0 432.7 323.5 432.2 320.0 431.0 316.5 429.3 313.5 427.0 310.8 424.0 308.4 420.5 306.7 417.0 305.7 413.0 305.5 409.5 305.9 406.0 307.1 402.7 309.0 399.9 311.5 397.6 314.5 396.0 318.0 395.1 321.5 394.9 325.0 395.4 328.5 396.6 332.0 398.4 335.0 400.5 337.5 403.6 340.0 407.0 341.7 410.5 342.7 414.0 342.9Z"/>
<path fill="#00e6ff" d="M420.5 410.5L412.0 410.7 403.3 410.0 395.0 408.5 387.8 406.5 380.0 403.5 372.0 399.5 364.9 395.0 358.5 390.0 352.5 384.3 347.0 378.0 342.0 370.9 338.0 363.9 334.5 356.0 332.0 348.6 330.0 340.0 328.9 331.5 328.7 323.0 329.0 318.0 329.4 314.0 330.0 310.0 331.0 305.2 333.0 298.1 336.0 290.3 340.0 282.4 344.5 275.4 349.5 269.0 355.2 263.0 361.6 257.5 368.7 252.5 375.7 248.5 383.6 245.0 391.1 242.5 400.0 240.5 408.3 239.5 417.0 239.3 425.5 240.0 433.8 241.5 441.0 243.5 448.8 246.5 456.8 250.5 463.9 255.0 470.9 260.5 477.0 266.4 482.5 272.9 487.0 279.4 491.0 286.5 494.5 294.5 497.0 302.1 498.0 306.1 499.0 311.2 499.9 319.0 500.1 327.5 499.5 335.5 498.0 343.9 497.0 347.9 495.5 352.8 492.5 360.3 488.5 368.1 484.0 375.0 479.0 381.3 473.1 387.5 466.6 393.0 460.1 397.5 453.1 401.5 445.2 405.0 437.7 407.5 428.8 409.5ZM416.6 344.0L420.5 343.1 424.0 341.5 427.4 339.0 430.0 336.1 432.0 332.9 433.4 329.0 434.0 325.5 433.8 321.5 432.8 317.5 431.2 314.0 429.0 311.0 426.0 308.3 422.5 306.2 419.0 304.9 415.0 304.2 411.0 304.4 407.0 305.4 403.5 307.0 400.5 309.2 397.8 312.0 395.6 315.5 394.3 319.0 393.6 323.0 393.8 327.0 394.8 331.0 396.5 334.5 398.7 337.5 401.5 340.1 405.0 342.2 408.5 343.5 412.5 344.2Z"/>
<path fill="#00ffe5" d="M420.5 410.0L412.0 410.2 403.5 409.5 395.0 408.0 387.9 406.0 380.0 403.0 373.0 399.5 365.8 395.0 358.7 389.5 352.9 384.0 347.5 377.8 342.5 370.8 338.5 363.8 335.0 356.0 332.5 348.6 330.5 340.0 329.4 331.5 329.2 323.0 329.8 314.5 331.1 307.0 332.0 303.2 333.5 298.2 336.5 290.4 340.5 282.5 345.0 275.5 350.0 269.2 355.5 263.4 361.7 258.0 368.0 253.5 375.8 249.0 383.7 245.5 391.2 243.0 400.0 241.0 408.1 240.0 417.0 239.8 425.5 240.5 433.8 242.0 440.9 244.0 448.8 247.0 456.7 251.0 463.7 255.5 470.1 260.5 476.0 266.1 481.5 272.4 486.5 279.5 490.5 286.6 494.0 294.5 496.5 302.1 497.5 306.1 498.5 311.0 499.4 319.0 499.6 327.5 499.0 335.4 497.5 343.9 495.5 351.2 492.5 359.1 488.5 367.1 484.0 374.2 479.0 380.6 473.4 386.5 467.1 392.0 460.0 397.0 453.0 401.0 445.1 404.5 437.6 407.0 428.8 409.0ZM418.2 345.0L422.5 343.6 426.0 341.7 429.2 339.0 432.0 335.5 433.8 332.0 435.0 328.0 435.2 326.0 435.3 323.5 434.8 319.5 433.4 315.5 431.4 312.0 428.5 308.7 425.0 306.1 421.5 304.4 417.5 303.3 413.0 303.0 409.0 303.5 405.0 304.8 401.5 306.8 398.5 309.3 395.9 312.5 394.0 316.0 392.7 320.0 392.4 322.0 392.3 324.5 392.7 328.5 394.0 332.5 396.0 336.1 398.9 339.5 402.0 342.0 406.0 344.0 410.0 345.1 414.0 345.4Z"/>
<path fill="#00ffb2" d="M419.5 409.5L411.0 409.6 403.0 408.9 395.3 407.5 386.7 405.0 379.2 402.0 371.5 398.0 364.6 393.5 358.4 388.5 352.5 382.8 347.0 376.3 342.5 369.7 338.5 362.5 335.0 354.4 332.5 346.5 330.9 339.0 329.9 330.5 329.8 322.0 330.4 314.0 332.0 305.5 334.0 298.4 337.0 290.7 341.0 282.8 345.5 275.8 350.5 269.4 356.2 263.5 362.6 258.0 369.8 253.0 377.1 249.0 385.3 245.5 393.3 243.0 400.5 241.5 409.0 240.5 417.5 240.4 425.5 241.1 433.5 242.5 442.1 245.0 449.6 248.0 457.3 252.0 464.2 256.5 470.4 261.5 476.5 267.4 482.0 274.0 486.5 280.6 490.5 287.9 494.0 296.1 496.4 304.0 498.0 311.5 498.9 320.0 499.0 328.5 498.3 336.5 496.9 344.0 494.5 352.5 491.5 360.0 487.5 367.7 483.0 374.6 477.5 381.5 471.5 387.5 465.5 392.5 459.0 397.0 451.7 401.0 443.5 404.5 435.5 407.0 428.0 408.6ZM416.8 346.5L419.0 346.1 421.5 345.4 425.5 343.5 429.0 341.0 432.0 337.7 434.3 334.0 435.8 330.0 436.6 325.5 436.4 321.0 435.4 317.0 433.5 312.9 431.0 309.4 429.5 307.9 427.5 306.2 423.5 303.8 419.5 302.4 415.0 301.7 410.5 301.9 406.0 303.1 402.0 305.0 398.5 307.5 395.5 310.8 393.2 314.5 391.7 318.5 391.0 323.0 391.2 327.5 392.2 331.5 394.1 335.5 396.6 339.0 400.0 342.1 404.0 344.5 408.0 346.0 412.5 346.7Z"/>
<path fill="#00ff80" d="M417.0 409.0L409.0 408.9 401.0 408.0 396.0 407.0 392.0 406.0 384.4 403.5 376.5 400.0 369.5 396.1 363.0 391.5 357.0 386.4 351.5 380.8 346.5 374.5 342.0 367.7 338.0 360.0 335.0 352.6 332.5 344.0 331.0 335.5 330.4 328.0 330.5 319.9 331.4 311.5 333.0 304.0 335.5 296.0 339.0 287.9 343.0 280.7 347.6 274.0 353.0 267.6 358.8 262.0 365.0 257.0 371.9 252.5 379.6 248.5 387.1 245.5 395.5 243.1 403.5 241.7 411.5 241.0 419.5 241.1 428.0 242.1 432.9 243.0 436.8 244.0 444.4 246.5 451.3 249.5 458.6 253.5 465.2 258.0 471.7 263.5 477.5 269.5 482.5 275.7 487.0 282.6 491.0 290.4 494.0 298.0 496.4 306.5 497.8 314.5 498.4 322.5 498.2 331.0 497.3 339.0 495.5 347.1 493.0 354.8 489.5 362.7 485.5 369.8 481.0 376.3 475.5 382.7 469.5 388.5 463.1 393.5 456.1 398.0 449.2 401.5 441.7 404.5 437.0 406.0 433.0 407.0 425.0 408.4ZM418.5 347.5L423.0 346.1 427.1 344.0 430.8 341.0 433.8 337.5 436.0 333.5 437.4 329.0 437.9 324.5 437.8 322.0 437.4 319.5 436.0 315.0 433.8 311.0 430.9 307.5 429.0 305.8 427.0 304.3 423.0 302.3 418.5 300.9 416.0 300.5 413.5 300.5 409.0 300.9 404.5 302.3 400.5 304.4 398.5 305.9 396.7 307.5 393.8 311.0 391.6 315.0 390.2 319.5 389.8 322.0 389.7 324.5 390.2 329.0 391.6 333.5 393.8 337.5 396.8 341.0 400.5 344.0 404.5 346.1 409.0 347.5 413.5 347.9 416.0 347.9Z"/>
<path fill="#00ff4c" d="M422.0 408.0L413.5 408.4 405.5 407.9 397.0 406.5 389.3 404.5 381.3 401.5 374.1 398.0 367.5 393.9 361.0 389.0 355.0 383.5 349.5 377.3 344.5 370.5 340.5 363.6 337.0 356.0 334.5 348.8 332.5 340.6 331.4 333.0 331.0 325.0 331.5 316.5 332.6 309.0 334.6 301.0 337.5 292.8 341.0 285.5 345.0 278.8 350.0 272.0 355.5 266.0 361.6 260.5 368.4 255.5 375.1 251.5 382.5 248.0 390.9 245.0 399.0 243.1 406.6 242.0 415.0 241.6 423.0 242.1 431.5 243.4 439.5 245.5 447.5 248.5 454.7 252.0 461.2 256.0 467.8 261.0 473.8 266.5 479.0 272.3 484.0 279.1 488.1 286.0 491.5 293.3 494.4 301.5 496.3 309.5 497.4 317.5 497.8 325.5 497.3 333.5 496.0 342.0 494.0 349.8 491.0 357.9 487.5 365.1 483.5 371.6 478.5 378.3 472.8 384.5 466.6 390.0 460.4 394.5 453.0 398.9 445.1 402.5 437.9 405.0 429.5 407.0ZM417.0 349.0L419.5 348.6 422.0 347.9 426.5 345.8 430.5 343.0 433.9 339.5 435.3 337.5 436.7 335.0 438.4 330.5 439.1 326.0 439.2 323.5 439.0 321.0 438.0 316.5 437.0 314.0 436.0 312.0 433.1 308.0 431.5 306.3 429.4 304.5 427.3 303.0 425.0 301.8 420.5 300.1 418.0 299.5 415.5 299.3 413.0 299.2 410.5 299.4 408.0 299.9 405.5 300.6 401.0 302.6 397.0 305.5 393.6 309.0 392.2 311.0 391.0 313.2 390.0 315.5 389.2 318.0 388.5 322.5 388.4 325.0 388.6 327.5 389.7 332.0 390.7 334.5 391.7 336.5 393.0 338.5 394.5 340.5 396.5 342.5 398.3 344.0 402.5 346.6 407.0 348.3 409.5 348.8 412.0 349.1 414.5 349.2Z"/>
<path fill="#00ff1a" d="M418.5 407.5L410.5 407.5 402.5 406.8 394.5 405.2 387.0 402.9 379.7 400.0 372.1 396.0 365.4 391.5 359.2 386.5 353.5 380.8 348.5 374.8 344.0 368.2 340.0 360.9 337.0 353.9 334.5 346.0 332.8 338.0 331.9 329.5 331.9 321.5 332.6 313.5 334.1 305.5 336.5 297.5 339.6 290.0 343.5 282.6 348.0 275.8 353.0 269.7 358.7 264.0 364.7 259.0 371.3 254.5 378.7 250.5 385.8 247.5 393.7 245.0 401.5 243.4 410.0 242.5 418.0 242.5 426.0 243.2 434.0 244.7 441.7 247.0 449.1 250.0 456.7 254.0 463.4 258.5 469.6 263.5 475.5 269.4 480.5 275.4 485.0 282.1 489.0 289.5 492.0 296.6 494.5 304.7 496.1 312.5 496.9 321.0 496.9 329.0 496.1 337.5 494.5 345.3 492.0 353.4 489.0 360.5 485.0 367.9 480.5 374.6 475.6 380.5 469.6 386.5 463.5 391.5 456.7 396.0 450.0 399.6 443.0 402.5 435.0 405.0 427.0 406.7ZM418.7 350.0L421.5 349.3 423.9 348.5 426.1 347.5 428.5 346.1 430.5 344.7 432.5 342.9 434.3 341.0 435.8 339.0 437.1 337.0 438.4 334.5 439.3 332.0 439.9 329.5 440.3 327.0 440.5 324.5 440.4 321.5 440.0 319.0 439.3 316.5 438.4 314.0 437.2 311.5 435.9 309.5 434.4 307.5 432.5 305.5 430.5 303.7 428.5 302.3 424.0 299.9 421.5 299.1 419.0 298.5 416.5 298.1 413.5 298.0 408.5 298.5 406.0 299.1 403.5 300.0 399.0 302.4 397.0 303.8 395.0 305.6 393.2 307.5 391.7 309.5 390.4 311.5 389.2 314.0 388.3 316.5 387.6 319.0 387.2 321.5 387.1 324.0 387.2 326.5 387.6 329.0 388.2 331.5 389.0 334.0 390.2 336.5 391.4 338.5 392.9 340.5 394.7 342.5 398.5 345.7 400.6 347.0 403.0 348.2 405.5 349.1 408.0 349.8 410.5 350.2 413.5 350.4 416.0 350.4Z"/>
<path fill="#1aff00" d="M421.5 406.5L413.5 406.8 405.5 406.3 397.2 405.0 389.7 403.0 382.9 400.5 375.5 397.0 368.5 392.7 362.0 387.8 356.2 382.5 350.8 376.5 346.0 369.9 342.0 363.1 338.5 355.6 336.0 348.4 334.1 340.5 332.9 332.5 332.6 324.5 333.0 316.5 334.3 308.5 336.3 300.5 339.0 293.2 342.5 285.9 346.5 279.3 351.5 272.7 357.0 266.7 363.0 261.3 369.6 256.5 376.5 252.5 384.0 249.0 391.3 246.5 399.5 244.5 407.1 243.5 415.0 243.2 423.0 243.6 431.5 245.0 439.1 247.0 447.0 250.0 454.0 253.4 460.6 257.5 467.0 262.3 472.6 267.5 478.0 273.5 483.0 280.4 487.0 287.3 490.5 294.9 493.0 302.3 494.8 310.0 495.9 318.0 496.2 326.0 495.7 334.0 494.5 341.7 492.5 349.5 489.5 357.5 486.1 364.5 482.0 371.1 477.0 377.7 471.5 383.6 465.5 388.9 459.2 393.5 452.3 397.5 444.7 401.0 437.5 403.5 429.5 405.4ZM417.2 351.5L420.0 351.0 422.5 350.3 425.0 349.4 427.5 348.2 430.0 346.6 432.1 345.0 434.2 343.0 436.0 341.0 437.5 338.8 438.8 336.5 440.0 334.0 440.8 331.5 441.4 329.0 441.7 326.0 441.8 323.0 441.5 320.5 441.1 318.0 440.4 315.5 439.4 313.0 438.0 310.4 436.5 308.1 434.8 306.0 432.8 304.0 430.5 302.1 428.5 300.8 426.0 299.5 423.5 298.4 421.0 297.6 418.5 297.1 415.5 296.8 412.5 296.7 410.0 297.0 407.0 297.5 404.5 298.3 402.0 299.3 399.6 300.5 397.5 301.8 395.4 303.5 393.3 305.5 391.6 307.5 390.0 309.7 388.7 312.0 387.6 314.5 386.8 317.0 385.9 322.0 385.8 325.0 386.0 327.5 386.4 330.0 387.1 332.5 388.1 335.0 389.3 337.5 390.9 340.0 392.5 342.0 394.4 344.0 396.5 345.8 399.0 347.5 401.5 348.9 404.0 350.0 406.5 350.7 409.0 351.3 412.0 351.6Z"/>
<path fill="#4cff00" d="M423.0 405.5L415.0 406.0 407.0 405.6 399.1 404.5 391.5 402.7 383.9 400.0 376.5 396.5 369.7 392.5 363.5 388.0 357.5 382.6 352.3 377.0 347.5 370.6 343.4 364.0 340.0 356.9 337.1 349.0 335.0 341.0 333.9 333.5 333.4 325.5 333.8 317.5 334.9 309.5 336.8 302.0 339.5 294.3 342.9 287.0 347.0 280.1 351.5 274.0 356.9 268.0 362.5 262.9 368.9 258.0 375.5 254.0 382.7 250.5 390.0 247.8 398.0 245.7 405.7 244.5 414.0 244.0 422.0 244.4 429.7 245.5 437.5 247.4 445.0 250.0 452.4 253.5 459.1 257.5 465.3 262.0 471.0 267.1 476.5 273.0 481.4 279.5 485.5 286.3 489.0 293.5 491.7 301.0 493.7 308.5 494.9 316.5 495.4 324.5 495.0 332.5 494.0 340.0 492.0 348.0 489.4 355.5 486.0 362.8 482.0 369.6 477.5 375.7 472.4 381.5 466.5 387.0 460.0 391.9 453.3 396.0 446.1 399.5 438.5 402.3 431.0 404.2ZM419.0 352.5L422.0 351.8 424.5 351.0 427.0 349.9 429.5 348.5 432.0 346.7 434.0 345.0 436.0 343.0 437.9 340.5 439.5 338.0 440.7 335.5 441.7 333.0 442.5 330.0 442.9 327.5 443.1 324.5 443.0 321.5 442.6 319.0 441.9 316.0 441.0 313.5 439.8 311.0 438.3 308.5 436.5 306.0 434.6 304.0 432.5 302.1 430.5 300.6 428.0 299.1 425.5 297.8 423.0 296.9 420.0 296.1 417.5 295.7 414.5 295.5 411.5 295.5 408.5 295.9 405.5 296.6 403.0 297.5 400.5 298.6 398.0 300.0 395.5 301.8 393.5 303.5 391.5 305.6 389.6 308.0 388.0 310.5 386.8 313.0 385.9 315.5 385.1 318.5 384.7 321.0 384.5 324.0 384.6 327.0 385.0 329.5 385.7 332.5 386.6 335.0 387.8 337.5 389.3 340.0 391.0 342.2 393.0 344.4 397.0 347.7 399.5 349.3 402.0 350.5 404.5 351.5 407.5 352.3 410.0 352.7 413.0 352.9 416.0 352.9Z"/>
<path fill="#80ff00" d="M417.0 405.0L409.5 404.9 401.5 404.0 394.0 402.4 386.4 400.0 379.4 397.0 372.2 393.0 365.6 388.5 359.8 383.5 354.4 378.0 349.5 371.9 345.1 365.0 341.5 358.1 338.5 350.5 336.5 343.5 335.0 335.5 334.4 328.0 334.5 320.0 335.4 312.0 337.0 304.5 339.4 297.0 342.5 289.8 346.2 283.0 350.7 276.5 355.8 270.5 361.4 265.0 367.7 260.0 374.5 255.6 381.5 252.0 389.0 249.1 396.4 247.0 404.0 245.6 411.5 245.0 419.5 245.1 427.4 246.0 435.0 247.6 442.4 250.0 449.5 253.0 456.6 257.0 463.2 261.5 469.1 266.5 474.5 272.1 479.5 278.4 483.7 285.0 487.3 292.0 490.3 299.5 492.4 307.0 493.8 314.5 494.4 322.5 494.3 330.5 493.4 338.0 491.8 345.5 489.4 353.0 486.4 360.0 482.5 367.1 478.0 373.6 473.0 379.5 467.4 385.0 461.1 390.0 454.5 394.3 447.5 397.9 440.0 400.9 432.5 403.0 424.5 404.4ZM417.3 354.0L420.5 353.5 423.5 352.7 426.5 351.5 429.0 350.2 431.5 348.7 434.0 346.7 436.0 344.8 438.0 342.6 439.8 340.0 441.2 337.5 442.3 335.0 443.3 332.0 443.9 329.5 444.3 326.5 444.4 323.5 444.2 320.5 443.6 317.5 442.9 315.0 441.8 312.0 440.5 309.5 438.9 307.0 437.0 304.6 434.9 302.5 432.6 300.5 430.0 298.8 427.5 297.4 425.0 296.3 422.0 295.3 419.0 294.6 416.0 294.3 413.0 294.2 410.0 294.4 407.0 295.0 404.0 295.8 401.0 297.0 398.5 298.2 396.0 299.8 393.5 301.8 391.5 303.7 389.5 306.0 387.7 308.5 386.3 311.0 385.2 313.5 384.2 316.5 383.7 319.0 383.3 322.0 383.2 325.0 383.4 328.0 384.0 331.0 384.7 333.5 385.9 336.5 387.2 339.0 388.8 341.5 390.5 343.6 392.5 345.7 395.0 347.9 397.5 349.6 400.0 351.0 402.5 352.1 405.5 353.1 408.5 353.7 411.5 354.1 414.5 354.2Z"/>
<path fill="#b3ff00" d="M418.0 404.0L410.5 404.0 402.5 403.2 395.0 401.7 387.8 399.5 380.6 396.5 374.0 393.0 367.2 388.5 361.2 383.5 355.7 378.0 351.0 372.3 346.5 365.6 343.0 359.0 340.0 351.8 337.7 344.5 336.2 337.0 335.4 329.0 335.4 321.0 336.1 313.5 337.6 306.0 339.9 298.5 343.0 291.0 346.5 284.4 350.8 278.0 355.7 272.0 361.2 266.5 367.2 261.5 374.0 257.0 380.6 253.5 387.8 250.5 395.0 248.3 402.5 246.8 410.5 246.0 418.2 246.0 426.0 246.8 433.5 248.2 441.0 250.5 448.2 253.5 455.0 257.1 461.6 261.5 467.6 266.5 473.1 272.0 478.0 278.0 482.3 284.5 486.0 291.4 489.0 298.7 491.2 306.0 492.7 313.5 493.4 321.5 493.4 329.0 492.6 337.0 491.0 344.7 488.7 352.0 485.6 359.5 482.0 366.1 477.6 372.5 472.7 378.5 467.1 384.0 461.0 388.9 454.8 393.0 448.0 396.6 441.0 399.5 433.5 401.8 426.0 403.2ZM419.2 355.0L422.5 354.3 425.5 353.3 428.4 352.0 431.0 350.5 433.5 348.8 436.0 346.6 438.0 344.5 440.0 342.0 441.6 339.5 443.1 336.5 444.3 333.5 445.0 330.7 445.5 327.5 445.7 324.5 445.6 321.5 445.2 318.5 444.4 315.5 443.4 312.5 442.0 309.6 440.5 307.1 438.6 304.5 436.7 302.5 434.5 300.4 431.9 298.5 429.5 297.0 426.5 295.5 423.5 294.4 420.5 293.6 417.5 293.2 414.5 293.0 411.0 293.1 408.0 293.5 405.0 294.2 402.0 295.2 399.0 296.5 396.5 297.9 394.0 299.7 391.5 301.9 389.5 304.0 387.5 306.5 385.9 309.0 384.5 311.9 383.5 314.5 382.6 317.5 382.1 320.5 381.9 323.5 382.0 326.5 382.4 329.5 383.0 332.5 384.1 335.5 385.4 338.5 386.9 341.0 388.7 343.5 391.0 346.0 393.1 348.0 395.5 349.8 398.0 351.3 401.0 352.8 404.0 353.9 407.0 354.7 410.0 355.2 413.0 355.4 416.0 355.4Z"/>
<path fill="#e5ff00" d="M417.5 403.0L410.0 403.0 402.0 402.1 394.5 400.5 387.5 398.3 380.5 395.3 373.5 391.5 367.5 387.4 361.6 382.5 356.2 377.0 351.5 371.3 347.3 365.0 343.6 358.0 340.8 351.0 338.5 343.5 337.1 336.0 336.4 328.5 336.4 320.5 337.2 313.0 338.8 305.5 341.0 298.4 344.0 291.2 347.6 284.5 352.0 278.1 357.0 272.1 362.5 266.7 368.3 262.0 374.5 257.9 381.5 254.2 388.5 251.3 396.0 249.1 403.5 247.7 411.0 247.0 418.5 247.0 426.5 247.9 434.0 249.4 441.0 251.6 448.0 254.5 455.0 258.3 461.2 262.5 467.2 267.5 472.6 273.0 477.5 279.0 481.8 285.5 485.4 292.5 488.2 299.5 490.4 307.0 491.8 314.5 492.4 322.0 492.3 329.5 491.5 337.3 490.0 344.5 487.7 352.0 484.7 359.0 481.0 365.8 476.7 372.0 471.7 378.0 466.5 383.2 460.5 388.0 454.0 392.3 447.0 395.9 440.0 398.8 432.5 401.0 425.0 402.4ZM417.5 356.5L421.0 355.9 424.0 355.1 427.0 354.0 430.0 352.6 432.6 351.0 435.2 349.0 437.5 347.0 439.7 344.5 441.6 342.0 443.4 339.0 444.7 336.0 445.8 333.0 446.5 330.0 446.9 327.0 447.0 323.5 446.8 320.5 446.3 317.5 445.5 314.5 444.4 311.5 442.9 308.5 441.0 305.6 439.0 303.0 437.0 301.0 434.5 298.8 432.0 297.0 429.0 295.3 426.0 294.0 423.0 293.0 420.0 292.3 416.5 291.8 413.0 291.7 410.0 291.9 406.5 292.5 403.5 293.3 400.5 294.4 397.5 295.9 394.9 297.5 392.2 299.5 390.0 301.5 387.8 304.0 386.0 306.5 384.2 309.5 382.8 312.5 381.8 315.5 381.1 318.5 380.7 321.5 380.6 325.0 380.8 328.0 381.3 331.0 382.1 334.0 383.3 337.0 384.8 340.0 386.5 342.7 388.5 345.2 390.7 347.5 393.0 349.5 395.5 351.3 398.5 353.0 401.5 354.4 404.5 355.4 407.5 356.1 411.0 356.6 414.0 356.7Z"/>
<path fill="#ffe500" d="M416.0 402.0L408.5 401.8 401.0 400.8 393.5 399.1 386.5 396.8 379.5 393.7 373.0 389.9 366.7 385.5 361.0 380.5 355.8 375.0 351.2 369.0 347.1 362.5 343.9 356.0 341.2 349.0 339.2 341.5 337.9 334.0 337.4 326.5 337.6 319.0 338.6 311.5 340.3 304.0 342.7 297.0 345.8 290.0 349.5 283.5 354.0 277.2 359.0 271.5 364.5 266.3 370.5 261.7 377.0 257.7 383.5 254.5 390.5 251.8 398.0 249.7 405.5 248.5 413.0 248.0 420.5 248.2 428.0 249.2 435.5 250.9 442.5 253.3 449.5 256.4 456.0 260.2 462.1 264.5 467.8 269.5 473.0 275.0 477.6 281.0 481.7 287.5 485.0 294.2 487.6 301.0 489.6 308.5 490.9 316.0 491.4 323.5 491.2 331.0 490.2 338.5 488.5 346.0 486.1 353.0 483.0 360.0 479.3 366.5 475.0 372.5 470.0 378.3 464.5 383.5 458.5 388.1 452.4 392.0 445.4 395.5 438.5 398.1 431.0 400.2 423.5 401.5ZM419.4 357.5L422.5 356.9 426.0 355.8 429.0 354.5 432.0 352.9 434.8 351.0 437.5 348.7 440.0 346.1 442.0 343.6 443.7 341.0 445.3 338.0 446.5 335.0 447.5 331.5 448.0 328.5 448.3 325.0 448.2 321.5 447.8 318.5 447.0 315.0 446.0 312.0 444.6 309.0 442.8 306.0 440.6 303.0 438.5 300.6 436.2 298.5 433.5 296.5 430.5 294.7 427.5 293.2 424.5 292.1 421.0 291.2 418.0 290.7 414.5 290.5 411.0 290.6 407.5 291.0 404.0 291.8 401.0 292.9 398.0 294.2 395.0 295.9 392.1 298.0 389.8 300.0 387.5 302.4 385.4 305.0 383.5 308.0 382.1 311.0 380.9 314.0 380.1 317.0 379.6 320.0 379.3 323.5 379.4 327.0 379.8 330.0 380.6 333.5 381.7 336.5 383.1 339.5 384.8 342.5 386.6 345.0 389.0 347.7 391.5 349.9 394.0 351.8 396.7 353.5 399.7 355.0 403.0 356.3 406.0 357.1 409.0 357.6 412.5 357.9 416.0 357.9Z"/>
<path fill="#ffb300" d="M422.0 400.5L414.5 400.9 407.0 400.5 399.9 399.5 392.5 397.7 385.5 395.2 378.7 392.0 372.5 388.3 366.5 383.9 361.0 378.9 356.0 373.5 351.5 367.5 347.6 361.0 344.5 354.5 341.9 347.5 340.0 340.1 338.9 333.0 338.5 325.5 338.8 318.0 339.9 310.5 341.6 303.5 344.0 296.5 347.3 289.5 351.0 283.3 355.5 277.1 360.5 271.6 366.0 266.5 372.1 262.0 378.5 258.1 385.0 255.0 392.0 252.5 399.0 250.7 406.5 249.5 414.0 249.1 421.5 249.4 428.9 250.5 436.0 252.2 443.0 254.7 450.0 258.0 456.0 261.5 462.2 266.0 467.7 271.0 472.8 276.5 477.3 282.5 481.2 289.0 484.5 295.9 487.0 302.8 488.8 310.0 489.9 317.5 490.3 325.0 489.9 332.5 488.8 340.0 487.0 347.0 484.5 354.0 481.5 360.5 477.6 367.0 473.2 373.0 468.0 378.7 462.5 383.7 456.5 388.2 450.1 392.0 443.5 395.1 436.5 397.6 429.0 399.5ZM417.6 359.0L421.0 358.5 424.5 357.6 428.0 356.3 431.0 354.9 434.0 353.1 436.8 351.0 439.5 348.6 441.8 346.0 444.0 343.0 445.7 340.0 447.1 337.0 448.3 333.5 449.0 330.5 449.5 327.0 449.6 323.5 449.3 320.0 448.7 316.5 447.9 313.5 446.5 310.0 445.0 307.0 443.0 304.0 441.0 301.5 438.6 299.0 436.0 296.7 433.0 294.7 430.0 293.0 427.0 291.7 423.5 290.5 420.0 289.7 416.5 289.3 413.0 289.2 409.5 289.5 406.0 290.0 403.0 290.8 399.5 292.1 396.5 293.6 393.5 295.4 390.7 297.5 388.0 299.9 385.7 302.5 383.9 305.0 382.0 308.1 380.5 311.4 379.4 314.5 378.7 317.5 378.2 321.0 378.0 324.5 378.2 328.0 378.8 331.5 379.6 334.5 380.9 338.0 382.4 341.0 384.3 344.0 386.5 346.8 389.0 349.4 391.4 351.5 394.5 353.7 397.5 355.4 400.5 356.7 404.0 357.9 407.5 358.7 411.0 359.1 414.5 359.2Z"/>
<path fill="#ff8000" d="M420.0 399.5L412.5 399.7 405.5 399.2 398.3 398.0 391.0 396.0 384.0 393.3 377.5 390.0 371.5 386.2 366.0 382.0 360.7 377.0 355.9 371.5 351.6 365.5 347.8 359.0 344.9 352.5 342.5 345.4 340.9 338.5 339.9 331.0 339.7 323.5 340.1 316.5 341.4 309.0 343.3 302.0 345.9 295.0 349.2 288.5 353.0 282.4 357.5 276.5 362.5 271.2 368.0 266.4 374.0 262.1 380.3 258.5 387.0 255.5 394.0 253.1 401.0 251.5 408.5 250.5 416.0 250.3 423.0 250.7 430.5 252.0 437.5 253.9 444.3 256.5 451.0 259.8 457.0 263.6 463.0 268.2 468.1 273.0 473.0 278.6 477.2 284.5 481.0 291.1 484.0 297.7 486.4 305.0 488.0 312.0 488.9 319.5 489.1 327.0 488.6 334.0 487.3 341.5 485.4 348.5 482.6 355.5 479.5 361.7 475.5 368.0 471.0 373.8 466.0 379.1 460.3 384.0 454.5 388.1 448.0 391.8 441.5 394.7 434.5 397.0 427.5 398.6ZM419.6 360.0L423.0 359.3 426.5 358.3 430.0 356.8 433.0 355.2 436.0 353.2 439.0 350.8 441.5 348.3 443.8 345.5 445.8 342.5 447.5 339.4 448.9 336.0 449.9 332.5 450.6 329.0 450.9 325.5 450.8 322.0 450.4 318.5 449.7 315.0 448.5 311.5 447.0 308.0 445.3 305.0 443.1 302.0 440.9 299.5 438.3 297.0 435.5 294.8 432.5 292.9 429.0 291.1 425.5 289.8 422.0 288.8 418.5 288.2 415.0 288.0 411.0 288.1 407.5 288.5 404.0 289.2 400.5 290.4 397.0 291.9 394.1 293.5 391.1 295.5 388.5 297.7 386.0 300.2 383.7 303.0 381.7 306.0 380.0 309.3 378.7 312.5 377.7 316.0 377.0 319.5 376.7 323.0 376.8 326.5 377.2 330.0 377.9 333.5 379.0 336.8 380.4 340.0 382.1 343.0 384.2 346.0 386.5 348.7 389.0 351.2 392.0 353.5 395.0 355.4 398.0 357.0 401.5 358.4 405.0 359.4 408.5 360.1 412.5 360.4 416.0 360.4Z"/>
<path fill="#ff4c00" d="M416.5 398.5L409.0 398.3 402.0 397.5 395.0 395.9 388.0 393.6 381.5 390.8 375.0 387.1 369.2 383.0 363.9 378.5 359.0 373.4 354.4 367.5 350.5 361.4 347.3 355.0 344.7 348.5 342.7 341.5 341.5 334.5 340.9 327.0 341.0 320.0 341.9 312.5 343.5 305.5 345.6 299.0 348.5 292.4 352.0 286.0 356.2 280.0 361.0 274.4 366.1 269.5 371.9 265.0 378.0 261.1 384.5 257.8 391.0 255.3 398.0 253.3 405.5 252.0 412.5 251.5 420.0 251.7 427.0 252.5 434.0 254.1 441.0 256.4 447.8 259.5 454.0 263.0 459.6 267.0 465.0 271.6 470.0 276.9 474.4 282.5 478.2 288.5 481.5 295.0 484.1 301.5 486.1 308.5 487.3 315.5 487.9 323.0 487.7 330.5 486.9 337.5 485.3 344.5 483.0 351.5 480.0 358.2 476.5 364.4 472.5 370.1 467.9 375.5 462.7 380.5 457.0 384.9 451.0 388.8 444.5 392.1 438.0 394.7 431.0 396.6 423.5 398.0ZM417.8 361.5L421.5 360.9 425.5 359.9 429.0 358.6 432.4 357.0 435.5 355.1 438.5 352.9 441.2 350.5 443.9 347.5 446.1 344.5 447.9 341.5 449.5 338.0 450.7 334.5 451.6 331.0 452.1 327.5 452.2 323.5 452.0 320.0 451.4 316.5 450.4 313.0 449.1 309.5 447.4 306.0 445.5 303.0 443.1 300.0 440.8 297.5 437.9 295.0 435.0 292.9 431.5 290.9 428.0 289.4 424.5 288.2 421.0 287.4 417.0 286.8 413.0 286.7 409.5 286.9 406.0 287.5 402.5 288.4 399.0 289.6 395.5 291.2 392.0 293.3 389.1 295.5 386.5 297.8 384.0 300.6 381.8 303.5 380.0 306.5 378.3 310.0 377.0 313.5 376.1 317.0 375.6 320.5 375.4 324.5 375.6 328.0 376.1 331.5 377.0 335.0 378.3 338.5 380.0 342.0 381.9 345.0 384.1 348.0 386.5 350.6 389.5 353.2 392.7 355.5 396.0 357.4 399.5 359.0 403.0 360.2 406.5 361.0 410.5 361.6 414.0 361.7Z"/>
<path fill="#ff1a00" d="M420.5 397.0L413.5 397.3 406.5 396.9 399.5 395.7 392.5 393.9 386.0 391.5 379.5 388.3 373.5 384.6 368.0 380.4 362.7 375.5 358.0 370.2 353.9 364.5 350.3 358.5 347.3 352.0 345.1 345.5 343.4 338.5 342.4 331.5 342.1 324.5 342.5 317.5 343.6 310.5 345.4 303.5 348.0 296.5 351.0 290.3 354.5 284.5 359.0 278.6 363.7 273.5 369.0 268.7 374.8 264.5 381.0 260.9 387.2 258.0 394.0 255.6 401.0 254.0 408.0 253.0 415.0 252.7 422.0 253.1 429.0 254.2 436.0 256.0 442.8 258.5 449.0 261.5 455.5 265.5 461.0 269.7 466.1 274.5 471.0 280.0 475.0 285.6 478.5 291.6 481.5 298.1 483.9 305.0 485.5 312.0 486.4 319.0 486.7 326.0 486.2 333.0 485.1 340.0 483.3 347.0 480.8 353.5 477.7 360.0 473.9 366.0 469.5 371.8 464.6 377.0 459.5 381.5 454.0 385.5 447.5 389.3 441.0 392.2 434.5 394.4 427.5 396.1ZM419.8 362.5L423.5 361.8 427.5 360.6 431.0 359.1 434.5 357.3 437.9 355.0 440.9 352.5 443.5 349.9 445.9 347.0 448.0 343.9 449.8 340.5 451.3 337.0 452.5 333.0 453.1 329.5 453.5 325.5 453.4 321.5 453.0 318.0 452.2 314.5 451.0 310.7 449.5 307.3 447.7 304.0 445.5 300.9 443.0 298.0 440.0 295.1 437.0 292.8 433.5 290.6 430.0 288.8 426.5 287.5 422.5 286.4 419.0 285.8 415.0 285.5 411.0 285.5 407.0 286.0 403.0 286.9 399.5 288.1 396.0 289.6 392.5 291.5 389.5 293.6 386.5 296.1 384.0 298.6 381.5 301.7 379.3 305.0 377.5 308.5 376.1 312.0 375.1 315.5 374.5 319.0 374.1 323.0 374.2 327.0 374.6 330.5 375.4 334.0 376.5 337.5 378.0 341.0 380.0 344.5 382.1 347.5 384.7 350.5 387.5 353.2 390.5 355.6 393.5 357.5 397.0 359.3 400.5 360.7 404.5 361.9 408.0 362.5 412.0 362.9 416.0 362.9Z"/>
<path fill="#ff0000" d="M422.5 395.5L415.5 396.0 408.5 395.8 401.5 394.8 395.0 393.3 388.5 391.1 382.0 388.2 376.0 384.7 370.5 380.8 365.5 376.5 360.5 371.2 356.1 365.5 352.5 359.8 349.4 353.5 346.9 347.0 345.1 340.5 343.9 333.5 343.4 326.5 343.6 319.5 344.5 312.6 346.0 306.0 348.1 299.5 351.0 293.0 354.4 287.0 358.5 281.2 363.0 276.0 368.0 271.3 373.5 267.0 379.5 263.2 385.8 260.0 392.4 257.5 399.0 255.7 406.0 254.5 413.0 254.0 420.0 254.2 427.0 255.1 433.5 256.6 440.0 258.8 446.5 261.7 452.5 265.1 458.5 269.4 463.8 274.0 468.5 279.0 472.7 284.5 476.5 290.5 479.5 296.7 482.0 303.3 483.8 310.0 484.9 317.0 485.4 324.0 485.1 331.0 484.2 338.0 482.7 344.5 480.5 351.0 477.5 357.5 474.1 363.5 470.0 369.2 465.5 374.3 460.5 379.0 455.0 383.2 449.0 387.0 443.0 390.0 436.4 392.5 429.5 394.4ZM417.9 364.0L421.5 363.5 425.5 362.5 429.5 361.1 433.1 359.5 436.5 357.5 440.0 355.0 442.8 352.5 445.6 349.5 447.8 346.5 450.0 343.0 451.7 339.5 453.1 335.5 454.0 332.0 454.6 328.0 454.8 324.0 454.6 320.0 453.9 316.0 453.0 312.5 451.5 308.5 449.8 305.0 447.6 301.5 445.2 298.5 442.5 295.6 439.5 293.0 436.5 290.9 433.0 288.9 429.5 287.3 425.5 285.9 421.5 284.9 417.5 284.4 413.5 284.2 409.5 284.4 405.5 285.0 401.5 286.0 398.0 287.3 394.3 289.0 390.9 291.0 387.5 293.5 384.5 296.2 382.0 299.0 379.7 302.0 377.6 305.5 375.9 309.0 374.4 313.0 373.6 316.5 373.0 320.5 372.8 324.5 373.0 328.5 373.7 332.5 374.6 336.0 376.1 340.0 377.9 343.5 380.0 346.8 382.5 350.0 385.0 352.7 388.0 355.3 391.1 357.5 394.5 359.5 398.0 361.1 402.0 362.5 406.0 363.5 410.0 364.0 414.0 364.2Z"/>
<path d="M386.8 320.7l0.3 -1.8M387.5 317.4l0.5 -1.7M388.6 314.3l0.7 -1.6M390.1 311.3l0.9 -1.5M391.9 308.5l1.1 -1.4M394.0 306.0l1.3 -1.3M396.3 303.7l1.4 -1.1M399.0 301.7l1.5 -0.9M401.9 300.1l1.6 -0.8M404.9 298.8l1.7 -0.6M408.1 297.8l1.8 -0.4M411.3 297.3l1.8 -0.1M414.6 297.1l1.8 0.1M417.9 297.3l1.8 0.3M421.2 297.9l1.7 0.5M424.3 298.9l1.7 0.7M427.3 300.3l1.6 0.9M430.2 302.0l1.5 1.1M432.8 304.0l1.3 1.2M435.1 306.3l1.2 1.4M437.2 308.9l1.0 1.5M439.0 311.7l0.8 1.6M440.4 314.7l0.6 1.7M441.4 317.9l0.4 1.8M442.0 321.1l0.2 1.8M442.3 324.4l-0.0 1.8M442.2 327.7l-0.2 1.8M441.7 331.0l-0.4 1.7M440.8 334.2l-0.6 1.7M439.5 337.2l-0.8 1.6M437.9 340.1l-1.0 1.5M435.9 342.8l-1.2 1.4M433.7 345.2l-1.3 1.2M431.2 347.3l-1.5 1.0M428.4 349.1l-1.6 0.9M425.4 350.6l-1.7 0.7M422.3 351.8l-1.7 0.5M419.1 352.5l-1.8 0.2M415.8 352.9l-1.8 0.0M412.5 352.9l-1.8 -0.2M409.2 352.4l-1.8 -0.4M406.0 351.6l-1.7 -0.6M402.9 350.5l-1.6 -0.8M400.0 348.9l-1.5 -1.0M397.3 347.1l-1.4 -1.1M394.8 344.9l-1.2 -1.3M392.6 342.4l-1.1 -1.4M390.7 339.7l-0.9 -1.6M389.1 336.8l-0.7 -1.7M387.9 333.7l-0.5 -1.7M387.0 330.5l-0.3 -1.8M386.6 327.3l-0.1 -1.8M386.5 324.0l0.1 -1.8M387.6 309.3l1.0 -1.5M389.4 306.6l1.1 -1.4M391.5 304.0l1.3 -1.3M393.9 301.7l1.4 -1.1M396.5 299.7l1.5 -1.0M399.3 297.9l1.6 -0.8M402.3 296.5l1.7 -0.7M405.4 295.3l1.7 -0.5M408.6 294.5l1.8 -0.3M411.8 294.1l1.8 -0.1M415.1 294.0l1.8 0.1M418.4 294.2l1.8 0.3M421.7 294.9l1.7 0.5M424.8 295.8l1.7 0.7M427.9 297.1l1.6 0.8M430.8 298.7l1.5 1.0M433.5 300.5l1.4 1.1M436.0 302.7l1.3 1.3M438.2 305.1l1.1 1.4M440.2 307.8l1.0 1.5M441.9 310.6l0.8 1.6M443.2 313.6l0.6 1.7M444.3 316.7l0.4 1.7M445.0 320.0l0.2 1.8M445.4 323.3l0.0 1.8M445.4 326.6l-0.1 1.8M445.0 329.8l-0.3 1.8M444.3 333.1l-0.5 1.7M443.3 336.2l-0.7 1.7M442.0 339.2l-0.9 1.6M440.3 342.1l-1.0 1.5M438.3 344.7l-1.2 1.4M436.1 347.2l-1.3 1.2M433.6 349.3l-1.4 1.1M430.9 351.2l-1.6 0.9M428.0 352.8l-1.6 0.7M425.0 354.1l-1.7 0.6M421.9 355.1l-1.8 0.4M418.6 355.7l-1.8 0.2M415.3 356.0l-1.8 0.0M412.0 355.9l-1.8 -0.2M408.7 355.5l-1.8 -0.4M405.5 354.7l-1.7 -0.6M402.4 353.6l-1.6 -0.7M399.5 352.2l-1.6 -0.9M396.7 350.4l-1.4 -1.1M394.0 348.4l-1.3 -1.2M391.7 346.1l-1.2 -1.4M389.6 343.6l-1.0 -1.5M387.7 340.8l-0.9 -1.6M386.2 337.9l-0.7 -1.7M385.0 334.8l-0.5 -1.7M384.1 331.6l-0.3 -1.8M383.6 328.4l-0.1 -1.8M383.4 325.1l0.0 -1.8M383.6 321.8l0.2 -1.8M384.1 318.5l0.4 -1.7M384.9 315.4l0.6 -1.7M386.1 312.3l0.8 -1.6M393.2 298.2l1.4 -1.1M395.9 296.3l1.5 -0.9M398.8 294.7l1.6 -0.8M401.8 293.3l1.7 -0.6M404.9 292.2l1.7 -0.5M408.1 291.5l1.8 -0.3M411.4 291.0l1.8 -0.1M414.7 290.9l1.8 0.1M418.0 291.1l1.8 0.2M421.2 291.6l1.8 0.4M424.4 292.4l1.7 0.6M427.5 293.5l1.6 0.7M430.5 294.9l1.6 0.9M433.3 296.6l1.5 1.0M436.0 298.6l1.4 1.2M438.4 300.8l1.2 1.3M440.6 303.2l1.1 1.4M442.6 305.8l1.0 1.5M444.3 308.7l0.8 1.6M445.8 311.6l0.7 1.7M446.9 314.7l0.5 1.7M447.8 317.9l0.3 1.8M448.3 321.2l0.2 1.8M448.5 324.4l-0.0 1.8M448.4 327.7l-0.2 1.8M448.0 331.0l-0.4 1.8M447.2 334.2l-0.5 1.7M446.2 337.3l-0.7 1.7M444.9 340.4l-0.9 1.6M443.2 343.2l-1.0 1.5M441.3 345.9l-1.1 1.4M439.2 348.4l-1.3 1.3M436.8 350.7l-1.4 1.1M434.2 352.8l-1.5 1.0M431.5 354.5l-1.6 0.9M428.5 356.0l-1.7 0.7M425.5 357.3l-1.7 0.5M422.3 358.2l-1.8 0.4M419.1 358.8l-1.8 0.2M415.8 359.1l-1.8 0.0M412.5 359.1l-1.8 -0.1M409.2 358.7l-1.8 -0.3M406.0 358.1l-1.7 -0.5M402.8 357.1l-1.7 -0.7M399.8 355.8l-1.6 -0.8M396.9 354.3l-1.5 -1.0M394.1 352.4l-1.4 -1.1M391.6 350.4l-1.3 -1.2M389.2 348.0l-1.2 -1.4M387.1 345.5l-1.0 -1.5M385.3 342.8l-0.9 -1.6M383.7 339.9l-0.7 -1.6M382.4 336.8l-0.6 -1.7M381.4 333.7l-0.4 -1.8M380.7 330.5l-0.2 -1.8M380.4 327.2l-0.1 -1.8M380.3 323.9l0.1 -1.8M380.6 320.6l0.3 -1.8M381.2 317.4l0.4 -1.7M382.0 314.2l0.6 -1.7M383.2 311.1l0.8 -1.6M384.7 308.2l0.9 -1.5M386.5 305.4l1.1 -1.4M388.5 302.8l1.2 -1.3M390.8 300.4l1.3 -1.2M403.5 289.4l1.7 -0.5M406.7 288.6l1.8 -0.3M410.0 288.1l1.8 -0.2M413.2 287.8l1.8 -0.0M416.5 287.9l1.8 0.1M419.8 288.2l1.8 0.3M423.0 288.8l1.7 0.5M426.2 289.7l1.7 0.6M429.3 290.9l1.6 0.8M432.2 292.3l1.6 0.9M435.1 294.0l1.5 1.0M437.7 296.0l1.4 1.2M440.2 298.2l1.3 1.3M442.5 300.5l1.1 1.4M444.5 303.1l1.0 1.5M446.3 305.9l0.9 1.6M447.9 308.8l0.7 1.6M449.2 311.8l0.6 1.7M450.2 314.9l0.4 1.7M451.0 318.1l0.3 1.8M451.4 321.4l0.1 1.8M451.6 324.7l-0.0 1.8M451.5 328.0l-0.2 1.8M451.1 331.2l-0.3 1.8M450.4 334.4l-0.5 1.7M449.4 337.6l-0.6 1.7M448.2 340.6l-0.8 1.6M446.7 343.6l-0.9 1.5M444.9 346.3l-1.1 1.4M442.9 348.9l-1.2 1.3M440.7 351.4l-1.3 1.2M438.2 353.6l-1.4 1.1M435.6 355.6l-1.5 1.0M432.8 357.3l-1.6 0.9M429.9 358.8l-1.7 0.7M426.8 360.1l-1.7 0.6M423.7 361.0l-1.8 0.4M420.5 361.7l-1.8 0.3M417.2 362.1l-1.8 0.1M413.9 362.2l-1.8 -0.1M410.6 362.0l-1.8 -0.2M407.4 361.5l-1.8 -0.4M404.2 360.8l-1.7 -0.5M401.0 359.7l-1.7 -0.7M398.0 358.4l-1.6 -0.8M395.1 356.8l-1.5 -1.0M392.4 355.0l-1.4 -1.1M389.8 352.9l-1.3 -1.2M387.5 350.7l-1.2 -1.3M385.3 348.2l-1.1 -1.4M383.4 345.5l-1.0 -1.5M381.7 342.7l-0.8 -1.6M380.2 339.7l-0.7 -1.7M379.1 336.7l-0.5 -1.7M378.2 333.5l-0.4 -1.8M377.6 330.3l-0.2 -1.8M377.2 327.0l-0.1 -1.8M377.2 323.7l0.1 -1.8M377.5 320.4l0.3 -1.8M378.0 317.2l0.4 -1.7M378.9 314.0l0.6 -1.7M380.0 310.9l0.7 -1.6M381.4 307.9l0.9 -1.6M383.0 305.0l1.0 -1.5M384.9 302.3l1.1 -1.4M387.0 299.8l1.2 -1.3M389.3 297.5l1.4 -1.2M391.9 295.4l1.5 -1.1M394.6 293.5l1.5 -0.9M397.4 291.9l1.6 -0.8M400.4 290.5l1.7 -0.6M417.4 284.8l1.8 0.2M420.7 285.2l1.8 0.3M423.9 285.8l1.7 0.5M427.1 286.7l1.7 0.6M430.2 287.9l1.6 0.7M433.1 289.3l1.6 0.9M436.0 291.0l1.5 1.0M438.7 292.8l1.4 1.1M441.2 294.9l1.3 1.2M443.6 297.2l1.2 1.3M445.8 299.7l1.1 1.4M447.7 302.3l1.0 1.5M449.5 305.1l0.9 1.6M451.0 308.0l0.7 1.6M452.2 311.1l0.6 1.7M453.2 314.2l0.4 1.7M454.0 317.4l0.3 1.8M454.5 320.6l0.2 1.8M454.7 323.9l0.0 1.8M454.6 327.2l-0.1 1.8M454.3 330.5l-0.3 1.8M453.8 333.7l-0.4 1.7M452.9 336.9l-0.6 1.7M451.8 340.0l-0.7 1.7M450.5 343.0l-0.8 1.6M448.9 345.9l-1.0 1.5M447.1 348.6l-1.1 1.4M445.0 351.2l-1.2 1.3M442.8 353.6l-1.3 1.2M440.4 355.8l-1.4 1.1M437.8 357.8l-1.5 1.0M435.0 359.6l-1.6 0.9M432.1 361.2l-1.6 0.8M429.1 362.5l-1.7 0.6M426.0 363.6l-1.7 0.5M422.8 364.4l-1.8 0.3M419.6 365.0l-1.8 0.2M416.3 365.3l-1.8 0.0M413.0 365.3l-1.8 -0.1M409.7 365.0l-1.8 -0.2M406.5 364.5l-1.8 -0.4M403.3 363.7l-1.7 -0.5M400.2 362.7l-1.7 -0.7M397.1 361.4l-1.6 -0.8M394.2 359.9l-1.5 -0.9M391.5 358.1l-1.5 -1.1M388.8 356.2l-1.4 -1.2M386.4 354.0l-1.3 -1.3M384.1 351.6l-1.2 -1.4M382.0 349.0l-1.0 -1.5M380.2 346.3l-0.9 -1.5M378.6 343.5l-0.8 -1.6M377.2 340.5l-0.7 -1.7M376.0 337.4l-0.5 -1.7M375.2 334.2l-0.4 -1.8M374.5 331.0l-0.2 -1.8M374.2 327.7l-0.1 -1.8M374.1 324.4l0.1 -1.8M374.3 321.1l0.2 -1.8M374.7 317.9l0.4 -1.8M375.4 314.7l0.5 -1.7M376.4 311.5l0.6 -1.7M377.6 308.5l0.8 -1.6M379.1 305.5l0.9 -1.6M380.8 302.7l1.0 -1.5M382.7 300.1l1.1 -1.4M384.9 297.6l1.3 -1.3M387.2 295.3l1.4 -1.2M389.7 293.1l1.4 -1.1M392.4 291.2l1.5 -0.9M395.2 289.5l1.6 -0.8M398.2 288.1l1.7 -0.7M401.2 286.9l1.7 -0.5M404.4 286.0l1.8 -0.4M407.6 285.3l1.8 -0.3M410.9 284.8l1.8 -0.1M414.1 284.7l1.8 0.0M433.2 285.9l1.6 0.8M436.1 287.4l1.5 0.9M438.8 289.1l1.5 1.0M441.5 291.1l1.4 1.2M444.0 293.2l1.3 1.3M446.3 295.6l1.2 1.3M448.4 298.1l1.1 1.4M450.4 300.7l1.0 1.5M452.1 303.5l0.9 1.6M453.6 306.4l0.7 1.6M454.9 309.4l0.6 1.7M456.0 312.5l0.5 1.7M456.8 315.7l0.3 1.8M457.4 319.0l0.2 1.8M457.7 322.2l0.1 1.8M457.8 325.5l-0.1 1.8M457.6 328.8l-0.2 1.8M457.2 332.0l-0.3 1.8M456.6 335.3l-0.5 1.7M455.7 338.4l-0.6 1.7M454.5 341.5l-0.7 1.7M453.2 344.5l-0.8 1.6M451.6 347.4l-1.0 1.5M449.8 350.1l-1.1 1.4M447.8 352.7l-1.2 1.4M445.6 355.2l-1.3 1.3M443.2 357.4l-1.4 1.2M440.7 359.5l-1.5 1.1M438.0 361.4l-1.5 0.9M435.2 363.1l-1.6 0.8M432.2 364.6l-1.7 0.7M429.2 365.8l-1.7 0.6M426.1 366.8l-1.7 0.4M422.9 367.6l-1.8 0.3M419.6 368.1l-1.8 0.2M416.4 368.4l-1.8 0.0M413.1 368.4l-1.8 -0.1M409.8 368.2l-1.8 -0.2M406.5 367.7l-1.8 -0.4M403.3 367.0l-1.7 -0.5M400.2 366.0l-1.7 -0.6M397.1 364.8l-1.6 -0.7M394.2 363.4l-1.6 -0.9M391.3 361.8l-1.5 -1.0M388.6 359.9l-1.4 -1.1M386.0 357.9l-1.3 -1.2M383.6 355.6l-1.2 -1.3M381.4 353.2l-1.1 -1.4M379.4 350.6l-1.0 -1.5M377.5 347.9l-0.9 -1.5M375.9 345.1l-0.8 -1.6M374.5 342.1l-0.7 -1.7M373.3 339.0l-0.5 -1.7M372.4 335.9l-0.4 -1.8M371.7 332.7l-0.3 -1.8M371.2 329.4l-0.1 -1.8M371.0 326.1l-0.0 -1.8M371.0 322.9l0.1 -1.8M371.3 319.6l0.3 -1.8M371.9 316.3l0.4 -1.8M372.6 313.1l0.5 -1.7M373.7 310.0l0.7 -1.7M374.9 307.0l0.8 -1.6M376.4 304.0l0.9 -1.6M378.1 301.2l1.0 -1.5M380.0 298.6l1.1 -1.4M382.1 296.0l1.2 -1.3M384.4 293.7l1.3 -1.2M386.8 291.5l1.4 -1.1M389.4 289.5l1.5 -1.0M392.2 287.7l1.6 -0.9M395.1 286.1l1.6 -0.8M398.1 284.8l1.7 -0.6M401.2 283.7l1.7 -0.5M404.3 282.8l1.8 -0.4M407.5 282.1l1.8 -0.2M410.8 281.7l1.8 -0.1M414.1 281.6l1.8 0.0M417.4 281.7l1.8 0.2M420.6 282.0l1.8 0.3M423.9 282.6l1.7 0.4M427.0 283.5l1.7 0.6M430.1 284.5l1.7 0.7M448.3 293.2l1.2 1.3M450.5 295.7l1.1 1.4M452.5 298.3l1.0 1.5M454.3 301.1l0.9 1.6M455.9 303.9l0.8 1.6M457.2 306.9l0.7 1.7M458.4 310.0l0.5 1.7M459.4 313.1l0.4 1.7M460.1 316.3l0.3 1.8M460.6 319.6l0.2 1.8M460.9 322.8l0.0 1.8M460.9 326.1l-0.1 1.8M460.7 329.4l-0.2 1.8M460.3 332.6l-0.3 1.8M459.6 335.9l-0.5 1.7M458.7 339.0l-0.6 1.7M457.6 342.1l-0.7 1.7M456.3 345.1l-0.8 1.6M454.8 348.0l-0.9 1.5M453.1 350.8l-1.0 1.5M451.2 353.5l-1.1 1.4M449.1 356.0l-1.2 1.3M446.8 358.4l-1.3 1.2M444.3 360.6l-1.4 1.1M441.8 362.6l-1.5 1.0M439.0 364.4l-1.5 0.9M436.2 366.1l-1.6 0.8M433.2 367.5l-1.7 0.7M430.2 368.7l-1.7 0.6M427.1 369.7l-1.7 0.5M423.9 370.5l-1.8 0.3M420.7 371.1l-1.8 0.2M417.4 371.4l-1.8 0.1M414.1 371.5l-1.8 -0.0M410.8 371.4l-1.8 -0.2M407.6 371.0l-1.8 -0.3M404.3 370.4l-1.7 -0.4M401.2 369.6l-1.7 -0.5M398.0 368.5l-1.7 -0.7M395.0 367.3l-1.6 -0.8M392.1 365.8l-1.6 -0.9M389.3 364.1l-1.5 -1.0M386.6 362.3l-1.4 -1.1M384.0 360.2l-1.3 -1.2M381.6 358.0l-1.3 -1.3M379.3 355.6l-1.2 -1.4M377.3 353.0l-1.1 -1.5M375.4 350.3l-1.0 -1.5M373.7 347.5l-0.8 -1.6M372.2 344.6l-0.7 -1.6M370.9 341.6l-0.6 -1.7M369.9 338.5l-0.5 -1.7M369.0 335.3l-0.4 -1.8M368.4 332.1l-0.2 -1.8M368.0 328.8l-0.1 -1.8M367.9 325.5l0.0 -1.8M368.0 322.2l0.1 -1.8M368.3 319.0l0.3 -1.8M368.8 315.7l0.4 -1.8M369.6 312.5l0.5 -1.7M370.6 309.4l0.6 -1.7M371.8 306.4l0.8 -1.6M373.2 303.4l0.9 -1.6M374.8 300.6l1.0 -1.5M376.7 297.8l1.1 -1.4M378.7 295.2l1.2 -1.4M380.9 292.8l1.3 -1.3M383.2 290.5l1.4 -1.2M385.7 288.4l1.4 -1.1M388.4 286.4l1.5 -1.0M391.2 284.7l1.6 -0.9M394.1 283.2l1.6 -0.8M397.1 281.8l1.7 -0.6M400.2 280.7l1.7 -0.5M403.3 279.8l1.8 -0.4M406.5 279.2l1.8 -0.3M409.8 278.7l1.8 -0.1M413.1 278.5l1.8 -0.0M416.3 278.5l1.8 0.1M419.6 278.8l1.8 0.2M422.9 279.3l1.8 0.4M426.1 280.0l1.7 0.5M429.2 280.9l1.7 0.6M432.3 282.1l1.6 0.7M435.3 283.4l1.6 0.8M438.1 285.0l1.5 0.9M440.9 286.8l1.5 1.1M443.5 288.8l1.4 1.2M446.0 290.9l1.3 1.2M460.4 306.5l0.6 1.7M461.6 309.7l0.5 1.7M462.5 312.8l0.4 1.8M463.2 316.1l0.3 1.8M463.7 319.4l0.2 1.8M464.0 322.7l0.1 1.8M464.0 326.0l-0.1 1.8M463.8 329.3l-0.2 1.8M463.4 332.6l-0.3 1.8M462.8 335.8l-0.4 1.7M462.0 339.0l-0.5 1.7M460.9 342.2l-0.7 1.7M459.7 345.3l-0.8 1.6M458.2 348.2l-0.9 1.6M456.6 351.1l-1.0 1.5M454.7 353.9l-1.1 1.4M452.7 356.5l-1.2 1.4M450.5 359.0l-1.3 1.3M448.2 361.3l-1.3 1.2M445.7 363.5l-1.4 1.1M443.0 365.5l-1.5 1.0M440.3 367.3l-1.6 0.9M437.4 369.0l-1.6 0.8M434.4 370.4l-1.7 0.7M431.3 371.6l-1.7 0.6M428.2 372.7l-1.7 0.5M424.9 373.5l-1.8 0.4M421.7 374.1l-1.8 0.2M418.4 374.4l-1.8 0.1M415.1 374.6l-1.8 -0.0M411.8 374.5l-1.8 -0.1M408.5 374.3l-1.8 -0.2M405.2 373.7l-1.8 -0.4M402.0 373.0l-1.7 -0.5M398.8 372.1l-1.7 -0.6M395.7 370.9l-1.7 -0.7M392.6 369.6l-1.6 -0.8M389.7 368.0l-1.5 -0.9M386.9 366.3l-1.5 -1.0M384.2 364.3l-1.4 -1.1M381.6 362.2l-1.3 -1.2M379.2 360.0l-1.2 -1.3M377.0 357.5l-1.2 -1.4M374.9 355.0l-1.1 -1.5M373.0 352.3l-1.0 -1.5M371.2 349.4l-0.9 -1.6M369.7 346.5l-0.8 -1.6M368.4 343.5l-0.6 -1.7M367.2 340.3l-0.5 -1.7M366.3 337.2l-0.4 -1.8M365.6 333.9l-0.3 -1.8M365.1 330.6l-0.2 -1.8M364.8 327.3l-0.1 -1.8M364.8 324.0l0.1 -1.8M365.0 320.7l0.2 -1.8M365.4 317.4l0.3 -1.8M366.0 314.2l0.4 -1.7M366.8 311.0l0.5 -1.7M367.9 307.8l0.7 -1.7M369.1 304.7l0.8 -1.6M370.6 301.8l0.9 -1.6M372.2 298.9l1.0 -1.5M374.1 296.1l1.1 -1.4M376.1 293.5l1.2 -1.4M378.3 291.0l1.3 -1.3M380.6 288.7l1.3 -1.2M383.1 286.5l1.4 -1.1M385.8 284.5l1.5 -1.0M388.5 282.7l1.6 -0.9M391.4 281.0l1.6 -0.8M394.4 279.6l1.7 -0.7M397.5 278.4l1.7 -0.6M400.6 277.3l1.7 -0.5M403.9 276.5l1.8 -0.4M407.1 275.9l1.8 -0.2M410.4 275.6l1.8 -0.1M413.7 275.4l1.8 0.0M417.0 275.5l1.8 0.1M420.3 275.7l1.8 0.2M423.6 276.3l1.8 0.4M426.8 277.0l1.7 0.5M430.0 277.9l1.7 0.6M433.1 279.1l1.7 0.7M436.2 280.4l1.6 0.8M439.1 282.0l1.5 0.9M441.9 283.7l1.5 1.0M444.6 285.7l1.4 1.1M447.2 287.8l1.3 1.2M449.6 290.0l1.2 1.3M451.8 292.5l1.2 1.4M453.9 295.0l1.1 1.5M455.8 297.7l1.0 1.5M457.6 300.6l0.9 1.6M459.1 303.5l0.8 1.6M467.1 324.5l-0.0 1.8M467.0 327.8l-0.1 1.8M466.8 331.1l-0.2 1.8M466.3 334.3l-0.3 1.8M465.6 337.6l-0.5 1.7M464.7 340.8l-0.6 1.7M463.6 343.9l-0.7 1.7M462.3 347.0l-0.8 1.6M460.8 349.9l-0.9 1.6M459.2 352.8l-1.0 1.5M457.4 355.5l-1.1 1.4M455.4 358.2l-1.2 1.4M453.2 360.7l-1.2 1.3M450.9 363.0l-1.3 1.2M448.4 365.3l-1.4 1.1M445.8 367.3l-1.5 1.0M443.1 369.2l-1.5 1.0M440.3 370.9l-1.6 0.9M437.3 372.5l-1.6 0.8M434.3 373.8l-1.7 0.7M431.2 375.0l-1.7 0.5M428.0 375.9l-1.7 0.4M424.8 376.7l-1.8 0.3M421.5 377.2l-1.8 0.2M418.2 377.6l-1.8 0.1M414.9 377.7l-1.8 -0.0M411.6 377.6l-1.8 -0.1M408.3 377.4l-1.8 -0.2M405.1 376.9l-1.8 -0.3M401.8 376.2l-1.7 -0.5M398.6 375.3l-1.7 -0.6M395.5 374.2l-1.7 -0.7M392.4 372.9l-1.6 -0.8M389.5 371.4l-1.6 -0.9M386.6 369.8l-1.5 -1.0M383.9 368.0l-1.4 -1.1M381.2 366.0l-1.4 -1.2M378.7 363.8l-1.3 -1.2M376.4 361.5l-1.2 -1.3M374.1 359.0l-1.1 -1.4M372.1 356.4l-1.0 -1.5M370.2 353.7l-1.0 -1.5M368.5 350.9l-0.9 -1.6M366.9 347.9l-0.8 -1.6M365.6 344.9l-0.7 -1.7M364.4 341.8l-0.5 -1.7M363.5 338.6l-0.4 -1.7M362.7 335.4l-0.3 -1.8M362.2 332.1l-0.2 -1.8M361.8 328.8l-0.1 -1.8M361.7 325.5l0.0 -1.8M361.8 322.2l0.1 -1.8M362.0 318.9l0.2 -1.8M362.5 315.7l0.3 -1.8M363.2 312.4l0.5 -1.7M364.1 309.2l0.6 -1.7M365.2 306.1l0.7 -1.7M366.5 303.0l0.8 -1.6M368.0 300.1l0.9 -1.6M369.6 297.2l1.0 -1.5M371.4 294.5l1.1 -1.4M373.4 291.8l1.2 -1.4M375.6 289.3l1.2 -1.3M377.9 287.0l1.3 -1.2M380.4 284.7l1.4 -1.1M383.0 282.7l1.5 -1.0M385.7 280.8l1.5 -1.0M388.5 279.1l1.6 -0.9M391.5 277.5l1.6 -0.8M394.5 276.2l1.7 -0.7M397.6 275.0l1.7 -0.5M400.8 274.1l1.7 -0.4M404.0 273.3l1.8 -0.3M407.3 272.8l1.8 -0.2M410.6 272.4l1.8 -0.1M413.9 272.3l1.8 0.0M417.2 272.4l1.8 0.1M420.5 272.6l1.8 0.2M423.7 273.1l1.8 0.3M427.0 273.8l1.7 0.5M430.2 274.7l1.7 0.6M433.3 275.8l1.7 0.7M436.4 277.1l1.6 0.8M439.3 278.6l1.6 0.9M442.2 280.2l1.5 1.0M444.9 282.0l1.4 1.1M447.6 284.0l1.4 1.2M450.1 286.2l1.3 1.2M452.4 288.5l1.2 1.3M454.7 291.0l1.1 1.4M456.7 293.6l1.0 1.5M458.6 296.3l1.0 1.5M460.3 299.1l0.9 1.6M461.9 302.1l0.8 1.6M463.2 305.1l0.7 1.7M464.4 308.2l0.5 1.7M465.3 311.4l0.4 1.7M466.1 314.6l0.3 1.8M466.6 317.9l0.2 1.8M467.0 321.2l0.1 1.8M466.6 344.7l-0.7 1.7M465.4 347.8l-0.8 1.6M463.9 350.7l-0.9 1.6M462.3 353.6l-0.9 1.5M460.5 356.4l-1.0 1.5M458.6 359.1l-1.1 1.4M456.5 361.6l-1.2 1.3M454.2 364.1l-1.3 1.3M451.9 366.4l-1.4 1.2M449.3 368.5l-1.4 1.1M446.7 370.5l-1.5 1.0M444.0 372.3l-1.5 0.9M441.1 374.0l-1.6 0.8M438.1 375.5l-1.6 0.7M435.1 376.8l-1.7 0.6M432.0 378.0l-1.7 0.5M428.8 378.9l-1.7 0.4M425.6 379.7l-1.8 0.3M422.4 380.2l-1.8 0.2M419.1 380.6l-1.8 0.1M415.8 380.8l-1.8 0.0M412.5 380.8l-1.8 -0.1M409.2 380.6l-1.8 -0.2M405.9 380.2l-1.8 -0.3M402.6 379.6l-1.8 -0.4M399.4 378.8l-1.7 -0.5M396.3 377.8l-1.7 -0.6M393.2 376.6l-1.7 -0.7M390.1 375.3l-1.6 -0.8M387.2 373.7l-1.6 -0.9M384.4 372.0l-1.5 -1.0M381.6 370.2l-1.4 -1.1M379.0 368.2l-1.4 -1.2M376.5 366.0l-1.3 -1.2M374.2 363.7l-1.2 -1.3M371.9 361.2l-1.1 -1.4M369.9 358.6l-1.1 -1.5M368.0 355.9l-1.0 -1.5M366.2 353.1l-0.9 -1.6M364.6 350.2l-0.8 -1.6M363.2 347.2l-0.7 -1.7M362.0 344.2l-0.6 -1.7M360.9 341.0l-0.5 -1.7M360.1 337.8l-0.4 -1.8M359.4 334.6l-0.3 -1.8M359.0 331.3l-0.2 -1.8M358.7 328.0l-0.1 -1.8M358.6 324.7l0.0 -1.8M358.7 321.4l0.1 -1.8M359.0 318.1l0.3 -1.8M359.5 314.9l0.4 -1.8M360.2 311.6l0.5 -1.7M361.1 308.4l0.6 -1.7M362.2 305.3l0.7 -1.7M363.4 302.2l0.8 -1.6M364.9 299.3l0.9 -1.6M366.5 296.4l0.9 -1.5M368.3 293.6l1.0 -1.5M370.2 290.9l1.1 -1.4M372.3 288.4l1.2 -1.3M374.6 285.9l1.3 -1.3M376.9 283.6l1.4 -1.2M379.5 281.5l1.4 -1.1M382.1 279.5l1.5 -1.0M384.8 277.7l1.5 -0.9M387.7 276.0l1.6 -0.8M390.7 274.5l1.6 -0.7M393.7 273.2l1.7 -0.6M396.8 272.0l1.7 -0.5M400.0 271.1l1.7 -0.4M403.2 270.3l1.8 -0.3M406.4 269.8l1.8 -0.2M409.7 269.4l1.8 -0.1M413.0 269.2l1.8 -0.0M416.3 269.2l1.8 0.1M419.6 269.4l1.8 0.2M422.9 269.8l1.8 0.3M426.2 270.4l1.8 0.4M429.4 271.2l1.7 0.5M432.5 272.2l1.7 0.6M435.6 273.4l1.7 0.7M438.7 274.7l1.6 0.8M441.6 276.3l1.6 0.9M444.4 278.0l1.5 1.0M447.2 279.8l1.4 1.1M449.8 281.8l1.4 1.2M452.3 284.0l1.3 1.2M454.6 286.3l1.2 1.3M456.9 288.8l1.1 1.4M458.9 291.4l1.1 1.5M460.8 294.1l1.0 1.5M462.6 296.9l0.9 1.6M464.2 299.8l0.8 1.6M465.6 302.8l0.7 1.7M466.8 305.8l0.6 1.7M467.9 309.0l0.5 1.7M468.7 312.2l0.4 1.8M469.4 315.4l0.3 1.8M469.8 318.7l0.2 1.8M470.1 322.0l0.1 1.8M470.2 325.3l-0.0 1.8M470.1 328.6l-0.1 1.8M469.8 331.9l-0.3 1.8M469.3 335.1l-0.4 1.8M468.6 338.4l-0.5 1.7M467.7 341.6l-0.6 1.7M458.2 364.4l-1.2 1.3M456.0 366.7l-1.3 1.3M453.6 369.0l-1.4 1.2M451.0 371.1l-1.4 1.1M448.4 373.1l-1.5 1.0M445.6 374.9l-1.5 0.9M442.8 376.6l-1.6 0.8M439.8 378.1l-1.6 0.8M436.8 379.5l-1.7 0.7M433.7 380.6l-1.7 0.6M430.6 381.6l-1.7 0.5M427.4 382.5l-1.8 0.4M424.1 383.1l-1.8 0.3M420.9 383.6l-1.8 0.2M417.6 383.8l-1.8 0.1M414.3 383.9l-1.8 -0.0M411.0 383.8l-1.8 -0.1M407.7 383.5l-1.8 -0.2M404.4 383.1l-1.8 -0.3M401.2 382.4l-1.7 -0.4M398.0 381.6l-1.7 -0.5M394.8 380.6l-1.7 -0.6M391.7 379.4l-1.7 -0.7M388.7 378.0l-1.6 -0.8M385.8 376.5l-1.6 -0.9M382.9 374.8l-1.5 -1.0M380.2 373.0l-1.4 -1.1M377.6 371.0l-1.4 -1.1M375.0 368.8l-1.3 -1.2M372.7 366.6l-1.3 -1.3M370.4 364.2l-1.2 -1.4M368.3 361.6l-1.1 -1.4M366.3 359.0l-1.0 -1.5M364.5 356.2l-0.9 -1.5M362.8 353.4l-0.8 -1.6M361.3 350.4l-0.8 -1.6M359.9 347.4l-0.7 -1.7M358.8 344.3l-0.6 -1.7M357.8 341.2l-0.5 -1.7M356.9 338.0l-0.4 -1.8M356.3 334.7l-0.3 -1.8M355.8 331.5l-0.2 -1.8M355.6 328.2l-0.1 -1.8M355.5 324.9l0.0 -1.8M355.6 321.6l0.1 -1.8M355.9 318.3l0.2 -1.8M356.3 315.0l0.3 -1.8M357.0 311.8l0.4 -1.7M357.8 308.6l0.5 -1.7M358.8 305.4l0.6 -1.7M360.0 302.3l0.7 -1.7M361.4 299.3l0.8 -1.6M362.9 296.4l0.9 -1.6M364.6 293.5l1.0 -1.5M366.4 290.8l1.1 -1.4M368.4 288.2l1.1 -1.4M370.6 285.6l1.2 -1.3M372.8 283.3l1.3 -1.3M375.2 281.0l1.4 -1.2M377.8 278.9l1.4 -1.1M380.4 276.9l1.5 -1.0M383.2 275.1l1.5 -0.9M386.0 273.4l1.6 -0.8M389.0 271.9l1.6 -0.8M392.0 270.5l1.7 -0.7M395.1 269.4l1.7 -0.6M398.2 268.4l1.7 -0.5M401.4 267.5l1.8 -0.4M404.7 266.9l1.8 -0.3M407.9 266.4l1.8 -0.2M411.2 266.2l1.8 -0.1M414.5 266.1l1.8 0.0M417.8 266.2l1.8 0.1M421.1 266.5l1.8 0.2M424.4 266.9l1.8 0.3M427.6 267.6l1.7 0.4M430.8 268.4l1.7 0.5M434.0 269.4l1.7 0.6M437.1 270.6l1.7 0.7M440.1 272.0l1.6 0.8M443.0 273.5l1.6 0.9M445.9 275.2l1.5 1.0M448.6 277.0l1.4 1.1M451.2 279.0l1.4 1.1M453.8 281.2l1.3 1.2M456.1 283.4l1.3 1.3M458.4 285.8l1.2 1.4M460.5 288.4l1.1 1.4M462.5 291.0l1.0 1.5M464.3 293.8l0.9 1.5M466.0 296.6l0.8 1.6M467.5 299.6l0.8 1.6M468.9 302.6l0.7 1.7M470.0 305.7l0.6 1.7M471.0 308.8l0.5 1.7M471.9 312.0l0.4 1.8M472.5 315.3l0.3 1.8M473.0 318.5l0.2 1.8M473.2 321.8l0.1 1.8M473.3 325.1l-0.0 1.8M473.2 328.4l-0.1 1.8M472.9 331.7l-0.2 1.8M472.5 335.0l-0.3 1.8M471.8 338.2l-0.4 1.7M471.0 341.4l-0.5 1.7M470.0 344.6l-0.6 1.7M468.8 347.7l-0.7 1.7M467.4 350.7l-0.8 1.6M465.9 353.6l-0.9 1.6M464.2 356.5l-1.0 1.5M462.4 359.2l-1.1 1.4M460.4 361.8l-1.1 1.4M442.4 380.3l-1.6 0.8M439.4 381.7l-1.7 0.7M436.4 383.0l-1.7 0.6M433.2 384.1l-1.7 0.5M430.1 385.0l-1.7 0.4M426.9 385.7l-1.8 0.3M423.6 386.3l-1.8 0.2M420.3 386.7l-1.8 0.1M417.0 387.0l-1.8 0.1M413.7 387.0l-1.8 -0.0M410.4 386.9l-1.8 -0.1M407.1 386.6l-1.8 -0.2M403.9 386.1l-1.8 -0.3M400.6 385.5l-1.7 -0.4M397.4 384.6l-1.7 -0.5M394.3 383.7l-1.7 -0.6M391.2 382.5l-1.7 -0.7M388.2 381.2l-1.6 -0.8M385.2 379.7l-1.6 -0.9M382.4 378.1l-1.5 -1.0M379.6 376.3l-1.5 -1.0M376.9 374.4l-1.4 -1.1M374.3 372.3l-1.4 -1.2M371.9 370.1l-1.3 -1.3M369.5 367.8l-1.2 -1.3M367.3 365.3l-1.2 -1.4M365.2 362.8l-1.1 -1.4M363.3 360.1l-1.0 -1.5M361.5 357.3l-0.9 -1.5M359.8 354.5l-0.8 -1.6M358.3 351.5l-0.7 -1.6M357.0 348.5l-0.7 -1.7M355.8 345.4l-0.6 -1.7M354.8 342.3l-0.5 -1.7M354.0 339.1l-0.4 -1.8M353.3 335.8l-0.3 -1.8M352.9 332.6l-0.2 -1.8M352.5 329.3l-0.1 -1.8M352.4 326.0l-0.0 -1.8M352.4 322.7l0.1 -1.8M352.6 319.4l0.2 -1.8M353.0 316.1l0.3 -1.8M353.6 312.9l0.4 -1.8M354.3 309.6l0.5 -1.7M355.2 306.5l0.6 -1.7M356.3 303.3l0.7 -1.7M357.5 300.3l0.7 -1.6M358.9 297.3l0.8 -1.6M360.5 294.4l0.9 -1.6M362.2 291.5l1.0 -1.5M364.0 288.8l1.1 -1.4M366.0 286.2l1.1 -1.4M368.2 283.7l1.2 -1.3M370.4 281.3l1.3 -1.3M372.8 279.0l1.4 -1.2M375.3 276.8l1.4 -1.1M378.0 274.8l1.5 -1.0M380.7 273.0l1.5 -1.0M383.5 271.2l1.6 -0.9M386.4 269.7l1.6 -0.8M389.4 268.3l1.7 -0.7M392.4 267.0l1.7 -0.6M395.6 265.9l1.7 -0.5M398.7 265.0l1.7 -0.4M401.9 264.3l1.8 -0.3M405.2 263.7l1.8 -0.2M408.5 263.3l1.8 -0.1M411.8 263.0l1.8 -0.1M415.1 263.0l1.8 0.0M418.4 263.1l1.8 0.1M421.7 263.4l1.8 0.2M424.9 263.9l1.8 0.3M428.2 264.5l1.7 0.4M431.4 265.4l1.7 0.5M434.5 266.3l1.7 0.6M437.6 267.5l1.7 0.7M440.6 268.8l1.6 0.8M443.6 270.3l1.6 0.9M446.4 271.9l1.5 1.0M449.2 273.7l1.5 1.0M451.9 275.6l1.4 1.1M454.5 277.7l1.4 1.2M456.9 279.9l1.3 1.3M459.3 282.2l1.2 1.3M461.5 284.7l1.2 1.4M463.6 287.2l1.1 1.4M465.5 289.9l1.0 1.5M467.3 292.7l0.9 1.5M469.0 295.5l0.8 1.6M470.5 298.5l0.7 1.6M471.8 301.5l0.7 1.7M473.0 304.6l0.6 1.7M474.0 307.7l0.5 1.7M474.8 310.9l0.4 1.8M475.5 314.2l0.3 1.8M475.9 317.4l0.2 1.8M476.3 320.7l0.1 1.8M476.4 324.0l0.0 1.8M476.4 327.3l-0.1 1.8M476.2 330.6l-0.2 1.8M475.8 333.9l-0.3 1.8M475.2 337.1l-0.4 1.8M474.5 340.4l-0.5 1.7M473.6 343.5l-0.6 1.7M472.5 346.7l-0.7 1.7M471.3 349.7l-0.7 1.6M469.9 352.7l-0.8 1.6M468.3 355.6l-0.9 1.6M466.6 358.5l-1.0 1.5M464.8 361.2l-1.1 1.4M462.8 363.8l-1.1 1.4M460.6 366.3l-1.2 1.3M458.4 368.7l-1.3 1.3M456.0 371.0l-1.4 1.2M453.5 373.2l-1.4 1.1M450.8 375.2l-1.5 1.0M448.1 377.0l-1.5 1.0M445.3 378.8l-1.6 0.9M420.8 389.8l-1.8 0.2M417.5 390.0l-1.8 0.1M414.2 390.1l-1.8 -0.0M410.9 390.0l-1.8 -0.1M407.6 389.7l-1.8 -0.2M404.3 389.3l-1.8 -0.3M401.1 388.7l-1.8 -0.4M397.9 388.0l-1.7 -0.5M394.7 387.1l-1.7 -0.6M391.6 386.0l-1.7 -0.7M388.5 384.7l-1.6 -0.7M385.5 383.4l-1.6 -0.8M382.6 381.8l-1.6 -0.9M379.8 380.1l-1.5 -1.0M377.0 378.3l-1.5 -1.1M374.4 376.3l-1.4 -1.1M371.8 374.2l-1.3 -1.2M369.4 372.0l-1.3 -1.3M367.1 369.7l-1.2 -1.3M364.9 367.2l-1.1 -1.4M362.8 364.7l-1.1 -1.4M360.8 362.0l-1.0 -1.5M359.0 359.2l-0.9 -1.5M357.4 356.4l-0.8 -1.6M355.8 353.5l-0.8 -1.6M354.5 350.5l-0.7 -1.7M353.3 347.4l-0.6 -1.7M352.2 344.3l-0.5 -1.7M351.3 341.1l-0.4 -1.8M350.6 337.9l-0.3 -1.8M350.0 334.6l-0.2 -1.8M349.6 331.4l-0.2 -1.8M349.4 328.1l-0.1 -1.8M349.3 324.8l0.0 -1.8M349.4 321.5l0.1 -1.8M349.7 318.2l0.2 -1.8M350.1 314.9l0.3 -1.8M350.7 311.7l0.4 -1.8M351.4 308.5l0.5 -1.7M352.3 305.3l0.6 -1.7M353.4 302.2l0.7 -1.7M354.7 299.1l0.7 -1.6M356.0 296.1l0.8 -1.6M357.6 293.2l0.9 -1.6M359.3 290.4l1.0 -1.5M361.1 287.6l1.1 -1.5M363.1 285.0l1.1 -1.4M365.2 282.4l1.2 -1.3M367.4 280.0l1.3 -1.3M369.7 277.7l1.3 -1.2M372.2 275.5l1.4 -1.1M374.7 273.4l1.4 -1.1M377.4 271.4l1.5 -1.0M380.2 269.6l1.5 -0.9M383.0 268.0l1.6 -0.8M385.9 266.4l1.6 -0.8M388.9 265.1l1.7 -0.7M392.0 263.9l1.7 -0.6M395.1 262.8l1.7 -0.5M398.3 261.9l1.8 -0.4M401.5 261.2l1.8 -0.3M404.8 260.6l1.8 -0.2M408.0 260.2l1.8 -0.2M411.3 260.0l1.8 -0.1M414.6 259.9l1.8 0.0M417.9 260.0l1.8 0.1M421.2 260.3l1.8 0.2M424.5 260.7l1.8 0.3M427.7 261.3l1.8 0.4M430.9 262.0l1.7 0.5M434.1 262.9l1.7 0.6M437.2 264.0l1.7 0.7M440.3 265.3l1.6 0.7M443.3 266.6l1.6 0.8M446.2 268.2l1.6 0.9M449.0 269.9l1.5 1.0M451.8 271.7l1.5 1.1M454.4 273.7l1.4 1.1M457.0 275.8l1.3 1.2M459.4 278.0l1.3 1.3M461.7 280.3l1.2 1.3M463.9 282.8l1.1 1.4M466.0 285.3l1.1 1.4M468.0 288.0l1.0 1.5M469.8 290.8l0.9 1.5M471.4 293.6l0.8 1.6M473.0 296.5l0.8 1.6M474.3 299.5l0.7 1.7M475.5 302.6l0.6 1.7M476.6 305.7l0.5 1.7M477.5 308.9l0.4 1.8M478.2 312.1l0.3 1.8M478.8 315.4l0.2 1.8M479.2 318.6l0.2 1.8M479.4 321.9l0.1 1.8M479.5 325.2l-0.0 1.8M479.4 328.5l-0.1 1.8M479.1 331.8l-0.2 1.8M478.7 335.1l-0.3 1.8M478.1 338.3l-0.4 1.8M477.4 341.5l-0.5 1.7M476.5 344.7l-0.6 1.7M475.4 347.8l-0.7 1.7M474.1 350.9l-0.7 1.6M472.8 353.9l-0.8 1.6M471.2 356.8l-0.9 1.6M469.5 359.6l-1.0 1.5M467.7 362.4l-1.1 1.5M465.7 365.0l-1.1 1.4M463.6 367.6l-1.2 1.3M461.4 370.0l-1.3 1.3M459.1 372.3l-1.3 1.2M456.6 374.5l-1.4 1.1M454.1 376.6l-1.4 1.1M451.4 378.6l-1.5 1.0M448.6 380.4l-1.5 0.9M445.8 382.0l-1.6 0.8M442.9 383.6l-1.6 0.8M439.9 384.9l-1.7 0.7M436.8 386.1l-1.7 0.6M433.7 387.2l-1.7 0.5M430.5 388.1l-1.8 0.4M427.3 388.8l-1.8 0.3M424.0 389.4l-1.8 0.2M396.0 390.7l-1.7 -0.5M392.9 389.7l-1.7 -0.6M389.8 388.6l-1.7 -0.7M386.7 387.3l-1.6 -0.8M383.7 385.9l-1.6 -0.8M380.8 384.4l-1.6 -0.9M378.0 382.7l-1.5 -1.0M375.3 380.9l-1.5 -1.1M372.6 378.9l-1.4 -1.1M370.1 376.8l-1.4 -1.2M367.6 374.6l-1.3 -1.3M365.3 372.3l-1.2 -1.3M363.0 369.9l-1.2 -1.4M360.9 367.3l-1.1 -1.4M358.9 364.7l-1.0 -1.5M357.1 362.0l-1.0 -1.5M355.4 359.2l-0.9 -1.6M353.8 356.3l-0.8 -1.6M352.3 353.3l-0.7 -1.6M351.1 350.3l-0.6 -1.7M349.9 347.2l-0.6 -1.7M348.9 344.0l-0.5 -1.7M348.1 340.9l-0.4 -1.8M347.4 337.6l-0.3 -1.8M346.8 334.4l-0.2 -1.8M346.5 331.1l-0.1 -1.8M346.3 327.8l-0.1 -1.8M346.2 324.5l0.0 -1.8M346.3 321.2l0.1 -1.8M346.6 317.9l0.2 -1.8M347.0 314.7l0.3 -1.8M347.6 311.4l0.4 -1.8M348.3 308.2l0.5 -1.7M349.2 305.0l0.5 -1.7M350.2 301.9l0.6 -1.7M351.4 298.8l0.7 -1.7M352.7 295.8l0.8 -1.6M354.2 292.9l0.9 -1.6M355.9 290.0l0.9 -1.5M357.6 287.2l1.0 -1.5M359.5 284.5l1.1 -1.4M361.5 281.9l1.2 -1.4M363.7 279.4l1.2 -1.3M365.9 277.0l1.3 -1.3M368.3 274.7l1.3 -1.2M370.8 272.6l1.4 -1.1M373.4 270.5l1.5 -1.1M376.0 268.6l1.5 -1.0M378.8 266.8l1.5 -0.9M381.7 265.2l1.6 -0.8M384.6 263.6l1.6 -0.8M387.6 262.3l1.7 -0.7M390.7 261.1l1.7 -0.6M393.8 260.0l1.7 -0.5M396.9 259.1l1.7 -0.4M400.1 258.3l1.8 -0.4M403.4 257.7l1.8 -0.3M406.7 257.2l1.8 -0.2M409.9 256.9l1.8 -0.1M413.2 256.8l1.8 -0.0M416.5 256.8l1.8 0.1M419.8 257.0l1.8 0.2M423.1 257.4l1.8 0.3M426.4 257.8l1.8 0.3M429.6 258.5l1.7 0.4M432.8 259.3l1.7 0.5M435.9 260.3l1.7 0.6M439.0 261.4l1.7 0.7M442.1 262.7l1.6 0.8M445.1 264.1l1.6 0.8M448.0 265.6l1.6 0.9M450.8 267.3l1.5 1.0M453.5 269.1l1.5 1.1M456.2 271.1l1.4 1.1M458.7 273.2l1.4 1.2M461.2 275.4l1.3 1.3M463.5 277.7l1.2 1.3M465.8 280.1l1.2 1.4M467.9 282.7l1.1 1.4M469.9 285.3l1.0 1.5M471.7 288.0l1.0 1.5M473.4 290.8l0.9 1.6M475.0 293.7l0.8 1.6M476.5 296.7l0.7 1.6M477.7 299.7l0.6 1.7M478.9 302.8l0.6 1.7M479.9 306.0l0.5 1.7M480.7 309.1l0.4 1.8M481.4 312.4l0.3 1.8M482.0 315.6l0.2 1.8M482.3 318.9l0.1 1.8M482.5 322.2l0.1 1.8M482.6 325.5l-0.0 1.8M482.5 328.8l-0.1 1.8M482.2 332.1l-0.2 1.8M481.8 335.3l-0.3 1.8M481.2 338.6l-0.4 1.8M480.5 341.8l-0.5 1.7M479.6 345.0l-0.5 1.7M478.6 348.1l-0.6 1.7M477.4 351.2l-0.7 1.7M476.1 354.2l-0.8 1.6M474.6 357.1l-0.9 1.6M472.9 360.0l-0.9 1.5M471.2 362.8l-1.0 1.5M469.3 365.5l-1.1 1.4M467.3 368.1l-1.2 1.4M465.1 370.6l-1.2 1.3M462.9 373.0l-1.3 1.3M460.5 375.3l-1.3 1.2M458.0 377.4l-1.4 1.1M455.4 379.5l-1.5 1.1M452.8 381.4l-1.5 1.0M450.0 383.2l-1.5 0.9M447.1 384.8l-1.6 0.8M444.2 386.4l-1.6 0.8M441.2 387.7l-1.7 0.7M438.1 388.9l-1.7 0.6M435.0 390.0l-1.7 0.5M431.9 390.9l-1.7 0.4M428.7 391.7l-1.8 0.4M425.4 392.3l-1.8 0.3M422.1 392.8l-1.8 0.2M418.9 393.1l-1.8 0.1M415.6 393.2l-1.8 0.0M412.3 393.2l-1.8 -0.1M409.0 393.0l-1.8 -0.2M405.7 392.6l-1.8 -0.3M402.4 392.2l-1.8 -0.3M399.2 391.5l-1.7 -0.4M371.6 382.0l-1.4 -1.1M369.0 380.0l-1.4 -1.2M366.5 377.9l-1.3 -1.2M364.2 375.6l-1.3 -1.3M361.9 373.2l-1.2 -1.3M359.7 370.7l-1.1 -1.4M357.6 368.2l-1.1 -1.4M355.7 365.5l-1.0 -1.5M353.9 362.7l-0.9 -1.5M352.2 359.9l-0.9 -1.6M350.7 357.0l-0.8 -1.6M349.3 354.0l-0.7 -1.7M348.0 351.0l-0.6 -1.7M346.9 347.9l-0.6 -1.7M345.9 344.7l-0.5 -1.7M345.0 341.6l-0.4 -1.8M344.4 338.3l-0.3 -1.8M343.8 335.1l-0.2 -1.8M343.4 331.8l-0.1 -1.8M343.2 328.5l-0.1 -1.8M343.1 325.2l0.0 -1.8M343.2 321.9l0.1 -1.8M343.4 318.7l0.2 -1.8M343.7 315.4l0.3 -1.8M344.3 312.1l0.3 -1.8M344.9 308.9l0.4 -1.7M345.8 305.7l0.5 -1.7M346.7 302.6l0.6 -1.7M347.8 299.5l0.7 -1.7M349.1 296.4l0.7 -1.6M350.5 293.4l0.8 -1.6M352.0 290.5l0.9 -1.6M353.6 287.7l1.0 -1.5M355.4 284.9l1.0 -1.5M357.4 282.2l1.1 -1.4M359.4 279.6l1.2 -1.4M361.5 277.1l1.2 -1.3M363.8 274.8l1.3 -1.3M366.2 272.5l1.3 -1.2M368.7 270.3l1.4 -1.1M371.2 268.2l1.4 -1.1M373.9 266.3l1.5 -1.0M376.7 264.5l1.5 -0.9M379.5 262.8l1.6 -0.9M382.4 261.3l1.6 -0.8M385.4 259.9l1.7 -0.7M388.4 258.6l1.7 -0.6M391.5 257.5l1.7 -0.6M394.7 256.5l1.7 -0.5M397.8 255.6l1.8 -0.4M401.1 255.0l1.8 -0.3M404.3 254.4l1.8 -0.2M407.6 254.0l1.8 -0.1M410.9 253.8l1.8 -0.1M414.2 253.7l1.8 0.0M417.5 253.8l1.8 0.1M420.7 254.0l1.8 0.2M424.0 254.3l1.8 0.3M427.3 254.9l1.8 0.3M430.5 255.5l1.7 0.4M433.7 256.4l1.7 0.5M436.8 257.3l1.7 0.6M439.9 258.4l1.7 0.7M443.0 259.7l1.6 0.7M446.0 261.1l1.6 0.8M448.9 262.6l1.6 0.9M451.7 264.2l1.5 1.0M454.5 266.0l1.5 1.0M457.2 268.0l1.4 1.1M459.8 270.0l1.4 1.2M462.3 272.1l1.3 1.2M464.6 274.4l1.3 1.3M466.9 276.8l1.2 1.3M469.1 279.3l1.1 1.4M471.2 281.8l1.1 1.4M473.1 284.5l1.0 1.5M474.9 287.3l0.9 1.5M476.6 290.1l0.9 1.6M478.1 293.0l0.8 1.6M479.5 296.0l0.7 1.7M480.8 299.0l0.6 1.7M481.9 302.1l0.6 1.7M482.9 305.3l0.5 1.7M483.8 308.4l0.4 1.8M484.4 311.7l0.3 1.8M485.0 314.9l0.2 1.8M485.4 318.2l0.1 1.8M485.6 321.5l0.1 1.8M485.7 324.8l-0.0 1.8M485.6 328.1l-0.1 1.8M485.4 331.3l-0.2 1.8M485.1 334.6l-0.3 1.8M484.5 337.9l-0.3 1.8M483.9 341.1l-0.4 1.7M483.0 344.3l-0.5 1.7M482.1 347.4l-0.6 1.7M481.0 350.5l-0.7 1.7M479.7 353.6l-0.7 1.6M478.3 356.6l-0.8 1.6M476.8 359.5l-0.9 1.6M475.2 362.3l-1.0 1.5M473.4 365.1l-1.0 1.5M471.4 367.8l-1.1 1.4M469.4 370.4l-1.2 1.4M467.3 372.9l-1.2 1.3M465.0 375.2l-1.3 1.3M462.6 377.5l-1.3 1.2M460.1 379.7l-1.4 1.1M457.6 381.8l-1.4 1.1M454.9 383.7l-1.5 1.0M452.1 385.5l-1.5 0.9M449.3 387.2l-1.6 0.9M446.4 388.7l-1.6 0.8M443.4 390.1l-1.7 0.7M440.4 391.4l-1.7 0.6M437.3 392.5l-1.7 0.6M434.1 393.5l-1.7 0.5M431.0 394.4l-1.8 0.4M427.7 395.0l-1.8 0.3M424.5 395.6l-1.8 0.2M421.2 396.0l-1.8 0.1M417.9 396.2l-1.8 0.1M414.6 396.3l-1.8 -0.0M411.3 396.2l-1.8 -0.1M408.1 396.0l-1.8 -0.2M404.8 395.7l-1.8 -0.3M401.5 395.1l-1.8 -0.3M398.3 394.5l-1.7 -0.4M395.1 393.6l-1.7 -0.5M392.0 392.7l-1.7 -0.6M388.9 391.6l-1.7 -0.7M385.8 390.3l-1.6 -0.7M382.8 388.9l-1.6 -0.8M379.9 387.4l-1.6 -0.9M377.1 385.8l-1.5 -1.0M374.3 384.0l-1.5 -1.0M351.2 364.3l-0.9 -1.5M349.6 361.5l-0.9 -1.6M348.0 358.6l-0.8 -1.6M346.6 355.6l-0.7 -1.6M345.3 352.6l-0.6 -1.7M344.1 349.5l-0.6 -1.7M343.1 346.4l-0.5 -1.7M342.3 343.2l-0.4 -1.8M341.5 340.0l-0.3 -1.8M340.9 336.8l-0.3 -1.8M340.5 333.5l-0.2 -1.8M340.2 330.2l-0.1 -1.8M340.0 326.9l-0.0 -1.8M340.0 323.6l0.1 -1.8M340.1 320.3l0.1 -1.8M340.4 317.1l0.2 -1.8M340.8 313.8l0.3 -1.8M341.4 310.6l0.4 -1.8M342.1 307.3l0.4 -1.7M343.0 304.2l0.5 -1.7M344.0 301.0l0.6 -1.7M345.1 297.9l0.7 -1.7M346.4 294.9l0.7 -1.6M347.8 291.9l0.8 -1.6M349.3 289.0l0.9 -1.6M350.9 286.2l1.0 -1.5M352.7 283.4l1.0 -1.5M354.6 280.7l1.1 -1.4M356.6 278.1l1.2 -1.4M358.8 275.6l1.2 -1.3M361.0 273.2l1.3 -1.3M363.4 270.9l1.3 -1.2M365.8 268.7l1.4 -1.2M368.3 266.6l1.4 -1.1M371.0 264.6l1.5 -1.0M373.7 262.7l1.5 -1.0M376.5 261.0l1.6 -0.9M379.3 259.4l1.6 -0.8M382.3 257.9l1.6 -0.8M385.3 256.5l1.7 -0.7M388.3 255.3l1.7 -0.6M391.5 254.2l1.7 -0.5M394.6 253.3l1.7 -0.5M397.8 252.5l1.8 -0.4M401.0 251.8l1.8 -0.3M404.3 251.3l1.8 -0.2M407.5 250.9l1.8 -0.1M410.8 250.7l1.8 -0.1M414.1 250.6l1.8 0.0M417.4 250.7l1.8 0.1M420.7 250.9l1.8 0.2M424.0 251.2l1.8 0.3M427.2 251.7l1.8 0.3M430.5 252.3l1.8 0.4M433.7 253.1l1.7 0.5M436.8 254.1l1.7 0.6M439.9 255.1l1.7 0.6M443.0 256.3l1.7 0.7M446.0 257.6l1.6 0.8M449.0 259.1l1.6 0.9M451.8 260.7l1.5 0.9M454.6 262.4l1.5 1.0M457.4 264.3l1.5 1.1M460.0 266.2l1.4 1.1M462.6 268.3l1.4 1.2M465.0 270.5l1.3 1.2M467.4 272.8l1.2 1.3M469.7 275.2l1.2 1.4M471.8 277.7l1.1 1.4M473.8 280.2l1.1 1.5M475.8 282.9l1.0 1.5M477.6 285.7l0.9 1.5M479.2 288.5l0.9 1.6M480.8 291.4l0.8 1.6M482.2 294.4l0.7 1.6M483.5 297.4l0.6 1.7M484.7 300.5l0.6 1.7M485.7 303.6l0.5 1.7M486.5 306.8l0.4 1.8M487.3 310.0l0.3 1.8M487.9 313.2l0.3 1.8M488.3 316.5l0.2 1.8M488.6 319.8l0.1 1.8M488.8 323.1l0.0 1.8M488.8 326.4l-0.1 1.8M488.7 329.7l-0.1 1.8M488.4 332.9l-0.2 1.8M488.0 336.2l-0.3 1.8M487.4 339.4l-0.4 1.8M486.7 342.7l-0.4 1.7M485.8 345.8l-0.5 1.7M484.8 349.0l-0.6 1.7M483.7 352.1l-0.7 1.7M482.4 355.1l-0.7 1.6M481.0 358.1l-0.8 1.6M479.5 361.0l-0.9 1.6M477.9 363.8l-1.0 1.5M476.1 366.6l-1.0 1.5M474.2 369.3l-1.1 1.4M472.2 371.9l-1.2 1.4M470.0 374.4l-1.2 1.3M467.8 376.8l-1.3 1.3M465.4 379.1l-1.3 1.2M463.0 381.3l-1.4 1.2M460.5 383.4l-1.4 1.1M457.8 385.4l-1.5 1.0M455.1 387.3l-1.5 1.0M452.3 389.0l-1.6 0.9M449.5 390.6l-1.6 0.8M446.5 392.1l-1.6 0.8M443.5 393.5l-1.7 0.7M440.5 394.7l-1.7 0.6M437.3 395.8l-1.7 0.5M434.2 396.7l-1.7 0.5M431.0 397.5l-1.8 0.4M427.8 398.2l-1.8 0.3M424.5 398.7l-1.8 0.2M421.3 399.1l-1.8 0.1M418.0 399.3l-1.8 0.1M414.7 399.4l-1.8 -0.0M411.4 399.3l-1.8 -0.1M408.1 399.1l-1.8 -0.2M404.8 398.8l-1.8 -0.3M401.6 398.3l-1.8 -0.3M398.3 397.7l-1.8 -0.4M395.1 396.9l-1.7 -0.5M392.0 395.9l-1.7 -0.6M388.9 394.9l-1.7 -0.6M385.8 393.7l-1.7 -0.7M382.8 392.4l-1.6 -0.8M379.8 390.9l-1.6 -0.9M377.0 389.3l-1.5 -0.9M374.2 387.6l-1.5 -1.0M371.4 385.7l-1.5 -1.1M368.8 383.8l-1.4 -1.1M366.2 381.7l-1.4 -1.2M363.8 379.5l-1.3 -1.2M361.4 377.2l-1.2 -1.3M359.1 374.8l-1.2 -1.4M357.0 372.3l-1.1 -1.4M355.0 369.8l-1.1 -1.5M353.0 367.1l-1.0 -1.5M338.2 339.4l-0.3 -1.8M337.7 336.1l-0.2 -1.8M337.3 332.9l-0.2 -1.8M337.0 329.6l-0.1 -1.8M336.9 326.3l-0.0 -1.8M336.9 323.0l0.1 -1.8M337.1 319.7l0.1 -1.8M337.4 316.4l0.2 -1.8M337.8 313.2l0.3 -1.8M338.4 309.9l0.4 -1.8M339.1 306.7l0.4 -1.7M339.9 303.5l0.5 -1.7M340.9 300.4l0.6 -1.7M342.0 297.3l0.7 -1.7M343.3 294.3l0.7 -1.6M344.6 291.3l0.8 -1.6M346.1 288.3l0.9 -1.6M347.7 285.5l0.9 -1.5M349.5 282.7l1.0 -1.5M351.3 280.0l1.1 -1.5M353.3 277.3l1.1 -1.4M355.4 274.8l1.2 -1.4M357.6 272.3l1.2 -1.3M359.9 269.9l1.3 -1.3M362.2 267.7l1.3 -1.2M364.7 265.5l1.4 -1.1M367.3 263.5l1.4 -1.1M369.9 261.5l1.5 -1.0M372.7 259.7l1.5 -1.0M375.5 258.0l1.6 -0.9M378.4 256.4l1.6 -0.8M381.3 254.9l1.6 -0.7M384.3 253.6l1.7 -0.7M387.4 252.4l1.7 -0.6M390.5 251.3l1.7 -0.5M393.6 250.3l1.7 -0.5M396.8 249.5l1.8 -0.4M400.0 248.8l1.8 -0.3M403.3 248.3l1.8 -0.2M406.5 247.9l1.8 -0.2M409.8 247.6l1.8 -0.1M413.1 247.5l1.8 -0.0M416.4 247.5l1.8 0.1M419.7 247.7l1.8 0.1M423.0 248.0l1.8 0.2M426.2 248.4l1.8 0.3M429.5 249.0l1.8 0.4M432.7 249.7l1.7 0.4M435.9 250.5l1.7 0.5M439.0 251.5l1.7 0.6M442.1 252.6l1.7 0.7M445.1 253.9l1.6 0.7M448.1 255.2l1.6 0.8M451.1 256.7l1.6 0.9M453.9 258.3l1.5 0.9M456.7 260.1l1.5 1.0M459.4 261.9l1.5 1.1M462.1 263.9l1.4 1.1M464.6 266.0l1.4 1.2M467.1 268.2l1.3 1.2M469.5 270.5l1.3 1.3M471.7 272.8l1.2 1.3M473.9 275.3l1.1 1.4M475.9 277.9l1.1 1.4M477.9 280.5l1.0 1.5M479.7 283.3l1.0 1.5M481.4 286.1l0.9 1.6M483.0 289.0l0.8 1.6M484.5 291.9l0.7 1.6M485.8 294.9l0.7 1.7M487.0 298.0l0.6 1.7M488.1 301.1l0.5 1.7M489.1 304.2l0.5 1.7M489.9 307.4l0.4 1.8M490.6 310.6l0.3 1.8M491.1 313.9l0.2 1.8M491.5 317.1l0.2 1.8M491.8 320.4l0.1 1.8M491.9 323.7l0.0 1.8M491.9 327.0l-0.1 1.8M491.7 330.3l-0.1 1.8M491.4 333.6l-0.2 1.8M491.0 336.8l-0.3 1.8M490.4 340.1l-0.4 1.8M489.7 343.3l-0.4 1.7M488.9 346.5l-0.5 1.7M487.9 349.6l-0.6 1.7M486.8 352.7l-0.7 1.7M485.5 355.7l-0.7 1.6M484.2 358.7l-0.8 1.6M482.7 361.7l-0.9 1.6M481.1 364.5l-0.9 1.5M479.3 367.3l-1.0 1.5M477.5 370.0l-1.1 1.5M475.5 372.7l-1.1 1.4M473.4 375.2l-1.2 1.4M471.2 377.7l-1.2 1.3M468.9 380.1l-1.3 1.3M466.6 382.3l-1.3 1.2M464.1 384.5l-1.4 1.1M461.5 386.5l-1.4 1.1M458.9 388.5l-1.5 1.0M456.1 390.3l-1.5 1.0M453.3 392.0l-1.6 0.9M450.4 393.6l-1.6 0.8M447.5 395.1l-1.6 0.7M444.5 396.4l-1.7 0.7M441.4 397.6l-1.7 0.6M438.3 398.7l-1.7 0.5M435.2 399.7l-1.7 0.5M432.0 400.5l-1.8 0.4M428.8 401.2l-1.8 0.3M425.5 401.7l-1.8 0.2M422.3 402.1l-1.8 0.2M419.0 402.4l-1.8 0.1M415.7 402.5l-1.8 0.0M412.4 402.5l-1.8 -0.1M409.1 402.3l-1.8 -0.1M405.8 402.0l-1.8 -0.2M402.6 401.6l-1.8 -0.3M399.3 401.0l-1.8 -0.4M396.1 400.3l-1.7 -0.4M392.9 399.5l-1.7 -0.5M389.8 398.5l-1.7 -0.6M386.7 397.4l-1.7 -0.7M383.7 396.1l-1.6 -0.7M380.7 394.8l-1.6 -0.8M377.7 393.3l-1.6 -0.9M374.9 391.7l-1.5 -0.9M372.1 389.9l-1.5 -1.0M369.4 388.1l-1.5 -1.1M366.7 386.1l-1.4 -1.1M364.2 384.0l-1.4 -1.2M361.7 381.8l-1.3 -1.2M359.3 379.5l-1.3 -1.3M357.1 377.2l-1.2 -1.3M354.9 374.7l-1.1 -1.4M352.9 372.1l-1.1 -1.4M350.9 369.5l-1.0 -1.5M349.1 366.7l-1.0 -1.5M347.4 363.9l-0.9 -1.6M345.8 361.0l-0.8 -1.6M344.3 358.1l-0.7 -1.6M343.0 355.1l-0.7 -1.7M341.8 352.0l-0.6 -1.7M340.7 348.9l-0.5 -1.7M339.7 345.8l-0.5 -1.7M338.9 342.6l-0.4 -1.8" stroke="#000" stroke-opacity="0.6" stroke-width="0.75" fill="none"/>
<path d="M390.2 330.4l-0.3 -1.8M389.7 327.1l-0.1 -1.8M389.6 323.8l0.2 -1.8M390.0 320.5l0.4 -1.8M390.8 317.3l0.6 -1.7M392.1 314.2l0.8 -1.6M393.7 311.3l1.0 -1.5M395.7 308.7l1.2 -1.3M398.1 306.3l1.4 -1.1M400.7 304.3l1.5 -0.9M403.6 302.7l1.6 -0.7M406.6 301.4l1.7 -0.5M409.8 300.6l1.8 -0.3M413.1 300.2l1.8 -0.0M416.5 300.3l1.8 0.2M419.7 300.8l1.7 0.5M422.9 301.7l1.7 0.7M425.9 303.0l1.6 0.9M428.8 304.8l1.4 1.1M431.3 306.9l1.3 1.3M433.6 309.3l1.1 1.4M435.5 312.0l0.9 1.6M437.1 314.9l0.7 1.7M438.2 318.0l0.4 1.7M438.9 321.3l0.2 1.8M439.2 324.6l-0.0 1.8M439.0 327.9l-0.3 1.8M438.4 331.1l-0.5 1.7M437.4 334.3l-0.7 1.6M436.0 337.3l-0.9 1.5M434.1 340.0l-1.1 1.4M432.0 342.5l-1.3 1.2M429.5 344.7l-1.5 1.0M426.7 346.6l-1.6 0.8M423.7 348.0l-1.7 0.6M420.6 349.0l-1.8 0.4M417.3 349.6l-1.8 0.1M414.0 349.8l-1.8 -0.1M410.7 349.5l-1.8 -0.3M407.5 348.8l-1.7 -0.6M404.3 347.7l-1.6 -0.8M401.4 346.1l-1.5 -1.0M398.7 344.2l-1.4 -1.2M396.3 342.0l-1.2 -1.4M394.2 339.4l-1.0 -1.5M392.4 336.6l-0.8 -1.6M391.1 333.5l-0.6 -1.7M335.2 310.2l0.3 -1.8M335.8 307.0l0.4 -1.7M336.6 303.8l0.5 -1.7M337.6 300.6l0.6 -1.7M338.6 297.5l0.6 -1.7M339.8 294.4l0.7 -1.7M341.1 291.4l0.8 -1.6M342.6 288.4l0.8 -1.6M344.2 285.5l0.9 -1.6M345.8 282.6l1.0 -1.5M347.6 279.8l1.0 -1.5M349.5 277.1l1.1 -1.4M351.6 274.5l1.1 -1.4M353.7 272.0l1.2 -1.3M355.9 269.5l1.3 -1.3M358.2 267.2l1.3 -1.2M360.7 264.9l1.4 -1.2M363.2 262.8l1.4 -1.1M365.8 260.7l1.4 -1.1M368.5 258.8l1.5 -1.0M371.2 256.9l1.5 -0.9M374.0 255.2l1.6 -0.9M376.9 253.6l1.6 -0.8M379.9 252.1l1.6 -0.8M382.9 250.8l1.7 -0.7M386.0 249.6l1.7 -0.6M389.1 248.5l1.7 -0.5M392.3 247.5l1.7 -0.5M395.5 246.6l1.8 -0.4M398.7 245.9l1.8 -0.3M402.0 245.4l1.8 -0.3M405.3 244.9l1.8 -0.2M408.6 244.6l1.8 -0.1M411.9 244.4l1.8 -0.0M415.2 244.4l1.8 0.0M418.5 244.5l1.8 0.1M421.8 244.7l1.8 0.2M425.1 245.1l1.8 0.3M428.3 245.6l1.8 0.3M431.6 246.2l1.8 0.4M434.8 247.0l1.7 0.5M438.0 247.9l1.7 0.5M441.1 249.0l1.7 0.6M444.2 250.1l1.7 0.7M447.3 251.4l1.6 0.8M450.3 252.8l1.6 0.8M453.2 254.4l1.6 0.9M456.1 256.0l1.5 0.9M458.9 257.8l1.5 1.0M461.6 259.7l1.4 1.1M464.2 261.6l1.4 1.1M466.8 263.7l1.4 1.2M469.3 266.0l1.3 1.2M471.6 268.3l1.3 1.3M473.9 270.7l1.2 1.3M476.1 273.1l1.1 1.4M478.2 275.7l1.1 1.4M480.2 278.4l1.0 1.5M482.0 281.1l1.0 1.5M483.8 283.9l0.9 1.6M485.4 286.8l0.8 1.6M486.9 289.8l0.8 1.6M488.3 292.8l0.7 1.7M489.5 295.8l0.6 1.7M490.7 298.9l0.6 1.7M491.7 302.1l0.5 1.7M492.6 305.3l0.4 1.8M493.3 308.5l0.3 1.8M493.9 311.8l0.3 1.8M494.4 315.0l0.2 1.8M494.7 318.3l0.1 1.8M494.9 321.6l0.1 1.8M495.0 324.9l-0.0 1.8M494.9 328.2l-0.1 1.8M494.7 331.6l-0.2 1.8M494.4 334.8l-0.2 1.8M493.9 338.1l-0.3 1.8M493.3 341.4l-0.4 1.8M492.6 344.6l-0.5 1.7M491.7 347.8l-0.5 1.7M490.7 351.0l-0.6 1.7M489.6 354.1l-0.7 1.7M488.3 357.1l-0.7 1.6M486.9 360.1l-0.8 1.6M485.4 363.1l-0.9 1.6M483.8 366.0l-0.9 1.5M482.1 368.8l-1.0 1.5M480.2 371.5l-1.1 1.5M478.3 374.2l-1.1 1.4M476.2 376.8l-1.2 1.4M474.0 379.3l-1.2 1.3M471.7 381.7l-1.3 1.3M469.4 384.0l-1.3 1.2M466.9 386.2l-1.4 1.2M464.3 388.3l-1.4 1.1M461.7 390.3l-1.5 1.0M459.0 392.2l-1.5 1.0M456.2 393.9l-1.5 0.9M453.3 395.6l-1.6 0.9M450.4 397.1l-1.6 0.8M447.4 398.5l-1.7 0.7M444.3 399.8l-1.7 0.6M441.2 401.0l-1.7 0.6M438.1 402.0l-1.7 0.5M434.9 402.9l-1.7 0.4M431.7 403.7l-1.8 0.4M428.5 404.4l-1.8 0.3M425.2 404.9l-1.8 0.2M421.9 405.3l-1.8 0.1M418.6 405.5l-1.8 0.1M415.3 405.6l-1.8 -0.0M412.0 405.6l-1.8 -0.1M408.7 405.4l-1.8 -0.1M405.4 405.1l-1.8 -0.2M402.1 404.7l-1.8 -0.3M398.8 404.1l-1.8 -0.4M395.6 403.4l-1.7 -0.4M392.4 402.5l-1.7 -0.5M389.2 401.6l-1.7 -0.6M386.1 400.5l-1.7 -0.7M383.0 399.3l-1.7 -0.7M380.0 397.9l-1.6 -0.8M377.1 396.4l-1.6 -0.9M374.1 394.8l-1.5 -0.9M371.3 393.1l-1.5 -1.0M368.6 391.3l-1.5 -1.0M365.9 389.4l-1.4 -1.1M363.3 387.3l-1.4 -1.2M360.8 385.2l-1.3 -1.2M358.3 382.9l-1.3 -1.3M356.0 380.6l-1.2 -1.3M353.8 378.1l-1.2 -1.4M351.6 375.6l-1.1 -1.4M349.6 373.0l-1.1 -1.5M347.7 370.3l-1.0 -1.5M345.9 367.5l-0.9 -1.5M344.2 364.6l-0.9 -1.6M342.6 361.7l-0.8 -1.6M341.2 358.7l-0.7 -1.6M339.9 355.7l-0.7 -1.7M338.7 352.6l-0.6 -1.7M337.6 349.5l-0.5 -1.7M336.7 346.3l-0.5 -1.7M335.9 343.1l-0.4 -1.8M335.2 339.9l-0.3 -1.8M334.6 336.6l-0.2 -1.8M334.2 333.3l-0.2 -1.8M334.0 330.0l-0.1 -1.8M333.8 326.7l-0.0 -1.8M333.8 323.4l0.1 -1.8M333.9 320.1l0.1 -1.8M334.2 316.8l0.2 -1.8M334.6 313.5l0.3 -1.8M343.2 280.9l1.0 -1.5M345.0 278.2l1.0 -1.5M346.9 275.4l1.1 -1.4M348.9 272.8l1.1 -1.4M351.1 270.3l1.2 -1.3M353.3 267.8l1.2 -1.3M355.6 265.4l1.3 -1.3M358.0 263.2l1.3 -1.2M360.5 261.0l1.4 -1.1M363.0 258.9l1.4 -1.1M365.7 256.9l1.5 -1.0M368.4 255.1l1.5 -1.0M371.2 253.3l1.6 -0.9M374.1 251.6l1.6 -0.9M377.0 250.1l1.6 -0.8M380.0 248.7l1.6 -0.7M383.0 247.4l1.7 -0.7M386.1 246.2l1.7 -0.6M389.3 245.2l1.7 -0.5M392.4 244.2l1.7 -0.5M395.6 243.4l1.8 -0.4M398.9 242.7l1.8 -0.3M402.1 242.2l1.8 -0.2M405.4 241.8l1.8 -0.2M408.7 241.5l1.8 -0.1M412.0 241.3l1.8 -0.0M415.3 241.3l1.8 0.0M418.6 241.4l1.8 0.1M421.9 241.6l1.8 0.2M425.2 242.0l1.8 0.3M428.5 242.5l1.8 0.3M431.7 243.1l1.8 0.4M435.0 243.9l1.7 0.5M438.2 244.7l1.7 0.5M441.3 245.7l1.7 0.6M444.4 246.9l1.7 0.7M447.5 248.1l1.6 0.7M450.5 249.5l1.6 0.8M453.4 251.0l1.6 0.9M456.3 252.6l1.5 0.9M459.2 254.3l1.5 1.0M461.9 256.1l1.5 1.0M464.6 258.0l1.4 1.1M467.2 260.1l1.4 1.2M469.7 262.2l1.3 1.2M472.2 264.4l1.3 1.3M474.5 266.8l1.2 1.3M476.8 269.2l1.2 1.4M478.9 271.7l1.1 1.4M481.0 274.3l1.1 1.4M482.9 277.0l1.0 1.5M484.8 279.7l1.0 1.5M486.5 282.5l0.9 1.6M488.1 285.4l0.8 1.6M489.7 288.3l0.8 1.6M491.0 291.4l0.7 1.7M492.3 294.4l0.6 1.7M493.5 297.5l0.6 1.7M494.5 300.7l0.5 1.7M495.4 303.8l0.4 1.7M496.2 307.1l0.4 1.8M496.8 310.3l0.3 1.8M497.3 313.6l0.2 1.8M497.7 316.8l0.2 1.8M498.0 320.1l0.1 1.8M498.1 323.4l0.0 1.8M498.1 326.8l-0.1 1.8M498.0 330.1l-0.1 1.8M497.7 333.4l-0.2 1.8M497.3 336.6l-0.3 1.8M496.8 339.9l-0.3 1.8M496.1 343.2l-0.4 1.8M495.3 346.4l-0.5 1.7M494.4 349.5l-0.5 1.7M493.4 352.7l-0.6 1.7M492.2 355.8l-0.7 1.7M491.0 358.8l-0.7 1.6M489.6 361.8l-0.8 1.6M488.0 364.8l-0.9 1.6M486.4 367.7l-0.9 1.5M484.7 370.5l-1.0 1.5M482.8 373.2l-1.1 1.5M480.9 375.9l-1.1 1.4M478.8 378.5l-1.2 1.4M476.6 381.0l-1.2 1.3M474.4 383.4l-1.3 1.3M472.0 385.7l-1.3 1.2M469.6 387.9l-1.4 1.2M467.1 390.1l-1.4 1.1M464.4 392.1l-1.5 1.1M461.8 394.0l-1.5 1.0M459.0 395.8l-1.5 0.9M456.2 397.5l-1.6 0.9M453.3 399.1l-1.6 0.8M450.3 400.6l-1.6 0.8M447.3 402.0l-1.7 0.7M444.2 403.2l-1.7 0.6M441.1 404.3l-1.7 0.6M438.0 405.3l-1.7 0.5M434.8 406.2l-1.8 0.4M431.5 406.9l-1.8 0.3M428.3 407.5l-1.8 0.3M425.0 408.0l-1.8 0.2M421.7 408.4l-1.8 0.1M418.4 408.6l-1.8 0.1M415.1 408.7l-1.8 -0.0M411.8 408.7l-1.8 -0.1M408.5 408.5l-1.8 -0.1M405.2 408.2l-1.8 -0.2M401.9 407.8l-1.8 -0.3M398.7 407.2l-1.8 -0.4M395.4 406.5l-1.7 -0.4M392.2 405.7l-1.7 -0.5M389.1 404.8l-1.7 -0.6M385.9 403.7l-1.7 -0.6M382.8 402.5l-1.7 -0.7M379.8 401.2l-1.6 -0.8M376.8 399.8l-1.6 -0.8M373.9 398.3l-1.6 -0.9M371.0 396.6l-1.5 -0.9M368.2 394.8l-1.5 -1.0M365.5 392.9l-1.4 -1.1M362.9 391.0l-1.4 -1.1M360.3 388.9l-1.4 -1.2M357.8 386.7l-1.3 -1.2M355.4 384.4l-1.3 -1.3M353.1 382.0l-1.2 -1.3M350.9 379.6l-1.2 -1.4M348.8 377.0l-1.1 -1.4M346.8 374.4l-1.0 -1.5M344.9 371.7l-1.0 -1.5M343.1 368.9l-0.9 -1.5M341.4 366.0l-0.9 -1.6M339.9 363.1l-0.8 -1.6M338.4 360.2l-0.7 -1.6M337.1 357.1l-0.7 -1.7M335.9 354.0l-0.6 -1.7M334.8 350.9l-0.5 -1.7M333.8 347.8l-0.5 -1.7M333.0 344.6l-0.4 -1.8M332.3 341.3l-0.3 -1.8M331.7 338.1l-0.3 -1.8M331.3 334.8l-0.2 -1.8M330.9 331.5l-0.1 -1.8M330.8 328.2l-0.0 -1.8M330.7 324.9l0.0 -1.8M330.8 321.6l0.1 -1.8M331.0 318.3l0.2 -1.8M331.3 315.0l0.2 -1.8M331.8 311.7l0.3 -1.8M332.3 308.5l0.4 -1.8M333.1 305.2l0.4 -1.7M333.9 302.0l0.5 -1.7M334.9 298.9l0.6 -1.7M336.0 295.8l0.6 -1.7M337.2 292.7l0.7 -1.7M338.5 289.7l0.8 -1.6M340.0 286.7l0.8 -1.6M341.6 283.8l0.9 -1.6" stroke="#000" stroke-opacity="0.3" stroke-width="0.7" fill="none"/>

</g></g>
<path d="M334.9 425.5v-4.5M361.2 425.5v-4.5M387.5 425.5v-4.5M413.8 425.5v-4.5M440.1 425.5v-4.5M466.4 425.5v-4.5M492.7 425.5v-4.5M519.0 425.5v-4.5M311.0 403.1h4.5M311.0 377.1h4.5M311.0 351.0h4.5M311.0 325.0h4.5M311.0 299.0h4.5M311.0 272.9h4.5M311.0 246.9h4.5" stroke="#101040" stroke-width="0.7" fill="none"/>
<path d="M313.9 425.5v-2.2M319.1 425.5v-2.2M324.4 425.5v-2.2M329.6 425.5v-2.2M340.2 425.5v-2.2M345.4 425.5v-2.2M350.7 425.5v-2.2M355.9 425.5v-2.2M366.5 425.5v-2.2M371.7 425.5v-2.2M377.0 425.5v-2.2M382.2 425.5v-2.2M392.8 425.5v-2.2M398.0 425.5v-2.2M403.3 425.5v-2.2M408.5 425.5v-2.2M419.1 425.5v-2.2M424.3 425.5v-2.2M429.6 425.5v-2.2M434.8 425.5v-2.2M445.4 425.5v-2.2M450.6 425.5v-2.2M455.9 425.5v-2.2M461.1 425.5v-2.2M471.7 425.5v-2.2M476.9 425.5v-2.2M482.2 425.5v-2.2M487.4 425.5v-2.2M498.0 425.5v-2.2M503.2 425.5v-2.2M508.5 425.5v-2.2M513.7 425.5v-2.2M311.0 423.9h2.2M311.0 418.7h2.2M311.0 413.5h2.2M311.0 408.3h2.2M311.0 397.9h2.2M311.0 392.7h2.2M311.0 387.5h2.2M311.0 382.3h2.2M311.0 371.9h2.2M311.0 366.6h2.2M311.0 361.4h2.2M311.0 356.2h2.2M311.0 345.8h2.2M311.0 340.6h2.2M311.0 335.4h2.2M311.0 330.2h2.2M311.0 319.8h2.2M311.0 314.6h2.2M311.0 309.4h2.2M311.0 304.2h2.2M311.0 293.8h2.2M311.0 288.6h2.2M311.0 283.4h2.2M311.0 278.1h2.2M311.0 267.7h2.2M311.0 262.5h2.2M311.0 257.3h2.2M311.0 252.1h2.2M311.0 241.7h2.2M311.0 236.5h2.2" stroke="#101040" stroke-width="0.6" stroke-opacity="0.45" fill="none"/>
<g class="tl"><text x="308.3" y="249.6" text-anchor="end">0.015</text><text x="308.3" y="275.6" text-anchor="end">0.01</text><text x="308.3" y="301.7" text-anchor="end">0.005</text><text x="308.3" y="327.7" text-anchor="end">0</text><text x="308.3" y="353.7" text-anchor="end">−0.005</text><text x="308.3" y="379.8" text-anchor="end">−0.01</text><text x="308.3" y="405.8" text-anchor="end">−0.015</text><text x="334.9" y="433.3" text-anchor="middle">−0.015</text><text x="361.2" y="433.3" text-anchor="middle">−0.01</text><text x="387.5" y="433.3" text-anchor="middle">−0.005</text><text x="413.8" y="433.3" text-anchor="middle">0</text><text x="440.1" y="433.3" text-anchor="middle">0.005</text><text x="466.4" y="433.3" text-anchor="middle">0.01</text><text x="492.7" y="433.3" text-anchor="middle">0.015</text><text x="519.0" y="433.3" text-anchor="middle">0.02</text></g>
<text class="ax" x="416.5" y="442.1" text-anchor="middle">y/L</text>
<text class="ax" transform="translate(295.0 329.5) rotate(-90)" text-anchor="middle">z/L</text>
<text class="cap" x="415.8" y="456.5" text-anchor="middle">(c)</text>
<path d="M526.8 236.1h10.5" stroke="#a0a0a0" stroke-width="0.6"/>
<path d="M538.3 236.1l-2 -1v2z" fill="#a0a0a0"/>
<text class="lg" x="526.6" y="246.4">0.3</text>
<text class="uu" x="536.6" y="258.5" text-anchor="middle">u/U</text>
<rect x="513.0" y="262.6" width="9.2" height="5.0" fill="#ff0000"/><rect x="513.0" y="266.6" width="9.2" height="8.5" fill="#ff1a00"/><rect x="513.0" y="274.1" width="9.2" height="8.5" fill="#ff4c00"/><rect x="513.0" y="281.6" width="9.2" height="8.5" fill="#ff8000"/><rect x="513.0" y="289.1" width="9.2" height="8.5" fill="#ffb300"/><rect x="513.0" y="296.6" width="9.2" height="8.5" fill="#ffe500"/><rect x="513.0" y="304.1" width="9.2" height="8.5" fill="#e5ff00"/><rect x="513.0" y="311.6" width="9.2" height="8.5" fill="#b3ff00"/><rect x="513.0" y="319.1" width="9.2" height="8.5" fill="#80ff00"/><rect x="513.0" y="326.6" width="9.2" height="8.5" fill="#4cff00"/><rect x="513.0" y="334.1" width="9.2" height="8.5" fill="#1aff00"/><rect x="513.0" y="341.6" width="9.2" height="8.5" fill="#00ff1a"/><rect x="513.0" y="349.1" width="9.2" height="8.5" fill="#00ff4c"/><rect x="513.0" y="356.6" width="9.2" height="8.5" fill="#00ff80"/><rect x="513.0" y="364.1" width="9.2" height="8.5" fill="#00ffb2"/><rect x="513.0" y="371.6" width="9.2" height="8.5" fill="#00ffe5"/><rect x="513.0" y="379.1" width="9.2" height="8.5" fill="#00e6ff"/><rect x="513.0" y="386.6" width="9.2" height="8.5" fill="#00b2ff"/><rect x="513.0" y="394.1" width="9.2" height="8.5" fill="#0080ff"/><rect x="513.0" y="401.6" width="9.2" height="8.5" fill="#004cff"/><rect x="513.0" y="409.1" width="9.2" height="8.5" fill="#001aff"/><rect x="513.0" y="416.6" width="9.2" height="3.8" fill="#0000ff"/>
<g class="cl"><text x="527.7" y="269.4">1.25</text><text x="527.7" y="276.9">1.2375</text><text x="527.7" y="284.4">1.225</text><text x="527.7" y="291.9">1.2125</text><text x="527.7" y="299.4">1.2</text><text x="527.7" y="306.9">1.1875</text><text x="527.7" y="314.4">1.175</text><text x="527.7" y="321.9">1.1625</text><text x="527.7" y="329.4">1.15</text><text x="527.7" y="336.9">1.1375</text><text x="527.7" y="344.4">1.125</text><text x="527.7" y="351.9">1.1125</text><text x="527.7" y="359.4">1.1</text><text x="527.7" y="366.9">1.0875</text><text x="527.7" y="374.4">1.075</text><text x="527.7" y="381.9">1.0625</text><text x="527.7" y="389.4">1.05</text><text x="527.7" y="396.9">1.0375</text><text x="527.7" y="404.4">1.025</text><text x="527.7" y="411.9">1.0125</text><text x="527.7" y="419.4">1</text></g>
</svg>
</body></html>
